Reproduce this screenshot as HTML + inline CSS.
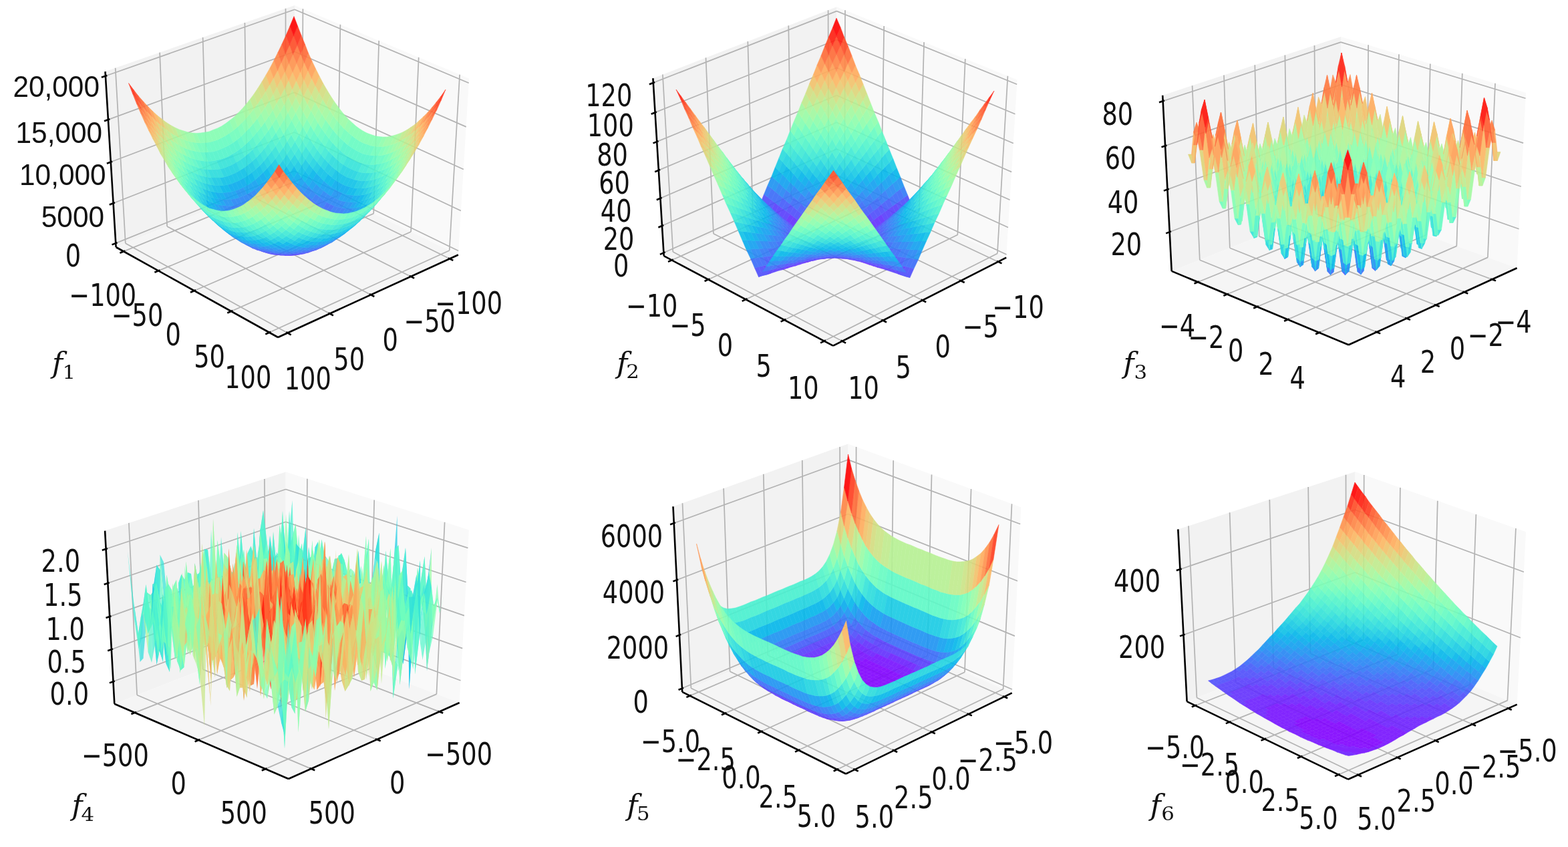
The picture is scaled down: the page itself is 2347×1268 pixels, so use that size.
<!DOCTYPE html><html><head><meta charset="utf-8"><style>
html,body{margin:0;padding:0;background:#fff}
svg{display:block}
.d{font-family:"DejaVu Sans","Liberation Sans",sans-serif;font-size:46.5px;text-anchor:middle;fill:#111}
.l{font-family:"Liberation Sans","DejaVu Sans",sans-serif;font-size:43.7px;text-anchor:middle;fill:#111}
.fi{font-family:"DejaVu Serif","Liberation Serif",serif;font-style:italic;font-size:43.4px;fill:#111}
.fs{font-family:"DejaVu Serif","Liberation Serif",serif;font-size:28.0px;text-anchor:middle;fill:#111}
.s path{stroke-width:1.1;stroke-linejoin:round}
.c0{fill:#8000ff;stroke:#8000ff}.c1{fill:#7610ff;stroke:#7610ff}.c2{fill:#6c1fff;stroke:#6c1fff}.c3{fill:#622ffe;stroke:#622ffe}.c4{fill:#583efd;stroke:#583efd}.c5{fill:#4e4dfc;stroke:#4e4dfc}.c6{fill:#445cfb;stroke:#445cfb}.c7{fill:#396bf9;stroke:#396bf9}.c8{fill:#3079f7;stroke:#3079f7}.c9{fill:#2686f5;stroke:#2686f5}.c10{fill:#1c93f3;stroke:#1c93f3}.c11{fill:#11a0f1;stroke:#11a0f1}.c12{fill:#08acee;stroke:#08acee}.c13{fill:#02b7eb;stroke:#02b7eb}.c14{fill:#0dc2e8;stroke:#0dc2e8}.c15{fill:#17cbe4;stroke:#17cbe4}.c16{fill:#20d5e1;stroke:#20d5e1}.c17{fill:#2adddd;stroke:#2adddd}.c18{fill:#34e4d9;stroke:#34e4d9}.c19{fill:#3febd5;stroke:#3febd5}.c20{fill:#48f1d0;stroke:#48f1d0}.c21{fill:#52f5cb;stroke:#52f5cb}.c22{fill:#5df9c7;stroke:#5df9c7}.c23{fill:#66fcc2;stroke:#66fcc2}.c24{fill:#70febc;stroke:#70febc}.c25{fill:#7affb7;stroke:#7affb7}.c26{fill:#84ffb2;stroke:#84ffb2}.c27{fill:#8efeac;stroke:#8efeac}.c28{fill:#99fca6;stroke:#99fca6}.c29{fill:#a2f9a0;stroke:#a2f9a0}.c30{fill:#acf59a;stroke:#acf59a}.c31{fill:#b6f193;stroke:#b6f193}.c32{fill:#c0eb8d;stroke:#c0eb8d}.c33{fill:#cbe486;stroke:#cbe486}.c34{fill:#d4dd80;stroke:#d4dd80}.c35{fill:#ded579;stroke:#ded579}.c36{fill:#e8cb72;stroke:#e8cb72}.c37{fill:#f2c26b;stroke:#f2c26b}.c38{fill:#fcb763;stroke:#fcb763}.c39{fill:#ffac5c;stroke:#ffac5c}.c40{fill:#ffa055;stroke:#ffa055}.c41{fill:#ff934d;stroke:#ff934d}.c42{fill:#ff8646;stroke:#ff8646}.c43{fill:#ff793e;stroke:#ff793e}.c44{fill:#ff6b37;stroke:#ff6b37}.c45{fill:#ff5c2f;stroke:#ff5c2f}.c46{fill:#ff4d27;stroke:#ff4d27}.c47{fill:#ff3e1f;stroke:#ff3e1f}.c48{fill:#ff2f18;stroke:#ff2f18}.c49{fill:#ff1f10;stroke:#ff1f10}.c50{fill:#ff1008;stroke:#ff1008}.c51{fill:#ff0000;stroke:#ff0000}
</style></head><body><svg width="2347" height="1268" viewBox="0 0 2347 1268" xmlns="http://www.w3.org/2000/svg">
<g id="p1"><path d="M440.4 261.7L173.6 370.0L157.5 107.1L441.0 8.0Z" fill="#f2f2f2"/>
<path d="M440.4 261.7L685.9 381.5L702.1 117.6L441.0 8.0Z" fill="#f9f9f9"/>
<path d="M440.4 261.7L173.6 370.0L416.1 505.0L685.9 381.5Z" fill="#f5f5f5"/>
<path d="M427.6 266.9L673.0 387.3M427.6 266.9L427.5 12.7M452.0 267.4L185.1 376.4M452.0 267.4L453.4 13.2M370.0 290.3L614.9 414.0M370.0 290.3L366.4 34.1M504.9 293.1L237.1 405.4M504.9 293.1L509.4 36.7M310.8 314.3L555.1 441.3M310.8 314.3L303.6 56.0M559.2 319.7L290.7 435.2M559.2 319.7L567.2 60.9M250.1 338.9L493.7 469.5M250.1 338.9L239.1 78.6M615.1 347.0L346.0 466.0M615.1 347.0L626.7 85.9M187.8 364.2L430.5 498.4M187.8 364.2L172.7 101.8M672.7 375.0L403.0 497.7M672.7 375.0L688.1 111.7M440.4 256.0L173.2 364.1M440.4 256.0L686.2 375.6M440.5 198.0L169.6 304.2M440.5 198.0L689.9 315.4M440.7 138.4L165.8 242.5M440.7 138.4L693.8 253.6M440.8 77.2L161.9 179.1M440.8 77.2L697.7 189.9M441.0 14.3L157.9 113.7M441.0 14.3L701.7 124.2" stroke="#b3b3b3" stroke-width="1.70" fill="none"/>
<path d="M173.6 370.0L416.1 505.0M685.9 381.5L416.1 505.0M173.6 370.0L157.5 107.1M187.3 375.5L179.4 378.7M670.9 386.3L678.3 389.9M239.4 404.4L231.4 407.8M612.8 412.9L620.1 416.6M293.0 434.3L285.0 437.7M553.0 440.2L560.3 444.0M348.3 465.0L340.3 468.5M491.6 468.3L498.9 472.3M405.3 496.7L397.3 500.4M428.4 497.2L435.7 501.3M167.5 366.4L175.5 363.2M163.8 306.5L171.9 303.3M159.9 244.8L168.1 241.7M156.0 181.2L164.3 178.2M151.9 115.8L160.3 112.9" stroke="#000" stroke-width="2.60" fill="none" stroke-linejoin="round"/>
<text class=l transform="translate(84.2 130.3) scale(0.970 1)" y="15.0">20,000</text>
<text class=l transform="translate(88.3 199.3) scale(0.970 1)" y="15.0">15,000</text>
<text class=l transform="translate(93.8 261.7) scale(0.970 1)" y="15.0">10,000</text>
<text class=l transform="translate(108.9 324.5) scale(0.970 1)" y="15.0">5000</text>
<text class=d transform="translate(109.4 381.9) scale(0.790 1)" y="16.9">0</text>
<text class=d transform="translate(153.8 440.9) scale(0.790 1)" y="16.9">−100</text>
<text class=d transform="translate(205.6 470.8) scale(0.790 1)" y="16.9">−50</text>
<text class=d transform="translate(259.2 500.4) scale(0.790 1)" y="16.9">0</text>
<text class=d transform="translate(313.5 532.7) scale(0.790 1)" y="16.9">50</text>
<text class=d transform="translate(371.2 564.5) scale(0.790 1)" y="16.9">100</text>
<text class=d transform="translate(460.7 566.1) scale(0.790 1)" y="16.9">100</text>
<text class=d transform="translate(522.7 536.8) scale(0.790 1)" y="16.9">50</text>
<text class=d transform="translate(584.2 508.2) scale(0.790 1)" y="16.9">0</text>
<text class=d transform="translate(643.2 479.9) scale(0.790 1)" y="16.9">−50</text>
<text class=d transform="translate(701.6 452.7) scale(0.790 1)" y="16.9">−100</text>
<text class=fi x="78.1" y="557.9">f</text>
<text class=fs transform="translate(103.4 566.6) scale(1.1 1)">1</text>
<g class="s" opacity="0.90" transform="scale(0.50)"><path class=c13 d="M858 498l-12 16 11 18 12-16z"/><path class=c12 d="M869 516l-12 16 11 17 12-17z"/><path class=c15 d="M870 480l-12 18 11 18 12-18zM847 479l-12 16 11 19 12-16z"/><path class=c13 d="M881 498l-12 18 11 16 11-17z"/><path class=c14 d="M835 495l-12 15 11 19 12-15z"/><path class=c16 d="M859 461l-12 18 11 19 12-18z"/><path class=c11 d="M880 532l-12 17 10 15 12-16z"/><path class=c16 d="M882 462l-12 18 11 18 12-18z"/><path class=c17 d="M836 458l-12 17 11 20 12-16z"/><path class=c12 d="M891 515l-11 17 10 16 12-18z"/><path class=c15 d="M893 480l-12 18 10 17 12-19z"/><path class=c13 d="M823 510l-12 14 11 19 12-14z"/><path class=c18 d="M871 443l-12 18 11 19 12-18z"/><path class=c15 d="M824 475l-12 15 11 20 12-15z"/><path class=c18 d="M848 441l-12 17 11 21 12-18z"/><path class=c14 d="M903 496l-12 19 11 15 12-18zM812 490l-12 13 11 21 12-14z"/><path class=c19 d="M860 422l-12 19 11 20 12-18z"/><path class=c10 d="M890 548l-12 16 11 14 12-16z"/><path class=c18 d="M894 442l-12 20 11 18 11-20zM825 437l-12 16 11 22 12-17z"/><path class=c11 d="M902 530l-12 18 11 14 12-17z"/><path class=c17 d="M904 460l-11 20 10 16 12-19z"/><path class=c12 d="M811 524l-12 12 11 19 12-12z"/><path class=c19 d="M883 423l-12 20 11 19 12-20z"/><path class=c17 d="M813 453l-12 15 11 22 12-15z"/><path class=c20 d="M837 419l-12 18 11 21 12-17z"/><path class=c13 d="M914 512l-12 18 11 15 12-19z"/><path class=c15 d="M915 477l-12 19 11 16 12-20z"/><path class=c13 d="M800 503l-12 13 11 20 12-12z"/><path class=c16 d="M801 468l-11 14 10 21 12-13z"/><path class=c21 d="M872 403l-12 19 11 21 12-20zM849 401l-12 18 11 22 12-19z"/><path class=c9 d="M901 562l-12 16 11 13 12-16z"/><path class=c20 d="M906 421l-12 21 10 18 12-21z"/><path class=c10 d="M913 545l-12 17 11 13 12-17z"/><path class=c20 d="M814 414l-11 16 10 23 12-16z"/><path class=c11 d="M799 536l-12 12 11 19 12-12z"/><path class=c18 d="M916 439l-12 21 11 17 12-22z"/><path class=c21 d="M895 402l-12 21 11 19 12-21z"/><path class=c14 d="M926 492l-12 20 11 14 12-20z"/><path class=c19 d="M803 430l-12 15 10 23 12-15z"/><path class=c21 d="M826 397l-12 17 11 23 12-18z"/><path class=c15 d="M790 482l-12 13 10 21 12-13z"/><path class=c23 d="M861 381l-12 20 11 21 12-19z"/><path class=c12 d="M925 526l-12 19 11 13 12-19z"/><path class=c17 d="M927 455l-12 22 11 15 12-21z"/><path class=c12 d="M788 516l-12 11 11 21 12-12z"/><path class=c23 d="M884 381l-12 22 11 20 12-21z"/><path class=c18 d="M791 445l-12 14 11 23 11-14z"/><path class=c23 d="M838 378l-12 19 11 22 12-18z"/><path class=c8 d="M912 575l-12 16 11 12 12-16z"/><path class=c13 d="M937 506l-12 20 11 13 12-20z"/><path class=c16 d="M938 471l-12 21 11 14 12-21z"/><path class=c9 d="M924 558l-12 17 11 12 12-17z"/><path class=c21 d="M918 399l-12 22 10 18 12-23z"/><path class=c14 d="M778 495l-12 11 10 21 12-11z"/><path class=c17 d="M779 459l-12 13 11 23 12-13z"/><path class=c24 d="M873 360l-12 21 11 22 12-22z"/><path class=c25 d="M850 358l-12 20 11 23 12-20z"/><path class=c22 d="M804 390l-12 16 11 24 11-16z"/><path class=c10 d="M787 548l-12 10 11 19 12-10z"/><path class=c20 d="M928 416l-12 23 11 16 12-22z"/><path class=c23 d="M907 379l-12 23 11 19 12-22z"/><path class=c21 d="M792 406l-12 15 11 24 12-15z"/><path class=c23 d="M815 373l-11 17 10 24 12-17z"/><path class=c11 d="M936 539l-12 19 11 12 12-19z"/><path class=c19 d="M939 433l-12 22 11 16 12-22z"/><path class=c12 d="M776 527l-12 11 11 20 12-10z"/><path class=c25 d="M896 359l-12 22 11 21 12-23z"/><path class=c20 d="M780 421l-12 14 11 24 12-14z"/><path class=c25 d="M827 354l-12 19 11 24 12-19z"/><path class=c15 d="M949 485l-12 21 11 13 12-21z"/><path class=c16 d="M767 472l-12 11 11 23 12-11z"/><path class=c26 d="M862 337l-12 21 11 23 12-21z"/><path class=c12 d="M948 519l-12 20 11 12 12-20z"/><path class=c18 d="M950 449l-12 22 11 14 12-22z"/><path class=c14 d="M766 506l-12 10 10 22 12-11z"/><path class=c19 d="M768 435l-12 13 11 24 12-13z"/><path class=c26 d="M885 337l-12 23 11 21 12-22z"/><path class=c7 d="M923 587l-12 16 11 11 12-16z"/><path class=c27 d="M839 334l-12 20 11 24 12-20z"/><path class=c9 d="M935 570l-12 17 11 11 12-17z"/><path class=c23 d="M930 375l-12 24 10 17 12-23z"/><path class=c10 d="M775 558l-12 9 11 19 12-9z"/><path class=c24 d="M793 365l-12 16 11 25 12-16z"/><path class=c22 d="M940 393l-12 23 11 17 12-23z"/><path class=c25 d="M919 356l-12 23 11 20 12-24z"/><path class=c23 d="M781 381l-12 15 11 25 12-15z"/><path class=c26 d="M805 347l-12 18 11 25 11-17z"/><path class=c10 d="M947 551l-12 19 11 11 12-19z"/><path class=c21 d="M951 410l-12 23 11 16 12-24z"/><path class=c11 d="M764 538l-12 9 11 20 12-9z"/><path class=c14 d="M960 498l-12 21 11 12 12-21z"/><path class=c17 d="M961 463l-12 22 11 13 12-22z"/><path class=c27 d="M908 335l-12 24 11 20 12-23z"/><path class=c22 d="M769 396l-12 14 11 25 12-14z"/><path class=c27 d="M817 329l-12 18 10 26 12-19z"/><path class=c15 d="M755 483l-12 10 11 23 12-10z"/><path class=c18 d="M756 448l-12 11 11 24 12-11z"/><path class=c28 d="M874 315l-12 22 11 23 12-23zM851 313l-12 21 11 24 12-21z"/><path class=c12 d="M959 531l-12 20 11 11 12-20z"/><path class=c20 d="M962 425l-12 24 11 14 12-24z"/><path class=c13 d="M754 516l-12 9 10 22 12-9z"/><path class=c28 d="M897 314l-12 23 11 22 12-24z"/><path class=c21 d="M757 410l-12 13 11 25 12-13z"/><path class=c29 d="M828 309l-11 20 10 25 12-20z"/><path class=c7 d="M934 598l-12 16 11 10 12-16z"/><path class=c8 d="M946 581l-12 17 11 10 12-18z"/><path class=c26 d="M942 350l-12 25 10 18 12-25z"/><path class=c16 d="M972 476l-12 22 11 12 12-22z"/><path class=c9 d="M763 567l-12 8 11 19 12-8z"/><path class=c24 d="M952 368l-12 25 11 17 12-25z"/><path class=c27 d="M782 338l-12 17 11 26 12-16zM931 331l-12 25 11 19 12-25z"/><path class=c17 d="M744 459l-12 10 11 24 12-10z"/><path class=c30 d="M863 291l-12 22 11 24 12-22z"/><path class=c14 d="M971 510l-12 21 11 11 12-21z"/><path class=c25 d="M770 355l-12 15 11 26 12-15z"/><path class=c28 d="M794 321l-12 17 11 27 12-18z"/><path class=c19 d="M973 439l-12 24 11 13 12-23z"/><path class=c10 d="M958 562l-12 19 11 9 12-19z"/><path class=c15 d="M743 493l-12 9 11 23 12-9z"/><path class=c20 d="M745 423l-12 11 11 25 12-11z"/><path class=c11 d="M752 547l-12 8 11 20 12-8z"/><path class=c30 d="M886 291l-12 24 11 22 12-23z"/><path class=c23 d="M963 385l-12 25 11 15 12-25z"/><path class=c30 d="M840 288l-12 21 11 25 12-21z"/><path class=c29 d="M920 311l-12 24 11 21 12-25z"/><path class=c24 d="M758 370l-12 14 11 26 12-14z"/><path class=c29 d="M806 302l-12 19 11 26 12-18z"/><path class=c11 d="M970 542l-12 20 11 9 12-19z"/><path class=c22 d="M974 400l-12 25 11 14 12-24z"/><path class=c13 d="M742 525l-13 8 11 22 12-8z"/><path class=c30 d="M909 289l-12 25 11 21 12-24z"/><path class=c23 d="M746 384l-12 12 11 27 12-13z"/><path class=c31 d="M818 282l-12 20 11 27 11-20z"/><path class=c15 d="M983 488l-12 22 11 11 12-22z"/><path class=c18 d="M984 453l-12 23 11 12 12-24z"/><path class=c17 d="M732 469l-12 9 11 24 12-9z"/><path class=c20 d="M733 434l-12 10 11 25 12-10z"/><path class=c32 d="M875 267l-12 24 11 24 12-24zM852 265l-12 23 11 25 12-22z"/><path class=c6 d="M945 608l-12 16 11 8 12-16z"/><path class=c8 d="M957 590l-12 18 11 8 12-17z"/><path class=c13 d="M982 521l-12 21 11 10 12-21z"/><path class=c28 d="M954 324l-12 26 10 18 12-26z"/><path class=c21 d="M985 415l-12 24 11 14 12-25z"/><path class=c9 d="M751 575l-12 7 11 19 12-7z"/><path class=c27 d="M964 342l-12 26 11 17 12-26z"/><path class=c14 d="M731 502l-13 8 11 23 13-8z"/><path class=c29 d="M771 311l-12 16 11 28 12-17zM943 305l-12 26 11 19 12-26z"/><path class=c23 d="M734 396l-12 12 11 26 12-11z"/><path class=c32 d="M898 266l-12 25 11 23 12-25z"/><path class=c28 d="M759 327l-12 15 11 28 12-15z"/><path class=c33 d="M829 261l-11 21 10 27 12-21z"/><path class=c30 d="M783 293l-12 18 11 27 12-17z"/><path class=c9 d="M969 571l-12 19 11 9 12-19z"/><path class=c11 d="M740 555l-12 6 11 21 12-7z"/><path class=c25 d="M975 359l-12 26 11 15 12-26z"/><path class=c31 d="M932 284l-12 27 11 20 12-26z"/><path class=c27 d="M747 342l-12 14 11 28 12-14z"/><path class=c32 d="M795 274l-12 19 11 28 12-19z"/><path class=c17 d="M995 464l-12 24 11 11 12-24z"/><path class=c11 d="M981 552l-12 19 11 9 12-20z"/><path class=c19 d="M721 444l-12 9 11 25 12-9z"/><path class=c24 d="M986 374l-12 26 11 15 12-26z"/><path class=c15 d="M994 499l-12 22 11 10 12-23z"/><path class=c12 d="M729 533l-12 7 11 21 12-6z"/><path class=c34 d="M864 241l-12 24 11 26 12-24z"/><path class=c20 d="M996 428l-12 25 11 11 12-24z"/><path class=c33 d="M921 263l-12 26 11 22 12-27z"/><path class=c26 d="M735 356l-12 12 11 28 12-12z"/><path class=c17 d="M720 478l-13 8 11 24 13-8z"/><path class=c33 d="M807 254l-12 20 11 28 12-20z"/><path class=c22 d="M722 408l-12 10 11 26 12-10z"/><path class=c34 d="M887 242l-12 25 11 24 12-25z"/><path class=c35 d="M841 238l-12 23 11 27 12-23z"/><path class=c13 d="M993 531l-12 21 11 8 12-21z"/><path class=c6 d="M956 616l-12 16 11 8 12-17z"/><path class=c23 d="M997 389l-12 26 11 13 12-26z"/><path class=c14 d="M718 510l-12 7 11 23 12-7z"/><path class=c8 d="M968 599l-12 17 11 7 12-17z"/><path class=c35 d="M910 240l-12 26 11 23 12-26z"/><path class=c25 d="M723 368l-12 12 11 28 12-12z"/><path class=c30 d="M966 297l-12 27 10 18 13-27z"/><path class=c35 d="M819 233l-12 21 11 28 11-21z"/><path class=c9 d="M739 582l-12 5 11 19 12-5z"/><path class=c29 d="M977 315l-13 27 11 17 13-28z"/><path class=c32 d="M760 282l-12 16 11 29 12-16zM955 277l-12 28 11 19 12-27z"/><path class=c30 d="M748 298l-12 15 11 29 12-15z"/><path class=c9 d="M980 580l-12 19 11 7 12-19z"/><path class=c33 d="M772 264l-12 18 11 29 12-18z"/><path class=c17 d="M1006 475l-12 24 11 9 12-23z"/><path class=c20 d="M1007 440l-12 24 11 11 12-25z"/><path class=c10 d="M728 561l-12 6 11 20 12-5z"/><path class=c28 d="M988 331l-13 28 11 15 12-27z"/><path class=c19 d="M709 453l-13 8 11 25 13-8z"/><path class=c33 d="M944 257l-12 27 11 21 12-28z"/><path class=c21 d="M710 418l-12 9 11 26 12-9z"/><path class=c37 d="M876 216l-12 25 11 26 12-25z"/><path class=c29 d="M736 313l-12 14 11 29 12-14z"/><path class=c37 d="M853 215l-12 23 11 27 12-24z"/><path class=c34 d="M784 245l-12 19 11 29 12-19z"/><path class=c14 d="M1005 508l-12 23 11 8 12-22z"/><path class=c23 d="M1008 402l-12 26 11 12 12-26z"/><path class=c11 d="M992 560l-12 20 11 7 12-20z"/><path class=c16 d="M707 486l-12 7 11 24 12-7z"/><path class=c27 d="M998 347l-12 27 11 15 12-28z"/><path class=c12 d="M717 540l-12 5 11 22 12-6z"/><path class=c24 d="M711 380l-12 10 11 28 12-10z"/><path class=c37 d="M899 216l-12 26 11 24 12-26zM831 211l-12 22 10 28 12-23z"/><path class=c35 d="M933 235l-12 28 11 21 12-27z"/><path class=c28 d="M724 327l-12 12 11 29 12-12z"/><path class=c36 d="M796 225l-12 20 11 29 12-20z"/><path class=c12 d="M1004 539l-12 21 11 7 12-21z"/><path class=c26 d="M1009 361l-12 28 11 13 12-28z"/><path class=c19 d="M1018 450l-12 25 11 10 12-25z"/><path class=c14 d="M706 517l-12 5 11 23 12-5z"/><path class=c37 d="M922 212l-12 28 11 23 12-28z"/><path class=c6 d="M967 623l-12 17 11 6 12-17z"/><path class=c28 d="M712 339l-12 12 11 29 12-12z"/><path class=c38 d="M808 204l-12 21 11 29 12-21z"/><path class=c21 d="M698 427l-13 8 11 26 13-8z"/><path class=c17 d="M1017 485l-12 23 11 9 12-24z"/><path class=c7 d="M979 606l-12 17 11 6 12-17z"/><path class=c22 d="M1019 414l-12 26 11 10 12-26z"/><path class=c7 d="M738 606l-12 5 11 18 12-5z"/><path class=c39 d="M865 190l-12 25 11 26 12-25z"/><path class=c33 d="M978 268l-12 29 11 18 12-29z"/><path class=c18 d="M696 461l-12 7 11 25 12-7z"/><path class=c9 d="M727 587l-12 5 11 19 12-5z"/><path class=c24 d="M699 390l-13 9 12 28 12-9z"/><path class=c32 d="M989 286l-12 29 11 16 12-28z"/><path class=c39 d="M888 190l-12 26 11 26 12-26z"/><path class=c34 d="M967 249l-12 28 11 20 12-29z"/><path class=c39 d="M842 187l-11 24 10 27 12-23z"/><path class=c9 d="M991 587l-12 19 11 6 12-19z"/><path class=c10 d="M716 567l-12 4 11 21 12-5z"/><path class=c30 d="M1000 303l-12 28 10 16 13-29z"/><path class=c14 d="M1016 517l-12 22 11 7 12-22z"/><path class=c36 d="M956 228l-12 29 11 20 12-28z"/><path class=c25 d="M1020 374l-12 28 11 12 12-28z"/><path class=c16 d="M695 493l-12 5 11 24 12-5z"/><path class=c27 d="M700 351l-13 10 12 29 12-10z"/><path class=c39 d="M911 188l-12 28 11 24 12-28z"/><path class=c10 d="M1003 567l-12 20 11 6 12-20z"/><path class=c40 d="M820 181l-12 23 11 29 12-22z"/><path class=c12 d="M705 545l-12 5 11 21 12-4z"/><path class=c29 d="M1011 318l-13 29 11 14 13-28z"/><path class=c38 d="M945 206l-12 29 11 22 12-29z"/><path class=c19 d="M1029 460l-12 25 11 8 12-25z"/><path class=c21 d="M1030 424l-12 26 11 10 12-26zM685 435l-12 6 11 27 12-7z"/><path class=c23 d="M686 399l-12 8 11 28 13-8z"/><path class=c12 d="M1015 546l-12 21 11 6 12-21z"/><path class=c41 d="M877 163l-12 27 11 26 12-26zM854 162l-12 25 11 28 12-25z"/><path class=c16 d="M1028 493l-12 24 11 7 12-24z"/><path class=c28 d="M1022 333l-13 28 11 13 13-28z"/><path class=c14 d="M694 522l-12 5 11 23 12-5z"/><path class=c24 d="M1031 386l-12 28 11 10 13-27z"/><path class=c40 d="M934 183l-12 29 11 23 12-29z"/><path class=c18 d="M684 468l-12 5 11 25 12-5z"/><path class=c26 d="M687 361l-12 9 11 29 13-9z"/><path class=c41 d="M900 162l-12 28 11 26 12-28z"/><path class=c42 d="M832 157l-12 24 11 30 11-24z"/><path class=c7 d="M990 612l-12 17 11 5 12-17z"/><path class=c8 d="M726 611l-12 3 11 18 12-3z"/><path class=c9 d="M715 592l-12 3 11 19 12-3zM1002 593l-12 19 11 5 12-19z"/><path class=c14 d="M1027 524l-12 22 11 6 12-22z"/><path class=c28 d="M1033 346l-13 28 11 12 13-28z"/><path class=c11 d="M704 571l-12 3 11 21 12-3z"/><path class=c16 d="M683 498l-12 5 11 24 12-5z"/><path class=c42 d="M923 159l-12 29 11 24 12-29z"/><path class=c21 d="M1041 434l-12 26 11 8 13-26z"/><path class=c10 d="M1014 573l-12 20 11 5 12-20z"/><path class=c18 d="M1040 468l-12 25 11 7 13-25z"/><path class=c23 d="M674 407l-12 6 11 28 12-6z"/><path class=c24 d="M1043 397l-13 27 11 10 13-28z"/><path class=c43 d="M867 135l-13 27 11 28 12-27z"/><path class=c12 d="M693 550l-12 3 11 21 12-3z"/><path class=c21 d="M673 441l-12 5 11 27 12-5z"/><path class=c26 d="M675 370l-12 8 11 29 12-8z"/><path class=c43 d="M890 136l-13 27 11 27 12-28z"/><path class=c44 d="M844 132l-12 25 10 30 12-25z"/><path class=c16 d="M1039 500l-12 24 11 6 13-24z"/><path class=c12 d="M1026 552l-12 21 11 5 12-21z"/><path class=c27 d="M1044 358l-13 28 12 11 12-29z"/><path class=c18 d="M672 473l-12 4 11 26 12-5z"/><path class=c14 d="M682 527l-12 3 11 23 12-3z"/><path class=c44 d="M913 133l-13 29 11 26 12-29z"/><path class=c8 d="M1001 617l-12 17 11 4 12-18zM714 614l-13 2 11 18 13-2z"/><path class=c21 d="M1053 442l-13 26 12 7 12-26z"/><path class=c23 d="M1054 406l-13 28 12 8 12-27z"/><path class=c14 d="M1038 530l-12 22 11 5 13-23z"/><path class=c9 d="M703 595l-13 2 11 19 13-2z"/><path class=c23 d="M662 413l-12 6 11 27 12-5z"/><path class=c9 d="M1013 598l-12 19 11 3 12-18z"/><path class=c26 d="M663 378l-12 6 11 29 12-6z"/><path class=c16 d="M671 503l-12 3 11 24 12-3z"/><path class=c46 d="M879 107l-12 28 10 28 13-27zM856 106l-12 26 10 30 13-27z"/><path class=c18 d="M1052 475l-13 25 12 6 12-25z"/><path class=c11 d="M692 574l-13 2 11 21 13-2z"/><path class=c26 d="M1055 368l-12 29 11 9 12-28z"/><path class=c21 d="M661 446l-12 5 11 26 12-4z"/><path class=c46 d="M902 106l-12 30 10 26 13-29z"/><path class=c11 d="M1025 578l-12 20 11 4 12-20z"/><path class=c13 d="M681 553l-13 2 11 21 13-2z"/><path class=c16 d="M1051 506l-13 24 12 4 12-23z"/><path class=c18 d="M660 477l-13 3 12 26 12-3z"/><path class=c12 d="M1037 557l-12 21 11 4 13-22z"/><path class=c14 d="M670 530l-13 2 11 23 13-2z"/><path class=c23 d="M1065 415l-12 27 11 7 12-27z"/><path class=c21 d="M1064 449l-12 26 11 6 12-26z"/><path class=c26 d="M651 384l-13 5 12 30 12-6zM1066 378l-12 28 11 9 12-29z"/><path class=c48 d="M868 78l-12 28 11 29 12-28z"/><path class=c23 d="M650 419l-13 4 12 28 12-5z"/><path class=c48 d="M891 78l-12 29 11 29 12-30z"/><path class=c14 d="M1050 534l-13 23 12 3 12-22z"/><path class=c8 d="M1012 620l-12 18 11 3 13-18zM701 616l-12 1 11 18 12-1z"/><path class=c18 d="M1063 481l-12 25 11 5 12-25z"/><path class=c17 d="M659 506l-13 1 11 25 13-2z"/><path class=c10 d="M690 597l-12 0 11 20 12-1z"/><path class=c21 d="M649 451l-13 3 11 26 13-3z"/><path class=c9 d="M1024 602l-12 18 12 3 12-19z"/><path class=c11 d="M679 576l-12 1 11 20 12 0zM1036 582l-12 20 12 2 12-20z"/><path class=c13 d="M668 555l-12 0 11 22 12-1z"/><path class=c16 d="M1062 511l-12 23 11 4 12-24z"/><path class=c23 d="M1076 422l-12 27 11 6 12-27z"/><path class=c26 d="M1077 386l-12 29 11 7 12-29z"/><path class=c19 d="M647 480l-12 2 11 25 13-1z"/><path class=c26 d="M638 389l-12 5 11 29 13-4z"/><path class=c13 d="M1049 560l-13 22 12 2 12-21z"/><path class=c51 d="M880 49l-12 29 11 29 12-29z"/><path class=c21 d="M1075 455l-12 26 11 5 12-26z"/><path class=c15 d="M657 532l-12 0 11 23 12 0z"/><path class=c23 d="M637 423l-12 3 11 28 13-3z"/><path class=c18 d="M1074 486l-12 25 11 3 12-25z"/><path class=c14 d="M1061 538l-12 22 11 3 12-23z"/><path class=c21 d="M636 454l-12 1 11 27 12-2z"/><path class=c17 d="M646 507l-12 1 11 24 12 0z"/><path class=c8 d="M1024 623l-13 18 12 1 12-18z"/><path class=c9 d="M689 617l-12-1 11 19 12 0z"/><path class=c10 d="M678 597l-12 0 11 19 12 1zM1036 604l-12 19 11 1 12-19z"/><path class=c26 d="M1088 393l-12 29 11 6 13-29z"/><path class=c12 d="M667 577l-13 0 12 20 12 0z"/><path class=c23 d="M1087 428l-12 27 11 5 13-28z"/><path class=c11 d="M1048 584l-12 20 11 1 12-20z"/><path class=c26 d="M626 394l-12 2 11 30 12-3z"/><path class=c17 d="M1073 514l-12 24 11 2 12-23z"/><path class=c14 d="M656 555l-13 0 11 22 13 0z"/><path class=c19 d="M635 482l-13 1 12 25 12-1z"/><path class=c21 d="M1086 460l-12 26 11 3 13-26z"/><path class=c23 d="M625 426l-13 1 12 28 12-1z"/><path class=c13 d="M1060 563l-12 21 11 1 12-21z"/><path class=c15 d="M645 532l-13 0 11 23 13 0z"/><path class=c19 d="M1085 489l-12 25 11 3 13-25z"/><path class=c21 d="M624 455l-13 1 11 27 13-1z"/><path class=c15 d="M1072 540l-12 23 11 1 13-22z"/><path class=c26 d="M1100 399l-13 29 12 4 12-29z"/><path class=c17 d="M634 508l-13-1 11 25 13 0z"/><path class=c23 d="M1099 432l-13 28 12 3 12-27z"/><path class=c9 d="M1035 624l-12 18 11 0 12-18zM677 616l-13-1 11 18 13 2z"/><path class=c11 d="M666 597l-13-2 11 20 13 1z"/><path class=c26 d="M614 396l-13 2 11 29 13-1z"/><path class=c10 d="M1047 605l-12 19 11 0 12-18z"/><path class=c12 d="M654 577l-12-2 11 20 13 2z"/><path class=c17 d="M1084 517l-12 23 12 2 12-24z"/><path class=c21 d="M1098 463l-13 26 12 3 12-27z"/><path class=c12 d="M1059 585l-12 20 11 1 13-21z"/><path class=c20 d="M622 483l-12-1 11 25 13 1z"/><path class=c24 d="M612 427l-12 1 11 28 13-1z"/><path class=c14 d="M643 555l-12-2 11 22 12 2zM1071 564l-12 21 12 0 12-21z"/><path class=c16 d="M632 532l-12-2 11 23 12 2z"/><path class=c26 d="M1111 403l-12 29 11 4 13-29z"/><path class=c19 d="M1097 492l-13 25 12 1 12-25z"/><path class=c22 d="M611 456l-12-1 11 27 12 1z"/><path class=c15 d="M1084 542l-13 22 12 0 12-23z"/><path class=c23 d="M1110 436l-12 27 11 2 13-27z"/><path class=c18 d="M621 507l-13-1 12 24 12 2z"/><path class=c26 d="M601 398l-13 1 12 29 12-1z"/><path class=c9 d="M1046 624l-12 18 12-1 12-18z"/><path class=c10 d="M664 615l-13-3 12 18 12 3z"/><path class=c9 d="M675 633l-12-3 11 17 12 3z"/><path class=c12 d="M653 595l-13-2 11 19 13 3z"/><path class=c11 d="M1058 606l-12 18 12-1 12-19z"/><path class=c21 d="M1109 465l-12 27 11 1 13-27z"/><path class=c17 d="M1096 518l-12 24 11-1 13-23z"/><path class=c13 d="M642 575l-13-3 11 21 13 2z"/><path class=c24 d="M600 428l-13-1 12 28 12 1z"/><path class=c20 d="M610 482l-13-2 11 26 13 1z"/><path class=c12 d="M1071 585l-13 21 12-2 12-20z"/><path class=c15 d="M631 553l-13-3 11 22 13 3z"/><path class=c26 d="M1123 407l-13 29 12 2 12-29z"/><path class=c14 d="M1083 564l-12 21 11-1 12-21z"/><path class=c20 d="M1108 493l-12 25 12 0 12-25z"/><path class=c17 d="M620 530l-13-3 11 23 13 3z"/><path class=c23 d="M599 455l-13-2 11 27 13 2z"/><path class=c24 d="M1122 438l-13 27 12 1 12-27z"/><path class=c27 d="M588 399l-12-1 11 29 13 1z"/><path class=c16 d="M1095 541l-12 23 11-1 13-23z"/><path class=c19 d="M608 506l-12-3 11 24 13 3z"/><path class=c22 d="M1121 466l-13 27 12 0 12-27z"/><path class=c10 d="M1058 623l-12 18 11-2 12-18z"/><path class=c11 d="M651 612l-12-4 11 18 13 4z"/><path class=c10 d="M663 630l-13-4 11 17 13 4z"/><path class=c13 d="M640 593l-12-4 11 19 12 4z"/><path class=c18 d="M1108 518l-13 23 12-1 12-24z"/><path class=c25 d="M587 427l-13-2 12 28 13 2z"/><path class=c12 d="M1070 604l-12 19 11-2 13-19z"/><path class=c21 d="M597 480l-13-3 12 26 12 3z"/><path class=c14 d="M629 572l-12-4 11 21 12 4z"/><path class=c26 d="M1134 409l-12 29 11 1 13-29z"/><path class=c13 d="M1082 584l-12 20 12-2 12-20z"/><path class=c16 d="M618 550l-13-4 12 22 12 4z"/><path class=c15 d="M1094 563l-12 21 12-2 12-22z"/><path class=c20 d="M1120 493l-12 25 11-2 13-25z"/><path class=c24 d="M1133 439l-12 27 11 0 13-27z"/><path class=c18 d="M607 527l-13-4 11 23 13 4z"/><path class=c23 d="M586 453l-13-3 11 27 13 3z"/><path class=c28 d="M576 398l-13-2 11 29 13 2z"/><path class=c17 d="M1107 540l-13 23 12-3 12-22z"/><path class=c20 d="M596 503l-13-5 11 25 13 4z"/><path class=c23 d="M1132 466l-12 27 12-2 12-26z"/><path class=c26 d="M574 425l-12-3 11 28 13 3z"/><path class=c11 d="M1069 621l-12 18 12-4 12-17z"/><path class=c19 d="M1119 516l-12 24 11-2 13-24z"/><path class=c27 d="M1146 410l-13 29 12 0 13-29z"/><path class=c12 d="M639 608l-13-5 11 18 13 5z"/><path class=c11 d="M650 626l-13-5 11 17 13 5z"/><path class=c14 d="M628 589l-13-6 11 20 13 5z"/><path class=c13 d="M1082 602l-13 19 12-3 12-20z"/><path class=c22 d="M584 477l-12-4 11 25 13 5z"/><path class=c15 d="M617 568l-13-6 11 21 13 6z"/><path class=c14 d="M1094 582l-12 20 11-4 12-20z"/><path class=c17 d="M605 546l-12-6 11 22 13 6z"/><path class=c25 d="M1145 439l-13 27 12-1 13-28z"/><path class=c21 d="M1132 491l-13 25 12-2 12-25z"/><path class=c16 d="M1106 560l-12 22 11-4 13-21z"/><path class=c28 d="M563 396l-13-4 12 30 12 3z"/><path class=c24 d="M573 450l-13-4 12 27 12 4z"/><path class=c19 d="M594 523l-13-6 12 23 12 6z"/><path class=c18 d="M1118 538l-12 22 12-3 12-23z"/><path class=c21 d="M583 498l-13-5 11 24 13 6z"/><path class=c23 d="M1144 465l-12 26 11-2 13-27z"/><path class=c27 d="M562 422l-13-5 11 29 13 4z"/><path class=c28 d="M1158 410l-13 29 12-2 12-29z"/><path class=c20 d="M1131 514l-13 24 12-4 13-24z"/><path class=c12 d="M1081 618l-12 17 11-4 13-18z"/><path class=c13 d="M626 603l-13-7 11 19 13 6z"/><path class=c23 d="M572 473l-13-6 11 26 13 5z"/><path class=c12 d="M637 621l-13-6 11 17 13 6z"/><path class=c15 d="M615 583l-13-6 11 19 13 7z"/><path class=c14 d="M1093 598l-12 20 12-5 12-19z"/><path class=c17 d="M604 562l-13-6 11 21 13 6z"/><path class=c15 d="M1105 578l-12 20 12-4 12-21z"/><path class=c26 d="M1157 437l-13 28 12-3 13-28z"/><path class=c18 d="M593 540l-13-6 11 22 13 6z"/><path class=c22 d="M1143 489l-12 25 12-4 12-25z"/><path class=c29 d="M550 392l-13-4 12 29 13 5z"/><path class=c25 d="M560 446l-13-6 12 27 13 6z"/><path class=c17 d="M1118 557l-13 21 12-5 13-21z"/><path class=c20 d="M581 517l-13-7 12 24 13 6z"/><path class=c19 d="M1130 534l-12 23 12-5 12-23z"/><path class=c24 d="M1156 462l-13 27 12-4 13-27z"/><path class=c22 d="M570 493l-13-7 11 24 13 7z"/><path class=c28 d="M1169 408l-12 29 12-3 12-29zM549 417l-13-5 11 28 13 6z"/><path class=c21 d="M1143 510l-13 24 12-5 13-24z"/><path class=c24 d="M559 467l-14-7 12 26 13 7z"/><path class=c13 d="M1093 613l-13 18 12-6 12-18z"/><path class=c15 d="M613 596l-13-8 11 19 13 8z"/><path class=c13 d="M624 615l-13-8 12 17 12 8z"/><path class=c16 d="M602 577l-13-8 11 19 13 8z"/><path class=c15 d="M1105 594l-12 19 11-6 13-19z"/><path class=c27 d="M1169 434l-13 28 12-4 13-28z"/><path class=c18 d="M591 556l-13-8 11 21 13 8z"/><path class=c30 d="M537 388l-13-6 12 30 13 5z"/><path class=c17 d="M1117 573l-12 21 12-6 12-21z"/><path class=c23 d="M1155 485l-12 25 12-5 12-25z"/><path class=c20 d="M580 534l-14-8 12 22 13 8z"/><path class=c27 d="M547 440l-13-7 11 27 14 7z"/><path class=c18 d="M1130 552l-13 21 12-6 13-21z"/><path class=c21 d="M568 510l-13-8 11 24 14 8z"/><path class=c29 d="M1181 405l-12 29 12-4 12-29z"/><path class=c3 d="M877 764l-12 1 11-1 12-1z"/><path class=c20 d="M1142 529l-12 23 12-6 12-23z"/><path class=c25 d="M1168 458l-13 27 12-5 13-27z"/><path class=c23 d="M557 486l-13-8 11 24 13 8z"/><path class=c29 d="M536 412l-14-8 12 29 13 7z"/><path class=c3 d="M900 761l-12 2 11-2 13-2z"/><path class=c22 d="M1155 505l-13 24 12-6 13-24z"/><path class=c26 d="M545 460l-13-8 12 26 13 8z"/><path class=c15 d="M1104 607l-12 18 12-8 12-17z"/><path class=c28 d="M1181 430l-13 28 12-5 13-28z"/><path class=c16 d="M600 588l-13-9 11 19 13 9z"/><path class=c15 d="M611 607l-13-9 11 17 14 9z"/><path class=c18 d="M589 569l-13-9 11 19 13 9z"/><path class=c16 d="M1117 588l-13 19 12-7 13-20z"/><path class=c32 d="M524 382l-13-7 11 29 14 8z"/><path class=c19 d="M578 548l-13-9 11 21 13 9z"/><path class=c24 d="M1167 480l-12 25 12-6 12-26z"/><path class=c18 d="M1129 567l-12 21 12-8 12-20z"/><path class=c3 d="M865 765l-13 0 12-1 12 0z"/><path class=c4 d="M818 762l-13-3 12 2 12 2z"/><path class=c28 d="M534 433l-13-8 11 27 13 8z"/><path class=c21 d="M566 526l-13-9 12 22 13 9z"/><path class=c20 d="M1142 546l-13 21 12-7 13-22z"/><path class=c4 d="M888 763l-12 1 11-2 12-1zM794 756l-12-4 11 3 12 4z"/><path class=c23 d="M555 502l-13-9 11 24 13 9z"/><path class=c30 d="M1193 401l-12 29 12-5 12-29z"/><path class=c27 d="M1180 453l-13 27 12-7 13-27z"/><path class=c21 d="M1154 523l-12 23 12-8 12-23z"/><path class=c4 d="M912 759l-13 2 12-3 12-2z"/><path class=c30 d="M522 404l-13-8 12 29 13 8z"/><path class=c25 d="M544 478l-14-10 12 25 13 9z"/><path class=c23 d="M1167 499l-13 24 12-8 13-24z"/><path class=c27 d="M532 452l-13-10 11 26 14 10z"/><path class=c6 d="M971 737l-12 6 11-6 12-6z"/><path class=c4 d="M852 765l-12-1 11-1 13 1zM829 763l-12-2 11 0 12 3z"/><path class=c29 d="M1193 425l-13 28 12-7 13-28z"/><path class=c5 d="M935 752l-12 4 11-5 13-3z"/><path class=c6 d="M747 738l-12-6 11 5 12 7z"/><path class=c16 d="M1116 600l-12 17 12-8 12-18z"/><path class=c4 d="M876 764l-12 0 11-2 12 0z"/><path class=c33 d="M511 375l-14-9 12 30 13 8z"/><path class=c5 d="M805 759l-12-4 11 2 13 4z"/><path class=c18 d="M587 579l-13-10 11 19 13 10z"/><path class=c17 d="M598 598l-13-10 11 17 13 10z"/><path class=c19 d="M576 560l-13-11 11 20 13 10z"/><path class=c18 d="M1129 580l-13 20 12-9 13-19z"/><path class=c15 d="M609 615l-13-10 12 16 13 10z"/><path class=c26 d="M1179 473l-12 26 12-8 13-26z"/><path class=c21 d="M565 539l-14-11 12 21 13 11z"/><path class=c5 d="M899 761l-12 1 11-3 13-1z"/><path class=c19 d="M1141 560l-12 20 12-8 12-21z"/><path class=c5 d="M782 752l-13-4 11 2 13 5z"/><path class=c29 d="M521 425l-14-10 12 27 13 10z"/><path class=c23 d="M553 517l-13-11 11 22 14 11z"/><path class=c6 d="M959 743l-12 5 11-6 12-5z"/><path class=c21 d="M1154 538l-13 22 12-9 13-22z"/><path class=c32 d="M1205 396l-12 29 12-7 13-29z"/><path class=c25 d="M542 493l-13-11 11 24 13 11z"/><path class=c5 d="M923 756l-12 2 11-4 12-3z"/><path class=c28 d="M1192 446l-13 27 13-8 12-26z"/><path class=c6 d="M758 744l-12-7 11 4 12 7z"/><path class=c32 d="M509 396l-13-10 11 29 14 10z"/><path class=c23 d="M1166 515l-12 23 12-9 13-23z"/><path class=c5 d="M840 764l-12-3 11-1 12 3z"/><path class=c27 d="M530 468l-13-10 12 24 13 11z"/><path class=c5 d="M864 764l-13-1 11-2 13 1zM817 761l-13-4 11 0 13 4zM887 762l-12 0 11-3 12 0z"/><path class=c25 d="M1179 491l-13 24 13-9 12-24z"/><path class=c6 d="M793 755l-13-5 12 2 12 5zM947 748l-13 3 12-5 12-4z"/><path class=c7 d="M982 731l-12 6 12-7 12-5zM735 732l-13-7 11 5 13 7z"/><path class=c30 d="M1205 418l-13 28 12-7 13-29z"/><path class=c29 d="M519 442l-14-10 12 26 13 10z"/><path class=c34 d="M497 366l-13-10 12 30 13 10z"/><path class=c6 d="M911 758l-13 1 12-4 12-1z"/><path class=c18 d="M1128 591l-12 18 12-10 13-18z"/><path class=c6 d="M769 748l-12-7 11 3 12 6z"/><path class=c20 d="M574 569l-13-12 11 19 13 12z"/><path class=c18 d="M585 588l-13-12 11 17 13 12z"/><path class=c21 d="M563 549l-14-11 12 19 13 12z"/><path class=c19 d="M1141 572l-13 19 13-10 12-19z"/><path class=c27 d="M1192 465l-13 26 12-9 13-26z"/><path class=c17 d="M596 605l-13-12 11 16 14 12z"/><path class=c23 d="M551 528l-13-11 11 21 14 11z"/><path class=c31 d="M507 415l-13-11 11 28 14 10z"/><path class=c21 d="M1153 551l-12 21 12-10 13-21z"/><path class=c7 d="M970 737l-12 5 12-7 12-5z"/><path class=c24 d="M540 506l-14-12 12 23 13 11z"/><path class=c33 d="M1218 389l-13 29 12-8 13-29z"/><path class=c9 d="M711 718l-13-8 11 6 13 9z"/><path class=c6 d="M934 751l-12 3 12-6 12-2z"/><path class=c8 d="M746 737l-13-7 11 4 13 7z"/><path class=c6 d="M851 763l-12-3 11-2 12 3z"/><path class=c23 d="M1166 529l-13 22 13-10 12-22z"/><path class=c6 d="M828 761l-13-4 11 0 13 3z"/><path class=c9 d="M1006 717l-12 8 12-9 12-7z"/><path class=c26 d="M529 482l-14-11 11 23 14 12z"/><path class=c29 d="M1204 439l-12 26 12-9 13-26z"/><path class=c6 d="M875 762l-13-1 12-3 12 1zM804 757l-12-5 11 0 12 5z"/><path class=c33 d="M496 386l-14-11 12 29 13 11z"/><path class=c25 d="M1179 506l-13 23 12-10 13-23z"/><path class=c6 d="M898 759l-12 0 12-4 12 0z"/><path class=c7 d="M780 750l-12-6 11 2 13 6z"/><path class=c28 d="M517 458l-14-12 12 25 14 11z"/><path class=c8 d="M958 742l-12 4 11-7 13-4z"/><path class=c9 d="M722 725l-13-9 11 5 13 9zM994 725l-12 5 12-8 12-6z"/><path class=c27 d="M1191 482l-12 24 12-10 13-24z"/><path class=c32 d="M1217 410l-13 29 13-9 13-29z"/><path class=c11 d="M687 702l-13-10 11 8 13 10z"/><path class=c7 d="M922 754l-12 1 11-6 13-1z"/><path class=c30 d="M505 432l-13-13 11 27 14 12z"/><path class=c36 d="M484 356l-14-11 12 30 14 11z"/><path class=c8 d="M757 741l-13-7 11 3 13 7z"/><path class=c20 d="M1141 581l-13 18 12-11 13-18z"/><path class=c11 d="M1030 701l-12 8 12-9 12-9z"/><path class=c7 d="M839 760l-13-3 12-2 12 3z"/><path class=c29 d="M1204 456l-13 26 13-10 12-26z"/><path class=c21 d="M561 557l-14-13 11 19 14 13z"/><path class=c20 d="M572 576l-14-13 12 18 13 12z"/><path class=c23 d="M549 538l-13-13 11 19 14 13z"/><path class=c21 d="M1153 562l-12 19 12-11 12-19z"/><path class=c7 d="M862 761l-12-3 11-3 13 3zM815 757l-12-5 11 0 12 5z"/><path class=c33 d="M494 404l-14-12 12 27 13 13z"/><path class=c19 d="M583 593l-13-12 11 16 13 12z"/><path class=c25 d="M538 517l-14-14 12 22 13 13z"/><path class=c9 d="M982 730l-12 5 11-8 13-5z"/><path class=c34 d="M1230 381l-13 29 13-9 13-29z"/><path class=c8 d="M946 746l-12 2 11-7 12-2z"/><path class=c23 d="M1166 541l-13 21 12-11 13-21z"/><path class=c10 d="M698 710l-13-10 11 6 13 10z"/><path class=c9 d="M733 730l-13-9 11 4 13 9z"/><path class=c7 d="M886 759l-12-1 11-5 13 2zM792 752l-13-6 11 0 13 6z"/><path class=c26 d="M526 494l-13-13 11 22 14 14z"/><path class=c24 d="M1178 519l-12 22 12-11 13-22z"/><path class=c11 d="M1018 709l-12 7 12-9 12-7z"/><path class=c31 d="M1217 430l-13 26 12-10 13-27z"/><path class=c13 d="M663 683l-13-11 11 9 13 11z"/><path class=c28 d="M515 471l-14-14 12 24 13 13z"/><path class=c7 d="M910 755l-12 0 11-6 12 0z"/><path class=c8 d="M768 744l-13-7 11 1 13 8z"/><path class=c35 d="M482 375l-14-12 12 29 14 12z"/><path class=c14 d="M1067 671l-13 11 12-11 13-11z"/><path class=c26 d="M1191 496l-13 23 13-11 12-23z"/><path class=c9 d="M970 735l-13 4 12-8 12-4z"/><path class=c30 d="M503 446l-13-14 11 25 14 14z"/><path class=c10 d="M709 716l-13-10 11 5 13 10zM1006 716l-12 6 11-9 13-6z"/><path class=c8 d="M934 748l-13 1 12-7 12-1z"/><path class=c33 d="M1230 401l-13 29 12-11 13-28z"/><path class=c9 d="M744 734l-13-9 11 3 13 9z"/><path class=c12 d="M674 692l-13-11 11 7 13 12z"/><path class=c13 d="M1054 682l-12 9 12-10 12-10z"/><path class=c28 d="M1204 472l-13 24 12-11 13-25z"/><path class=c8 d="M850 758l-12-3 11-4 12 4zM826 757l-12-5 11-2 13 5z"/><path class=c15 d="M628 651l-14-13 12 11 13 13z"/><path class=c38 d="M470 345l-13-12 11 30 14 12z"/><path class=c32 d="M492 419l-14-13 12 26 13 14z"/><path class=c8 d="M874 758l-13-3 12-4 12 2zM803 752l-13-6 11-1 13 7z"/><path class=c13 d="M1042 691l-12 9 12-11 12-8z"/><path class=c8 d="M898 755l-13-2 12-6 12 2z"/><path class=c30 d="M1216 446l-12 26 12-12 13-25z"/><path class=c9 d="M779 746l-13-8 11 1 13 7z"/><path class=c21 d="M1153 570l-13 18 13-12 12-18z"/><path class=c15 d="M639 662l-13-13 11 10 13 13z"/><path class=c9 d="M957 739l-12 2 12-8 12-2z"/><path class=c23 d="M547 544l-13-14 11 19 13 14z"/><path class=c10 d="M994 722l-13 5 12-9 12-5z"/><path class=c22 d="M558 563l-13-14 11 17 14 15z"/><path class=c11 d="M720 721l-13-10 11 4 13 10z"/><path class=c23 d="M1165 551l-12 19 12-12 13-20z"/><path class=c25 d="M536 525l-14-15 12 20 13 14z"/><path class=c35 d="M480 392l-14-14 12 28 14 13z"/><path class=c36 d="M1243 372l-13 29 12-10 13-30z"/><path class=c12 d="M685 700l-13-12 11 7 13 11z"/><path class=c21 d="M570 581l-14-15 11 17 14 14z"/><path class=c27 d="M524 503l-13-14 11 21 14 15z"/><path class=c25 d="M1178 530l-13 21 13-13 13-21z"/><path class=c9 d="M921 749l-12 0 11-7 13 0z"/><path class=c28 d="M513 481l-14-15 12 23 13 14z"/><path class=c10 d="M755 737l-13-9 11 2 13 8z"/><path class=c12 d="M1030 700l-12 7 12-11 12-7z"/><path class=c33 d="M1229 419l-13 27 13-11 13-28z"/><path class=c26 d="M1191 508l-13 22 13-13 12-22z"/><path class=c14 d="M650 672l-13-13 11 9 13 13z"/><path class=c37 d="M468 363l-13-14 11 29 14 14z"/><path class=c30 d="M501 457l-13-14 11 23 14 15z"/><path class=c9 d="M838 755l-13-5 11-4 13 5z"/><path class=c15 d="M1079 660l-13 11 12-12 13-11z"/><path class=c11 d="M981 727l-12 4 12-10 12-3z"/><path class=c9 d="M861 755l-12-4 11-4 13 4z"/><path class=c28 d="M1203 485l-12 23 12-13 13-23z"/><path class=c9 d="M814 752l-13-7 12-2 12 7z"/><path class=c12 d="M696 706l-13-11 11 5 13 11z"/><path class=c10 d="M945 741l-12 1 11-8 13-1z"/><path class=c32 d="M490 432l-14-14 12 25 13 14z"/><path class=c11 d="M731 725l-13-10 11 3 13 10z"/><path class=c9 d="M885 753l-12-2 11-6 13 2zM790 746l-13-7 12-1 12 7z"/><path class=c12 d="M1018 707l-13 6 12-11 13-6z"/><path class=c35 d="M1242 391l-13 28 13-12 13-28z"/><path class=c14 d="M661 681l-13-13 11 8 13 12z"/><path class=c15 d="M1066 671l-12 10 12-12 12-10z"/><path class=c30 d="M1216 460l-13 25 13-13 13-25z"/><path class=c40 d="M457 333l-14-14 12 30 13 14z"/><path class=c17 d="M614 638l-13-14 11 11 14 14z"/><path class=c34 d="M478 406l-14-15 12 27 14 14z"/><path class=c9 d="M909 749l-12-2 11-6 12 1z"/><path class=c10 d="M766 738l-13-8 12 0 12 9z"/><path class=c11 d="M969 731l-12 2 11-10 13-2z"/><path class=c14 d="M1054 681l-12 8 12-12 12-8z"/><path class=c12 d="M707 711l-13-11 11 4 13 11z"/><path class=c32 d="M1229 435l-13 25 13-13 13-25z"/><path class=c12 d="M1005 713l-12 5 12-11 12-5z"/><path class=c17 d="M626 649l-14-14 11 10 14 14z"/><path class=c38 d="M1255 361l-13 30 13-12 13-30z"/><path class=c23 d="M1165 558l-12 18 12-14 13-18z"/><path class=c14 d="M672 688l-13-12 11 6 13 13z"/><path class=c37 d="M466 378l-14-15 12 28 14 15z"/><path class=c26 d="M534 530l-14-16 11 19 14 16z"/><path class=c10 d="M933 742l-13 0 12-8 12 0z"/><path class=c24 d="M545 549l-14-16 12 18 13 15z"/><path class=c25 d="M1178 538l-13 20 13-14 13-20z"/><path class=c27 d="M522 510l-14-16 12 20 14 16z"/><path class=c11 d="M742 728l-13-10 12 2 12 10z"/><path class=c23 d="M556 566l-13-15 11 16 13 16z"/><path class=c29 d="M511 489l-14-16 11 21 14 16z"/><path class=c19 d="M1116 623l-13 13 12-13 13-14z"/><path class=c27 d="M1191 517l-13 21 13-14 12-21z"/><path class=c10 d="M849 751l-13-5 12-4 12 5zM825 750l-12-7 11-3 12 6z"/><path class=c30 d="M499 466l-14-16 12 23 14 16z"/><path class=c14 d="M1042 689l-12 7 12-12 12-7z"/><path class=c10 d="M873 751l-13-4 12-6 12 4zM801 745l-12-7 11-2 13 7z"/><path class=c35 d="M1242 407l-13 28 13-13 13-28z"/><path class=c17 d="M637 659l-14-14 12 9 13 14z"/><path class=c18 d="M1103 636l-12 12 12-13 12-12z"/><path class=c28 d="M1203 495l-12 22 12-14 13-22z"/><path class=c39 d="M455 349l-15-15 12 29 14 15z"/><path class=c32 d="M488 443l-14-16 11 23 14 16z"/><path class=c12 d="M993 718l-12 3 12-11 12-3z"/><path class=c10 d="M897 747l-13-2 12-7 12 3z"/><path class=c11 d="M777 739l-12-9 11-1 13 9zM957 733l-13 1 12-10 12-1z"/><path class=c14 d="M683 695l-13-13 11 5 13 13z"/><path class=c13 d="M718 715l-13-11 12 3 12 11z"/><path class=c17 d="M1091 648l-13 11 13-13 12-11z"/><path class=c30 d="M1216 472l-13 23 13-14 13-23z"/><path class=c34 d="M476 418l-14-17 12 26 14 16z"/><path class=c14 d="M1030 696l-13 6 12-12 13-6z"/><path class=c37 d="M1255 379l-13 28 13-13 13-28z"/><path class=c16 d="M648 668l-13-14 11 8 13 14z"/><path class=c11 d="M920 742l-12-1 12-9 12 2z"/><path class=c12 d="M753 730l-12-10 11 0 13 10z"/><path class=c42 d="M443 319l-14-15 11 30 15 15z"/><path class=c17 d="M1078 659l-12 10 12-14 13-9z"/><path class=c32 d="M1229 447l-13 25 13-14 13-25z"/><path class=c20 d="M601 624l-13-15 11 11 13 15z"/><path class=c37 d="M464 391l-14-16 12 26 14 17z"/><path class=c13 d="M981 721l-13 2 12-10 13-3z"/><path class=c14 d="M694 700l-13-13 11 4 13 13z"/><path class=c11 d="M836 746l-12-6 11-5 13 7zM860 747l-12-5 11-6 13 5zM813 743l-13-7 11-4 13 8z"/><path class=c17 d="M1066 669l-12 8 12-13 12-9z"/><path class=c14 d="M1017 702l-12 5 12-12 12-5z"/><path class=c12 d="M944 734l-12 0 12-10 12 0z"/><path class=c34 d="M1242 422l-13 25 13-14 13-26z"/><path class=c40 d="M1268 349l-13 30 13-13 13-30z"/><path class=c13 d="M729 718l-12-11 11 1 13 12z"/><path class=c16 d="M659 676l-13-14 11 6 13 14z"/><path class=c19 d="M612 635l-13-15 11 10 13 15z"/><path class=c39 d="M452 363l-14-16 12 28 14 16z"/><path class=c26 d="M1178 544l-13 18 13-15 13-18z"/><path class=c11 d="M884 745l-12-4 11-7 13 4z"/><path class=c12 d="M789 738l-13-9 11-2 13 9z"/><path class=c28 d="M520 514l-14-17 11 19 14 17z"/><path class=c22 d="M1140 595l-12 14 12-15 13-14z"/><path class=c27 d="M531 533l-14-17 12 18 14 17zM1191 524l-13 20 13-15 12-20z"/><path class=c29 d="M508 494l-14-17 12 20 14 17z"/><path class=c25 d="M543 551l-14-17 11 16 14 17z"/><path class=c31 d="M497 473l-14-17 11 21 14 17z"/><path class=c21 d="M1128 609l-13 14 13-15 12-14z"/><path class=c29 d="M1203 503l-12 21 12-15 13-21z"/><path class=c16 d="M1054 677l-12 7 12-13 12-7z"/><path class=c12 d="M908 741l-12-3 11-8 13 2z"/><path class=c37 d="M1255 394l-13 28 13-15 13-27z"/><path class=c12 d="M765 730l-13-10 11-1 13 10z"/><path class=c24 d="M554 567l-14-17 11 15 14 17z"/><path class=c33 d="M485 450l-14-17 12 23 14 17z"/><path class=c19 d="M623 645l-13-15 11 9 14 15z"/><path class=c41 d="M440 334l-14-16 12 29 14 16z"/><path class=c20 d="M1115 623l-12 12 13-15 12-12z"/><path class=c13 d="M968 723l-12 1 12-10 12-1z"/><path class=c30 d="M1216 481l-13 22 13-15 13-22z"/><path class=c14 d="M1005 707l-12 3 12-12 12-3zM705 704l-13-13 11 3 14 13z"/><path class=c16 d="M670 682l-13-14 11 5 13 14z"/><path class=c23 d="M565 582l-14-17 12 14 13 17z"/><path class=c35 d="M474 427l-15-18 12 24 14 17z"/><path class=c20 d="M1103 635l-12 11 12-15 13-11z"/><path class=c12 d="M932 734l-12-2 11-9 13 1z"/><path class=c32 d="M1229 458l-13 23 13-15 13-24z"/><path class=c14 d="M741 720l-13-12 11 1 13 11z"/><path class=c23 d="M576 596l-13-17 11 13 14 17z"/><path class=c16 d="M1042 684l-13 6 12-13 13-6z"/><path class=c39 d="M1268 366l-13 28 13-14 13-29z"/><path class=c37 d="M462 401l-14-17 11 25 15 18z"/><path class=c18 d="M635 654l-14-15 11 8 14 15z"/><path class=c12 d="M848 742l-13-7 12-5 12 6zM824 740l-13-8 11-4 13 7z"/><path class=c44 d="M429 304l-15-17 12 31 14 16z"/><path class=c19 d="M1091 646l-13 9 13-15 12-9z"/><path class=c12 d="M872 741l-13-5 12-7 12 5z"/><path class=c34 d="M1242 433l-13 25 13-16 13-24z"/><path class=c13 d="M800 736l-13-9 11-3 13 8z"/><path class=c22 d="M588 609l-14-17 11 11 14 17z"/><path class=c14 d="M993 710l-13 3 12-12 13-3z"/><path class=c39 d="M450 375l-14-18 12 27 14 17z"/><path class=c16 d="M681 687l-13-14 11 4 13 14z"/><path class=c14 d="M956 724l-12 0 12-11 12 1z"/><path class=c13 d="M896 738l-13-4 12-8 12 4z"/><path class=c15 d="M717 707l-14-13 12 2 13 12z"/><path class=c13 d="M776 729l-13-10 11-2 13 10z"/><path class=c16 d="M1029 690l-12 5 12-14 12-4z"/><path class=c42 d="M1281 336l-13 30 13-15 13-30z"/><path class=c18 d="M646 662l-14-15 11 6 14 15z"/><path class=c19 d="M1078 655l-12 9 12-15 13-9z"/><path class=c37 d="M1255 407l-13 26 13-15 13-27z"/><path class=c21 d="M599 620l-14-17 11 10 14 17z"/><path class=c41 d="M438 347l-14-18 12 28 14 18z"/><path class=c13 d="M920 732l-13-2 12-10 12 3z"/><path class=c28 d="M1191 529l-13 18 13-17 12-18z"/><path class=c14 d="M752 720l-13-11 11-1 13 11z"/><path class=c30 d="M506 497l-14-18 11 19 14 18z"/><path class=c24 d="M1153 580l-13 14 13-16 13-14z"/><path class=c29 d="M1203 509l-12 20 12-17 13-20zM517 516l-14-18 12 18 14 18z"/><path class=c32 d="M494 477l-14-18 12 20 14 18z"/><path class=c28 d="M529 534l-14-18 11 16 14 18z"/><path class=c33 d="M483 456l-14-19 11 22 14 18z"/><path class=c18 d="M1066 664l-12 7 12-15 12-7z"/><path class=c23 d="M1140 594l-12 14 13-16 12-14z"/><path class=c31 d="M1216 488l-13 21 13-17 13-21z"/><path class=c39 d="M1268 380l-13 27 13-16 13-27z"/><path class=c15 d="M980 713l-12 1 12-12 12-1z"/><path class=c21 d="M610 630l-14-17 11 9 14 17z"/><path class=c17 d="M692 691l-13-14 11 3 13 14z"/><path class=c27 d="M540 550l-14-18 11 15 14 18z"/><path class=c16 d="M1017 695l-12 3 12-13 12-4z"/><path class=c35 d="M471 433l-14-19 12 23 14 19z"/><path class=c43 d="M426 318l-14-18 12 29 14 18z"/><path class=c18 d="M657 668l-14-15 12 5 13 15z"/><path class=c23 d="M1128 608l-12 12 12-16 13-12z"/><path class=c33 d="M1229 466l-13 22 13-17 13-22z"/><path class=c13 d="M835 735l-13-7 12-6 13 8z"/><path class=c14 d="M944 724l-13-1 12-11 13 1z"/><path class=c15 d="M728 708l-13-12 11 0 13 13z"/><path class=c13 d="M859 736l-12-6 11-7 13 6z"/><path class=c14 d="M811 732l-13-8 12-5 12 9z"/><path class=c26 d="M551 565l-14-18 12 14 14 18z"/><path class=c37 d="M459 409l-14-19 12 24 14 19z"/><path class=c14 d="M883 734l-12-5 11-8 13 5zM787 727l-13-10 12-3 12 10z"/><path class=c22 d="M1116 620l-13 11 13-16 12-11z"/><path class=c35 d="M1242 442l-13 24 13-17 13-24z"/><path class=c18 d="M1054 671l-13 6 13-15 12-6z"/><path class=c41 d="M1281 351l-13 29 13-16 13-29z"/><path class=c25 d="M563 579l-14-18 11 13 14 18z"/><path class=c21 d="M621 639l-14-17 12 8 13 17z"/><path class=c39 d="M448 384l-15-19 12 25 14 19z"/><path class=c46 d="M414 287l-14-18 12 31 14 18z"/><path class=c14 d="M907 730l-12-4 11-10 13 4z"/><path class=c15 d="M763 719l-13-11 11-2 13 11z"/><path class=c21 d="M1103 631l-12 9 12-16 13-9z"/><path class=c17 d="M1005 698l-13 3 12-14 13-2z"/><path class=c37 d="M1255 418l-13 24 13-17 13-25z"/><path class=c15 d="M968 714l-12-1 11-12 13 1z"/><path class=c18 d="M668 673l-13-15 11 4 13 15z"/><path class=c17 d="M703 694l-13-14 11 2 14 14z"/><path class=c24 d="M574 592l-14-18 11 11 14 18z"/><path class=c41 d="M436 357l-15-19 12 27 15 19z"/><path class=c18 d="M1041 677l-12 4 12-14 13-5z"/><path class=c44 d="M1294 321l-13 30 13-16 13-30z"/><path class=c21 d="M632 647l-13-17 11 6 13 17z"/><path class=c15 d="M931 723l-12-3 12-11 12 3z"/><path class=c21 d="M1091 640l-13 9 13-16 12-9z"/><path class=c16 d="M739 709l-13-13 11-1 13 13z"/><path class=c39 d="M1268 391l-13 27 13-18 13-26z"/><path class=c24 d="M585 603l-14-18 12 10 13 18z"/><path class=c43 d="M424 329l-15-19 12 28 15 19z"/><path class=c15 d="M847 730l-13-8 11-7 13 8zM822 728l-12-9 11-6 13 9z"/><path class=c28 d="M1178 548l-12 16 12-18 13-16z"/><path class=c30 d="M1203 512l-12 18 13-17 12-19z"/><path class=c17 d="M992 701l-12 1 12-14 12-1z"/><path class=c27 d="M1166 564l-13 14 13-18 12-14z"/><path class=c32 d="M1216 492l-13 20 13-18 13-20z"/><path class=c15 d="M871 729l-13-6 12-9 12 7zM798 724l-12-10 11-5 13 10z"/><path class=c19 d="M679 677l-13-15 11 3 13 15z"/><path class=c21 d="M1078 649l-12 7 12-16 13-7z"/><path class=c41 d="M1281 364l-13 27 13-17 13-27z"/><path class=c18 d="M1029 681l-12 4 12-15 12-3z"/><path class=c26 d="M1153 578l-12 14 12-18 13-14z"/><path class=c16 d="M956 713l-13-1 12-12 12 1z"/><path class=c33 d="M1229 471l-13 21 13-18 13-21z"/><path class=c23 d="M596 613l-13-18 11 9 13 18z"/><path class=c17 d="M715 696l-14-14 12 0 13 14z"/><path class=c21 d="M643 653l-13-17 11 6 14 16z"/><path class=c46 d="M412 300l-15-20 12 30 15 19z"/><path class=c15 d="M895 726l-13-5 12-10 12 5z"/><path class=c16 d="M774 717l-13-11 12-4 13 12z"/><path class=c25 d="M1141 592l-13 12 13-18 12-12z"/><path class=c35 d="M1242 449l-13 22 13-18 13-22z"/><path class=c21 d="M1066 656l-12 6 12-16 12-6z"/><path class=c16 d="M919 720l-13-4 12-11 13 4z"/><path class=c43 d="M1294 335l-13 29 13-17 13-29z"/><path class=c24 d="M1128 604l-12 11 12-18 13-11z"/><path class=c17 d="M750 708l-13-13 11-2 13 13z"/><path class=c37 d="M1255 425l-13 24 13-18 13-24z"/><path class=c23 d="M607 622l-13-18 11 8 14 18z"/><path class=c48 d="M400 269l-15-20 12 31 15 20z"/><path class=c17 d="M980 702l-13-1 12-13 13 0z"/><path class=c19 d="M1017 685l-13 2 12-15 13-2zM690 680l-13-15 11 1 13 16z"/><path class=c21 d="M655 658l-14-16 11 4 14 16z"/><path class=c24 d="M1116 615l-13 9 13-17 12-10z"/><path class=c39 d="M1268 400l-13 25 13-18 13-25z"/><path class=c17 d="M943 712l-12-3 12-12 12 3z"/><path class=c18 d="M726 696l-13-14 11-1 13 14z"/><path class=c16 d="M834 722l-13-9 12-7 12 9z"/><path class=c21 d="M1054 662l-13 5 13-16 12-5z"/><path class=c16 d="M858 723l-13-8 12-8 13 7z"/><path class=c17 d="M810 719l-13-10 11-6 13 10z"/><path class=c46 d="M1307 305l-13 30 13-17 14-31z"/><path class=c23 d="M619 630l-14-18 11 6 14 18zM1103 624l-12 9 12-18 13-8z"/><path class=c17 d="M882 721l-12-7 11-9 13 6z"/><path class=c41 d="M1281 374l-13 26 13-18 13-26z"/><path class=c17 d="M786 714l-13-12 11-5 13 12z"/><path class=c19 d="M1004 687l-12 1 12-15 12-1z"/><path class=c21 d="M666 662l-14-16 11 2 14 17z"/><path class=c17 d="M906 716l-12-5 12-11 12 5z"/><path class=c18 d="M761 706l-13-13 12-4 13 13zM967 701l-12-1 12-14 12 2z"/><path class=c20 d="M701 682l-13-16 11 1 14 15z"/><path class=c23 d="M1091 633l-13 7 13-18 12-7z"/><path class=c21 d="M1041 667l-12 3 12-16 13-3z"/><path class=c43 d="M1294 347l-13 27 13-18 14-28z"/><path class=c23 d="M630 636l-14-18 11 6 14 18z"/><path class=c18 d="M931 709l-13-4 12-12 13 4z"/><path class=c19 d="M737 695l-13-14 11-2 13 14z"/><path class=c23 d="M1078 640l-12 6 12-18 13-6z"/><path class=c46 d="M1307 318l-13 29 14-19 13-29z"/><path class=c20 d="M992 688l-13 0 13-15 12 0z"/><path class=c18 d="M845 715l-12-9 11-9 13 10zM821 713l-13-10 12-7 13 10z"/><path class=c21 d="M677 665l-14-17 12 2 13 16zM1029 670l-13 2 13-16 12-2z"/><path class=c18 d="M870 714l-13-7 12-10 12 8zM797 709l-13-12 11-6 13 12z"/><path class=c23 d="M641 642l-14-18 12 3 13 19z"/><path class=c19 d="M955 700l-12-3 11-13 13 2z"/><path class=c20 d="M713 682l-14-15 12-1 13 15z"/><path class=c18 d="M894 711l-13-6 12-11 13 6z"/><path class=c19 d="M773 702l-13-13 11-4 13 12z"/><path class=c23 d="M1066 646l-12 5 12-18 12-5z"/><path class=c48 d="M1321 287l-14 31 14-19 13-31z"/><path class=c19 d="M918 705l-12-5 11-12 13 5z"/><path class=c20 d="M748 693l-13-14 11-4 14 14z"/><path class=c21 d="M1016 672l-12 1 12-16 13-1z"/><path class=c20 d="M979 688l-12-2 12-15 13 2z"/><path class=c23 d="M652 646l-13-19 11 3 13 18z"/><path class=c22 d="M688 666l-13-16 11 0 13 17z"/><path class=c23 d="M1054 651l-13 3 13-18 12-3z"/><path class=c20 d="M943 697l-13-4 12-14 12 5z"/><path class=c21 d="M724 681l-13-15 11-3 13 16z"/><path class=c19 d="M833 706l-13-10 11-9 13 10zM857 707l-13-10 12-9 13 9z"/><path class=c20 d="M808 703l-13-12 12-7 13 12zM881 705l-12-8 11-11 13 8zM784 697l-13-12 11-6 13 12z"/><path class=c22 d="M1004 673l-12 0 12-16 12 0z"/><path class=c24 d="M663 648l-13-18 11 2 14 18z"/><path class=c23 d="M1041 654l-12 2 12-17 13-3z"/><path class=c21 d="M967 686l-13-2 13-15 12 2z"/><path class=c20 d="M906 700l-13-6 12-13 12 7z"/><path class=c23 d="M699 667l-13-17 11-1 14 17z"/><path class=c21 d="M760 689l-14-14 12-5 13 15zM930 693l-13-5 12-14 13 5z"/><path class=c22 d="M735 679l-13-16 11-3 13 15z"/><path class=c23 d="M992 673l-13-2 12-16 13 2z"/><path class=c24 d="M1029 656l-13 1 13-17 12-1zM675 650l-14-18 11 0 14 18z"/><path class=c21 d="M844 697l-13-10 12-10 13 11zM820 696l-13-12 11-9 13 12zM869 697l-13-9 11-11 13 9zM795 691l-13-12 12-8 13 13z"/><path class=c22 d="M954 684l-12-5 12-14 13 4z"/><path class=c23 d="M711 666l-14-17 11-3 14 17z"/><path class=c21 d="M893 694l-13-8 12-13 13 8z"/><path class=c22 d="M771 685l-13-15 11-6 13 15z"/><path class=c24 d="M1016 657l-12 0 12-18 13 1z"/><path class=c22 d="M917 688l-12-7 12-14 12 7z"/><path class=c23 d="M746 675l-13-15 11-5 14 15zM979 671l-12-2 12-17 12 3z"/><path class=c25 d="M686 650l-14-18 12-1 13 18z"/><path class=c23 d="M942 679l-13-5 12-15 13 6z"/><path class=c24 d="M722 663l-14-17 12-3 13 17z"/><path class=c23 d="M831 687l-13-12 12-9 13 11zM856 688l-13-11 12-11 12 11zM807 684l-13-13 11-9 13 13z"/><path class=c25 d="M1004 657l-13-2 13-17 12 1z"/><path class=c23 d="M880 686l-13-9 12-13 13 9zM782 679l-13-15 12-7 13 14z"/><path class=c24 d="M967 669l-13-4 12-17 13 4z"/><path class=c26 d="M697 649l-13-18 11-3 13 18z"/><path class=c23 d="M905 681l-13-8 12-13 13 7z"/><path class=c24 d="M758 670l-14-15 12-6 13 15zM929 674l-12-7 12-15 12 7z"/><path class=c25 d="M733 660l-13-17 11-5 13 17z"/><path class=c26 d="M991 655l-12-3 12-17 13 3z"/><path class=c24 d="M843 677l-13-11 12-12 13 12z"/><path class=c25 d="M818 675l-13-13 12-10 13 14zM954 665l-13-6 12-16 13 5z"/><path class=c27 d="M708 646l-13-18 11-4 14 19z"/><path class=c25 d="M867 677l-12-11 11-12 13 10zM794 671l-13-14 11-9 13 14zM892 673l-13-9 12-14 13 10z"/><path class=c26 d="M769 664l-13-15 11-8 14 16zM917 667l-13-7 12-16 13 8z"/><path class=c27 d="M979 652l-13-4 12-18 13 5zM744 655l-13-17 11-6 14 17zM941 659l-12-7 12-16 12 7z"/><path class=c28 d="M720 643l-14-19 12-5 13 19z"/><path class=c26 d="M830 666l-13-14 12-11 13 13zM855 666l-13-12 11-12 13 12z"/><path class=c27 d="M805 662l-13-14 12-10 13 14zM879 664l-13-10 12-14 13 10zM781 657l-14-16 12-9 13 16z"/><path class=c28 d="M966 648l-13-5 13-18 12 5z"/><path class=c27 d="M904 660l-13-10 12-15 13 9z"/><path class=c28 d="M756 649l-14-17 12-8 13 17zM929 652l-13-8 12-16 13 8z"/><path class=c29 d="M731 638l-13-19 11-6 13 19z"/><path class=c28 d="M842 654l-13-13 11-13 13 14zM817 652l-13-14 11-12 14 15z"/><path class=c29 d="M953 643l-12-7 12-18 13 7z"/><path class=c28 d="M866 654l-13-12 12-14 13 12z"/><path class=c29 d="M792 648l-13-16 11-10 14 16zM891 650l-13-10 12-16 13 11zM767 641l-13-17 11-9 14 17zM916 644l-13-9 12-17 13 10z"/><path class=c30 d="M742 632l-13-19 11-8 14 19zM941 636l-13-8 12-18 13 8zM829 641l-14-15 12-12 13 14zM853 642l-13-14 12-14 13 14zM804 638l-14-16 12-12 13 16zM878 640l-13-12 12-16 13 12z"/><path class=c31 d="M779 632l-14-17 12-10 13 17zM903 635l-13-11 12-17 13 11z"/><path class=c32 d="M754 624l-14-19 12-9 13 19zM928 628l-13-10 12-18 13 10zM840 628l-13-14 12-15 13 15zM815 626l-13-16 12-12 13 16zM865 628l-13-14 12-15 13 13z"/><path class=c33 d="M790 622l-13-17 12-12 13 17zM890 624l-13-12 12-17 13 12zM765 615l-13-19 12-10 13 19zM915 618l-13-11 12-18 13 11z"/><path class=c34 d="M827 614l-13-16 12-15 13 16zM852 614l-13-15 12-15 13 15z"/><path class=c35 d="M802 610l-13-17 11-13 14 18zM877 612l-13-13 12-17 13 13zM777 605l-13-19 11-12 14 19zM902 607l-13-12 12-18 13 12z"/><path class=c37 d="M839 599l-13-16 12-16 13 17zM814 598l-14-18 12-15 14 18zM864 599l-13-15 12-18 13 16zM789 593l-14-19 12-13 13 19zM889 595l-13-13 12-19 13 14z"/><path class=c39 d="M826 583l-14-18 12-16 14 18zM851 584l-13-17 12-17 13 16zM800 580l-13-19 12-15 13 19zM876 582l-13-16 12-18 13 15z"/><path class=c41 d="M838 567l-14-18 12-17 14 18zM812 565l-13-19 12-16 13 19zM863 566l-13-16 12-19 13 17z"/><path class=c43 d="M824 549l-13-19 12-17 13 19zM850 550l-14-18 12-19 14 18z"/><path class=c46 d="M836 532l-13-19 12-20 13 20z"/></g></g>
<g id="p2"><path d="M1252.3 266.8L993.7 383.2L977.4 117.2L1252.4 10.2Z" fill="#f2f2f2"/>
<path d="M1252.3 266.8L1506.2 385.7L1522.6 119.5L1252.4 10.2Z" fill="#f9f9f9"/>
<path d="M1252.3 266.8L993.7 383.2L1247.0 517.7L1506.2 385.7Z" fill="#f5f5f5"/>
<path d="M1240.1 272.3L1494.1 391.9M1240.1 272.3L1239.6 15.2M1264.2 272.4L1005.5 389.5M1264.2 272.4L1265.0 15.3M1184.3 297.4L1438.2 420.3M1184.3 297.4L1180.3 38.3M1319.0 298.1L1060.1 418.4M1319.0 298.1L1323.2 38.9M1126.9 323.2L1380.8 449.6M1126.9 323.2L1119.3 62.0M1375.4 324.4L1116.3 448.3M1375.4 324.4L1383.1 63.1M1067.9 349.8L1321.6 479.7M1067.9 349.8L1056.5 86.4M1433.3 351.6L1174.1 479.0M1433.3 351.6L1444.8 88.1M1007.3 377.1L1260.7 510.7M1007.3 377.1L991.9 111.5M1492.9 379.5L1233.6 510.6M1492.9 379.5L1508.4 113.8M1252.3 262.2L993.4 378.4M1252.3 262.2L1506.5 380.9M1252.3 223.1L990.9 338.0M1252.3 223.1L1509.0 340.5M1252.3 183.3L988.4 296.9M1252.3 183.3L1511.6 299.3M1252.3 142.8L985.8 254.9M1252.3 142.8L1514.1 257.4M1252.4 101.5L983.2 212.1M1252.4 101.5L1516.8 214.5M1252.4 59.5L980.5 168.4M1252.4 59.5L1519.5 170.8M1252.4 16.6L977.8 123.9M1252.4 16.6L1522.2 126.2" stroke="#b3b3b3" stroke-width="1.70" fill="none"/>
<path d="M993.7 383.2L1247.0 517.7M1506.2 385.7L1247.0 517.7M993.7 383.2L977.4 117.2M1007.7 388.5L1000.0 391.9M1492.0 390.9L1499.5 394.4M1062.3 417.4L1054.6 421.0M1436.1 419.3L1443.7 423.0M1118.5 447.2L1110.7 450.9M1378.6 448.5L1386.2 452.3M1176.3 477.9L1168.6 481.7M1319.4 478.6L1327.0 482.5M1235.9 509.5L1228.1 513.4M1258.5 509.6L1266.1 513.6M987.9 380.9L995.6 377.4M985.4 340.5L993.2 337.0M982.8 299.3L990.7 295.9M980.2 257.3L988.1 253.9M977.5 214.4L985.5 211.2M974.7 170.7L982.8 167.5M971.9 126.2L980.1 123.0" stroke="#000" stroke-width="2.60" fill="none" stroke-linejoin="round"/>
<text class=d transform="translate(911.2 142.4) scale(0.790 1)" y="16.9">120</text>
<text class=d transform="translate(913.8 187.2) scale(0.790 1)" y="16.9">100</text>
<text class=d transform="translate(916.6 230.7) scale(0.790 1)" y="16.9">80</text>
<text class=d transform="translate(919.5 272.6) scale(0.790 1)" y="16.9">60</text>
<text class=d transform="translate(922.2 315.3) scale(0.790 1)" y="16.9">40</text>
<text class=d transform="translate(926.0 357.2) scale(0.790 1)" y="16.9">20</text>
<text class=d transform="translate(929.8 396.9) scale(0.790 1)" y="16.9">0</text>
<text class=d transform="translate(975.7 456.8) scale(0.790 1)" y="16.9">−10</text>
<text class=d transform="translate(1029.6 486.1) scale(0.790 1)" y="16.9">−5</text>
<text class=d transform="translate(1085.4 516.0) scale(0.790 1)" y="16.9">0</text>
<text class=d transform="translate(1143.1 547.5) scale(0.790 1)" y="16.9">5</text>
<text class=d transform="translate(1202.3 579.7) scale(0.790 1)" y="16.9">10</text>
<text class=d transform="translate(1292.5 580.5) scale(0.790 1)" y="16.9">10</text>
<text class=d transform="translate(1352.1 548.7) scale(0.790 1)" y="16.9">5</text>
<text class=d transform="translate(1411.3 517.9) scale(0.790 1)" y="16.9">0</text>
<text class=d transform="translate(1467.9 488.3) scale(0.790 1)" y="16.9">−5</text>
<text class=d transform="translate(1524.0 459.1) scale(0.790 1)" y="16.9">−10</text>
<text class=fi x="923.3" y="557.9">f</text>
<text class=fs transform="translate(947.0 565.8) scale(1.1 1)">2</text>
<g class="s" opacity="0.90" transform="scale(0.50)"><path class=c5 d="M2287 582l-11 27 11 8 11-27zM2717 584l-11 8 11 27 11-8zM2298 590l-11 27 11 7 11-25z"/><path class=c8 d="M2298 555l-11 27 11 8 12-26z"/><path class=c5 d="M2706 592l-12 9 11 25 12-7z"/><path class=c8 d="M2706 557l-11 9 11 26 11-8z"/><path class=c7 d="M2310 564l-12 26 11 9 12-25z"/><path class=c5 d="M2309 599l-11 25 11 7 11-24z"/><path class=c10 d="M2310 528l-12 27 12 9 11-26z"/><path class=c7 d="M2695 566l-12 9 11 26 12-9z"/><path class=c5 d="M2694 601l-11 8 11 24 11-7z"/><path class=c10 d="M2695 529l-11 11 11 26 11-9z"/><path class=c7 d="M2321 574l-12 25 11 8 12-24z"/><path class=c10 d="M2321 538l-11 26 11 10 11-26z"/><path class=c4 d="M2320 607l-11 24 11 8 11-23z"/><path class=c13 d="M2321 500l-11 28 11 10 11-26z"/><path class=c7 d="M2683 575l-11 10 11 24 11-8z"/><path class=c10 d="M2684 540l-12 10 11 25 12-9z"/><path class=c4 d="M2683 609l-11 8 11 23 11-7z"/><path class=c13 d="M2684 502l-11 11 11 27 11-11z"/><path class=c9 d="M2332 548l-11 26 11 9 11-24z"/><path class=c7 d="M2332 583l-12 24 11 9 12-24z"/><path class=c12 d="M2332 512l-11 26 11 10 11-25z"/><path class=c4 d="M2331 616l-11 23 11 7 11-22z"/><path class=c9 d="M2672 550l-11 10 11 25 11-10z"/><path class=c7 d="M2672 585l-11 9 11 23 11-8z"/><path class=c15 d="M2332 473l-11 27 11 12 11-27z"/><path class=c12 d="M2673 513l-12 11 11 26 12-10z"/><path class=c4 d="M2672 617l-11 8 11 23 11-8z"/><path class=c9 d="M2343 559l-11 24 11 9 11-23z"/><path class=c11 d="M2343 523l-11 25 11 11 11-25z"/><path class=c15 d="M2673 474l-11 13 11 26 11-11z"/><path class=c6 d="M2343 592l-12 24 11 8 12-22z"/><path class=c14 d="M2343 485l-11 27 11 11 11-25z"/><path class=c9 d="M2661 560l-11 10 11 24 11-9z"/><path class=c11 d="M2661 524l-11 12 11 24 11-10z"/><path class=c6 d="M2661 594l-12 9 12 22 11-8z"/><path class=c4 d="M2342 624l-11 22 11 8 12-22z"/><path class=c14 d="M2662 487l-12 12 11 25 12-11z"/><path class=c11 d="M2354 534l-11 25 11 10 11-23z"/><path class=c8 d="M2354 569l-11 23 11 10 11-23z"/><path class=c17 d="M2343 445l-11 28 11 12 12-26z"/><path class=c4 d="M2661 625l-12 9 11 21 12-7z"/><path class=c13 d="M2354 498l-11 25 11 11 12-24z"/><path class=c6 d="M2354 602l-12 22 12 8 11-21z"/><path class=c11 d="M2650 536l-12 11 12 23 11-10z"/><path class=c8 d="M2650 570l-12 11 11 22 12-9z"/><path class=c17 d="M2662 447l-12 13 12 27 11-13z"/><path class=c13 d="M2650 499l-11 12 11 25 11-12z"/><path class=c16 d="M2355 459l-12 26 11 13 12-26z"/><path class=c6 d="M2649 603l-11 9 11 22 12-9z"/><path class=c10 d="M2365 546l-11 23 11 10 12-22z"/><path class=c13 d="M2366 510l-12 24 11 12 12-24z"/><path class=c4 d="M2354 632l-12 22 11 7 12-20z"/><path class=c8 d="M2365 579l-11 23 11 9 11-21z"/><path class=c16 d="M2650 460l-11 13 11 26 12-12z"/><path class=c10 d="M2638 547l-11 11 11 23 12-11z"/><path class=c16 d="M2366 472l-12 26 12 12 11-25z"/><path class=c13 d="M2639 511l-12 12 11 24 12-11z"/><path class=c4 d="M2649 634l-11 8 11 20 11-7z"/><path class=c8 d="M2638 581l-11 10 11 21 11-9z"/><path class=c20 d="M2355 418l-12 27 12 14 11-27z"/><path class=c5 d="M2365 611l-11 21 11 9 11-21z"/><path class=c12 d="M2377 522l-12 24 12 11 11-22z"/><path class=c16 d="M2639 473l-11 14 11 24 11-12z"/><path class=c9 d="M2377 557l-12 22 11 11 12-22z"/><path class=c15 d="M2377 485l-11 25 11 12 11-23z"/><path class=c20 d="M2651 419l-12 15 11 26 12-13z"/><path class=c5 d="M2638 612l-11 10 11 20 11-8z"/><path class=c19 d="M2366 432l-11 27 11 13 11-25z"/><path class=c12 d="M2627 523l-11 13 11 22 11-11z"/><path class=c7 d="M2376 590l-11 21 11 9 12-20z"/><path class=c9 d="M2627 558l-11 11 11 22 11-10z"/><path class=c15 d="M2628 487l-12 13 11 23 12-12z"/><path class=c3 d="M2365 641l-12 20 11 7 12-19z"/><path class=c19 d="M2639 434l-11 14 11 25 11-13z"/><path class=c18 d="M2377 447l-11 25 11 13 11-24z"/><path class=c11 d="M2388 535l-11 22 11 11 11-21z"/><path class=c7 d="M2627 591l-12 10 12 21 11-10z"/><path class=c14 d="M2388 499l-11 23 11 13 12-23z"/><path class=c9 d="M2388 568l-12 22 12 10 11-20z"/><path class=c3 d="M2638 642l-11 8 11 20 11-8z"/><path class=c5 d="M2376 620l-11 21 11 8 11-19z"/><path class=c11 d="M2616 536l-12 12 12 21 11-11z"/><path class=c18 d="M2628 448l-12 14 12 25 11-14z"/><path class=c14 d="M2616 500l-11 13 11 23 11-13z"/><path class=c22 d="M2366 390l-11 28 11 14 11-26z"/><path class=c17 d="M2388 461l-11 24 11 14 12-24z"/><path class=c9 d="M2616 569l-12 12 11 20 12-10z"/><path class=c5 d="M2627 622l-12 9 12 19 11-8z"/><path class=c7 d="M2388 600l-12 20 11 10 12-20z"/><path class=c13 d="M2400 512l-12 23 11 12 12-21z"/><path class=c11 d="M2399 547l-11 21 11 12 12-21z"/><path class=c21 d="M2377 406l-11 26 11 15 12-26z"/><path class=c17 d="M2616 462l-11 14 11 24 12-13z"/><path class=c22 d="M2640 392l-12 15 11 27 12-15z"/><path class=c16 d="M2400 475l-12 24 12 13 11-22z"/><path class=c13 d="M2605 513l-12 13 11 22 12-12z"/><path class=c7 d="M2615 601l-11 10 11 20 12-9z"/><path class=c11 d="M2604 548l-11 12 11 21 12-12z"/><path class=c20 d="M2389 421l-12 26 11 14 12-25z"/><path class=c8 d="M2399 580l-11 20 11 10 11-19z"/><path class=c21 d="M2628 407l-11 15 11 26 11-14z"/><path class=c3 d="M2376 649l-12 19 11 8 12-18z"/><path class=c16 d="M2605 476l-12 15 12 22 11-13z"/><path class=c12 d="M2411 526l-12 21 12 12 11-20z"/><path class=c15 d="M2411 490l-11 22 11 14 11-22z"/><path class=c8 d="M2604 581l-11 11 11 19 11-10z"/><path class=c19 d="M2400 436l-12 25 12 14 11-23z"/><path class=c20 d="M2617 422l-12 15 11 25 12-14z"/><path class=c5 d="M2387 630l-11 19 11 9 11-19z"/><path class=c10 d="M2411 559l-12 21 11 11 12-19z"/><path class=c3 d="M2627 650l-12 9 11 18 12-7z"/><path class=c12 d="M2593 526l-11 14 11 20 11-12z"/><path class=c15 d="M2593 491l-11 14 11 21 12-13z"/><path class=c6 d="M2399 610l-12 20 11 9 12-18z"/><path class=c19 d="M2605 437l-11 16 11 23 11-14z"/><path class=c18 d="M2411 452l-11 23 11 15 11-23z"/><path class=c10 d="M2593 560l-12 13 12 19 11-11z"/><path class=c5 d="M2615 631l-11 9 11 19 12-9z"/><path class=c25 d="M2377 363l-11 27 11 16 12-27z"/><path class=c14 d="M2422 504l-11 22 11 13 11-20z"/><path class=c11 d="M2422 539l-11 20 11 13 11-20z"/><path class=c8 d="M2410 591l-11 19 11 11 11-18z"/><path class=c18 d="M2594 453l-12 15 11 23 12-15z"/><path class=c23 d="M2389 379l-12 27 12 15 11-26z"/><path class=c6 d="M2604 611l-11 11 11 18 11-9z"/><path class=c17 d="M2422 467l-11 23 11 14 12-21z"/><path class=c14 d="M2582 505l-12 14 12 21 11-14z"/><path class=c11 d="M2582 540l-12 13 11 20 12-13z"/><path class=c25 d="M2629 364l-12 16 11 27 12-15z"/><path class=c22 d="M2400 395l-11 26 11 15 11-24z"/><path class=c9 d="M2422 572l-12 19 11 12 12-19z"/><path class=c8 d="M2593 592l-12 11 12 19 11-11z"/><path class=c17 d="M2582 468l-11 15 11 22 11-14z"/><path class=c13 d="M2433 519l-11 20 11 13 12-19z"/><path class=c23 d="M2617 380l-11 16 11 26 11-15z"/><path class=c21 d="M2411 412l-11 24 11 16 12-24z"/><path class=c16 d="M2434 483l-12 21 11 15 12-21z"/><path class=c9 d="M2581 573l-11 12 11 18 12-11z"/><path class=c3 d="M2387 658l-12 18 12 7 11-17z"/><path class=c22 d="M2606 396l-12 17 11 24 12-15z"/><path class=c11 d="M2433 552l-11 20 11 12 12-18z"/><path class=c13 d="M2570 519l-11 15 11 19 12-13z"/><path class=c20 d="M2423 428l-12 24 11 15 12-22z"/><path class=c16 d="M2571 483l-12 16 11 20 12-14z"/><path class=c4 d="M2398 639l-11 19 11 8 12-17z"/><path class=c21 d="M2594 413l-12 16 12 24 11-16z"/><path class=c11 d="M2570 553l-11 13 11 19 11-12z"/><path class=c15 d="M2445 498l-12 21 12 14 11-19z"/><path class=c6 d="M2410 621l-12 18 12 10 11-18z"/><path class=c19 d="M2434 445l-12 22 12 16 11-22z"/><path class=c12 d="M2445 533l-12 19 12 14 11-19z"/><path class=c20 d="M2582 429l-11 16 11 23 12-15z"/><path class=c3 d="M2615 659l-11 8 11 18 11-8z"/><path class=c7 d="M2421 603l-11 18 11 10 12-17z"/><path class=c15 d="M2559 499l-11 15 11 20 11-15z"/><path class=c4 d="M2604 640l-12 10 12 17 11-8z"/><path class=c18 d="M2445 461l-11 22 11 15 12-20z"/><path class=c12 d="M2559 534l-12 14 12 18 11-13z"/><path class=c19 d="M2571 445l-12 17 12 21 11-15z"/><path class=c8 d="M2433 584l-12 19 12 11 11-17z"/><path class=c6 d="M2593 622l-12 10 11 18 12-10z"/><path class=c14 d="M2456 514l-11 19 11 14 12-18z"/><path class=c7 d="M2581 603l-11 12 11 17 12-10z"/><path class=c18 d="M2559 462l-11 16 11 21 12-16z"/><path class=c10 d="M2445 566l-12 18 11 13 12-18z"/><path class=c16 d="M2457 478l-12 20 11 16 12-20z"/><path class=c14 d="M2548 514l-12 15 11 19 12-14z"/><path class=c8 d="M2570 585l-12 12 12 18 11-12z"/><path class=c27 d="M2389 335l-12 28 12 16 11-27z"/><path class=c11 d="M2456 547l-11 19 11 13 11-17z"/><path class=c26 d="M2400 352l-11 27 11 16 11-25z"/><path class=c16 d="M2548 478l-12 17 12 19 11-15z"/><path class=c10 d="M2559 566l-12 14 11 17 12-12z"/><path class=c24 d="M2411 370l-11 25 11 17 12-25z"/><path class=c15 d="M2468 494l-12 20 12 15 11-18z"/><path class=c23 d="M2423 387l-12 25 12 16 11-23z"/><path class=c13 d="M2468 529l-12 18 11 15 12-18z"/><path class=c11 d="M2547 548l-11 14 11 18 12-14z"/><path class=c22 d="M2434 405l-11 23 11 17 11-23z"/><path class=c15 d="M2536 495l-11 16 11 18 12-15z"/><path class=c21 d="M2445 422l-11 23 11 16 12-21z"/><path class=c13 d="M2536 529l-11 16 11 17 11-14z"/><path class=c19 d="M2457 440l-12 21 12 17 11-21z"/><path class=c14 d="M2479 511l-11 18 11 15 11-17z"/><path class=c18 d="M2468 457l-11 21 11 16 11-19z"/><path class=c27 d="M2617 336l-11 17 11 27 12-16z"/><path class=c26 d="M2606 353l-12 18 12 25 11-16z"/><path class=c14 d="M2525 511l-12 16 12 18 11-16z"/><path class=c24 d="M2594 371l-11 17 11 25 12-17z"/><path class=c17 d="M2479 475l-11 19 11 17 12-19z"/><path class=c23 d="M2583 388l-12 17 11 24 12-16z"/><path class=c22 d="M2571 405l-11 18 11 22 11-16z"/><path class=c21 d="M2560 423l-12 17 11 22 12-17z"/><path class=c19 d="M2548 440l-11 18 11 20 11-16z"/><path class=c15 d="M2491 492l-12 19 11 16 12-17z"/><path class=c18 d="M2537 458l-12 17 11 20 12-17z"/><path class=c17 d="M2525 475l-12 17 12 19 11-16z"/><path class=c15 d="M2513 492l-11 18 11 17 12-16z"/><path class=c14 d="M2502 510l-12 17 12 17 11-17z"/><path class=c13 d="M2513 527l-11 17 11 16 12-15z"/><path class=c17 d="M2502 474l-11 18 11 18 11-18z"/><path class=c12 d="M2525 545l-12 15 11 17 12-15z"/><path class=c10 d="M2536 562l-12 15 12 16 11-13z"/><path class=c18 d="M2491 455l-12 20 12 17 11-18z"/><path class=c9 d="M2547 580l-11 13 11 16 11-12z"/><path class=c18 d="M2514 455l-12 19 11 18 12-17z"/><path class=c8 d="M2558 597l-11 12 11 17 12-11z"/><path class=c20 d="M2480 437l-12 20 11 18 12-20z"/><path class=c6 d="M2570 615l-12 11 12 16 11-10z"/><path class=c20 d="M2525 437l-11 18 11 20 12-17z"/><path class=c21 d="M2468 418l-11 22 11 17 12-20z"/><path class=c3 d="M2375 676l-11-8 11 9 12 6z"/><path class=c20 d="M2502 436l-11 19 11 19 12-19z"/><path class=c22 d="M2457 400l-12 22 12 18 11-22z"/><path class=c21 d="M2537 419l-12 18 12 21 11-18z"/><path class=c24 d="M2446 381l-12 24 11 17 12-22z"/><path class=c22 d="M2548 400l-11 19 11 21 12-17z"/><path class=c25 d="M2434 363l-11 24 11 18 12-24z"/><path class=c21 d="M2491 416l-11 21 11 18 11-19zM2514 416l-12 20 12 19 11-18z"/><path class=c24 d="M2560 382l-12 18 12 23 11-18z"/><path class=c27 d="M2423 344l-12 26 12 17 11-24z"/><path class=c3 d="M2626 677l-11 8 12-7 11-8z"/><path class=c28 d="M2412 326l-12 26 11 18 12-26z"/><path class=c25 d="M2572 363l-12 19 11 23 12-17z"/><path class=c23 d="M2480 397l-12 21 12 19 11-21z"/><path class=c29 d="M2400 307l-11 28 11 17 12-26z"/><path class=c27 d="M2583 345l-11 18 11 25 11-17z"/><path class=c23 d="M2526 397l-12 19 11 21 12-18zM2503 396l-12 20 11 20 12-20z"/><path class=c28 d="M2595 326l-12 19 11 26 12-18z"/><path class=c24 d="M2468 377l-11 23 11 18 12-21z"/><path class=c29 d="M2606 308l-11 18 11 27 11-17z"/><path class=c24 d="M2537 378l-11 19 11 22 11-19z"/><path class=c26 d="M2457 358l-11 23 11 19 11-23z"/><path class=c24 d="M2491 375l-11 22 11 19 12-20z"/><path class=c5 d="M2341 651l-12-9 11 9 12 9z"/><path class=c24 d="M2514 375l-11 21 11 20 12-19z"/><path class=c26 d="M2549 358l-12 20 11 22 12-18z"/><path class=c27 d="M2446 338l-12 25 12 18 11-23z"/><path class=c3 d="M2387 683l-12-6 11 8 12 6z"/><path class=c27 d="M2560 339l-11 19 11 24 12-19z"/><path class=c26 d="M2480 355l-12 22 12 20 11-22z"/><path class=c29 d="M2434 318l-11 26 11 19 12-25z"/><path class=c26 d="M2526 355l-12 20 12 22 11-19zM2503 354l-12 21 12 21 11-21z"/><path class=c29 d="M2572 319l-12 20 12 24 11-18z"/><path class=c3 d="M2615 685l-11 7 11-6 12-8z"/><path class=c30 d="M2423 299l-11 27 11 18 11-26z"/><path class=c28 d="M2469 334l-12 24 11 19 12-22zM2537 334l-11 21 11 23 12-20z"/><path class=c32 d="M2412 279l-12 28 12 19 11-27z"/><path class=c30 d="M2583 300l-11 19 11 26 12-19z"/><path class=c28 d="M2492 332l-12 23 11 20 12-21zM2514 332l-11 22 11 21 12-20z"/><path class=c29 d="M2457 313l-11 25 11 20 12-24z"/><path class=c32 d="M2595 280l-12 20 12 26 11-18z"/><path class=c5 d="M2352 660l-12-9 12 10 12 7z"/><path class=c29 d="M2549 314l-12 20 12 24 11-19z"/><path class=c31 d="M2446 293l-12 25 12 20 11-25z"/><path class=c30 d="M2480 310l-11 24 11 21 12-23z"/><path class=c5 d="M2650 661l-12 9 12-8 11-9z"/><path class=c30 d="M2526 310l-12 22 12 23 11-21z"/><path class=c31 d="M2561 293l-12 21 11 25 12-20z"/><path class=c30 d="M2503 309l-11 23 11 22 11-22z"/><path class=c33 d="M2435 272l-12 27 11 19 12-25zM2572 273l-11 20 11 26 11-19z"/><path class=c31 d="M2469 289l-12 24 12 21 11-24zM2538 289l-12 21 11 24 12-20z"/><path class=c34 d="M2423 251l-11 28 11 20 12-27z"/><path class=c4 d="M2364 668l-12-7 11 9 12 7z"/><path class=c32 d="M2492 287l-12 23 12 22 11-23zM2515 287l-12 22 11 23 12-22z"/><path class=c34 d="M2584 252l-12 21 11 27 12-20z"/><path class=c33 d="M2457 267l-11 26 11 20 12-24z"/><path class=c7 d="M2318 632l-12-11 11 11 12 10z"/><path class=c33 d="M2549 267l-11 22 11 25 12-21z"/><path class=c4 d="M2638 670l-11 8 11-6 12-10z"/><path class=c33 d="M2480 264l-11 25 11 21 12-23z"/><path class=c35 d="M2446 245l-11 27 11 21 11-26z"/><path class=c33 d="M2526 264l-11 23 11 23 12-21z"/><path class=c7 d="M2684 634l-11 9 12-9 11-11z"/><path class=c34 d="M2503 263l-11 24 11 22 12-22z"/><path class=c35 d="M2561 246l-12 21 12 26 11-20z"/><path class=c4 d="M2375 677l-12-7 11 10 12 5z"/><path class=c37 d="M2435 223l-12 28 12 21 11-27z"/><path class=c7 d="M2329 642l-12-10 11 10 12 9z"/><path class=c35 d="M2469 241l-12 26 12 22 11-25zM2538 241l-12 23 12 25 11-22z"/><path class=c37 d="M2573 224l-12 22 11 27 12-21z"/><path class=c4 d="M2627 678l-12 8 12-5 11-9z"/><path class=c36 d="M2492 239l-12 25 12 23 11-24zM2515 239l-12 24 12 24 11-23z"/><path class=c7 d="M2673 643l-12 10 12-9 12-10z"/><path class=c37 d="M2458 218l-12 27 11 22 12-26zM2550 218l-12 23 11 26 12-21z"/><path class=c6 d="M2340 651l-12-9 11 11 13 8z"/><path class=c37 d="M2481 215l-12 26 11 23 12-25zM2527 215l-12 24 11 25 12-23z"/><path class=c38 d="M2504 214l-12 25 11 24 12-24z"/><path class=c39 d="M2446 195l-11 28 11 22 12-27z"/><path class=c3 d="M2615 686l-11 9 11-5 12-9z"/><path class=c6 d="M2661 653l-11 9 12-7 11-11z"/><path class=c39 d="M2561 196l-11 22 11 28 12-22z"/><path class=c9 d="M2295 611l-13-12 12 12 12 10z"/><path class=c39 d="M2469 191l-11 27 11 23 12-26zM2538 191l-11 24 11 26 12-23z"/><path class=c6 d="M2352 661l-13-8 12 11 12 6z"/><path class=c40 d="M2492 189l-11 26 11 24 12-25zM2515 189l-11 25 11 25 12-24z"/><path class=c6 d="M2650 662l-12 10 12-7 12-10z"/><path class=c41 d="M2458 167l-12 28 12 23 11-27z"/><path class=c9 d="M2306 621l-12-10 11 11 12 10z"/><path class=c41 d="M2550 167l-12 24 12 27 11-22z"/><path class=c5 d="M2363 670l-12-6 11 10 12 6z"/><path class=c42 d="M2481 164l-12 27 12 24 11-26zM2527 164l-12 25 12 26 11-24z"/><path class=c9 d="M2696 623l-11 11 12-10 11-11z"/><path class=c42 d="M2504 163l-12 26 12 25 11-25z"/><path class=c5 d="M2638 672l-11 9 12-6 11-10z"/><path class=c8 d="M2317 632l-12-10 11 12 12 8z"/><path class=c5 d="M2374 680l-12-6 11 11 12 4z"/><path class=c44 d="M2469 139l-11 28 11 24 12-27z"/><path class=c8 d="M2685 634l-12 10 12-9 12-11z"/><path class=c44 d="M2539 139l-12 25 11 27 12-24zM2492 137l-11 27 11 25 12-26zM2516 137l-12 26 11 26 12-25z"/><path class=c5 d="M2627 681l-12 9 12-4 12-11z"/><path class=c8 d="M2328 642l-12-8 11 11 12 8zM2673 644l-11 11 12-8 11-12z"/><path class=c12 d="M2271 588l-12-13 11 12 12 12z"/><path class=c7 d="M2339 653l-12-8 12 12 12 7z"/><path class=c4 d="M2615 690l-11 10 12-4 11-10z"/><path class=c46 d="M2481 110l-12 29 12 25 11-27zM2527 111l-11 26 11 27 12-25zM2504 109l-12 28 12 26 12-26z"/><path class=c11 d="M2282 599l-12-12 11 13 13 11z"/><path class=c7 d="M2662 655l-12 10 12-7 12-11z"/><path class=c6 d="M2351 664l-12-7 11 11 12 6z"/><path class=c11 d="M2720 601l-12 12 12-11 12-13zM2294 611l-13-11 11 12 13 10z"/><path class=c6 d="M2650 665l-11 10 12-5 11-12z"/><path class=c49 d="M2493 82l-12 28 11 27 12-28zM2516 82l-12 27 12 28 11-26z"/><path class=c11 d="M2708 613l-11 11 12-10 11-12z"/><path class=c6 d="M2362 674l-12-6 11 12 12 5z"/><path class=c10 d="M2305 622l-13-10 12 13 12 9z"/><path class=c6 d="M2639 675l-12 11 12-5 12-11z"/><path class=c10 d="M2697 624l-12 11 12-8 12-13z"/><path class=c16 d="M2236 549l-13-15 12 14 12 14z"/><path class=c9 d="M2316 634l-12-9 11 12 12 8z"/><path class=c5 d="M2373 685l-12-5 12 12 12 3z"/><path class=c51 d="M2504 54l-11 28 11 27 12-27z"/><path class=c5 d="M2627 686l-11 10 11-3 12-12z"/><path class=c15 d="M2247 562l-12-14 11 13 13 14z"/><path class=c9 d="M2685 635l-11 12 12-8 11-12z"/><path class=c8 d="M2327 645l-12-8 12 13 12 7z"/><path class=c14 d="M2259 575l-13-14 11 14 13 12z"/><path class=c15 d="M2755 564l-12 13 13-13 11-14z"/><path class=c8 d="M2674 647l-12 11 12-6 12-13zM2339 657l-12-7 11 13 12 5z"/><path class=c13 d="M2270 587l-13-12 12 14 12 11z"/><path class=c14 d="M2743 577l-11 12 12-12 12-13z"/><path class=c8 d="M2662 658l-11 12 11-6 12-12z"/><path class=c7 d="M2350 668l-12-5 11 12 12 5z"/><path class=c12 d="M2281 600l-12-11 11 13 12 10z"/><path class=c13 d="M2732 589l-12 13 13-11 11-14z"/><path class=c7 d="M2651 670l-12 11 12-4 11-13z"/><path class=c11 d="M2292 612l-12-10 11 14 13 9z"/><path class=c12 d="M2720 602l-11 12 12-10 12-13z"/><path class=c6 d="M2361 680l-12-5 12 13 12 4zM2639 681l-12 12 12-4 12-12z"/><path class=c11 d="M2709 614l-12 13 12-9 12-14zM2304 625l-13-9 12 14 12 7z"/><path class=c5 d="M2373 692l-12-4 11 13 12 2z"/><path class=c11 d="M2697 627l-11 12 12-7 11-14z"/><path class=c5 d="M2627 693l-11 12 11-3 12-13z"/><path class=c10 d="M2315 637l-12-7 11 13 13 7z"/><path class=c18 d="M2223 534l-12-15 11 14 13 15z"/><path class=c19 d="M2791 523l-12 14 13-15 11-15z"/><path class=c10 d="M2686 639l-12 13 12-7 12-13z"/><path class=c17 d="M2235 548l-13-15 11 15 13 13z"/><path class=c9 d="M2327 650l-13-7 12 14 12 6z"/><path class=c18 d="M2779 537l-12 13 13-14 12-14z"/><path class=c16 d="M2246 561l-13-13 12 15 12 12z"/><path class=c9 d="M2674 652l-12 12 12-5 12-14z"/><path class=c8 d="M2338 663l-12-6 11 14 12 4z"/><path class=c17 d="M2767 550l-11 14 12-13 12-15z"/><path class=c15 d="M2257 575l-12-12 11 15 13 11z"/><path class=c8 d="M2662 664l-11 13 12-5 11-13z"/><path class=c16 d="M2756 564l-12 13 13-12 11-14z"/><path class=c7 d="M2349 675l-12-4 12 13 12 4z"/><path class=c14 d="M2269 589l-13-11 12 14 12 10z"/><path class=c15 d="M2744 577l-11 14 12-11 12-15z"/><path class=c7 d="M2651 677l-12 12 12-3 12-14z"/><path class=c6 d="M2361 688l-12-4 11 14 12 3z"/><path class=c13 d="M2280 602l-12-10 11 15 12 9z"/><path class=c14 d="M2733 591l-12 13 12-9 12-15z"/><path class=c6 d="M2639 689l-12 13 12-2 12-14z"/><path class=c12 d="M2291 616l-12-9 12 15 12 8z"/><path class=c6 d="M2372 701l-12-3 11 14 12 1z"/><path class=c13 d="M2721 604l-12 14 12-9 12-14z"/><path class=c11 d="M2303 630l-12-8 11 15 12 6z"/><path class=c6 d="M2627 702l-11 13 12-2 11-13z"/><path class=c12 d="M2709 618l-11 14 12-8 11-15z"/><path class=c22 d="M2188 489l-13-17 11 16 13 16z"/><path class=c10 d="M2314 643l-12-6 11 14 13 6z"/><path class=c11 d="M2698 632l-12 13 12-7 12-14z"/><path class=c21 d="M2199 504l-13-16 12 15 13 16z"/><path class=c9 d="M2326 657l-13-6 12 15 12 5z"/><path class=c10 d="M2686 645l-12 14 12-6 12-15z"/><path class=c20 d="M2211 519l-13-16 11 16 13 14z"/><path class=c8 d="M2337 671l-12-5 11 15 13 3z"/><path class=c19 d="M2222 533l-13-14 12 16 12 13z"/><path class=c9 d="M2674 659l-11 13 12-4 11-15z"/><path class=c18 d="M2233 548l-12-13 11 16 13 12z"/><path class=c7 d="M2349 684l-13-3 12 15 12 2z"/><path class=c8 d="M2663 672l-12 14 12-4 12-14z"/><path class=c17 d="M2245 563l-13-12 12 15 12 12z"/><path class=c19 d="M2780 536l-12 15 13-14 11-15z"/><path class=c7 d="M2651 686l-12 14 12-3 12-15z"/><path class=c6 d="M2360 698l-12-2 11 14 12 2z"/><path class=c16 d="M2256 578l-12-12 11 16 13 10z"/><path class=c18 d="M2768 551l-11 14 12-12 12-16z"/><path class=c15 d="M2268 592l-13-10 12 16 12 9z"/><path class=c6 d="M2639 700l-11 13 11-1 12-15z"/><path class=c17 d="M2757 565l-12 15 12-11 12-16z"/><path class=c14 d="M2279 607l-12-9 11 16 13 8z"/><path class=c16 d="M2745 580l-12 15 12-10 12-16z"/><path class=c13 d="M2291 622l-13-8 12 16 12 7z"/><path class=c15 d="M2733 595l-12 14 13-9 11-15z"/><path class=c14 d="M2721 609l-11 15 12-8 12-16z"/><path class=c12 d="M2302 637l-12-7 11 15 12 6z"/><path class=c13 d="M2710 624l-12 14 12-6 12-16z"/><path class=c10 d="M2313 651l-12-6 12 16 12 5z"/><path class=c12 d="M2698 638l-12 15 12-6 12-15z"/><path class=c9 d="M2325 666l-12-5 11 16 12 4z"/><path class=c10 d="M2686 653l-11 15 12-5 11-16z"/><path class=c8 d="M2336 681l-12-4 12 16 12 3z"/><path class=c9 d="M2675 668l-12 14 12-3 12-16z"/><path class=c7 d="M2348 696l-12-3 11 16 12 1z"/><path class=c25 d="M2175 472l-13-18 11 17 13 17z"/><path class=c8 d="M2663 682l-12 15 12-2 12-16z"/><path class=c23 d="M2186 488l-13-17 12 17 13 15z"/><path class=c6 d="M2359 710l-12-1 12 16 12 0z"/><path class=c7 d="M2651 697l-12 15 12-2 12-15z"/><path class=c22 d="M2198 503l-13-15 11 17 13 14z"/><path class=c21 d="M2209 519l-13-14 12 16 13 14z"/><path class=c6 d="M2639 712l-11 14 12 0 11-16z"/><path class=c20 d="M2221 535l-13-14 11 17 13 13z"/><path class=c19 d="M2232 551l-13-13 12 17 13 11z"/><path class=c25 d="M2828 475l-12 15 13-16 12-17z"/><path class=c23 d="M2816 490l-12 16 13-15 12-17z"/><path class=c18 d="M2244 566l-13-11 11 17 13 10z"/><path class=c22 d="M2804 506l-12 16 13-15 12-16z"/><path class=c2 d="M2429 781l-12 4 11-4 12-2z"/><path class=c16 d="M2255 582l-13-10 12 17 13 9z"/><path class=c21 d="M2792 522l-11 15 12-13 12-17z"/><path class=c15 d="M2267 598l-13-9 12 17 12 8z"/><path class=c20 d="M2781 537l-12 16 13-12 11-17z"/><path class=c14 d="M2278 614l-12-8 11 17 13 7z"/><path class=c19 d="M2769 553l-12 16 13-11 12-17z"/><path class=c18 d="M2757 569l-12 16 13-10 12-17z"/><path class=c13 d="M2290 630l-13-7 12 17 12 5z"/><path class=c16 d="M2745 585l-11 15 12-9 12-16z"/><path class=c12 d="M2301 645l-12-5 11 17 13 4z"/><path class=c15 d="M2734 600l-12 16 12-8 12-17z"/><path class=c10 d="M2313 661l-13-4 12 16 12 4z"/><path class=c14 d="M2722 616l-12 16 12-7 12-17z"/><path class=c9 d="M2324 677l-12-4 11 17 13 3z"/><path class=c3 d="M2476 773l-12 2 11-2 12 0z"/><path class=c13 d="M2710 632l-12 15 13-5 11-17z"/><path class=c8 d="M2336 693l-13-3 12 17 12 2z"/><path class=c12 d="M2698 647l-11 16 12-5 12-16z"/><path class=c10 d="M2687 663l-12 16 12-4 12-17z"/><path class=c7 d="M2347 709l-12-2 12 17 12 1z"/><path class=c9 d="M2675 679l-12 16 12-3 12-17z"/><path class=c8 d="M2663 695l-12 15 12-1 12-17z"/><path class=c2 d="M2417 785l-12 3 11-4 12-3z"/><path class=c7 d="M2651 710l-11 16 11 0 12-17z"/><path class=c6 d="M2640 726l-12 16 12 0 11-16z"/><path class=c3 d="M2440 779l-12 2 12-3 12-2zM2557 779l-11-2 11 1 12 4z"/><path class=c27 d="M2162 454l-14-18 12 18 13 17z"/><path class=c26 d="M2173 471l-13-17 12 18 13 16z"/><path class=c3 d="M2464 775l-12 1 11-2 12-1z"/><path class=c24 d="M2185 488l-13-16 11 18 13 15z"/><path class=c23 d="M2196 505l-13-15 12 18 13 13z"/><path class=c3 d="M2534 775l-12-1 12 0 12 3z"/><path class=c22 d="M2208 521l-13-13 12 18 12 12z"/><path class=c21 d="M2219 538l-12-12 11 18 13 11z"/><path class=c19 d="M2231 555l-13-11 12 18 12 10z"/><path class=c18 d="M2242 572l-12-10 11 18 13 9z"/><path class=c17 d="M2254 589l-13-9 12 18 13 8z"/><path class=c3 d="M2487 773l-12 0 12-1 12 0zM2510 773l-11-1 11 0 12 2z"/><path class=c15 d="M2266 606l-13-8 12 18 12 7z"/><path class=c14 d="M2277 623l-12-7 11 18 13 6z"/><path class=c13 d="M2289 640l-13-6 12 18 12 5z"/><path class=c12 d="M2300 657l-12-5 12 18 12 3z"/><path class=c2 d="M2405 788l-12 4 11-5 12-3z"/><path class=c10 d="M2312 673l-12-3 11 18 12 2z"/><path class=c9 d="M2323 690l-12-2 12 18 12 1z"/><path class=c8 d="M2335 707l-12-1 11 18 13 0z"/><path class=c6 d="M2347 724l-13 0 12 18 12-1z"/><path class=c2 d="M2592 789l-11-4 12 2 11 6z"/><path class=c27 d="M2841 457l-12 17 13-17 12-18z"/><path class=c26 d="M2829 474l-12 17 13-16 12-18z"/><path class=c24 d="M2817 491l-12 16 13-14 12-18z"/><path class=c23 d="M2805 507l-12 17 13-13 12-18z"/><path class=c22 d="M2793 524l-11 17 12-12 12-18z"/><path class=c21 d="M2782 541l-12 17 12-11 12-18z"/><path class=c19 d="M2770 558l-12 17 12-11 12-17z"/><path class=c18 d="M2758 575l-12 16 12-9 12-18z"/><path class=c17 d="M2746 591l-12 17 13-8 11-18z"/><path class=c15 d="M2734 608l-12 17 13-7 12-18z"/><path class=c14 d="M2722 625l-11 17 12-6 12-18z"/><path class=c13 d="M2711 642l-12 16 12-4 12-18z"/><path class=c12 d="M2699 658l-12 17 12-3 12-18z"/><path class=c10 d="M2687 675l-12 17 12-2 12-18z"/><path class=c9 d="M2675 692l-12 17 12-2 12-17z"/><path class=c8 d="M2663 709l-12 17 12-1 12-18z"/><path class=c6 d="M2651 726l-11 16 12 1 11-18z"/><path class=c3 d="M2428 781l-12 3 12-4 12-2zM2569 782l-12-4 12 2 12 5z"/><path class=c4 d="M2452 776l-12 2 11-3 12-1zM2546 777l-12-3 12 1 11 3z"/><path class=c3 d="M2393 792l-12 4 11-7 12-2z"/><path class=c4 d="M2475 773l-12 1 12-2 12 0zM2522 774l-12-2 12 0 12 2z"/><path class=c3 d="M2604 793l-11-6 11 3 12 7z"/><path class=c4 d="M2499 772l-12 0 11-1 12 1z"/><path class=c7 d="M2334 724l-12-1 12 19 12 0z"/><path class=c8 d="M2323 706l-12-2 11 19 12 1z"/><path class=c10 d="M2311 688l-12-3 12 19 12 2z"/><path class=c11 d="M2300 670l-13-4 12 19 12 3z"/><path class=c13 d="M2288 652l-13-5 12 19 13 4z"/><path class=c7 d="M2663 725l-11 18 12 1 11-19z"/><path class=c14 d="M2276 634l-12-6 11 19 13 5z"/><path class=c3 d="M2416 784l-12 3 12-6 12-1z"/><path class=c15 d="M2265 616l-13-7 12 19 12 6z"/><path class=c8 d="M2675 707l-12 18 12 0 12-19z"/><path class=c17 d="M2253 598l-13-8 12 19 13 7z"/><path class=c10 d="M2687 690l-12 17 12-1 12-19z"/><path class=c18 d="M2241 580l-12-9 11 19 13 8z"/><path class=c3 d="M2581 785l-12-5 12 2 12 5z"/><path class=c20 d="M2230 562l-13-10 12 19 12 9z"/><path class=c11 d="M2699 672l-12 18 12-3 12-19z"/><path class=c21 d="M2218 544l-13-11 12 19 13 10z"/><path class=c13 d="M2711 654l-12 18 12-4 12-19z"/><path class=c22 d="M2207 526l-13-13 11 20 13 11z"/><path class=c14 d="M2723 636l-12 18 12-5 12-19z"/><path class=c24 d="M2195 508l-13-14 12 19 13 13z"/><path class=c25 d="M2183 490l-13-15 12 19 13 14z"/><path class=c15 d="M2735 618l-12 18 12-6 12-19z"/><path class=c27 d="M2172 472l-14-16 12 19 13 15z"/><path class=c17 d="M2747 600l-12 18 12-7 12-19z"/><path class=c3 d="M2381 796l-12 3 11-7 12-3z"/><path class=c28 d="M2160 454l-13-17 11 19 14 16z"/><path class=c4 d="M2440 778l-12 2 11-5 12 0z"/><path class=c18 d="M2758 582l-11 18 12-8 12-19z"/><path class=c29 d="M2148 436l-13-18 12 19 13 17z"/><path class=c4 d="M2557 778l-11-3 11 1 12 4z"/><path class=c20 d="M2770 564l-12 18 13-9 12-19z"/><path class=c3 d="M2616 797l-12-7 12 3 12 8z"/><path class=c21 d="M2782 547l-12 17 13-10 12-19z"/><path class=c22 d="M2794 529l-12 18 13-12 12-19z"/><path class=c24 d="M2806 511l-12 18 13-13 12-19z"/><path class=c5 d="M2463 774l-12 1 12-4 12 1z"/><path class=c25 d="M2818 493l-12 18 13-14 12-19z"/><path class=c5 d="M2534 774l-12-2 12 0 12 3z"/><path class=c6 d="M2334 742l-12 1 11 20 13-2z"/><path class=c27 d="M2830 475l-12 18 13-15 12-19z"/><path class=c5 d="M2487 772l-12 0 11-3 12 2zM2510 772l-12-1 12-2 12 3z"/><path class=c28 d="M2842 457l-12 18 13-16 12-19z"/><path class=c8 d="M2322 723l-12 0 12 20 12-1z"/><path class=c29 d="M2854 439l-12 18 13-17 12-19z"/><path class=c9 d="M2311 704l-13-1 12 20 12 0z"/><path class=c6 d="M2664 744l-12 19 12 1 12-20z"/><path class=c4 d="M2404 787l-12 2 12-6 12-2z"/><path class=c11 d="M2299 685l-13-3 12 21 13 1z"/><path class=c8 d="M2675 725l-11 19 12 0 11-20z"/><path class=c4 d="M2593 787l-12-5 12 2 11 6z"/><path class=c12 d="M2287 666l-12-4 11 20 13 3z"/><path class=c9 d="M2687 706l-12 19 12-1 12-20z"/><path class=c14 d="M2275 647l-12-5 12 20 12 4z"/><path class=c3 d="M2369 799l-12 4 11-8 12-3z"/><path class=c11 d="M2699 687l-12 19 12-2 12-20z"/><path class=c15 d="M2264 628l-13-6 12 20 12 5z"/><path class=c5 d="M2428 780l-12 1 11-5 12-1z"/><path class=c12 d="M2711 668l-12 19 12-3 12-20z"/><path class=c3 d="M2628 801l-12-8 12 3 12 8z"/><path class=c17 d="M2252 609l-13-7 12 20 13 6z"/><path class=c5 d="M2569 780l-12-4 12 1 12 5z"/><path class=c14 d="M2723 649l-12 19 12-4 12-20z"/><path class=c18 d="M2240 590l-12-8 11 20 13 7z"/><path class=c15 d="M2735 630l-12 19 12-5 12-20z"/><path class=c20 d="M2229 571l-13-10 12 21 12 8z"/><path class=c7 d="M2322 743l-13 0 12 21 12-1z"/><path class=c5 d="M2451 775l-12 0 12-4 12 0z"/><path class=c21 d="M2217 552l-13-11 12 20 13 10z"/><path class=c17 d="M2747 611l-12 19 12-6 12-20z"/><path class=c5 d="M2546 775l-12-3 12-1 11 5z"/><path class=c23 d="M2205 533l-13-12 12 20 13 11z"/><path class=c18 d="M2759 592l-12 19 12-7 13-20z"/><path class=c4 d="M2392 789l-12 3 12-8 12-1z"/><path class=c8 d="M2310 723l-12-1 11 21 13 0z"/><path class=c5 d="M2475 772l-12-1 12-3 11 1z"/><path class=c7 d="M2676 744l-12 20 12 2 12-21z"/><path class=c5 d="M2522 772l-12-3 12-1 12 4z"/><path class=c24 d="M2194 513l-13-12 11 20 13 12z"/><path class=c20 d="M2771 573l-12 19 13-8 12-20z"/><path class=c6 d="M2498 771l-12-2 12-2 12 2z"/><path class=c4 d="M2604 790l-11-6 12 2 11 7z"/><path class=c10 d="M2298 703l-12-2 12 21 12 1z"/><path class=c26 d="M2182 494l-13-13 12 20 13 12z"/><path class=c21 d="M2783 554l-12 19 13-9 12-20z"/><path class=c8 d="M2687 724l-11 20 12 1 12-21z"/><path class=c3 d="M2357 803l-12 4 11-10 12-2z"/><path class=c27 d="M2170 475l-13-15 12 21 13 13z"/><path class=c11 d="M2286 682l-12-2 12 21 12 2z"/><path class=c23 d="M2795 535l-12 19 13-10 12-20z"/><path class=c29 d="M2158 456l-13-16 12 20 13 15z"/><path class=c3 d="M2640 804l-12-8 12 3 12 9z"/><path class=c10 d="M2699 704l-12 20 13 0 12-21z"/><path class=c24 d="M2807 516l-12 19 13-11 12-20z"/><path class=c30 d="M2147 437l-14-17 12 20 13 16z"/><path class=c13 d="M2275 662l-13-3 12 21 12 2z"/><path class=c5 d="M2416 781l-12 2 11-7 12 0z"/><path class=c26 d="M2819 497l-12 19 13-12 12-20z"/><path class=c32 d="M2135 418l-13-18 11 20 14 17z"/><path class=c11 d="M2711 684l-12 20 13-1 12-21z"/><path class=c5 d="M2321 764l-12 2 12 22 12-2zM2581 782l-12-5 12 0 12 7z"/><path class=c15 d="M2263 642l-13-5 12 22 13 3z"/><path class=c27 d="M2831 478l-12 19 13-13 12-20z"/><path class=c13 d="M2723 664l-12 20 13-2 12-21z"/><path class=c29 d="M2843 459l-12 19 13-14 12-21z"/><path class=c5 d="M2676 766l-12 21 12 3 12-22z"/><path class=c16 d="M2251 622l-12-6 11 21 13 5z"/><path class=c7 d="M2309 743l-12 1 12 22 12-2z"/><path class=c6 d="M2439 775l-12 1 12-6 12 1z"/><path class=c5 d="M2380 792l-12 3 11-9 13-2z"/><path class=c30 d="M2855 440l-12 19 13-16 12-20z"/><path class=c15 d="M2735 644l-12 20 13-3 12-21z"/><path class=c6 d="M2557 776l-11-5 11 0 12 6z"/><path class=c18 d="M2239 602l-12-7 12 21 12 6z"/><path class=c32 d="M2867 421l-12 19 13-17 12-20z"/><path class=c9 d="M2298 722l-13 0 12 22 12-1z"/><path class=c7 d="M2688 745l-12 21 12 2 12-22z"/><path class=c5 d="M2616 793l-11-7 12 1 11 9z"/><path class=c4 d="M2345 807l-13 3 12-10 12-3z"/><path class=c16 d="M2747 624l-12 20 13-4 12-21z"/><path class=c20 d="M2228 582l-13-9 12 22 12 7z"/><path class=c6 d="M2463 771l-12 0 11-5 13 2zM2534 772l-12-4 12-1 12 4z"/><path class=c11 d="M2286 701l-13-2 12 23 13 0z"/><path class=c6 d="M2486 769l-11-1 11-4 12 3z"/><path class=c4 d="M2652 808l-12-9 12 2 12 11z"/><path class=c9 d="M2700 724l-12 21 12 1 12-22z"/><path class=c6 d="M2510 769l-12-2 12-2 12 3z"/><path class=c18 d="M2759 604l-12 20 13-5 12-22z"/><path class=c21 d="M2216 561l-13-9 12 21 13 9z"/><path class=c23 d="M2204 541l-13-10 12 21 13 9z"/><path class=c20 d="M2772 584l-13 20 13-7 12-21z"/><path class=c6 d="M2404 783l-12 1 11-7 12-1z"/><path class=c12 d="M2274 680l-13-3 12 22 13 2z"/><path class=c6 d="M2309 766l-13 2 12 23 13-3z"/><path class=c11 d="M2712 703l-12 21 12 0 12-22z"/><path class=c6 d="M2593 784l-12-7 12 1 12 8z"/><path class=c24 d="M2192 521l-13-11 12 21 13 10z"/><path class=c21 d="M2784 564l-12 20 12-8 12-21z"/><path class=c14 d="M2262 659l-12-4 11 22 13 3z"/><path class=c6 d="M2688 768l-12 22 12 3 12-23z"/><path class=c12 d="M2724 682l-12 21 12-1 12-23z"/><path class=c26 d="M2181 501l-14-13 12 22 13 11z"/><path class=c8 d="M2297 744l-12 0 11 24 13-2z"/><path class=c23 d="M2796 544l-12 20 12-9 12-21z"/><path class=c5 d="M2368 795l-12 2 11-9 12-2z"/><path class=c6 d="M2427 776l-12 0 12-6 12 0z"/><path class=c16 d="M2250 637l-12-5 12 23 12 4z"/><path class=c4 d="M2332 810l-12 4 11-11 13-3z"/><path class=c28 d="M2169 481l-13-14 11 21 14 13z"/><path class=c5 d="M2628 796l-11-9 12 2 11 10z"/><path class=c14 d="M2736 661l-12 21 12-3 12-22z"/><path class=c24 d="M2808 524l-12 20 12-10 12-21z"/><path class=c6 d="M2569 777l-12-6 12 0 12 6z"/><path class=c8 d="M2700 746l-12 22 12 2 12-24z"/><path class=c9 d="M2285 722l-12-1 12 23 12 0z"/><path class=c29 d="M2157 460l-13-15 12 22 13 14z"/><path class=c4 d="M2664 812l-12-11 12 3 12 12z"/><path class=c18 d="M2239 616l-13-6 12 22 12 5z"/><path class=c26 d="M2820 504l-12 20 12-11 13-22z"/><path class=c16 d="M2748 640l-12 21 12-4 12-22z"/><path class=c7 d="M2451 771l-12-1 11-5 12 1z"/><path class=c31 d="M2145 440l-13-16 12 21 13 15z"/><path class=c7 d="M2546 771l-12-4 11-2 12 6z"/><path class=c9 d="M2712 724l-12 22 12 0 12-23z"/><path class=c28 d="M2832 484l-12 20 13-13 12-21z"/><path class=c11 d="M2273 699l-12-1 12 23 12 1z"/><path class=c19 d="M2227 595l-13-7 12 22 13 6z"/><path class=c6 d="M2296 768l-12 1 12 25 12-3z"/><path class=c7 d="M2475 768l-13-2 12-4 12 2z"/><path class=c33 d="M2133 420l-13-17 12 21 13 16z"/><path class=c6 d="M2392 784l-13 2 12-8 12-1z"/><path class=c7 d="M2522 768l-12-3 12-3 12 5z"/><path class=c18 d="M2760 619l-12 21 12-5 12-22z"/><path class=c7 d="M2498 767l-12-3 12-3 12 4z"/><path class=c29 d="M2844 464l-12 20 13-14 12-21z"/><path class=c6 d="M2605 786l-12-8 12 1 12 8z"/><path class=c34 d="M2122 400l-14-19 12 22 13 17z"/><path class=c21 d="M2215 573l-13-8 12 23 13 7z"/><path class=c11 d="M2724 702l-12 22 12-1 12-23z"/><path class=c13 d="M2261 677l-12-3 12 24 12 1z"/><path class=c6 d="M2700 770l-12 23 12 3 12-25z"/><path class=c31 d="M2856 443l-12 21 13-15 12-22z"/><path class=c19 d="M2772 597l-12 22 12-6 13-23z"/><path class=c5 d="M2356 797l-12 3 11-11 12-1z"/><path class=c8 d="M2285 744l-13 1 12 24 12-1z"/><path class=c4 d="M2320 814l-12 4 11-13 12-2z"/><path class=c23 d="M2203 552l-13-9 12 22 13 8z"/><path class=c33 d="M2868 423l-12 20 13-16 12-21z"/><path class=c5 d="M2640 799l-11-10 12 2 11 10z"/><path class=c15 d="M2250 655l-13-4 12 23 12 3z"/><path class=c13 d="M2736 679l-12 23 12-2 12-23z"/><path class=c4 d="M2296 794l-12 2 12 26 12-4z"/><path class=c21 d="M2784 576l-12 21 13-7 12-22z"/><path class=c7 d="M2415 776l-12 1 11-7 13 0z"/><path class=c4 d="M2676 816l-12-12 12 3 12 13z"/><path class=c8 d="M2712 746l-12 24 12 1 12-24z"/><path class=c24 d="M2191 531l-13-11 12 23 13 9z"/><path class=c7 d="M2581 777l-12-6 12-1 12 8z"/><path class=c34 d="M2880 403l-12 20 13-17 12-21z"/><path class=c10 d="M2273 721l-13 0 12 24 13-1z"/><path class=c4 d="M2700 796l-12 24 12 4 12-26z"/><path class=c23 d="M2796 555l-12 21 13-8 12-22z"/><path class=c17 d="M2238 632l-13-5 12 24 13 4z"/><path class=c15 d="M2748 657l-12 22 12-2 13-24z"/><path class=c26 d="M2179 510l-13-12 12 22 13 11z"/><path class=c8 d="M2439 770l-12 0 11-7 12 2z"/><path class=c7 d="M2284 769l-12 2 12 25 12-2z"/><path class=c10 d="M2724 723l-12 23 12 1 12-24z"/><path class=c8 d="M2557 771l-12-6 12-1 12 7z"/><path class=c24 d="M2808 534l-12 21 13-9 12-23z"/><path class=c7 d="M2379 786l-12 2 11-10 13 0z"/><path class=c12 d="M2261 698l-13-2 12 25 13 0z"/><path class=c28 d="M2167 488l-13-13 12 23 13 12z"/><path class=c19 d="M2226 610l-13-6 12 23 13 5z"/><path class=c17 d="M2760 635l-12 22 13-4 12-23z"/><path class=c7 d="M2617 787l-12-8 12 0 12 10z"/><path class=c8 d="M2462 766l-12-1 12-6 12 3z"/><path class=c7 d="M2712 771l-12 25 12 2 12-25z"/><path class=c8 d="M2534 767l-12-5 12-2 11 5z"/><path class=c4 d="M2308 818l-12 4 11-14 12-3z"/><path class=c26 d="M2820 513l-12 21 13-11 12-22z"/><path class=c6 d="M2344 800l-13 3 12-12 12-2z"/><path class=c30 d="M2156 467l-14-14 12 22 13 13z"/><path class=c8 d="M2486 764l-12-2 12-4 12 3zM2510 765l-12-4 12-3 12 4z"/><path class=c9 d="M2272 745l-12 0 12 26 12-2z"/><path class=c12 d="M2736 700l-12 23 12 0 13-24z"/><path class=c21 d="M2214 588l-13-7 12 23 13 6z"/><path class=c5 d="M2284 796l-13 3 12 26 13-3z"/><path class=c14 d="M2249 674l-13-2 12 24 13 2z"/><path class=c19 d="M2772 613l-12 22 13-5 12-23z"/><path class=c6 d="M2652 801l-11-10 12 2 11 11z"/><path class=c4 d="M2688 820l-12-13 12 3 12 14z"/><path class=c28 d="M2833 491l-13 22 13-12 13-22z"/><path class=c31 d="M2144 445l-14-15 12 23 14 14z"/><path class=c8 d="M2403 777l-12 1 11-9 12 1z"/><path class=c9 d="M2724 747l-12 24 12 2 12-25z"/><path class=c5 d="M2712 798l-12 26 12 4 12-27z"/><path class=c22 d="M2202 565l-13-8 12 24 13 7z"/><path class=c14 d="M2748 677l-12 23 13-1 12-25z"/><path class=c8 d="M2593 778l-12-8 12 0 12 9z"/><path class=c21 d="M2785 590l-13 23 13-6 12-24z"/><path class=c30 d="M2845 470l-12 21 13-12 12-23z"/><path class=c16 d="M2237 651l-13-4 12 25 13 2z"/><path class=c11 d="M2260 721l-12-1 12 25 12 0z"/><path class=c33 d="M2132 424l-14-16 12 22 14 15z"/><path class=c7 d="M2272 771l-13 2 12 26 13-3z"/><path class=c24 d="M2190 543l-13-10 12 24 13 8z"/><path class=c31 d="M2857 449l-12 21 13-14 12-22z"/><path class=c35 d="M2120 403l-14-18 12 23 14 16z"/><path class=c7 d="M2367 788l-12 1 11-10 12-1z"/><path class=c22 d="M2797 568l-12 22 12-7 12-23z"/><path class=c8 d="M2427 770l-13 0 12-8 12 1z"/><path class=c11 d="M2736 723l-12 24 12 1 13-26z"/><path class=c16 d="M2761 653l-13 24 13-3 12-24z"/><path class=c18 d="M2225 627l-13-4 12 24 13 4z"/><path class=c5 d="M2296 822l-13 3 11-14 13-3z"/><path class=c8 d="M2569 771l-12-7 12-1 12 7z"/><path class=c7 d="M2724 773l-12 25 12 3 12-26z"/><path class=c13 d="M2248 696l-12-2 12 26 12 1z"/><path class=c7 d="M2629 789l-12-10 12 1 12 11z"/><path class=c6 d="M2331 803l-12 2 11-12 13-2z"/><path class=c37 d="M2108 381l-14-18 12 22 14 18z"/><path class=c33 d="M2869 427l-12 22 13-15 12-23z"/><path class=c26 d="M2178 520l-13-10 12 23 13 10z"/><path class=c5 d="M2271 799l-12 3 12 27 12-4z"/><path class=c24 d="M2809 546l-12 22 12-8 13-24z"/><path class=c9 d="M2260 745l-13 1 12 27 13-2zM2450 765l-12-2 12-6 12 2z"/><path class=c5 d="M2700 824l-12-14 13 3 11 15z"/><path class=c6 d="M2664 804l-11-11 12 1 11 13z"/><path class=c9 d="M2545 765l-11-5 11-3 12 7z"/><path class=c18 d="M2773 630l-12 23 12-3 12-25z"/><path class=c20 d="M2213 604l-13-6 12 25 13 4z"/><path class=c35 d="M2881 406l-12 21 13-16 13-22z"/><path class=c13 d="M2749 699l-13 24 13-1 12-25z"/><path class=c28 d="M2166 498l-13-12 12 24 13 10z"/><path class=c5 d="M2724 801l-12 27 12 3 12-27z"/><path class=c9 d="M2474 762l-12-3 12-5 12 4z"/><path class=c15 d="M2236 672l-12-3 12 25 12 2z"/><path class=c9 d="M2522 762l-12-4 12-4 12 6zM2736 748l-12 25 12 2 13-27z"/><path class=c26 d="M2821 523l-12 23 13-10 12-23z"/><path class=c9 d="M2498 761l-12-3 12-5 12 5z"/><path class=c8 d="M2391 778l-13 0 12-9 12 0z"/><path class=c37 d="M2893 385l-12 21 14-17 12-23z"/><path class=c8 d="M2605 779l-12-9 12 0 12 9z"/><path class=c7 d="M2259 773l-12 1 12 28 12-3z"/><path class=c22 d="M2201 581l-13-8 12 25 13 6z"/><path class=c20 d="M2785 607l-12 23 12-5 13-24z"/><path class=c11 d="M2248 720l-13-1 12 27 13-1z"/><path class=c30 d="M2154 475l-13-12 12 23 13 12z"/><path class=c15 d="M2761 674l-12 25 12-2 12-25z"/><path class=c28 d="M2833 501l-12 22 13-10 12-24z"/><path class=c17 d="M2224 647l-13-4 13 26 12 3z"/><path class=c5 d="M2283 825l-12 4 11-15 12-3z"/><path class=c8 d="M2355 789l-12 2 11-11 12-1z"/><path class=c7 d="M2736 775l-12 26 12 3 13-27z"/><path class=c32 d="M2142 453l-13-14 12 24 13 12z"/><path class=c11 d="M2749 722l-13 26 13 0 12-26z"/><path class=c7 d="M2319 805l-12 3 11-14 12-1z"/><path class=c24 d="M2189 557l-13-8 12 24 13 8z"/><path class=c9 d="M2414 770l-12-1 12-8 12 1z"/><path class=c22 d="M2797 583l-12 24 13-6 12-25z"/><path class=c8 d="M2641 791l-12-11 12 1 12 12z"/><path class=c30 d="M2846 479l-13 22 13-12 13-23z"/><path class=c5 d="M2712 828l-11-15 12 3 11 15z"/><path class=c9 d="M2581 770l-12-7 12-2 12 9z"/><path class=c13 d="M2236 694l-13-1 12 26 13 1z"/><path class=c17 d="M2773 650l-12 24 12-2 13-26z"/><path class=c10 d="M2247 746l-13 1 13 27 12-1z"/><path class=c7 d="M2676 807l-11-13 12 2 11 14z"/><path class=c33 d="M2130 430l-13-15 12 24 13 14z"/><path class=c19 d="M2212 623l-13-5 12 25 13 4z"/><path class=c26 d="M2177 533l-13-9 12 25 13 8z"/><path class=c24 d="M2809 560l-12 23 13-7 12-24z"/><path class=c10 d="M2438 763l-12-1 12-8 12 3z"/><path class=c32 d="M2858 456l-12 23 13-13 12-24z"/><path class=c13 d="M2761 697l-12 25 12 0 12-27z"/><path class=c10 d="M2557 764l-12-7 12-2 12 8zM2749 748l-13 27 13 2 12-28z"/><path class=c35 d="M2118 408l-13-16 12 23 13 15z"/><path class=c9 d="M2378 778l-12 1 12-11 12 1z"/><path class=c19 d="M2785 625l-12 25 13-4 12-26z"/><path class=c16 d="M2224 669l-13-3 12 27 13 1z"/><path class=c10 d="M2462 759l-12-2 12-7 12 4z"/><path class=c21 d="M2200 598l-13-6 12 26 13 5z"/><path class=c10 d="M2534 760l-12-6 12-3 11 6z"/><path class=c33 d="M2870 434l-12 22 13-14 12-23z"/><path class=c28 d="M2165 510l-13-11 12 25 13 9z"/><path class=c9 d="M2617 779l-12-9 12-1 12 11z"/><path class=c12 d="M2235 719l-13 0 12 28 13-1z"/><path class=c26 d="M2822 536l-13 24 13-8 13-25z"/><path class=c10 d="M2486 758l-12-4 12-6 12 5zM2510 758l-12-5 12-4 12 5z"/><path class=c37 d="M2106 385l-13-17 12 24 13 16z"/><path class=c8 d="M2343 791l-13 2 11-13 13 0z"/><path class=c7 d="M2307 808l-13 3 11-15 13-2z"/><path class=c16 d="M2773 672l-12 25 12-2 13-26z"/><path class=c35 d="M2882 411l-12 23 13-15 13-24z"/><path class=c21 d="M2798 601l-13 24 13-5 12-25z"/><path class=c12 d="M2761 722l-12 26 12 1 12-27z"/><path class=c8 d="M2653 793l-12-12 12 1 12 12z"/><path class=c30 d="M2153 486l-13-11 12 24 13 11z"/><path class=c23 d="M2188 573l-13-7 12 26 13 6z"/><path class=c18 d="M2211 643l-12-4 12 27 13 3z"/><path class=c39 d="M2094 363l-14-19 13 24 13 17z"/><path class=c28 d="M2834 513l-12 23 13-9 12-24z"/><path class=c10 d="M2402 769l-12 0 11-10 13 2z"/><path class=c7 d="M2688 810l-11-14 12 2 12 15z"/><path class=c10 d="M2593 770l-12-9 12-1 12 10z"/><path class=c14 d="M2223 693l-13-2 12 28 13 0z"/><path class=c37 d="M2895 389l-13 22 14-16 12-24z"/><path class=c32 d="M2141 463l-13-13 12 25 13 11z"/><path class=c18 d="M2786 646l-13 26 13-3 12-27z"/><path class=c23 d="M2810 576l-12 25 12-6 13-26z"/><path class=c30 d="M2846 489l-12 24 13-10 12-25z"/><path class=c25 d="M2176 549l-13-9 12 26 13 7z"/><path class=c20 d="M2199 618l-13-5 13 26 12 4z"/><path class=c11 d="M2426 762l-12-1 11-9 13 2z"/><path class=c14 d="M2773 695l-12 27 12 0 13-28z"/><path class=c9 d="M2366 779l-12 1 11-12 13 0z"/><path class=c39 d="M2907 366l-12 23 13-18 13-23z"/><path class=c11 d="M2569 763l-12-8 13-2 11 8z"/><path class=c34 d="M2129 439l-14-14 13 25 13 13z"/><path class=c9 d="M2629 780l-12-11 12 0 12 12z"/><path class=c16 d="M2211 666l-13-3 12 28 13 2z"/><path class=c7 d="M2294 811l-12 3 11-16 12-2z"/><path class=c32 d="M2859 466l-13 23 13-11 13-25z"/><path class=c9 d="M2330 793l-12 1 11-13 12-1z"/><path class=c25 d="M2822 552l-12 24 13-7 12-26z"/><path class=c11 d="M2450 757l-12-3 11-7 13 3z"/><path class=c27 d="M2164 524l-13-10 12 26 13 9z"/><path class=c20 d="M2798 620l-12 26 12-4 13-26z"/><path class=c11 d="M2545 757l-11-6 12-4 11 8z"/><path class=c22 d="M2187 592l-13-6 12 27 13 5z"/><path class=c9 d="M2665 794l-12-12 13 0 11 14z"/><path class=c7 d="M2701 813l-12-15 13 2 11 16z"/><path class=c12 d="M2474 754l-12-4 11-6 13 4z"/><path class=c36 d="M2117 415l-14-15 12 25 14 14z"/><path class=c12 d="M2522 754l-12-5 11-5 13 7z"/><path class=c16 d="M2786 669l-13 26 13-1 12-28z"/><path class=c12 d="M2498 753l-12-5 11-5 13 6z"/><path class=c34 d="M2871 442l-12 24 13-13 12-25z"/><path class=c11 d="M2390 769l-12-1 11-10 12 1z"/><path class=c29 d="M2152 499l-13-10 12 25 13 10z"/><path class=c27 d="M2835 527l-13 25 13-9 13-25z"/><path class=c19 d="M2199 639l-13-3 12 27 13 3z"/><path class=c11 d="M2605 770l-12-10 13-1 11 10z"/><path class=c22 d="M2810 595l-12 25 13-4 12-27z"/><path class=c37 d="M2105 392l-14-17 12 25 14 15z"/><path class=c24 d="M2175 566l-13-7 12 27 13 6z"/><path class=c36 d="M2883 419l-12 23 13-14 13-24z"/><path class=c10 d="M2354 780l-13 0 12-13 12 1z"/><path class=c19 d="M2798 642l-12 27 12-3 13-27z"/><path class=c31 d="M2140 475l-14-12 13 26 13 10z"/><path class=c29 d="M2847 503l-12 24 13-9 12-26z"/><path class=c11 d="M2414 761l-13-2 12-10 12 3z"/><path class=c39 d="M2093 368l-14-18 12 25 14 17z"/><path class=c9 d="M2318 794l-13 2 11-15 13 0z"/><path class=c10 d="M2641 781l-12-12 13 0 11 13z"/><path class=c11 d="M2581 761l-11-8 12-3 11 10z"/><path class=c21 d="M2186 613l-13-5 13 28 13 3z"/><path class=c24 d="M2823 569l-13 26 13-6 13-27z"/><path class=c37 d="M2896 395l-13 24 14-15 12-25z"/><path class=c27 d="M2163 540l-13-8 12 27 13 7z"/><path class=c9 d="M2677 796l-11-14 12 1 11 15z"/><path class=c12 d="M2438 754l-13-2 12-9 12 4z"/><path class=c33 d="M2128 450l-14-13 12 26 14 12z"/><path class=c41 d="M2080 344l-14-19 13 25 14 18z"/><path class=c31 d="M2859 478l-12 25 13-11 13-26z"/><path class=c12 d="M2557 755l-11-8 12-3 12 9z"/><path class=c21 d="M2811 616l-13 26 13-3 12-28z"/><path class=c39 d="M2908 371l-12 24 13-16 13-25z"/><path class=c11 d="M2378 768l-13 0 12-12 12 2z"/><path class=c27 d="M2835 543l-12 26 13-7 12-27z"/><path class=c23 d="M2174 586l-13-6 12 28 13 5z"/><path class=c13 d="M2462 750l-13-3 12-8 12 5zM2534 751l-13-7 12-5 13 8z"/><path class=c29 d="M2151 514l-14-9 13 27 13 8z"/><path class=c11 d="M2617 769l-11-10 12-2 11 12z"/><path class=c13 d="M2486 748l-13-4 12-7 12 6z"/><path class=c36 d="M2115 425l-13-14 12 26 14 13z"/><path class=c13 d="M2510 749l-13-6 12-6 12 7z"/><path class=c33 d="M2872 453l-13 25 14-12 12-26z"/><path class=c41 d="M2921 348l-13 23 14-17 12-25z"/><path class=c11 d="M2341 780l-12 1 11-14 13 0z"/><path class=c23 d="M2823 589l-12 27 12-5 13-28z"/><path class=c10 d="M2305 796l-12 2 11-16 12-1z"/><path class=c29 d="M2848 518l-13 25 13-8 13-27z"/><path class=c11 d="M2653 782l-11-13 12-1 12 14z"/><path class=c31 d="M2139 489l-14-11 12 27 14 9z"/><path class=c26 d="M2162 559l-13-7 12 28 13 6z"/><path class=c12 d="M2401 759l-12-1 12-11 12 2z"/><path class=c38 d="M2103 400l-14-15 13 26 13 14z"/><path class=c36 d="M2884 428l-12 25 13-13 13-26z"/><path class=c12 d="M2593 760l-11-10 12-2 12 11z"/><path class=c10 d="M2689 798l-11-15 12 1 12 16z"/><path class=c26 d="M2836 562l-13 27 13-6 13-28z"/><path class=c31 d="M2860 492l-12 26 13-10 12-27z"/><path class=c40 d="M2091 375l-14-17 12 27 14 15z"/><path class=c13 d="M2425 752l-12-3 12-9 12 3z"/><path class=c33 d="M2126 463l-13-12 12 27 14 11z"/><path class=c38 d="M2897 404l-13 24 14-14 12-26z"/><path class=c28 d="M2150 532l-14-9 13 29 13 7z"/><path class=c13 d="M2570 753l-12-9 12-4 12 10z"/><path class=c12 d="M2365 768l-12-1 11-12 13 1zM2629 769l-11-12 12-1 12 13z"/><path class=c14 d="M2449 747l-12-4 12-9 12 5zM2546 747l-13-8 13-4 12 9z"/><path class=c11 d="M2329 781l-13 0 12-14 12 0z"/><path class=c42 d="M2079 350l-14-18 12 26 14 17z"/><path class=c33 d="M2873 466l-13 26 13-11 13-27z"/><path class=c35 d="M2114 437l-14-13 13 27 13 12z"/><path class=c40 d="M2909 379l-12 25 13-16 13-26z"/><path class=c28 d="M2848 535l-12 27 13-7 12-28z"/><path class=c14 d="M2473 744l-12-5 12-8 12 6zM2521 744l-12-7 12-5 12 7zM2497 743l-12-6 12-7 12 7z"/><path class=c11 d="M2666 782l-12-14 12 0 12 15z"/><path class=c30 d="M2137 505l-13-10 12 28 14 9z"/><path class=c13 d="M2389 758l-12-2 11-12 13 3z"/><path class=c44 d="M2066 325l-14-19 13 26 14 18z"/><path class=c13 d="M2606 759l-12-11 12-3 12 12z"/><path class=c42 d="M2922 354l-13 25 14-17 12-26z"/><path class=c35 d="M2885 440l-12 26 13-12 12-27z"/><path class=c37 d="M2102 411l-14-15 12 28 14 13z"/><path class=c30 d="M2861 508l-13 27 13-8 13-28z"/><path class=c33 d="M2125 478l-13-11 12 28 13 10z"/><path class=c13 d="M2353 767l-13 0 12-14 12 2z"/><path class=c14 d="M2413 749l-12-2 11-11 13 4zM2582 750l-12-10 12-3 12 11z"/><path class=c44 d="M2934 329l-12 25 13-18 13-26z"/><path class=c13 d="M2642 769l-12-13 12-2 12 14z"/><path class=c40 d="M2089 385l-13-16 12 27 14 15z"/><path class=c37 d="M2898 414l-13 26 13-13 13-27z"/><path class=c12 d="M2316 781l-12 1 11-16 13 1z"/><path class=c33 d="M2873 481l-12 27 13-9 12-28z"/><path class=c15 d="M2437 743l-12-3 11-10 13 4z"/><path class=c12 d="M2678 783l-12-15 13 0 11 16z"/><path class=c35 d="M2113 451l-14-12 13 28 13 11z"/><path class=c15 d="M2558 744l-12-9 12-5 12 10zM2461 739l-12-5 12-8 12 5z"/><path class=c14 d="M2377 756l-13-1 12-13 12 2z"/><path class=c42 d="M2077 358l-14-16 13 27 13 16z"/><path class=c15 d="M2533 739l-12-7 12-6 13 9z"/><path class=c40 d="M2910 388l-12 26 13-14 13-27z"/><path class=c15 d="M2485 737l-12-6 12-7 12 6zM2509 737l-12-7 12-6 12 8z"/><path class=c14 d="M2618 757l-12-12 12-2 12 13z"/><path class=c35 d="M2886 454l-13 27 13-10 13-29z"/><path class=c37 d="M2100 424l-13-14 12 29 14 12z"/><path class=c13 d="M2340 767l-12 0 11-16 13 2z"/><path class=c44 d="M2065 332l-14-18 12 28 14 16z"/><path class=c42 d="M2923 362l-13 26 14-15 13-27z"/><path class=c15 d="M2401 747l-13-3 12-12 12 4z"/><path class=c13 d="M2654 768l-12-14 13-1 11 15z"/><path class=c15 d="M2594 748l-12-11 12-4 12 12z"/><path class=c37 d="M2898 427l-12 27 13-12 13-28z"/><path class=c39 d="M2088 396l-14-14 13 28 13 14z"/><path class=c46 d="M2052 306l-14-19 13 27 14 18z"/><path class=c44 d="M2935 336l-12 26 14-16 12-28z"/><path class=c16 d="M2425 740l-13-4 12-11 12 5zM2570 740l-12-10 12-4 12 11z"/><path class=c15 d="M2364 755l-12-2 11-14 13 3z"/><path class=c16 d="M2449 734l-13-4 12-10 13 6z"/><path class=c15 d="M2630 756l-12-13 13-3 11 14z"/><path class=c39 d="M2911 400l-13 27 14-13 13-28z"/><path class=c42 d="M2076 369l-14-16 12 29 14 14z"/><path class=c16 d="M2546 735l-13-9 13-6 12 10z"/><path class=c46 d="M2948 310l-13 26 14-18 13-27z"/><path class=c14 d="M2328 767l-13-1 11-16 13 1z"/><path class=c17 d="M2473 731l-12-5 12-9 12 7zM2521 732l-12-8 12-7 12 9zM2497 730l-12-6 12-8 12 8z"/><path class=c14 d="M2666 768l-11-15 12-1 12 16z"/><path class=c16 d="M2388 744l-12-2 11-13 13 3z"/><path class=c42 d="M2924 373l-13 27 14-14 13-29z"/><path class=c44 d="M2063 342l-14-17 13 28 14 16z"/><path class=c16 d="M2606 745l-12-12 12-3 12 13z"/><path class=c17 d="M2412 736l-12-4 11-12 13 5z"/><path class=c16 d="M2352 753l-13-2 11-15 13 3z"/><path class=c17 d="M2582 737l-12-11 12-5 12 12z"/><path class=c44 d="M2937 346l-13 27 14-16 12-28z"/><path class=c46 d="M2051 314l-14-18 12 29 14 17z"/><path class=c16 d="M2642 754l-11-14 12-2 12 15z"/><path class=c18 d="M2436 730l-12-5 12-11 12 6zM2558 730l-12-10 12-5 12 11zM2461 726l-13-6 12-10 13 7z"/><path class=c49 d="M2038 287l-14-19 13 28 14 18z"/><path class=c46 d="M2949 318l-12 28 13-17 13-29z"/><path class=c18 d="M2533 726l-12-9 12-7 13 10z"/><path class=c17 d="M2376 742l-13-3 12-14 12 4z"/><path class=c18 d="M2485 724l-12-7 12-9 12 8zM2509 724l-12-8 12-8 12 9z"/><path class=c17 d="M2618 743l-12-13 13-4 12 14z"/><path class=c16 d="M2339 751l-13-1 12-16 12 2z"/><path class=c49 d="M2962 291l-13 27 14-18 13-28z"/><path class=c18 d="M2400 732l-13-3 12-14 12 5z"/><path class=c16 d="M2655 753l-12-15 12-3 12 17z"/><path class=c18 d="M2594 733l-12-12 12-5 12 14z"/><path class=c19 d="M2424 725l-13-5 12-12 13 6zM2570 726l-12-11 12-6 12 12z"/><path class=c18 d="M2363 739l-13-3 12-15 13 4z"/><path class=c19 d="M2448 720l-12-6 12-11 12 7zM2546 720l-13-10 13-7 12 12z"/><path class=c18 d="M2631 740l-12-14 12-4 12 16z"/><path class=c20 d="M2473 717l-13-7 12-10 13 8zM2521 717l-12-9 12-8 12 10zM2497 716l-12-8 12-9 12 9z"/><path class=c19 d="M2387 729l-12-4 11-14 13 4zM2606 730l-12-14 13-4 12 14z"/><path class=c20 d="M2411 720l-12-5 12-13 12 6z"/><path class=c19 d="M2350 736l-12-2 11-17 13 4z"/><path class=c20 d="M2582 721l-12-12 12-6 12 13z"/><path class=c19 d="M2643 738l-12-16 13-3 11 16z"/><path class=c21 d="M2436 714l-13-6 12-12 13 7zM2558 715l-12-12 12-7 12 13zM2460 710l-12-7 12-11 12 8zM2533 710l-12-10 12-8 13 11zM2485 708l-13-8 12-10 13 9z"/><path class=c20 d="M2375 725l-13-4 11-15 13 5z"/><path class=c21 d="M2509 708l-12-9 12-9 12 10z"/><path class=c20 d="M2619 726l-12-14 12-5 12 15z"/><path class=c21 d="M2399 715l-13-4 12-15 13 6zM2594 716l-12-13 13-6 12 15z"/><path class=c22 d="M2423 708l-12-6 11-13 13 7zM2570 709l-12-13 12-6 12 13z"/><path class=c21 d="M2362 721l-13-4 12-16 12 5z"/><path class=c22 d="M2448 703l-13-7 12-12 13 8zM2546 703l-13-11 13-8 12 12z"/><path class=c21 d="M2631 722l-12-15 13-5 12 17z"/><path class=c23 d="M2472 700l-12-8 12-12 12 10zM2521 700l-12-10 12-9 12 11zM2497 699l-13-9 12-11 13 11z"/><path class=c22 d="M2386 711l-13-5 12-16 13 6zM2607 712l-12-15 12-6 12 16z"/><path class=c23 d="M2411 702l-13-6 12-14 12 7zM2582 703l-12-13 13-7 12 14z"/><path class=c24 d="M2435 696l-13-7 12-14 13 9zM2558 696l-12-12 12-8 12 14zM2460 692l-13-8 12-13 13 9zM2533 692l-12-11 12-10 13 13zM2484 690l-12-10 12-11 12 10zM2509 690l-13-11 13-10 12 12z"/><path class=c23 d="M2373 706l-12-5 11-17 13 6zM2619 707l-12-16 13-6 12 17z"/><path class=c24 d="M2398 696l-13-6 12-15 13 7zM2595 697l-12-14 12-7 12 15z"/><path class=c25 d="M2422 689l-12-7 12-15 12 8zM2570 690l-12-14 13-8 12 15z"/><path class=c26 d="M2447 684l-13-9 12-13 13 9zM2546 684l-13-13 13-9 12 14zM2472 680l-13-9 12-12 13 10zM2521 681l-12-12 12-10 12 12zM2496 679l-12-10 12-11 13 11zM2385 690l-13-6 12-17 13 8zM2607 691l-12-15 13-8 12 17z"/><path class=c27 d="M2410 682l-13-7 12-16 13 8zM2583 683l-12-15 12-8 12 16zM2434 675l-12-8 12-15 12 10zM2558 676l-12-14 12-9 13 15z"/><path class=c28 d="M2459 671l-13-9 13-14 12 11zM2533 671l-12-12 12-11 13 14zM2484 669l-13-10 12-13 13 12zM2509 669l-13-11 12-12 13 13zM2397 675l-13-8 12-17 13 9zM2595 676l-12-16 13-9 12 17z"/><path class=c29 d="M2422 667l-13-8 12-16 13 9zM2571 668l-13-15 13-9 12 16zM2446 662l-12-10 12-14 13 10zM2546 662l-13-14 13-10 12 15z"/><path class=c30 d="M2471 659l-12-11 12-14 12 12zM2521 659l-13-13 13-11 12 13zM2496 658l-13-12 13-13 12 13zM2409 659l-13-9 12-17 13 10zM2583 660l-12-16 12-10 13 17z"/><path class=c31 d="M2434 652l-13-9 12-16 13 11zM2558 653l-12-15 12-11 13 17zM2459 648l-13-10 12-15 13 11zM2533 648l-12-13 12-12 13 15z"/><path class=c32 d="M2483 646l-12-12 12-14 13 13zM2508 646l-12-13 12-12 13 14z"/><path class=c33 d="M2421 643l-13-10 12-17 13 11zM2571 644l-13-17 13-10 12 17zM2446 638l-13-11 12-16 13 12zM2546 638l-13-15 13-12 12 16zM2471 634l-13-11 12-16 13 13zM2521 635l-13-14 13-13 12 15z"/><path class=c34 d="M2496 633l-13-13 13-13 12 14z"/><path class=c35 d="M2433 627l-13-11 12-17 13 12zM2558 627l-12-16 13-12 12 18zM2458 623l-13-12 12-17 13 13zM2533 623l-12-15 12-13 13 16z"/><path class=c36 d="M2483 620l-13-13 13-15 13 15zM2508 621l-12-14 12-15 13 16z"/><path class=c37 d="M2445 611l-13-12 12-18 13 13zM2546 611l-13-16 13-13 13 17zM2470 607l-13-13 13-16 13 14zM2521 608l-13-16 13-14 12 17z"/><path class=c38 d="M2496 607l-13-15 12-15 13 15z"/><path class=c39 d="M2457 594l-13-13 13-17 13 14zM2533 595l-12-17 12-14 13 18z"/><path class=c40 d="M2483 592l-13-14 12-17 13 16zM2508 592l-13-15 13-15 13 16z"/><path class=c42 d="M2470 578l-13-14 12-18 13 15zM2521 578l-13-16 13-16 12 18zM2495 577l-13-16 13-16 13 17z"/><path class=c44 d="M2482 561l-13-15 13-18 13 17zM2508 562l-13-17 13-17 13 18z"/><path class=c46 d="M2495 545l-13-17 13-18 13 18z"/></g></g>
<g id="p3"><path d="M2007.2 305.2L1753.7 405.9L1740.2 142.7L2007.0 54.9Z" fill="#f2f2f2"/>
<path d="M2007.2 305.2L2270.6 401.3L2284.0 138.7L2007.0 54.9Z" fill="#f9f9f9"/>
<path d="M2007.2 305.2L1753.7 405.9L2018.6 516.3L2270.6 401.3Z" fill="#f5f5f5"/>
<path d="M1969.6 320.1L2233.3 418.3M1969.6 320.1L1967.5 67.9M2046.4 319.5L1793.0 422.3M2046.4 319.5L2048.1 67.3M1927.6 336.8L2191.7 437.3M1927.6 336.8L1923.4 82.4M2090.1 335.4L1836.8 440.5M2090.1 335.4L2093.9 81.2M1884.7 353.9L2149.1 456.8M1884.7 353.9L1878.3 97.2M2134.7 351.7L1881.6 459.2M2134.7 351.7L2140.8 95.4M1840.8 371.3L2105.4 476.7M1840.8 371.3L1832.0 112.5M2180.3 368.4L1927.5 478.3M2180.3 368.4L2188.8 109.9M1795.8 389.2L2060.6 497.1M1795.8 389.2L1784.6 128.1M2226.9 385.4L1974.5 497.9M2226.9 385.4L2238.0 124.7M2007.2 249.3L1750.7 347.3M2007.2 249.3L2273.6 342.8M2007.1 188.7L1747.5 283.6M2007.1 188.7L2276.8 279.3M2007.1 126.6L1744.1 218.3M2007.1 126.6L2280.1 214.1M2007.0 63.1L1740.7 151.4M2007.0 63.1L2283.5 147.3" stroke="#b3b3b3" stroke-width="1.70" fill="none"/>
<path d="M1753.7 405.9L2018.6 516.3M2270.6 401.3L2018.6 516.3M1753.7 405.9L1740.2 142.7M1795.1 421.4L1787.5 424.5M2231.1 417.5L2239.0 420.4M1839.0 439.6L1831.4 442.8M2189.4 436.4L2197.3 439.5M1883.8 458.3L1876.2 461.5M2146.8 455.9L2154.7 459.0M1929.7 477.4L1922.1 480.7M2103.1 475.8L2111.0 478.9M1976.7 497.0L1969.1 500.3M2058.3 496.2L2066.2 499.4M1745.2 349.4L1752.9 346.4M1741.9 285.6L1749.7 282.8M1738.5 220.3L1746.4 217.5M1735.0 153.2L1743.0 150.6" stroke="#000" stroke-width="2.60" fill="none" stroke-linejoin="round"/>
<text class=d transform="translate(1672.8 169.9) scale(0.790 1)" y="16.9">80</text>
<text class=d transform="translate(1677.1 236.5) scale(0.790 1)" y="16.9">60</text>
<text class=d transform="translate(1681.0 302.3) scale(0.790 1)" y="16.9">40</text>
<text class=d transform="translate(1685.8 365.1) scale(0.790 1)" y="16.9">20</text>
<text class=d transform="translate(1762.0 486.8) scale(0.790 1)" y="16.9">−4</text>
<text class=d transform="translate(1805.2 504.4) scale(0.790 1)" y="16.9">−2</text>
<text class=d transform="translate(1849.6 524.2) scale(0.790 1)" y="16.9">0</text>
<text class=d transform="translate(1895.3 544.0) scale(0.790 1)" y="16.9">2</text>
<text class=d transform="translate(1942.2 564.8) scale(0.790 1)" y="16.9">4</text>
<text class=d transform="translate(2092.7 562.9) scale(0.790 1)" y="16.9">4</text>
<text class=d transform="translate(2137.4 540.8) scale(0.790 1)" y="16.9">2</text>
<text class=d transform="translate(2181.4 521.0) scale(0.790 1)" y="16.9">0</text>
<text class=d transform="translate(2223.7 500.8) scale(0.790 1)" y="16.9">−2</text>
<text class=d transform="translate(2265.6 481.5) scale(0.790 1)" y="16.9">−4</text>
<text class=fi x="1681.5" y="558.1">f</text>
<text class=fs transform="translate(1707.3 566.8) scale(1.1 1)">3</text>
<g class="s" opacity="0.90" transform="scale(0.50)"><path class=c35 d="M4051 274l-9 25 9 86 9-25zM3981 274l-8 87 9 24 8-86z"/><path class=c29 d="M4008 347l-8 23 9 85 8-22z"/><path class=c30 d="M4095 337l-8 25 8 83 9-25z"/><path class=c23 d="M4053 410l-9 23 9 83 9-23z"/><path class=c30 d="M3939 338l-8 83 9 25 8-83z"/><path class=c24 d="M3966 408l-9 20 9 86 9-20z"/><path class=c37 d="M4042 299l-8-53 9 87 8 52zM3990 299l-8 86 9-51 8-87z"/><path class=c31 d="M4035 370l-9 85 9-53 9-87zM4000 370l-9-55 9 87 9 53z"/><path class=c26 d="M4140 387l-8 25 8 81 8-25z"/><path class=c32 d="M4087 362l-8-52 8 84 8 51z"/><path class=c34 d="M4017 260l-9 87 9 86 9-86z"/><path class=c32 d="M3948 363l-8 83 8-51 8-85z"/><path class=c25 d="M4044 433l-8-54 9 83 8 54zM3992 433l-8 83 8-53 9-84z"/><path class=c26 d="M4079 428l-9 85 10-56 9-86z"/><path class=c42 d="M4042 223l-8 26 8 50 9-25zM3990 224l-9 50 9 25 9-50z"/><path class=c26 d="M3957 428l-9-56 9 86 9 56z"/><path class=c29 d="M4062 323l-9 87 9 83 8-85z"/><path class=c36 d="M4034 297l-8 50 9 23 8-50zM3999 297l-8 23 9 50 8-23z"/><path class=c29 d="M3974 324l-8 84 9 86 8-83z"/><path class=c37 d="M4087 289l-9 25 9 48 8-25z"/><path class=c28 d="M4132 412l-8-52 8 82 8 51z"/><path class=c21 d="M4037 491l-9 83 9-55 9-84z"/><path class=c37 d="M3947 290l-8 48 9 25 8-48z"/><path class=c21 d="M4002 492l-9-57 9 84 9 55z"/><path class=c30 d="M4044 363l-9 23 9 47 9-23zM3992 363l-9 48 9 22 8-47z"/><path class=c24 d="M4019 388l-9 84 9 82 9-82z"/><path class=c31 d="M4079 358l-9 50 9 20 9-50z"/><path class=c28 d="M3905 414l-8 81 8-52 8-81z"/><path class=c22 d="M4089 483l-8-53 8 81 8 53z"/><path class=c31 d="M3956 359l-8 20 9 49 9-20z"/><path class=c22 d="M3949 485l-8 80 9-53 8-82z"/><path class=c25 d="M4107 374l-9 87 8 80 9-85z"/><path class=c23 d="M4124 473l-9 86 9-59 10-86z"/><path class=c44 d="M4034 249l-9-53 9 50 8 53z"/><path class=c25 d="M4036 424l-8 48 9 19 8-47z"/><path class=c44 d="M3999 249l-9 50 9-52 8-51z"/><path class=c25 d="M4001 424l-8 21 9 47 8-20z"/><path class=c33 d="M4132 342l-9 25 9 45 8-25z"/><path class=c25 d="M3931 376l-8 81 9 86 8-81z"/><path class=c23 d="M3914 475l-9-59 9 86 10 58z"/><path class=c38 d="M4043 320l-8 50 9-55 8-51z"/><path class=c42 d="M4034 246l-9-37 9 88 9 36z"/><path class=c26 d="M4089 416l-9 23 9 44 9-22z"/><path class=c38 d="M3991 320l-9-55 9 50 9 55z"/><path class=c42 d="M3999 247l-8 87 8-37 9-88z"/><path class=c33 d="M3904 344l-8 45 9 25 8-45z"/><path class=c39 d="M4078 314l-8-52 9 48 8 52z"/><path class=c17 d="M3994 543l-9 80 9-55 9-81z"/><path class=c26 d="M3949 417l-9 45 9 23 9-45z"/><path class=c20 d="M4064 439l-9 84 9 80 8-83z"/><path class=c39 d="M3956 315l-8 48 8-53 8-48z"/><path class=c36 d="M4044 315l-9 87 9-39 9-87z"/><path class=c42 d="M4025 209l-8 51 9 87 8-50z"/><path class=c20 d="M3976 439l-9 82 10 82 8-80z"/><path class=c42 d="M4008 209l-9 88 9 50 9-87z"/><path class=c36 d="M3991 315l-9-39 10 87 8 39z"/><path class=c27 d="M4124 406l-9 50 9 17 9-50z"/><path class=c32 d="M4035 386l-8-55 9 48 8 54z"/><path class=c18 d="M3959 538l-9-59 9 84 9 58z"/><path class=c32 d="M4000 386l-8 47 9-54 8-48z"/><path class=c37 d="M4079 310l-9-37 9 85 8 36z"/><path class=c25 d="M4177 450l-8-52 8 79 8 51z"/><path class=c37 d="M3956 310l-8 85 8-36 9-85z"/><path class=c27 d="M3913 408l-8 17 9 50 9-18z"/><path class=c33 d="M4088 378l-9 50 10-57 8-51z"/><path class=c21 d="M4046 478l-9 20 9 45 9-20z"/><path class=c36 d="M4053 276l-9 87 9 47 9-87z"/><path class=c21 d="M3993 478l-8 45 9 20 8-45z"/><path class=c36 d="M4070 273l-8 50 8 85 9-50zM3982 276l-8 48 9 87 9-48z"/><path class=c33 d="M3948 379l-9-58 9 51 9 56z"/><path class=c19 d="M4134 522l-8-54 8 79 8 53z"/><path class=c31 d="M4036 379l-9-39 9 84 9 38z"/><path class=c22 d="M4081 473l-9 47 9 17 9-47z"/><path class=c31 d="M4001 379l-9 84 9-39 9-84z"/><path class=c36 d="M3965 274l-9 85 10 49 8-84z"/><path class=c25 d="M3861 453l-7 78 8-51 7-79z"/><path class=c34 d="M4123 367l-8-52 9 45 8 52z"/><path class=c22 d="M3958 474l-8 17 9 47 8-17z"/><path class=c32 d="M4089 371l-9 86 9-41 9-87z"/><path class=c19 d="M3906 524l-8 78 8-53 8-79z"/><path class=c28 d="M4045 444l-8 47 9-56 8-48z"/><path class=c23 d="M4152 413l-9 86 8 78 9-85z"/><path class=c28 d="M3993 445l-9-57 9 47 9 57z"/><path class=c30 d="M4177 383l-9 25 9 42 8-25z"/><path class=c32 d="M3948 372l-9-42 10 87 8 41z"/><path class=c34 d="M3913 369l-8 45 8-52 8-46z"/><path class=c31 d="M4027 340l-8 48 9 84 8-48z"/><path class=c28 d="M4080 439l-8-55 9 46 8 53z"/><path class=c31 d="M4010 340l-9 84 9 48 9-84z"/><path class=c22 d="M4231 451l-9 25 8 76 9-25z"/><path class=c21 d="M4169 507l-9 85 10-61 9-86z"/><path class=c24 d="M4134 457l-9 23 9 42 9-23z"/><path class=c28 d="M3958 440l-9 45 9-55 8-45z"/><path class=c33 d="M4124 360l-8-36 8 82 8 36z"/><path class=c32 d="M4098 329l-9 87 9 45 9-87z"/><path class=c30 d="M3860 385l-8 43 9 25 8-43z"/><path class=c27 d="M4046 435l-9 84 9-41 9-84z"/><path class=c24 d="M3905 459l-8 42 9 23 8-43z"/><path class=c33 d="M3913 362l-8 81 8-35 8-83z"/><path class=c27 d="M3993 435l-9-41 9 84 9 41z"/><path class=c21 d="M3871 509l-10-62 10 87 10 60z"/><path class=c15 d="M3951 582l-8 78 8-55 8-79z"/><path class=c33 d="M4116 324l-9 50 8 82 9-50z"/><path class=c32 d="M3939 330l-8 46 9 86 9-45z"/><path class=c27 d="M4081 430l-9-39 9 82 8 38z"/><path class=c30 d="M4133 423l-9 50 10-59 9-51z"/><path class=c18 d="M4003 527l-9 18 9 44 9-17z"/><path class=c27 d="M3958 430l-8 82 8-38 8-82z"/><path class=c25 d="M4169 442l-9 50 9 15 9-50z"/><path class=c33 d="M3921 325l-8 83 10 49 8-81z"/><path class=c30 d="M3905 425l-10-60 10 51 9 59z"/><path class=c24 d="M4002 498l-8 45 9-56 8-46z"/><path class=c49 d="M4025 196l-9-38 9 51 9 37zM4007 196l-8 51 9-38 8-51z"/><path class=c27 d="M4055 394l-9 84 9 45 9-84z"/><path class=c19 d="M3950 520l-8 42 9 20 8-42z"/><path class=c27 d="M4072 391l-8 48 8 81 9-47zM3984 394l-8 45 9 84 8-45z"/><path class=c25 d="M4090 490l-9 47 10-59 9-47zM3870 444l-9 15 10 50 8-15z"/><path class=c29 d="M4134 414l-10 86 10-43 9-87z"/><path class=c27 d="M3966 392l-8 82 9 47 9-82z"/><path class=c32 d="M4168 408l-8-52 9 42 8 52z"/><path class=c44 d="M4052 264l-8 51 9-39 8-51z"/><path class=c20 d="M4126 509l-9 47 9 15 9-47z"/><path class=c25 d="M3950 491l-10-59 10 47 9 59z"/><path class=c49 d="M4016 158l-8 51 9 51 8-51z"/><path class=c44 d="M4070 262l-9-37 9 48 9 37zM3982 265l-9-40 9 51 9 39zM3964 262l-8 48 9-36 8-49z"/><path class=c29 d="M3905 416l-10-44 10 87 9 43z"/><path class=c26 d="M4125 480l-8-55 9 43 8 54z"/><path class=c20 d="M3915 510l-9 16 9 47 9-15z"/><path class=c23 d="M4038 486l-9-41 9 82 9 40zM4003 487l-9 81 9-41 9-82z"/><path class=c32 d="M3869 410l-8 43 8-52 9-43z"/><path class=c43 d="M4061 225l-8 51 9 47 8-50z"/><path class=c38 d="M4027 331l-9-39 9 48 9 39zM4009 331l-8 48 9-39 8-48z"/><path class=c26 d="M3914 481l-8 43 8-54 9-43z"/><path class=c31 d="M4169 398l-8-36 8 80 8 35z"/><path class=c24 d="M4091 478l-9 84 9-43 9-84z"/><path class=c43 d="M3973 225l-8 49 9 50 8-48z"/><path class=c29 d="M4143 370l-9 87 9 42 9-86z"/><path class=c24 d="M3817 479l-7 76 8-51 7-77zM3950 479l-9-43 9 84 9 43z"/><path class=c29 d="M4223 411l-9 25 8 40 9-25z"/><path class=c18 d="M3862 551l-7 75 8-53 7-76z"/><path class=c39 d="M4097 320l-8 51 9-42 9-51z"/><path class=c23 d="M4029 445l-8 46 9 81 8-45zM4012 445l-9 82 9 45 9-81z"/><path class=c30 d="M4161 362l-9 51 8 79 9-50z"/><path class=c29 d="M3895 372l-8 43 10 86 8-42z"/><path class=c31 d="M3869 401l-7 79 8-36 8-80z"/><path class=c22 d="M4180 486l-9 22 8 40 9-23z"/><path class=c25 d="M4126 468l-8-39 8 80 8 38z"/><path class=c38 d="M4018 292l-8 48 9 48 8-48z"/><path class=c40 d="M4115 315l-8-37 9 46 8 36z"/><path class=c39 d="M3939 321l-9-42 9 51 9 42z"/><path class=c28 d="M4178 457l-9 50 10-62 9-51z"/><path class=c25 d="M3914 470l-8 79 9-39 8-79z"/><path class=c24 d="M4100 435l-9 84 9 42 9-84z"/><path class=c30 d="M4204 482l-8-51 10-47 8 52z"/><path class=c16 d="M3960 564l-9 16 9 44 9-15z"/><path class=c20 d="M4215 528l-10 86 11-64 10-87z"/><path class=c21 d="M3959 540l-8 42 8-56 9-43z"/><path class=c30 d="M3878 364l-8 80 9 50 8-79z"/><path class=c29 d="M3816 414l-8 40 9 25 9-40z"/><path class=c40 d="M3921 316l-8 46 8-37 9-46z"/><path class=c22 d="M3861 488l-8 40 9 23 9-40z"/><path class=c34 d="M4054 387l-8 48 9-41 9-49z"/><path class=c39 d="M4107 278l-9 51 9 45 9-50z"/><path class=c25 d="M4118 429l-9 48 8 79 9-47z"/><path class=c24 d="M3941 436l-9 43 10 83 8-42z"/><path class=c34 d="M4072 384l-8-39 8 46 9 39zM3984 388l-9-42 9 48 9 41zM3966 385l-8 45 8-38 9-46z"/><path class=c28 d="M3861 459l-10-62 10 50 10 62z"/><path class=c39 d="M3930 279l-9 46 10 51 8-46z"/><path class=c25 d="M3923 431l-8 79 9 48 8-79z"/><path class=c23 d="M4135 524l-9 47 10-61 9-48z"/><path class=c20 d="M4048 530l-9 81 9-42 9-82zM3827 531l-11-65 11 87 10 64z"/><path class=c24 d="M4215 465l-9 50 9 13 9-50z"/><path class=c27 d="M4179 445l-9 86 10-45 9-88z"/><path class=c34 d="M4064 345l-9 49 9 45 8-48z"/><path class=c17 d="M3906 550l-8 40 9 20 9-40z"/><path class=c23 d="M3906 526l-9-62 9 47 9 62z"/><path class=c30 d="M4214 436l-8-52 9 40 7 52z"/><path class=c34 d="M3975 346l-9 46 10 47 8-45z"/><path class=c20 d="M3959 526l-8 79 9-41 8-79z"/><path class=c36 d="M4143 363l-9 51 9-44 9-51z"/><path class=c24 d="M3826 468l-9 13 10 50 8-13z"/><path class=c27 d="M3861 447l-10-46 10 87 10 46z"/><path class=c24 d="M4171 508l-8-54 9 40 7 54z"/><path class=c30 d="M4029 441l-9-41 9 45 9 41z"/><path class=c20 d="M4057 487l-9 82 9 42 9-82z"/><path class=c30 d="M4011 441l-8 46 9-42 8-45z"/><path class=c20 d="M4075 484l-9 45 9 79 8-45z"/><path class=c22 d="M4136 510l-9 83 10-45 9-85z"/><path class=c30 d="M3826 439l-9 40 8-52 8-40z"/><path class=c37 d="M4160 356l-8-37 9 43 8 36z"/><path class=c36 d="M3895 365l-9-44 9 51 10 44z"/><path class=c20 d="M3968 485l-8 79 9 45 8-79z"/><path class=c28 d="M4189 398l-9 88 8 39 10-87z"/><path class=c19 d="M3871 535l-9 13 10 47 8-13z"/><path class=c24 d="M3871 511l-9 40 8-54 9-41z"/><path class=c30 d="M4215 424l-8-36 8 77 8 36z"/><path class=c31 d="M4100 431l-9 47 9-43 9-49z"/><path class=c22 d="M3906 511l-9-46 9 85 10 45z"/><path class=c37 d="M4152 319l-9 51 9 43 9-51zM3878 358l-9 43 9-37 8-43z"/><path class=c19 d="M3951 580l-9-62 9 45 9 61z"/><path class=c31 d="M4117 425l-8-39 9 43 8 39zM3940 432l-9-44 10 48 9 43z"/><path class=c30 d="M4020 400l-8 45 9 46 8-46z"/><path class=c29 d="M4207 388l-9 50 8 77 9-50z"/><path class=c28 d="M3851 401l-8 40 10 87 8-40z"/><path class=c24 d="M4172 494l-8-39 8 77 8 38z"/><path class=c31 d="M3923 427l-9 43 9-39 8-43z"/><path class=c30 d="M3825 427l-7 77 8-36 7-77z"/><path class=c26 d="M4065 526l-9-41 10-44 8 42z"/><path class=c37 d="M3886 321l-8 43 9 51 8-43z"/><path class=c23 d="M4146 463l-9 85 8 40 10-85z"/><path class=c29 d="M4269 426l-9 26 9 38 9-26z"/><path class=c31 d="M4109 386l-9 49 9 42 9-48z"/><path class=c20 d="M3916 570l-9 40 8-57 9-40z"/><path class=c17 d="M4004 570l-8 79 9-43 8-79z"/><path class=c24 d="M3870 497l-7 76 8-38 8-77z"/><path class=c22 d="M4226 502l-9 23 9 37 8-23z"/><path class=c29 d="M3833 391l-7 77 9 50 8-77z"/><path class=c28 d="M4224 478l-9 50 11-65 9-51z"/><path class=c24 d="M4164 455l-9 48 8 77 9-48z"/><path class=c23 d="M3897 465l-9 41 10 84 8-40z"/><path class=c15 d="M3916 589l-9 13 10 45 8-13z"/><path class=c31 d="M3931 388l-8 43 9 48 9-43z"/><path class=c18 d="M4093 562l-9 81 9-45 10-82z"/><path class=c35 d="M4196 431l-8-37 11-47 7 37z"/><path class=c27 d="M4056 485l-8 45 9-43 9-46z"/><path class=c18 d="M3951 563l-9-46 10 82 9 45z"/><path class=c27 d="M4074 483l-8-42 9 43 8 41zM3985 486l-8-44 9 45 9 44z"/><path class=c24 d="M3879 458l-8 77 9 47 8-76z"/><path class=c29 d="M3772 430l-9 38 10 25 8-37z"/><path class=c27 d="M3968 483l-9 43 9-41 9-43z"/><path class=c22 d="M3817 505l-8 38 9 22 8-37z"/><path class=c19 d="M4129 552l-9-41 9 76 8 41z"/><path class=c22 d="M4181 545l-9 47 10-64 9-48z"/><path class=c28 d="M3817 481l-10-65 9 50 11 65z"/><path class=c18 d="M4013 527l-8 79 9 42 8-79z"/><path class=c35 d="M4188 394l-9 51 10-47 10-51z"/><path class=c29 d="M4153 500l-8-38 10-47 8 39z"/><path class=c19 d="M3915 553l-8 77 9-41 8-77z"/><path class=c27 d="M4226 463l-10 87 10-48 10-88z"/><path class=c19 d="M4103 516l-10 82 9 39 10-81z"/><path class=c27 d="M4066 441l-9 46 9 42 9-45z"/><path class=c22 d="M3862 548l-10-65 10 48 10 64z"/><path class=c36 d="M4206 384l-7-37 8 41 8 36z"/><path class=c25 d="M4262 476l-10 50 10 10 9-50z"/><path class=c27 d="M3977 442l-9 43 9 45 9-43z"/><path class=c35 d="M3851 397l-9-47 9 51 10 46z"/><path class=c31 d="M4260 452l-7-53 9 38 7 53z"/><path class=c19 d="M4120 511l-8 45 8 76 9-45zM3942 517l-9 40 10 82 9-40z"/><path class=c17 d="M3862 567l-8 38 9 20 8-38z"/><path class=c29 d="M4145 462l-9 48 10-47 9-48z"/><path class=c23 d="M4022 571l-9-44 9-43 9 43z"/><path class=c21 d="M3782 540l-11-67 11 87 11 67z"/><path class=c27 d="M3816 466l-10-49 11 88 10 48z"/><path class=c19 d="M3924 512l-8 77 9 45 8-77z"/><path class=c24 d="M4217 525l-7-55 8 38 8 54z"/><path class=c35 d="M4199 347l-10 51 9 40 9-50z"/><path class=c22 d="M4182 528l-9 84 10-48 9-85z"/><path class=c30 d="M4163 454l-8-39 9 40 8 39z"/><path class=c29 d="M3897 464l-10-47 10 48 9 46z"/><path class=c36 d="M3833 387l-8 40 8-36 9-41z"/><path class=c25 d="M4110 557l-8-40 10-47 8 41zM3781 480l-9 10 10 50 9-10z"/><path class=c31 d="M3781 456l-8 37 7-52 8-38z"/><path class=c28 d="M4236 414l-10 88 8 37 11-87z"/><path class=c30 d="M3879 456l-9 41 9-39 8-41z"/><path class=c22 d="M3862 531l-10-49 10 85 10 48z"/><path class=c25 d="M3933 559l-9-46 9-41 9 46z"/><path class=c24 d="M3826 528l-8 37 8-54 8-38z"/><path class=c35 d="M3842 350l-9 41 10 50 8-40z"/><path class=c30 d="M4262 437l-8-36 8 75 7 36z"/><path class=c24 d="M4013 527l-9 43 9-43 9-43z"/><path class=c18 d="M3907 602l-9-64 9 45 10 64z"/><path class=c30 d="M4155 415l-9 48 9 40 9-48z"/><path class=c20 d="M3826 547l-9 10 10 48 9-10z"/><path class=c16 d="M3961 598l-9 76 9-43 8-77z"/><path class=c25 d="M4102 517l-9 45 10-46 9-46z"/><path class=c30 d="M4254 401l-9 51 7 74 10-50z"/><path class=c28 d="M3806 417l-8 38 11 88 8-38z"/><path class=c30 d="M3887 417l-8 41 9 48 9-41z"/><path class=c24 d="M4218 508l-8-39 9 75 7 38z"/><path class=c23 d="M4192 479l-9 85 8 38 10-85z"/><path class=c25 d="M4120 511l-8-41 8 41 9 41zM3942 518l-9-46 9 45 9 46z"/><path class=c30 d="M3780 441l-7 75 8-36 7-76z"/><path class=c24 d="M4022 484l-9 43 9 42 9-42z"/><path class=c20 d="M3871 587l-8 38 8-57 9-38z"/><path class=c18 d="M4139 581l-9 82 9-48 10-83z"/><path class=c25 d="M3924 513l-9 40 9-41 9-40z"/><path class=c24 d="M4210 469l-9 48 8 75 10-48z"/><path class=c35 d="M4243 449l-8-37 10-49 8 36z"/><path class=c23 d="M3852 482l-8 38 10 85 8-38z"/><path class=c24 d="M3826 511l-8 74 8-38 8-75z"/><path class=c30 d="M3788 404l-7 76 10 50 7-75z"/><path class=c18 d="M3907 583l-10-49 10 82 10 48z"/><path class=c29 d="M4271 486l-9 50 11-67 9-51z"/><path class=c30 d="M4316 430l-9 25 9 35 9-25z"/><path class=c26 d="M4112 470l-9 46 9 40 8-45z"/><path class=c15 d="M3872 602l-9 10 9 45 9-10z"/><path class=c34 d="M4235 412l-9 51 10-49 9-51z"/><path class=c24 d="M4273 505l-9 23 9 35 8-23z"/><path class=c29 d="M4199 519l-8-39 11-49 8 39z"/><path class=c26 d="M3933 472l-9 40 9 45 9-40z"/><path class=c24 d="M3834 472l-8 75 10 48 8-75z"/><path class=c35 d="M3799 452l-11-49 8-37 11 50z"/><path class=c19 d="M4149 532l-10 83 9 37 10-82z"/><path class=c29 d="M3772 490l-11-68 10 51 11 67zM3844 522l-10-49 8-39 10 49z"/><path class=c20 d="M3871 568l-8 74 9-40 7-75z"/><path class=c29 d="M4191 480l-9 48 10-49 10-48z"/><path class=c36 d="M4253 399l-8-36 9 38 8 36z"/><path class=c34 d="M3807 416l-11-50 10 51 10 49z"/><path class=c16 d="M4229 624l-7-57 8 72 7 56z"/><path class=c30 d="M3726 434l-8 36 9 25 8-35z"/><path class=c9 d="M4096 705l-8-61 9 74 8 61z"/><path class=c24 d="M3772 509l-9 36 10 22 8-35z"/><path class=c20 d="M4167 524l-9 46 8 74 9-45z"/><path class=c19 d="M3897 534l-8 38 10 82 8-38z"/><path class=c28 d="M4273 469l-11 88 11-52 10-88z"/><path class=c23 d="M3817 557l-10-67 10 48 10 67z"/><path class=c35 d="M4245 363l-9 51 9 38 9-51z"/><path class=c8 d="M4194 743l-7-58 9 7 8 59z"/><path class=c22 d="M3969 557l-8 41 8-44 9-41z"/><path class=c30 d="M4210 470l-8-39 8 38 8 39z"/><path class=c29 d="M3852 483l-10-49 10 48 10 49z"/><path class=c25 d="M4156 576l-8-40 10-50 8 42z"/><path class=c20 d="M3879 527l-7 75 9 45 8-75z"/><path class=c32 d="M4307 455l-6-53 8 36 7 52z"/><path class=c36 d="M3788 403l-8 38 8-37 8-38z"/><path class=c19 d="M3817 572l-8 35 9 20 8-35z"/><path class=c27 d="M4309 474l-9 51 9 8 10-51z"/><path class=c25 d="M3889 579l-9-49 8-42 10 50z"/><path class=c23 d="M4229 535l-10 84 10-51 11-85z"/><path class=c28 d="M3771 473l-10-52 11 88 10 51z"/><path class=c30 d="M4202 431l-10 48 9 38 9-48zM3834 473l-8 38 8-39 8-38z"/><path class=c35 d="M3796 366l-8 38 10 51 8-38z"/><path class=c23 d="M4068 513l-9 43 9 40 9-43z"/><path class=c25 d="M4148 536l-9 45 10-49 9-46z"/><path class=c23 d="M3978 513l-9 41 10 43 8-41z"/><path class=c30 d="M4283 417l-10 88 8 35 11-88z"/><path class=c19 d="M3863 612l-10-67 9 45 10 67z"/><path class=c32 d="M3735 460l-8 35 7-53 9-35z"/><path class=c30 d="M3842 434l-8 38 10 48 8-38z"/><path class=c26 d="M4166 528l-8-42 9 38 8 42z"/><path class=c23 d="M3817 538l-10-52 10 86 10 51z"/><path class=c25 d="M3898 538l-10-50 9 46 10 49z"/><path class=c12 d="M4186 672l-8-59 9 72 7 58z"/><path class=c26 d="M3781 532l-8 35 7-54 9-36z"/><path class=c32 d="M4309 438l-7-37 7 73 8 36z"/><path class=c27 d="M3735 479l-9 7 10 51 9-7z"/><path class=c17 d="M4105 573l-9 79 9 38 9-79z"/><path class=c26 d="M3880 530l-9 38 8-41 9-39z"/><path class=c24 d="M4240 483l-11 85 9 35 10-85z"/><path class=c31 d="M4302 401l-10 51 8 73 9-51z"/><path class=c30 d="M3761 421l-9 36 11 88 9-36z"/><path class=c26 d="M4265 509l-7-39 8 72 7 39z"/><path class=c22 d="M3781 546l-9 8 10 48 9-8z"/><path class=c26 d="M4158 486l-9 46 9 38 9-46z"/><path class=c22 d="M4113 622l-8-44 9-49 9 44z"/><path class=c19 d="M4186 588l-10 82 10-51 10-83z"/><path class=c20 d="M4328 622l-7-55 10 5 7 55z"/><path class=c36 d="M4290 455l-8-37 11-53 8 37z"/><path class=c32 d="M3734 442l-7 73 8-36 7-74z"/><path class=c21 d="M3826 592l-8 35 8-57 8-35z"/><path class=c26 d="M3888 488l-9 39 10 45 8-38z"/><path class=c6 d="M4151 779l-8-61 10 8 8 61z"/><path class=c26 d="M4258 470l-10 48 8 73 10-49z"/><path class=c24 d="M3807 486l-9 36 11 85 8-35z"/><path class=c19 d="M3862 590l-10-51 11 83 9 50z"/><path class=c26 d="M3780 513l-7 72 8-39 7-73z"/><path class=c36 d="M4282 418l-9 51 10-52 10-52z"/><path class=c31 d="M3742 405l-7 74 10 51 7-73z"/><path class=c30 d="M4246 525l-7-39 10-52 8 39z"/><path class=c8 d="M4053 729l-9-64 9 74 9 63z"/><path class=c22 d="M4105 578l-9 43 9-48 9-44z"/><path class=c31 d="M4319 482l-10 51 12-71 9-51z"/><path class=c36 d="M3753 459l-10-52 8-38 10 53z"/><path class=c18 d="M3826 602l-9 7 10 46 9-8z"/><path class=c15 d="M4285 682l-7-56 9 5 7 57z"/><path class=c26 d="M3788 473l-7 73 10 48 7-72z"/><path class=c9 d="M3963 724l-10-66 10 77 9 65z"/><path class=c24 d="M4321 552l-7-55 7 70 7 55z"/><path class=c33 d="M4365 420l-9 25 8 33 10-25z"/><path class=c21 d="M4196 536l-10 83 9 35 10-82z"/><path class=c30 d="M4239 486l-10 49 11-52 9-49zM3799 529l-10-52 8-40 10 53z"/><path class=c37 d="M4301 402l-8-37 9 36 7 37z"/><path class=c36 d="M3761 422l-10-53 10 52 10 52z"/><path class=c27 d="M4321 496l-9 23 9 33 9-23z"/><path class=c22 d="M3826 570l-8 72 8-40 8-73z"/><path class=c11 d="M4143 708l-8-62 8 72 8 61z"/><path class=c21 d="M3852 539l-8 36 10 82 9-35z"/><path class=c37 d="M4293 365l-10 52 9 35 10-51z"/><path class=c26 d="M4203 583l-8-41 10-52 8 42z"/><path class=c31 d="M3726 486l-11-71 10 52 11 70z"/><path class=c32 d="M4257 473l-8-39 9 36 7 39z"/><path class=c23 d="M4114 529l-9 44 9 38 9-44z"/><path class=c30 d="M3807 490l-10-53 10 49 10 52z"/><path class=c17 d="M4142 628l-9 80 10-51 9-80z"/><path class=c31 d="M4321 462l-11 88 11-54 11-89z"/><path class=c19 d="M4277 613l-7-57 8 70 7 56z"/><path class=c37 d="M3743 407l-9 35 8-37 9-36z"/><path class=c33 d="M3679 425l-8 33 10 26 8-33z"/><path class=c26 d="M3772 554l-11-70 10 48 11 70z"/><path class=c27 d="M3725 501l-8 33 10 23 8-33z"/><path class=c26 d="M3844 586l-10-51 9-42 10 52z"/><path class=c31 d="M4249 434l-9 49 8 35 10-48z"/><path class=c26 d="M4195 542l-9 46 10-52 9-46z"/><path class=c32 d="M3789 477l-9 36 8-40 9-36z"/><path class=c37 d="M3751 369l-9 36 10 52 9-36z"/><path class=c35 d="M4356 445l-7-53 9 33 6 53z"/><path class=c12 d="M4242 731l-8-59 10 5 7 59z"/><path class=c26 d="M4277 528l-11 85 11-54 11-86z"/><path class=c5 d="M4036 813l-9 11 9-66 9-11zM4018 814l-9-66 9 10 9 66z"/><path class=c27 d="M4213 532l-8-42 9 36 8 41z"/><path class=c26 d="M3853 545l-10-52 9 46 10 51z"/><path class=c31 d="M3725 467l-11-55 11 89 11 54z"/><path class=c22 d="M3771 564l-8 33 9 20 9-33z"/><path class=c31 d="M3797 437l-9 36 10 49 9-36zM4358 459l-10 52 10 5 10-52z"/><path class=c18 d="M4152 577l-9 80 9 35 9-80z"/><path class=c6 d="M4108 803l-8-64 9 8 8 64z"/><path class=c21 d="M3817 609l-10-70 10 46 10 70z"/><path class=c33 d="M4332 407l-11 89 9 33 11-89z"/><path class=c27 d="M3834 535l-8 35 8-41 9-36z"/><path class=c7 d="M4126 798l-9 13 10-69 9-13z"/><path class=c6 d="M3946 804l-9 8 9-63 9-8z"/><path class=c23 d="M4159 629l-8-44 10-52 9 44z"/><path class=c26 d="M3771 532l-11-55 11 87 11 54z"/><path class=c27 d="M4205 490l-9 46 9 36 9-46z"/><path class=c35 d="M3689 451l-8 33 7-53 8-34z"/><path class=c16 d="M4234 661l-8-59 8 70 8 59z"/><path class=c7 d="M3928 799l-10-68 9 13 10 68z"/><path class=c35 d="M4358 425l-7-37 7 71 7 37z"/><path class=c29 d="M3735 524l-8 33 7-55 8-34z"/><path class=c13 d="M4143 718l-8-46 10 8 8 46z"/><path class=c31 d="M3688 465l-9 5 10 51 9-5z"/><path class=c27 d="M4288 473l-11 86 9 33 11-86zM3843 493l-9 36 10 46 8-36z"/><path class=c22 d="M4233 582l-10 82 11-54 10-83z"/><path class=c35 d="M4351 388l-10 52 7 71 10-52z"/><path class=c9 d="M4009 740l-9-67 9 75 9 66z"/><path class=c33 d="M3714 412l-8 33 11 89 8-33z"/><path class=c23 d="M4151 585l-9 43 10-51 9-44z"/><path class=c39 d="M4338 447l-8-36 12-56 7 37z"/><path class=c15 d="M4044 665l-9-49 10 75 8 48z"/><path class=c10 d="M4099 731l-8-64 9 72 8 64z"/><path class=c25 d="M3734 533l-9 5 10 49 9-5z"/><path class=c10 d="M3954 733l-8 71 9-63 8-73z"/><path class=c38 d="M4330 411l-9 51 11-55 10-52z"/><path class=c22 d="M3817 585l-11-55 11 84 10 54z"/><path class=c35 d="M3688 431l-7 71 7-37 7-72z"/><path class=c33 d="M4294 519l-8-40 12-55 7 40z"/><path class=c27 d="M3760 477l-8 34 11 86 8-33z"/><path class=c31 d="M4421 521l-6-52 10 2 6 53z"/><path class=c10 d="M4198 767l-7-62 9 6 8 61z"/><path class=c8 d="M4027 824l-9-66 10-67 8 67z"/><path class=c17 d="M4135 646l-8-46 8 72 8 46z"/><path class=c29 d="M3734 502l-8 70 8-39 8-71z"/><path class=c35 d="M3695 393l-7 72 10 51 8-71z"/><path class=c25 d="M4377 595l-6-55 10 3 6 55z"/><path class=c39 d="M3707 452l-11-55 8-37 11 55z"/><path class=c11 d="M3918 723l-10-70 10 78 10 68z"/><path class=c33 d="M4286 479l-9 49 11-55 10-49z"/><path class=c11 d="M4217 757l-9 15 11-72 9-15z"/><path class=c10 d="M3855 770l-9 5 8-61 9-6z"/><path class=c25 d="M4161 533l-9 44 9 35 9-43z"/><path class=c23 d="M4244 527l-10 83 9 33 10-83z"/><path class=c35 d="M4368 464l-10 52 12-74 10-52z"/><path class=c10 d="M4117 811l-8-64 10-70 8 65z"/><path class=c33 d="M3753 523l-11-55 8-40 11 56z"/><path class=c40 d="M4349 392l-7-37 9 33 7 37z"/><path class=c29 d="M3742 462l-8 71 10 49 8-71z"/><path class=c38 d="M3715 415l-11-55 10 52 11 55z"/><path class=c10 d="M3937 812l-10-68 9-65 10 70z"/><path class=c34 d="M4414 453l-6-53 7 69 6 52z"/><path class=c29 d="M4250 577l-7-42 11-55 7 42z"/><path class=c11 d="M3837 760l-11-72 10 16 10 71z"/><path class=c18 d="M4234 672l-7-44 9 5 8 44z"/><path class=c14 d="M4190 698l-8-63 9 70 7 62z"/><path class=c40 d="M4342 355l-10 52 9 33 10-52z"/><path class=c34 d="M4305 464l-7-40 8 33 8 40z"/><path class=c38 d="M4415 396l-10 27 9 30 9-26z"/><path class=c23 d="M3806 530l-8 34 10 83 9-33z"/><path class=c33 d="M3761 484l-11-56 10 49 11 55z"/><path class=c29 d="M4324 533l-10 49 12-73 10-50z"/><path class=c19 d="M4190 623l-10 80 10-54 10-81z"/><path class=c20 d="M4334 657l-7-58 10 3 6 57z"/><path class=c28 d="M4370 528l-7-56 8 68 6 55z"/><path class=c31 d="M4370 473l-9 24 9 31 9-24z"/><path class=c14 d="M3863 700l-8 70 8-62 8-70z"/><path class=c40 d="M3696 397l-8 34 7-38 9-33z"/><path class=c29 d="M3799 581l-11-55 8-42 11 55z"/><path class=c35 d="M3679 470l-12-75 10 52 12 74z"/><path class=c29 d="M4243 535l-10 47 11-55 10-47z"/><path class=c12 d="M4009 748l-9-51 9 10 9 51z"/><path class=c34 d="M4298 424l-10 49 9 33 9-49z"/><path class=c7 d="M4064 814l-8-66 9 8 9 66z"/><path class=c13 d="M4100 739l-9-48 10 8 8 48z"/><path class=c7 d="M4082 812l-8 10 9-69 9-11z"/><path class=c35 d="M4370 442l-11 89 11-58 12-90z"/><path class=c7 d="M3992 815l-9 8 9-67 9-8z"/><path class=c34 d="M3742 468l-8 34 8-40 8-34z"/><path class=c40 d="M3704 360l-9 33 11 52 8-33z"/><path class=c29 d="M3725 538l-12-74 11 49 11 74z"/><path class=c7 d="M3974 813l-10-69 10 10 9 69z"/><path class=c20 d="M3718 662l-10 3 8-58 9-3z"/><path class=c26 d="M4326 538l-9 20 9 31 9-21z"/><path class=c24 d="M4326 589l-7-58 8 68 7 58z"/><path class=c29 d="M3807 539l-11-55 10 46 11 55z"/><path class=c28 d="M3679 533l-7 68 7-55 7-69z"/><path class=c38 d="M3631 402l-8 32 10 25 8-31z"/><path class=c31 d="M3678 479l-9 31 10 23 8-31z"/><path class=c14 d="M4208 772l-8-61 11-73 8 62z"/><path class=c34 d="M3750 428l-8 34 10 49 8-34z"/><path class=c21 d="M4200 568l-10 81 9 33 10-81z"/><path class=c30 d="M4326 509l-11 86 11-57 11-88z"/><path class=c26 d="M4207 623l-8-44 10-55 8 44z"/><path class=c10 d="M4155 791l-8-64 10 5 7 64z"/><path class=c17 d="M4290 706l-7-60 10 3 7 59z"/><path class=c30 d="M4254 480l-10 47 9 33 9-46z"/><path class=c14 d="M3846 775l-10-71 8-63 10 73z"/><path class=c35 d="M3677 447l-11-58 12 90 11 57z"/><path class=c23 d="M4117 564l-9 41 9 36 10-41z"/><path class=c16 d="M4000 673l-9-52 9 76 9 51z"/><path class=c11 d="M4055 742l-9-67 10 73 8 66z"/><path class=c26 d="M3724 542l-8 31 9 21 9-31z"/><path class=c24 d="M3725 594l-7 68 7-58 7-68z"/><path class=c11 d="M4000 743l-8 72 9-67 9-73z"/><path class=c17 d="M4091 667l-9-49 9 73 9 48z"/><path class=c25 d="M3771 594l-11-74 10 47 11 73z"/><path class=c10 d="M4173 783l-9 13 11-72 9-13zM3901 793l-9 6 8-65 9-5z"/><path class=c12 d="M4092 737l-10 75 10-70 10-75z"/><path class=c37 d="M4382 383l-12 90 9 31 11-90z"/><path class=c36 d="M4408 431l-10 52 10 3 10-52z"/><path class=c17 d="M3963 668l-8 73 8-49 9-74z"/><path class=c16 d="M4191 705l-8-46 10 5 7 47z"/><path class=c12 d="M3964 738l-10-70 10 76 10 69z"/><path class=c26 d="M4199 579l-9 44 10-55 9-44z"/><path class=c30 d="M3724 513l-11-58 11 87 11 58zM3796 484l-8 34 10 46 8-34z"/><path class=c18 d="M4309 690l-9 18 12-75 9-18z"/><path class=c10 d="M3883 786l-11-72 10 13 10 72z"/><path class=c17 d="M3763 710l-9 3 7-60 10-3z"/><path class=c39 d="M3641 428l-8 31 6-53 9-32z"/><path class=c20 d="M4282 638l-7-61 8 69 7 60z"/><path class=c33 d="M3687 502l-8 31 7-56 9-31z"/><path class=c13 d="M4146 721l-8-65 9 71 8 64z"/><path class=c26 d="M4282 562l-11 84 11-57 11-85z"/><path class=c32 d="M4337 450l-11 88 9 30 11-87z"/><path class=c11 d="M4074 822l-9-66 10-70 8 67z"/><path class=c43 d="M4387 427l-7-37 12-59 7 38z"/><path class=c18 d="M3908 653l-10-55 11 79 9 54z"/><path class=c11 d="M3983 823l-9-69 9-68 9 70z"/><path class=c35 d="M4482 455l-10 26 11 0 9-26z"/><path class=c13 d="M3909 723l-8 70 8-64 9-71z"/><path class=c37 d="M3666 389l-8 31 11 90 9-31z"/><path class=c18 d="M3745 695l-12-76 10 19 11 75z"/><path class=c36 d="M3640 437l-10 3 11 52 10-3z"/><path class=c26 d="M4327 599l-7-41 10 2 7 42z"/><path class=c29 d="M4437 532l-9 24 10 0 9-24z"/><path class=c20 d="M4182 635l-8-47 9 71 8 46z"/><path class=c42 d="M4380 390l-10 52 12-59 10-52z"/><path class=c20 d="M3771 642l-8 68 8-60 7-68z"/><path class=c37 d="M4343 499l-7-40 11-58 7 40z"/><path class=c15 d="M4183 706l-10 77 11-72 10-79z"/><path class=c26 d="M3770 567l-11-58 11 84 11 57z"/><path class=c27 d="M4209 524l-9 44 9 33 10-44z"/><path class=c30 d="M3686 506l-9 3 10 49 10-3z"/><path class=c22 d="M3817 637l-11-74 10 44 11 73z"/><path class=c32 d="M3713 455l-9 31 12 87 8-31z"/><path class=c17 d="M4046 707l-9-68 9 36 9 67z"/><path class=c20 d="M3871 638l-8 70 9-46 8-71z"/><path class=c40 d="M3639 406l-7 69 8-38 7-69z"/><path class=c15 d="M3872 708l-10-73 10 79 11 72zM4247 742l-7-62 9 2 7 63z"/><path class=c39 d="M4475 388l-10 26 7 67 10-26z"/><path class=c37 d="M4336 459l-10 50 11-59 10-49z"/><path class=c43 d="M3659 433l-11-59 7-38 12 59z"/><path class=c14 d="M4164 796l-7-64 10-73 8 65z"/><path class=c24 d="M4393 597l-9 21 10 0 9-21z"/><path class=c34 d="M3686 477l-7 69 7-40 8-69z"/><path class=c32 d="M4430 466l-9 24 7 66 9-24z"/><path class=c39 d="M3647 368l-7 69 11 52 7-69z"/><path class=c28 d="M4293 504l-11 85 9 31 11-84z"/><path class=c21 d="M4300 708l-7-59 12-77 7 61z"/><path class=c37 d="M3706 504l-11-58 7-40 11 58z"/><path class=c14 d="M4056 748l-9-51 9 7 9 52z"/><path class=c45 d="M4399 369l-7-38 9 31 7 38z"/><path class=c35 d="M3567 462l-10 0 10 26 9 0z"/><path class=c42 d="M3667 395l-12-59 11 53 11 58z"/><path class=c14 d="M3892 799l-10-72 8-66 10 73z"/><path class=c29 d="M3613 539l-9 0 9 23 10 0z"/><path class=c16 d="M4265 729l-9 16 12-76 9-15z"/><path class=c37 d="M4472 481l-5-54 10 0 6 54z"/><path class=c33 d="M4299 558l-7-42 11-59 7 43z"/><path class=c19 d="M4137 688l-8-65 9 33 8 65z"/><path class=c15 d="M3809 746l-9 3 7-63 10-3z"/><path class=c40 d="M4418 434l-10 52 13-78 10-53z"/><path class=c9 d="M4038 813l-9 8 10-69 9-9z"/><path class=c15 d="M3964 744l-9-54 9 10 10 54z"/><path class=c9 d="M4020 813l-9-69 9 8 9 69z"/><path class=c44 d="M4392 331l-10 52 8 31 11-52z"/><path class=c25 d="M4155 610l-9 41 10-55 9-41z"/><path class=c24 d="M4238 604l-10 81 11-57 10-82z"/><path class=c26 d="M3733 562l-10 3 10 47 10-3z"/><path class=c19 d="M3918 690l-9 33 9-65 8-34z"/><path class=c31 d="M4428 556l-6-56 10 0 6 56z"/><path class=c37 d="M3713 464l-11-58 11 49 11 58z"/><path class=c18 d="M4239 674l-8-63 9 69 7 62z"/><path class=c28 d="M3759 509l-9 31 12 84 8-31z"/><path class=c27 d="M4386 531l-10 21 8 66 9-21z"/><path class=c23 d="M4283 646l-7-44 10 2 7 45z"/><path class=c21 d="M3754 713l-11-75 7-61 11 76z"/><path class=c29 d="M3732 536l-7 68 8-42 7-69z"/><path class=c10 d="M4111 802l-8-67 9 6 9 67z"/><path class=c24 d="M3660 603l-10 0 10 21 9 0z"/><path class=c16 d="M3790 733l-11-75 10 15 11 76z"/><path class=c33 d="M4292 516l-10 46 11-58 10-47z"/><path class=c39 d="M3573 395l-6 67 9 26 7-67z"/><path class=c16 d="M4147 727l-8-49 9 5 9 49z"/><path class=c35 d="M4449 442l-12 90 10 0 12-90zM4374 503l-10 50 12-78 10-49z"/><path class=c32 d="M3620 472l-7 67 10 23 7-66z"/><path class=c33 d="M3752 562l-11-57 8-43 11 58z"/><path class=c11 d="M4130 797l-9 11 10-73 9-10z"/><path class=c39 d="M4347 401l-10 49 9 31 10-49z"/><path class=c40 d="M4465 414l-6-54 8 67 5 54z"/><path class=c10 d="M3947 804l-9 5 8-67 9-5z"/><path class=c24 d="M3816 607l-11-58 11 82 10 57z"/><path class=c45 d="M3648 374l-9 32 8-38 8-32z"/><path class=c43 d="M4466 360l-10 26 9 28 10-26z"/><path class=c18 d="M3817 678l-8 68 8-63 8-68z"/><path class=c16 d="M3909 729l-9 5 9-49 9-5z"/><path class=c18 d="M4046 675l-9-52 10 74 9 51z"/><path class=c20 d="M4349 649l-9 18 10 0 9-18z"/><path class=c18 d="M4010 675l-9 73 9-51 9-74z"/><path class=c11 d="M3928 799l-9-72 9 10 10 72z"/><path class=c37 d="M4421 437l-9 24 9 29 9-24z"/><path class=c34 d="M4421 490l-7-57 8 67 6 56z"/><path class=c23 d="M3771 650l-10 3 8-45 10-2z"/><path class=c39 d="M3695 446l-9 31 8-40 8-31z"/><path class=c37 d="M3576 488l-9 0 6-54 10 0z"/><path class=c40 d="M3630 440l-12-78 11 52 12 78z"/><path class=c44 d="M3655 336l-8 32 11 52 8-31z"/><path class=c26 d="M4384 618l-6-59 10 0 6 59z"/><path class=c13 d="M4047 740l-9 73 10-70 9-73z"/><path class=c33 d="M3760 520l-11-58 10 47 11 58z"/><path class=c29 d="M4405 509l-12 88 10 0 12-88z"/><path class=c26 d="M4275 577l-7-45 8 70 7 44z"/><path class=c13 d="M4010 741l-9-71 10 74 9 69z"/><path class=c27 d="M3667 536l-7 67 9 21 8-67z"/><path class=c31 d="M3623 562l-10 0 7-56 10 0z"/><path class=c26 d="M4165 555l-9 41 9 34 9-42z"/><path class=c19 d="M3954 668l-9-55 10 77 9 54z"/><path class=c21 d="M4276 648l-11 81 12-75 11-83z"/><path class=c38 d="M4442 375l-12 91 7 66 12-90z"/><path class=c41 d="M4421 408l-12 90 12-61 12-91z"/><path class=c25 d="M4249 546l-10 82 9 31 10-82z"/><path class=c14 d="M4102 732l-8-68 9 71 8 67z"/><path class=c30 d="M4255 604l-7-44 11-59 7 45z"/><path class=c35 d="M3677 509l-12-78 10 50 12 77z"/><path class=c39 d="M3702 406l-8 31 10 49 9-31z"/><path class=c20 d="M4138 656l-8-50 9 72 8 49z"/><path class=c18 d="M3872 714l-10-57 10 13 10 57z"/><path class=c14 d="M3955 734l-8 70 8-67 9-72z"/><path class=c35 d="M3601 449l-10 0 13 90 9 0z"/><path class=c19 d="M4256 745l-7-63 12-76 7 63z"/><path class=c24 d="M4341 583l-9 18 8 66 9-18z"/><path class=c30 d="M4330 560l-10 47 12-77 10-47z"/><path class=c32 d="M4377 502l-10 21 9 29 10-21z"/><path class=c20 d="M3706 654l-10 0 10 19 9-1z"/><path class=c23 d="M4230 644l-8-64 9 31 8 63z"/><path class=c35 d="M4303 457l-10 47 9 32 10-47z"/><path class=c40 d="M3583 421l-7 67 7-54 7-67z"/><path class=c20 d="M3918 658l-9 71 9-49 8-72z"/><path class=c30 d="M4376 552l-6-59 8 66 6 59z"/><path class=c15 d="M4139 722l-9 75 10-72 10-77z"/><path class=c26 d="M3778 582l-7 68 8-44 7-70z"/><path class=c43 d="M3582 366l-9 29 10 26 9-28z"/><path class=c14 d="M4203 766l-7-65 9 3 8 65z"/><path class=c37 d="M3629 444l-9 28 10 24 9-29z"/><path class=c21 d="M3779 652l-11-76 11 82 11 75z"/><path class=c33 d="M4397 442l-11 89 7 66 12-88z"/><path class=c34 d="M3630 496l-7 66 7-56 7-67z"/><path class=c35 d="M4376 475l-11 88 12-61 11-88z"/><path class=c26 d="M3669 624l-9 0 7-59 9 0z"/><path class=c15 d="M3918 724l-10-74 11 77 9 72z"/><path class=c29 d="M3648 516l-10 0 12 87 10 0z"/><path class=c30 d="M4248 560l-10 44 11-58 10-45z"/><path class=c13 d="M4029 821l-9-69 10-71 9 71z"/><path class=c19 d="M3800 749l-11-76 7-63 11 76z"/><path class=c41 d="M3629 414l-12-62 12 92 12 61z"/><path class=c16 d="M4222 756l-9 13 11-76 9-13z"/><path class=c14 d="M3855 769l-10 3 8-65 10-3z"/><path class=c38 d="M3608 381l-7 68 12 90 7-67z"/><path class=c26 d="M4360 564l-11 85 10 0 11-85z"/><path class=c24 d="M3713 588l-7 66 9 18 8-66z"/><path class=c21 d="M4240 680l-8-47 10 2 7 47z"/><path class=c30 d="M3723 565l-12-77 11 47 11 77z"/><path class=c35 d="M3749 462l-9 31 10 47 9-31z"/><path class=c23 d="M4194 632l-10 79 11-57 10-80zM4340 667l-6-61 9 0 7 61z"/><path class=c42 d="M4467 427l-7-38 10 0 7 38z"/><path class=c32 d="M3676 508l-9 28 10 21 8-28z"/><path class=c15 d="M4121 808l-9-67 11-74 8 68z"/><path class=c43 d="M4433 346l-12 91 9 29 12-91z"/><path class=c30 d="M3806 563l-11-58 10 44 11 58zM3677 557l-8 67 7-59 8-67z"/><path class=c18 d="M4305 688l-9 16 10 0 9-16zM4195 698l-8-66 9 69 7 65z"/><path class=c16 d="M3836 759l-11-76 10 14 10 75z"/><path class=c15 d="M3938 809l-10-72 9-68 9 73z"/><path class=c19 d="M4056 704l-9 36 10-70 9-37z"/><path class=c35 d="M3675 481l-11-62 12 89 11 60z"/><path class=c23 d="M3862 635l-10-58 10 80 10 57z"/><path class=c33 d="M3655 448l-7 68 12 87 7-67z"/><path class=c42 d="M4460 389l-11 53 10 0 11-53z"/><path class=c19 d="M4001 705l-9-71 9 36 9 71z"/><path class=c37 d="M4422 500l-7-40 10-1 7 41z"/><path class=c21 d="M3817 683l-10 3 8-47 10-3z"/><path class=c28 d="M4332 554l-9 19 9 28 9-18z"/><path class=c20 d="M4093 699l-8-68 9 33 8 68z"/><path class=c45 d="M3592 393l-9 28 7-54 8-29z"/><path class=c29 d="M4353 497l-12 86 8 66 11-85z"/><path class=c31 d="M4332 530l-11 85 11-61 12-86z"/><path class=c20 d="M3964 700l-9 34 9-69 9-34z"/><path class=c34 d="M4367 523l-6-59 9 29 6 59z"/><path class=c18 d="M3863 701l-8 68 8-65 8-69z"/><path class=c26 d="M3694 569l-9 1 11 84 10 0zM4332 601l-6-62 8 67 6 61z"/><path class=c23 d="M3715 672l-9 1 7-61 9-1z"/><path class=c46 d="M4459 360l-7-38 8 67 7 38z"/><path class=c48 d="M4438 393l-7-38 12-62 7 38z"/><path class=c39 d="M3639 467l-9 29 7-57 8-29z"/><path class=c25 d="M4231 611l-8-47 9 69 8 47z"/><path class=c37 d="M4388 414l-11 88 9 29 11-89z"/><path class=c28 d="M4286 604l-10 44 12-77 9-44z"/><path class=c32 d="M4259 501l-10 45 9 31 10-45z"/><path class=c36 d="M4415 460l-10 49 10 0 10-50z"/><path class=c18 d="M3752 693l-10 0 10 16 9-1z"/><path class=c17 d="M4048 743l-9 9 9-55 9-8zM4011 744l-9-55 9 8 9 55z"/><path class=c20 d="M4232 677l-10 79 11-76 10-80z"/><path class=c42 d="M3583 434l-10 0 7-38 10 0z"/><path class=c45 d="M4452 322l-10 53 7 67 11-53z"/><path class=c48 d="M4431 355l-10 53 12-62 10-53z"/><path class=c43 d="M3617 352l-9 29 12 91 9-28z"/><path class=c40 d="M4414 433l-7-41 8 68 7 40z"/><path class=c42 d="M4393 466l-7-40 12-63 7 41z"/><path class=c17 d="M4103 735l-9-52 10 6 8 52z"/><path class=c28 d="M3722 559l-9 29 10 18 8-29z"/><path class=c25 d="M3825 615l-8 68 8-47 8-69z"/><path class=c32 d="M4378 559l-7-42 10 0 7 42z"/><path class=c21 d="M3909 685l-10-74 9 39 10 74z"/><path class=c31 d="M3722 535l-12-62 12 86 11 60z"/><path class=c17 d="M3955 737l-9 5 9-52 10-5z"/><path class=c37 d="M3630 506l-10 0 7-40 10 0z"/><path class=c29 d="M3702 502l-8 67 12 85 7-66z"/><path class=c28 d="M3769 608l-11-77 10 45 11 76z"/><path class=c42 d="M3590 396l-10 0 11 53 10 0z"/><path class=c26 d="M3723 606l-8 66 7-61 8-67z"/><path class=c13 d="M4067 801l-9-70 10 5 8 71z"/><path class=c20 d="M3825 681l-10-77 10 79 11 76z"/><path class=c23 d="M4316 606l-11 82 10 0 11-82z"/><path class=c19 d="M4213 769l-8-65 11-77 8 66z"/><path class=c21 d="M3759 626l-7 67 9 15 8-66z"/><path class=c40 d="M4407 392l-10 50 8 67 10-49z"/><path class=c42 d="M4386 426l-10 49 12-61 10-51z"/><path class=c13 d="M4085 799l-9 8 10-73 9-8zM3993 802l-9 6 9-71 9-5z"/><path class=c37 d="M3664 419l-9 29 12 88 9-28z"/><path class=c23 d="M4186 667l-8-66 9 31 8 66z"/><path class=c13 d="M3975 800l-10-73 10 8 9 73z"/><path class=c48 d="M3610 400l-12-62 8-39 12 63z"/><path class=c29 d="M4203 591l-9 41 11-58 9-42z"/><path class=c46 d="M3590 367l-7 67 7-38 7-68z"/><path class=c36 d="M3637 466l-10 0 11 50 10 0z"/><path class=c19 d="M3919 727l-10-58 9 11 10 57z"/><path class=c21 d="M4296 704l-6-64 9 0 7 64z"/><path class=c34 d="M4344 468l-12 86 9 29 12-86z"/><path class=c32 d="M4371 517l-11 47 10 0 11-47z"/><path class=c21 d="M4057 670l-9 73 9-54 10-75z"/><path class=c31 d="M4323 573l-7-62 10 28 6 62z"/><path class=c21 d="M4001 670l-9-55 10 74 9 55z"/><path class=c19 d="M3845 772l-10-75 8-67 10 77z"/><path class=c23 d="M3872 670l-9 31 8-66 9-32z"/><path class=c42 d="M3657 472l-12-62 8-41 12 62z"/><path class=c50 d="M4450 331l-7-38 9 29 7 38z"/><path class=c35 d="M4370 493l-7-43 8 67 7 42z"/><path class=c40 d="M3637 439l-7 67 7-40 7-68z"/><path class=c38 d="M4349 525l-7-42 12-62 7 43z"/><path class=c48 d="M3618 362l-12-63 11 53 12 62z"/><path class=c45 d="M3597 328l-7 68 11 53 7-68z"/><path class=c21 d="M4094 664l-9-52 9 71 9 52z"/><path class=c32 d="M3676 565l-9 0 7-43 10 0z"/><path class=c23 d="M3740 611l-9 0 11 82 10 0z"/><path class=c21 d="M3964 665l-9 72 10-52 8-72z"/><path class=c26 d="M4308 539l-11 83 8 66 11-82z"/><path class=c29 d="M4288 571l-11 83 11-61 11-83z"/><path class=c15 d="M4159 777l-8-68 10 3 8 68z"/><path class=c50 d="M4443 293l-10 53 9 29 10-53z"/><path class=c45 d="M4405 404l-7-41 9 29 7 41z"/><path class=c21 d="M4196 701l-8-50 9 3 8 50z"/><path class=c17 d="M4058 731l-9-72 9 72 9 70z"/><path class=c42 d="M3665 431l-12-62 11 50 11 62z"/><path class=c40 d="M3644 398l-7 68 11 50 7-68z"/><path class=c21 d="M3761 708l-9 1 7-64 10 0z"/><path class=c17 d="M4002 731l-9 71 9-70 9-72z"/><path class=c18 d="M4262 714l-9 14 9 0 9-13z"/><path class=c24 d="M4288 638l-7-65 9 67 6 64z"/><path class=c36 d="M4363 450l-10 47 7 67 11-47z"/><path class=c17 d="M4095 725l-10 74 10-73 10-75z"/><path class=c38 d="M4342 483l-10 47 12-62 10-47z"/><path class=c34 d="M3710 473l-8 29 11 86 9-29z"/><path class=c16 d="M4178 770l-9 10 11-76 9-11z"/><path class=c15 d="M3901 780l-9 3 8-68 9-3z"/><path class=c23 d="M4150 648l-10 77 10-58 10-77z"/><path class=c31 d="M3731 577l-8 29 7-62 9-29z"/><path class=c32 d="M3684 522l-10 0 11 48 9-1z"/><path class=c17 d="M3965 726l-10-74 10 75 10 73z"/><path class=c29 d="M4334 606l-8-45 10 0 7 45z"/><path class=c38 d="M3704 531l-12-62 8-43 11 62z"/><path class=c21 d="M3863 704l-10 3 9-50 9-3z"/><path class=c26 d="M3768 597l-9 29 10 16 9-29z"/><path class=c35 d="M3684 498l-8 67 8-43 7-67z"/><path class=c44 d="M4398 363l-10 51 9 28 10-50z"/><path class=c29 d="M3768 576l-11-62 11 83 11 61z"/><path class=c31 d="M4214 532l-9 42 9 31 9-41z"/><path class=c26 d="M3748 543l-8 68 12 82 7-67z"/><path class=c23 d="M3908 650l-10-58 11 77 10 58z"/><path class=c16 d="M3882 772l-10-76 9 11 11 76z"/><path class=c50 d="M3598 338l-8 29 7-39 9-29z"/><path class=c18 d="M3798 718l-10 1 10 13 9 0z"/><path class=c19 d="M4151 709l-9-69 9 69 8 68z"/><path class=c24 d="M3769 642l-8 66 8-63 8-67z"/><path class=c21 d="M4253 648l-9 13 9 67 9-14z"/><path class=c25 d="M4187 632l-8-50 9 69 8 50z"/><path class=c45 d="M3645 410l-8 29 7-41 9-29z"/><path class=c40 d="M4361 464l-7-43 9 29 7 43z"/><path class=c26 d="M3815 639l-11-77 11 42 10 77z"/><path class=c50 d="M3606 299l-9 29 11 53 9-29z"/><path class=c38 d="M3711 488l-11-62 10 47 12 62z"/><path class=c36 d="M3691 455l-7 67 10 47 8-67z"/><path class=c30 d="M4326 561l-10 45 10 0 10-45z"/><path class=c19 d="M3909 711l-8 69 8-68 9-70z"/><path class=c32 d="M4326 539l-8-45 8 67 8 45z"/><path class=c29 d="M3722 611l-9 1 8-46 9 0z"/><path class=c35 d="M4305 572l-8-45 12-62 7 46z"/><path class=c31 d="M4299 510l-11 83 9 29 11-83z"/><path class=c17 d="M4076 807l-8-71 10-74 8 72z"/><path class=c25 d="M3871 635l-8 69 8-50 9-70z"/><path class=c17 d="M3984 808l-9-73 9-72 9 74z"/><path class=c23 d="M3825 683l-10-60 9 13 11 61z"/><path class=c22 d="M4272 635l-10 79 9 1 11-80z"/><path class=c44 d="M3653 369l-9 29 11 50 9-29z"/><path class=c21 d="M3806 652l-8 66 9 14 8-67zM4188 693l-10 77 11-77 10-77z"/><path class=c29 d="M4279 609l-7-64 9 28 7 65z"/><path class=c40 d="M4354 421l-10 47 9 29 10-47z"/><path class=c22 d="M4048 697l-9-72 10 34 9 72zM4011 697l-9 34 9-71 10-34z"/><path class=c40 d="M3692 469l-8 29 7-43 9-29z"/><path class=c21 d="M3872 696l-11-77 11 77 10 76z"/><path class=c30 d="M3730 566l-9 0 10 45 9 0z"/><path class=c33 d="M4318 494l-10 45 8 67 10-45z"/><path class=c35 d="M3750 577l-11-62 8-46 11 62zM4297 527l-9 44 11-61 10-45z"/><path class=c31 d="M3757 514l-9 29 11 83 9-29z"/><path class=c23 d="M4104 689l-9 36 10-74 9-37z"/><path class=c32 d="M3730 544l-8 67 8-45 8-68z"/><path class=c21 d="M4253 728l-8-66 10 0 7 66z"/><path class=c22 d="M3787 639l-10 0 11 80 10-1z"/><path class=c23 d="M3955 690l-9-74 9 36 10 74z"/><path class=c29 d="M3778 613l-9 29 8-64 8-29z"/><path class=c25 d="M4264 568l-11 80 9 66 10-79z"/><path class=c28 d="M4243 600l-10 80 11-61 11-80z"/><path class=c20 d="M4169 780l-8-68 11-77 8 69z"/><path class=c24 d="M4141 678l-8-69 9 31 9 69z"/><path class=c40 d="M3700 426l-9 29 11 47 8-29z"/><path class=c20 d="M4058 731l-9-55 10 5 9 55z"/><path class=c28 d="M4290 640l-8-47 10 0 7 47z"/><path class=c21 d="M3807 732l-9 0 8-66 9-1z"/><path class=c37 d="M4316 511l-7-46 9 29 8 45z"/><path class=c20 d="M4002 732l-9 5 10-55 9-6z"/><path class=c35 d="M3758 531l-11-62 10 45 11 62z"/><path class=c20 d="M3892 783l-11-76 9-70 10 78z"/><path class=c24 d="M3918 680l-9 31 9-69 9-32z"/><path class=c33 d="M3738 498l-8 68 10 45 8-68z"/><path class=c21 d="M4095 726l-9 8 10-58 9-8z"/><path class=c28 d="M3815 604l-11-62 11 81 10 60z"/><path class=c24 d="M4244 661l-7-67 8 68 8 66z"/><path class=c25 d="M3795 571l-8 68 11 79 8-66z"/><path class=c26 d="M3815 623l-9 29 9 13 9-29z"/><path class=c21 d="M3965 727l-9-58 9 8 10 58z"/><path class=c18 d="M4218 728l-9 11 9 0 9-11z"/><path class=c28 d="M3769 645l-10 0 8-48 10 0z"/><path class=c38 d="M4309 465l-10 45 9 29 10-45z"/><path class=c26 d="M4197 654l-9 39 11-77 10-40z"/><path class=c37 d="M3739 515l-9 29 8-46 9-29z"/><path class=c22 d="M4151 709l-8-52 10 3 8 52z"/><path class=c31 d="M4281 573l-7-48 8 68 8 47z"/><path class=c24 d="M3815 665l-8 67 8-67 8-67z"/><path class=c17 d="M4040 787l-9 6 10-74 9-6z"/><path class=c34 d="M4261 606l-8-48 11-62 8 49z"/><path class=c17 d="M4022 787l-9-73 9 5 9 74z"/><path class=c28 d="M4282 593l-10 42 10 0 10-42z"/><path class=c24 d="M4049 659l-9-55 9 72 9 55zM4011 660l-9 72 10-56 9-72z"/><path class=c30 d="M4255 539l-11 80 9 29 11-80z"/><path class=c22 d="M3909 712l-9 3 9-53 9-3z"/><path class=c18 d="M3844 731l-9 1 9 11 10-1zM4115 776l-9-71 10 3 9 71z"/><path class=c22 d="M4049 676l-9 34 10 6 9-35z"/><path class=c26 d="M3862 657l-11-78 10 40 11 77z"/><path class=c25 d="M4105 651l-10 75 10-58 10-76z"/><path class=c18 d="M4134 771l-9 8 10-77 9-8zM3947 778l-9 3 9-72 9-3z"/><path class=c34 d="M3796 610l-11-61 9-49 10 62z"/><path class=c24 d="M4189 693l-9 11 11-61 9-10z"/><path class=c31 d="M3777 578l-8 67 8-48 8-68z"/><path class=c23 d="M4105 668l-9 8 10 31 9-8z"/><path class=c25 d="M3955 652l-9-58 10 75 9 58z"/><path class=c38 d="M3747 469l-9 29 10 45 9-29z"/><path class=c28 d="M3777 597l-10 0 10 42 10 0z"/><path class=c32 d="M4274 525l-10 43 8 67 10-42z"/><path class=c18 d="M3929 773l-10-77 9 8 10 77z"/><path class=c23 d="M3956 669l-9 31 9 9 9-32z"/><path class=c34 d="M4253 558l-10 42 12-61 9-43z"/><path class=c29 d="M4235 633l-7-68 9 29 7 67z"/><path class=c30 d="M3804 542l-9 29 11 81 9-29z"/><path class=c26 d="M4142 640l-8-53 9 70 8 52z"/><path class=c20 d="M4050 716l-10 71 10-74 9-72zM4012 716l-9-75 10 73 9 73z"/><path class=c24 d="M3872 696l-11-61 10 11 10 61z"/><path class=c23 d="M4228 651l-10 77 9 0 11-77z"/><path class=c21 d="M3852 664l-8 67 10 11 8-67z"/><path class=c26 d="M3918 642l-9 70 9-53 9-70z"/><path class=c21 d="M4106 707l-9-72 9 70 9 71z"/><path class=c29 d="M3824 636l-9 29 8-67 9-29z"/><path class=c36 d="M4272 545l-8-49 10 29 7 48z"/><path class=c34 d="M3804 562l-10-62 10 42 11 62z"/><path class=c21 d="M3956 709l-9 69 9-72 9-70z"/><path class=c32 d="M3785 529l-8 68 10 42 8-68z"/><path class=c23 d="M3833 654l-9 0 11 78 9-1z"/><path class=c22 d="M4143 696l-9 75 10-77 10-75z"/><path class=c26 d="M4219 583l-10 78 9 67 10-77z"/><path class=c28 d="M4199 616l-10 77 11-60 10-79z"/><path class=c22 d="M4209 739l-8-69 10 0 7 69z"/><path class=c27 d="M4245 662l-7-51 10 0 7 51z"/><path class=c22 d="M3918 698l-10-77 11 75 10 77z"/><path class=c36 d="M3785 549l-8 29 8-49 9-29zM4264 496l-9 43 9 29 10-43z"/><path class=c21 d="M4031 793l-9-74 10-75 9 75z"/><path class=c28 d="M3861 619l-10-62 10 78 11 61z"/><path class=c22 d="M3854 742l-10 1 8-70 10 0z"/><path class=c26 d="M3842 586l-9 68 11 77 8-67z"/><path class=c27 d="M4161 712l-8-52 11-79 8 54z"/><path class=c26 d="M3861 635l-9 29 10 11 9-29z"/><path class=c27 d="M3815 665l-9 1 8-51 9 0z"/><path class=c26 d="M4059 681l-9 35 9-75 10-35z"/><path class=c25 d="M4200 672l-8-70 9 68 8 69z"/><path class=c26 d="M4003 682l-10-75 10 34 9 75z"/><path class=c22 d="M4125 779l-9-71 11-78 8 72z"/><path class=c31 d="M4237 594l-8-51 9 68 7 51z"/><path class=c33 d="M4216 627l-7-51 11-62 8 51z"/><path class=c26 d="M4096 676l-8-73 9 32 9 72z"/><path class=c36 d="M3794 500l-9 29 10 42 9-29z"/><path class=c28 d="M4238 611l-10 40 10 0 10-40z"/><path class=c22 d="M3938 781l-10-77 9-73 10 78z"/><path class=c26 d="M3965 677l-9 32 9-73 9-32z"/><path class=c25 d="M3862 675l-8 67 8-69 8-68z"/><path class=c33 d="M3843 630l-11-61 9-52 10 62z"/><path class=c31 d="M4210 554l-10 79 9 28 10-78zM3823 598l-8 67 8-50 9-69z"/><path class=c28 d="M4153 660l-10 36 11-77 10-38zM3823 615l-9 0 10 39 9 0z"/><path class=c20 d="M4173 729l-9 8 10 1 9-9z"/><path class=c24 d="M4050 713l-9 6 10-59 9-5zM4013 714l-10-59 10 6 9 58z"/><path class=c32 d="M4229 543l-10 40 9 68 10-40z"/><path class=c34 d="M4209 576l-10 40 11-62 10-40z"/><path class=c31 d="M3851 557l-9 29 10 78 9-29z"/><path class=c28 d="M3909 662l-11-79 10 38 10 77z"/><path class=c20 d="M3891 732l-10 0 10 8 9 0z"/><path class=c25 d="M4106 705l-8-56 10 3 8 56z"/><path class=c30 d="M4191 643l-8-70 9 29 8 70z"/><path class=c25 d="M3956 706l-9 3 9-56 9-3z"/><path class=c35 d="M4228 565l-8-51 9 29 8 51z"/><path class=c34 d="M3851 579l-10-62 10 40 10 62z"/><path class=c32 d="M3832 546l-9 69 10 39 9-68z"/><path class=c26 d="M4144 694l-9 8 11-61 9-8z"/><path class=c30 d="M3871 646l-9 29 8-70 9-29z"/><path class=c26 d="M3919 696l-11-61 10 8 10 61z"/><path class=c28 d="M4059 641l-9 72 10-58 9-74z"/><path class=c24 d="M4183 654l-10 75 10 0 10-75z"/><path class=c35 d="M3832 569l-9 29 9-52 9-29z"/><path class=c28 d="M4003 641l-10-59 10 73 10 59z"/><path class=c22 d="M4070 762l-9-75 10 3 8 75z"/><path class=c29 d="M4097 635l-9-56 10 70 8 56z"/><path class=c22 d="M4089 759l-10 6 11-78 9-6zM3995 762l-10 4 10-75 9-3z"/><path class=c26 d="M4060 655l-9 5 9 32 10-5z"/><path class=c29 d="M3965 636l-9 70 9-56 9-71z"/><path class=c22 d="M3976 760l-10-77 10 5 9 78z"/><path class=c26 d="M4003 655l-9 32 10 6 9-32z"/><path class=c24 d="M3880 656l-9 1 10 75 10 0z"/><path class=c27 d="M4098 649l-10 35 10 3 10-35z"/><path class=c36 d="M4220 514l-10 40 9 29 10-40z"/><path class=c27 d="M3965 650l-9 3 10 35 9-3z"/><path class=c29 d="M4201 670l-8-54 10 0 8 54z"/><path class=c28 d="M4174 586l-10 76 9 67 10-75z"/><path class=c30 d="M4154 619l-10 75 11-61 10-77z"/><path class=c36 d="M3841 517l-9 29 10 40 9-29z"/><path class=c25 d="M4060 692l-9-76 10 71 9 75z"/><path class=c24 d="M4164 737l-8-72 10 0 8 73z"/><path class=c25 d="M4004 693l-9 69 9-74 9-71z"/><path class=c28 d="M4155 633l-9 8 9 29 9-8z"/><path class=c29 d="M3862 673l-10 0 9-54 9 0z"/><path class=c30 d="M3908 621l-10-63 10 77 11 61z"/><path class=c28 d="M3889 588l-9 68 11 76 8-68z"/><path class=c26 d="M4098 687l-9 72 10-78 10-73z"/><path class=c28 d="M4022 719l-9-58 10-76 9 59z"/><path class=c26 d="M3966 688l-10-79 10 74 10 77z"/><path class=c24 d="M3900 740l-9 0 8-73 10 0z"/><path class=c28 d="M3908 635l-9 29 10 8 9-29z"/><path class=c32 d="M4192 602l-8-54 9 68 8 54z"/><path class=c35 d="M4172 635l-8-54 10-62 9 54z"/><path class=c29 d="M4116 708l-8-56 10-79 9 57z"/><path class=c30 d="M4193 616l-10 38 10 0 10-38z"/><path class=c35 d="M3890 637l-11-61 9-55 10 62z"/><path class=c27 d="M4155 670l-8-73 9 68 8 72z"/><path class=c32 d="M3870 605l-8 68 8-54 9-68z"/><path class=c27 d="M3909 672l-9 68 9-73 9-68z"/><path class=c30 d="M3870 619l-9 0 10 38 9-1z"/><path class=c32 d="M4165 556l-10 77 9 29 10-76z"/><path class=c26 d="M4079 765l-8-75 10-79 9 76z"/><path class=c33 d="M4184 548l-10 38 9 68 10-38z"/><path class=c36 d="M4164 581l-10 38 11-63 9-37z"/><path class=c32 d="M3898 558l-9 30 10 76 9-29z"/><path class=c30 d="M4051 660l-9-76 9 32 9 76z"/><path class=c26 d="M3985 766l-9-78 9-76 10 79z"/><path class=c30 d="M4013 661l-9 32 9-76 10-32z"/><path class=c31 d="M4108 652l-10 35 11-79 9-35z"/><path class=c37 d="M4183 573l-9-54 10 29 8 54z"/><path class=c36 d="M3898 583l-10-62 10 37 10 63z"/><path class=c33 d="M3879 551l-9 68 10 37 9-68z"/><path class=c31 d="M3956 653l-10-79 10 35 10 79z"/><path class=c24 d="M4128 717l-9 5 10 1 9-6z"/><path class=c32 d="M4146 641l-9-74 10 30 8 73z"/><path class=c37 d="M3879 576l-9 29 9-54 9-30z"/><path class=c24 d="M3938 718l-9 1 9 5 10 0z"/><path class=c32 d="M3918 643l-9 29 9-73 9-30z"/><path class=c29 d="M4061 687l-9-59 10 3 9 59zM4004 688l-9 3 9-60 10-3z"/><path class=c38 d="M4174 519l-9 37 9 30 10-38z"/><path class=c30 d="M4099 681l-9 6 10-62 9-6zM3966 683l-10-62 10 5 10 62z"/><path class=c28 d="M4138 643l-10 74 10 0 10-74z"/><path class=c38 d="M3888 521l-9 30 10 37 9-30z"/><path class=c28 d="M3928 645l-10 0 11 74 9-1z"/><path class=c31 d="M4156 665l-8-57 10 0 8 57z"/><path class=c33 d="M4051 616l-9-60 10 72 9 59zM4013 617l-9 71 10-60 9-71z"/><path class=c31 d="M3909 667l-10 0 9-57 10 0zM4129 575l-10 74 9 68 10-74z"/><path class=c33 d="M4109 608l-10 73 10-62 10-74z"/><path class=c27 d="M4043 734l-9 3 9-79 10-3zM4024 734l-10-79 10 3 10 79z"/><path class=c31 d="M4052 628l-10 32 10 3 10-32zM4014 628l-10 3 10 32 9-3z"/><path class=c33 d="M3956 609l-10-63 10 75 10 62z"/><path class=c31 d="M3937 576l-9 69 10 73 9-68z"/><path class=c35 d="M4147 597l-9-58 10 69 8 57z"/><path class=c37 d="M4127 630l-9-57 11-63 8 57z"/><path class=c28 d="M4119 722l-9-75 10 0 9 76z"/><path class=c37 d="M3937 631l-10-62 9-58 10 63z"/><path class=c28 d="M3948 724l-10 0 9-76 10 0z"/><path class=c35 d="M3918 599l-9 68 9-57 9-69z"/><path class=c33 d="M4148 608l-10 35 10 0 10-35z"/><path class=c30 d="M4052 663l-9 71 10-79 9-72zM4014 663l-9-79 9 71 10 79z"/><path class=c34 d="M4023 557l-9 71 9 32 10-71z"/><path class=c33 d="M3918 610l-10 0 10 35 10 0zM4071 690l-9-59 10-80 9 60z"/><path class=c31 d="M4110 654l-9-76 9 69 9 75z"/><path class=c36 d="M4119 545l-10 74 10 30 10-74z"/><path class=c34 d="M3976 688l-10-62 9-77 10 63z"/><path class=c31 d="M3957 656l-9 68 9-76 9-69z"/><path class=c36 d="M4138 539l-9 36 9 68 10-35zM3946 546l-9 30 10 74 9-29z"/><path class=c39 d="M4118 573l-9 35 10-63 10-35zM4137 567l-8-57 9 29 9 58zM3946 574l-10-63 10 35 10 63z"/><path class=c36 d="M3927 541l-9 69 10 35 9-69z"/><path class=c39 d="M3927 569l-9 30 9-58 9-30z"/><path class=c31 d="M4034 737l-10-79 10-80 9 80z"/><path class=c35 d="M4062 631l-10 32 10-80 10-32zM4004 631l-9-80 10 33 9 79z"/><path class=c36 d="M4100 625l-9-77 10 30 9 76zM3966 626l-9 30 9-77 9-30z"/><path class=c41 d="M4129 510l-10 35 10 30 9-36z"/><path class=c29 d="M4082 691l-9 3 10 0 9-3zM3986 692l-9 0 10 3 9-1z"/><path class=c41 d="M3936 511l-9 30 10 35 9-30z"/><path class=c35 d="M4053 655l-10 3 10-63 10-3zM4014 655l-9-62 10 2 9 63z"/><path class=c32 d="M4092 619l-10 72 10 0 10-72zM3995 623l-9 69 10 2 9-69zM3976 620l-9 0 10 72 9 0z"/><path class=c35 d="M4110 647l-8-61 10 0 8 61zM3957 648l-10 0 10-60 9 0zM4082 549l-9 73 9 69 10-72z"/><path class=c38 d="M4062 583l-9 72 10-63 10-73zM4005 584l-10-64 10 73 9 62z"/><path class=c35 d="M3985 550l-9 70 10 72 9-69z"/><path class=c39 d="M4101 578l-9-61 10 69 8 61z"/><path class=c41 d="M4081 611l-9-60 10-65 9 62zM3985 612l-10-63 10-62 10 64z"/><path class=c39 d="M3966 579l-9 69 9-60 9-70z"/><path class=c33 d="M4073 694l-9-80 10 0 9 80z"/><path class=c37 d="M4102 586l-10 33 10 0 10-33z"/><path class=c33 d="M3996 694l-9 1 9-80 10 0z"/><path class=c37 d="M3966 588l-9 0 10 32 9 0z"/><path class=c40 d="M4073 519l-10 73 10 30 9-73z"/><path class=c36 d="M4063 625l-9-81 10 70 9 80z"/><path class=c40 d="M4092 517l-10 32 10 70 10-33zM3995 520l-10 30 10 73 10-30z"/><path class=c39 d="M4043 658l-9-80 10-64 9 81z"/><path class=c43 d="M4072 551l-10 32 11-64 9-33z"/><path class=c39 d="M4024 658l-9-63 10-81 9 64z"/><path class=c36 d="M4005 625l-9 69 10-79 9-71z"/><path class=c43 d="M4091 548l-9-62 10 31 9 61zM3995 551l-10-64 10 33 10 64z"/><path class=c40 d="M3975 518l-9 70 10 32 9-70z"/><path class=c43 d="M3975 549l-9 30 9-61 10-31z"/><path class=c41 d="M4053 595l-9-81 10 30 9 81z"/><path class=c45 d="M4082 486l-9 33 9 30 10-32z"/><path class=c41 d="M4015 595l-10 30 10-81 10-30z"/><path class=c45 d="M3985 487l-10 31 10 32 10-30z"/><path class=c41 d="M4064 614l-9-64 10 0 9 64z"/><path class=c38 d="M4045 581l-10 70 10 0 10-70zM4025 581l-9 0 10 70 9 0z"/><path class=c41 d="M4006 615l-10 0 10-64 9 0z"/><path class=c44 d="M4054 544l-9-65 10 71 9 64z"/><path class=c41 d="M4035 510l-10 71 10 70 10-70z"/><path class=c44 d="M4015 544l-9 71 9-64 10-72z"/><path class=c43 d="M4055 550l-10 31 10 0 10-31zM4015 551l-9 0 10 30 9 0z"/><path class=c46 d="M4045 479l-10 31 10 71 10-31z"/><path class=c49 d="M4025 514l-10 30 10-65 10-30z"/><path class=c46 d="M4025 479l-10 72 10 30 10-71z"/><path class=c51 d="M4035 449l-10 30 10 31 10-31z"/></g></g>
<g id="p4"><path d="M427.8 953.7L171.3 1053.7L157.1 794.6L427.7 706.6Z" fill="#f2f2f2"/>
<path d="M427.8 953.7L687.7 1052.0L701.9 793.2L427.7 706.6Z" fill="#f9f9f9"/>
<path d="M427.8 953.7L171.3 1053.7L431.8 1166.0L687.7 1052.0Z" fill="#f5f5f5"/>
<path d="M397.5 965.5L657.6 1065.4M397.5 965.5L395.9 716.9M458.4 965.3L201.9 1066.9M458.4 965.3L459.9 716.7M303.7 1002.1L564.1 1107.0M303.7 1002.1L297.0 749.1M553.6 1001.3L297.1 1107.9M553.6 1001.3L560.2 748.4M205.1 1040.5L465.7 1150.9M205.1 1040.5L192.9 782.9M653.4 1039.1L397.3 1151.1M653.4 1039.1L665.6 781.7M427.8 921.8L169.5 1020.3M427.8 921.8L689.5 1018.7M427.7 875.8L166.8 972.2M427.7 875.8L692.2 970.6M427.7 828.9L164.1 923.1M427.7 828.9L694.9 921.6M427.7 781.2L161.4 873.0M427.7 781.2L697.6 871.5M427.7 732.5L158.6 821.8M427.7 732.5L700.4 820.4" stroke="#b3b3b3" stroke-width="1.70" fill="none"/>
<path d="M171.3 1053.7L431.8 1166.0M687.7 1052.0L431.8 1166.0M171.3 1053.7L157.1 794.6M204.1 1066.0L196.4 1069.0M655.4 1064.6L663.2 1067.5M299.3 1107.0L291.6 1110.2M561.9 1106.1L569.7 1109.3M399.5 1150.2L391.8 1153.5M463.4 1149.9L471.3 1153.2M163.9 1022.4L171.7 1019.5M161.2 974.3L169.0 971.4M158.5 925.1L166.4 922.3M155.7 875.0L163.6 872.2M152.8 823.7L160.9 821.1" stroke="#000" stroke-width="2.60" fill="none" stroke-linejoin="round"/>
<text class=d transform="translate(90.8 839.3) scale(0.790 1)" y="16.9">2.0</text>
<text class=d transform="translate(94.3 890.4) scale(0.790 1)" y="16.9">1.5</text>
<text class=d transform="translate(97.7 940.9) scale(0.790 1)" y="16.9">1.0</text>
<text class=d transform="translate(99.6 990.5) scale(0.790 1)" y="16.9">0.5</text>
<text class=d transform="translate(103.8 1038.3) scale(0.790 1)" y="16.9">0.0</text>
<text class=d transform="translate(172.4 1130.2) scale(0.790 1)" y="16.9">−500</text>
<text class=d transform="translate(267.2 1171.7) scale(0.790 1)" y="16.9">0</text>
<text class=d transform="translate(364.7 1216.4) scale(0.790 1)" y="16.9">500</text>
<text class=d transform="translate(496.8 1215.8) scale(0.790 1)" y="16.9">500</text>
<text class=d transform="translate(594.6 1170.8) scale(0.790 1)" y="16.9">0</text>
<text class=d transform="translate(686.6 1128.5) scale(0.790 1)" y="16.9">−500</text>
<text class=fi x="107.4" y="1219.9">f</text>
<text class=fs transform="translate(131.4 1228.6) scale(1.1 1)">4</text>
<g class="s" fill-opacity="0.72" stroke-opacity="0" transform="scale(0.50)"><path class=c17 d="M923 1667l-10 150 9 9 8 112z"/><path class=c18 d="M875 1730l-9-16 9 144 9-102z"/><path class=c17 d="M884 1756l-9 102 10-263 8 251z"/><path class=c22 d="M884 1784l-9-54 9 26 10-155z"/><path class=c23 d="M856 1716l-9 14 9 31 10-47z"/><path class=c21 d="M903 1703l-10 143 11-219 8 175z"/><path class=c18 d="M847 1730l-10 34 10-43 9 40z"/><path class=c23 d="M894 1601l-10 155 9 90 10-143z"/><path class=c18 d="M930 1938l-8-112 11-160 9 48z"/><path class=c27 d="M856 1539l-9 177 9 8 9-67z"/><path class=c21 d="M847 1721l-9 103 9-170 9 200z"/><path class=c19 d="M837 1764l-9-95 10 155 9-103z"/><path class=c25 d="M837 1670l-9 14 9 80 10-34z"/><path class=c20 d="M799 1696l-8 142 9-111 9-17z"/><path class=c23 d="M865 1615l-9 101 10-2 9 16z"/><path class=c24 d="M847 1716l-10-37 9-149 10 194z"/><path class=c21 d="M913 1817l-9-104 9 1 9 112z"/><path class=c18 d="M791 1838l-11-218 11 200 9-93z"/><path class=c19 d="M828 1653l-9 99 9-68 9-14z"/><path class=c22 d="M818 1671l-8 150 9 31 9-147z"/><path class=c25 d="M866 1714l-10 47 10-231 9 328z"/><path class=c23 d="M819 1752l-10-60 9-17 10 9zM912 1802l-8-175 9 190 10-150zM800 1727l-9 93 8-150 11 151z"/><path class=c16 d="M810 1821l-11-151 10 58 10 124z"/><path class=c20 d="M819 1852l-10-124 10 122 9-149zM875 1498l-10 117 10 115 9 54z"/><path class=c18 d="M866 1789l-9-39 9 82 10-31z"/><path class=c21 d="M856 1761l-9-40 9 133 10-324z"/><path class=c24 d="M809 1710l-9 17 10 94 8-150z"/><path class=c26 d="M828 1684l-10-9 10-6 9 95z"/><path class=c21 d="M856 1854l-9-200 10 149 9-157z"/><path class=c23 d="M809 1692l-10 4 10 14 9-35z"/><path class=c15 d="M856 1724l-10-194 10 186 9-101z"/><path class=c21 d="M846 1530l-9 140 10 60 9-14z"/><path class=c28 d="M828 1669l-10 2 10 34 10 119z"/><path class=c19 d="M865 1657l-9 67 9-109 10-117z"/><path class=c20 d="M837 1679l-9-26 9 17 9-140z"/><path class=c22 d="M904 1627l-10 35 10 51 9 104z"/><path class=c16 d="M998 1874l-8-105 9 67 10-33z"/><path class=c18 d="M828 1701l-9 149 9-122 10 35z"/><path class=c24 d="M893 1846l-8-251 9 67 10-35z"/><path class=c19 d="M791 1820l-11-151 10 89 9-88z"/><path class=c25 d="M818 1675l-9 35 9-39 10-2z"/><path class=c19 d="M876 1801l-10 31 10-122 9 19z"/><path class=c22 d="M828 1705l-9 147 9-151 9-68z"/><path class=c21 d="M857 1803l-10-195 10 142 9 39z"/><path class=c26 d="M922 1826l-9-112 10-41 10-7z"/><path class=c19 d="M904 1713l-10 7 10 6 9-12z"/><path class=c25 d="M838 1824l-10-119 9-72 10 21z"/><path class=c20 d="M875 1858l-9-328 9 171 10-106z"/><path class=c28 d="M894 1662l-9 46 9 12 10-7z"/><path class=c26 d="M819 1850l-10-213 10 198 9-107z"/><path class=c20 d="M914 1757l-10 21 10 52 9-28z"/><path class=c19 d="M866 1530l-10 324 10-208 9 55z"/><path class=c23 d="M742 1675l-9 66 11 134 8-126z"/><path class=c19 d="M800 1838l-9-4 9-86 9-8z"/><path class=c21 d="M866 1646l-9 157 9-14 10-184z"/><path class=c24 d="M733 1741l-10 2 10-8 11 140z"/><path class=c20 d="M913 1714l-9 12 9 54 10-107z"/><path class=c23 d="M780 1620l-9 37 9 12 11 151z"/><path class=c22 d="M744 1875l-11-140 9 18 10 10zM857 1750l-10-114 10 139 9 57z"/><path class=c15 d="M972 1742l-11 132 11-147 8 158z"/><path class=c24 d="M809 1637l-9 201 9-98 10 95z"/><path class=c22 d="M771 1657l-9 102 9-39 9-51z"/><path class=c20 d="M885 1595l-10 106 10 7 9-46z"/><path class=c21 d="M990 1769l-10 116 11-164 8 115z"/><path class=c18 d="M847 1816l-9-39 9-21 10 45z"/><path class=c19 d="M923 1802l-9 28 10-57 9-34z"/><path class=c18 d="M991 1697l-10 23 9 49 8 105z"/><path class=c20 d="M762 1759l-10-32 8-108 11 101z"/><path class=c22 d="M981 1720l-9 22 8 143 10-116z"/><path class=c23 d="M799 1670l-9 88 9-99 10 69z"/><path class=c25 d="M809 1728l-10-69 10-22 10 213z"/><path class=c20 d="M857 1775l-10 41 10-15 9-139z"/><path class=c21 d="M904 1726l-9-43 10-10 8 107z"/><path class=c19 d="M961 1786l-8-88 8 176 11-132z"/><path class=c22 d="M904 1778l-9-3 10-56 9 111z"/><path class=c17 d="M866 1832l-9-57 9-113 10 48z"/><path class=c22 d="M933 1702l-10 100 10-63 9 44z"/><path class=c21 d="M875 1701l-9-55 10-41 9 103z"/><path class=c17 d="M752 1749l-8 126 8-112 8-181z"/><path class=c22 d="M953 1698l-11 141 11-107 8 142z"/><path class=c19 d="M791 1834l-10-75 9-11 10 0z"/><path class=c18 d="M779 1582l-7 269 9-92 10 75z"/><path class=c19 d="M923 1673l-10 107 11-142 9 96z"/><path class=c22 d="M876 1605l-10 184 10 12 9-234zM847 1654l-10-21 10-25 10 195z"/><path class=c23 d="M942 1783l-9-44 9 100 11-141z"/><path class=c24 d="M780 1669l-9 51 9-120 10 158z"/><path class=c21 d="M684 1715l-7 148 9-34 9 7z"/><path class=c20 d="M952 1711l-10 72 11-85 8 88z"/><path class=c21 d="M913 1780l-8-107 9 84 10-119z"/><path class=c22 d="M838 1777l-10-78 10 166 9-109z"/><path class=c27 d="M885 1567l-9 234 9-72 10-46z"/><path class=c26 d="M905 1673l-10 21 9 84 10-21z"/><path class=c21 d="M924 1638l-10 119 9 45 10-100z"/><path class=c19 d="M933 1666l-10 7 10 61 10-95zM942 1714l-9-48 10-27 9-17z"/><path class=c27 d="M895 1694l-9 7 9 74 9 3z"/><path class=c22 d="M837 1633l-9 68 10 62 9-155z"/><path class=c24 d="M752 1727l-10-52 10 74 8-130z"/><path class=c22 d="M895 1775l-9-31 9 88 10-113zM894 1720l-9-153 10 116 9 43z"/><path class=c27 d="M789 1630l-10-48 12 252 9 4z"/><path class=c20 d="M943 1639l-10 95 10-58 9 28z"/><path class=c28 d="M847 1608l-9 155 9-127 10 114z"/><path class=c22 d="M943 1676l-10 26 9 81 10-72zM1000 1841l-10 73 11-61 10-98z"/><path class=c23 d="M866 1662l-9 139 10-33 9-6z"/><path class=c18 d="M705 1809l-10 27 10 7 7-149z"/><path class=c19 d="M695 1836l-9-7 7-96 12 110z"/><path class=c21 d="M886 1701l-10 61 10-18 9 31z"/><path class=c24 d="M972 1668l-11 118 11-44 9-22z"/><path class=c25 d="M828 1728l-9 107 9-109 9-154z"/><path class=c21 d="M980 1885l-8-158 10 35 9-41z"/><path class=c24 d="M876 1762l-9 6 9-5 10-19z"/><path class=c25 d="M885 1708l-9-103 9-38 9 153z"/><path class=c18 d="M952 1622l-9 17 9 65 9-12z"/><path class=c20 d="M992 1754l-10 8 8 152 10-73zM895 1683l-10 46 10-35 10-21z"/><path class=c24 d="M723 1743l-8 100 6-253 12 145zM885 1729l-9-19 10-9 9-7z"/><path class=c29 d="M837 1572l-9 154 10 51 9 39z"/><path class=c17 d="M694 1723l-10-8 11 121 10-27z"/><path class=c27 d="M819 1835l-10-95 9-148 10 134z"/><path class=c20 d="M799 1659l-10-29 11 208 9-201z"/><path class=c23 d="M943 1823l-9-83 10 40 8 63z"/><path class=c24 d="M772 1851l-11-183 9 1 11 90z"/><path class=c19 d="M933 1734l-9-96 9 64 10-26zM857 1801l-10-45 10-84 10 96z"/><path class=c21 d="M952 1843l-8-63 9 89 10-123z"/><path class=c17 d="M1009 1859l-9-18 11-86 9 23z"/><path class=c21 d="M1009 1803l-10 33 12-164 10-1z"/><path class=c18 d="M961 1692l-9 12 11-89 8 47z"/><path class=c24 d="M800 1748l-10 0 9-38 10 72z"/><path class=c25 d="M847 1636l-10-64 10 244 10-41z"/><path class=c22 d="M760 1582l-8 181 9-95 11 183zM703 1685l-9 38 11 86 9-45z"/><path class=c27 d="M933 1739l-9 34 11-155 7 221z"/><path class=c24 d="M963 1615l-11 96 9 75 11-118z"/><path class=c18 d="M876 1710l-10-48 10 100 10-61z"/><path class=c16 d="M952 1704l-9-28 9 35 11-96z"/><path class=c26 d="M942 1839l-7-221 8 205 10-91z"/><path class=c21 d="M790 1758l-10-158 9 30 10 29z"/><path class=c24 d="M867 1807l-9 70 9 130 10-191z"/><path class=c15 d="M771 1720l-11-101 11 88 9-107z"/><path class=c22 d="M981 1674l-9-6 9 52 10-23z"/><path class=c20 d="M953 1732l-10 91 9 20 11-175z"/><path class=c18 d="M1002 1673l-10 81 8 87 9 18z"/><path class=c25 d="M961 1874l-8-142 10-64 9 59z"/><path class=c23 d="M838 1763l-10-35 9-156 10 64z"/><path class=c22 d="M715 1843l-12-158 11 79 7-174z"/><path class=c25 d="M780 1701l-9 34 10 136 9-117z"/><path class=c19 d="M1048 1833l-8-20 9 35 10-56z"/><path class=c28 d="M809 1740l-9 8 9 34 9-190z"/><path class=c16 d="M982 1762l-10 82 11-140 7 210z"/><path class=c23 d="M886 1744l-10 19 10-135 9 204z"/><path class=c24 d="M867 1727l-10 66 10 37 9-90z"/><path class=c21 d="M914 1830l-9-111 10-139 9 193z"/><path class=c23 d="M742 1780l-10-19 11 70 9-46z"/><path class=c21 d="M771 1707l-11-125 12 269 7-269z"/><path class=c18 d="M760 1619l-8 130 8-167 11 125z"/><path class=c24 d="M915 1805l-10 32 10 20 10-96z"/><path class=c17 d="M990 1914l-7-210 9 79 9 70z"/><path class=c19 d="M677 1863l-15-255 13 164 11 57z"/><path class=c20 d="M752 1763l-10-10 9-118 10 33z"/><path class=c25 d="M732 1761l-8 82 8-87 11 75z"/><path class=c22 d="M733 1815l-11-105 10 51 10 19zM781 1759l-11-90 10 32 10 47z"/><path class=c18 d="M971 1662l-8-47 9 53 9 6z"/><path class=c27 d="M867 1768l-10-96 10 55 9 36z"/><path class=c25 d="M952 1928l-8-135 10 30 9-10z"/><path class=c23 d="M972 1752l-9-6 9 98 10-82z"/><path class=c18 d="M828 1726l-10-134 10 107 10 78z"/><path class=c20 d="M982 1762l-10-10 10 10 10-8z"/><path class=c28 d="M714 1764l-9 45 7-115 10-44z"/><path class=c29 d="M790 1748l-10-47 10 53 9-44z"/><path class=c21 d="M723 1866l-9 23 8-123 12 187z"/><path class=c26 d="M999 1836l-8-115 11-48 9-1z"/><path class=c24 d="M963 1746l-10 123 11-177 8 152z"/><path class=c25 d="M733 1735l-12-145 11 119 10 44z"/><path class=c26 d="M876 1740l-9 90 10-35 9-73z"/><path class=c30 d="M782 1988l-11-171 10 59 9-94z"/><path class=c18 d="M675 1772l-9 74 9-57 9-40z"/><path class=c23 d="M857 1793l-9-109 9 93 10 53z"/><path class=c21 d="M828 1699l-10-25 10-14 10 205z"/><path class=c24 d="M963 1668l-11 175 11-97 9 6z"/><path class=c23 d="M686 1829l-11-57 9-23 9-16z"/><path class=c28 d="M858 1877l-10-92 10-9 9 231z"/><path class=c25 d="M935 1618l-11 141 10-19 9 83z"/><path class=c24 d="M770 1697l-8 183 9-63 11 171z"/><path class=c23 d="M953 1869l-8-179 7 238 12-236z"/><path class=c25 d="M771 1735l-11-71 10 62 11 145z"/><path class=c29 d="M905 1837l-9-161 9 191 10-10z"/><path class=c27 d="M751 1766l-9-2 9 4 12 173z"/><path class=c21 d="M741 1657l-8 158 9-35 9-106zM991 1721l-9 41 10-8 10-81z"/><path class=c24 d="M1022 1656l-13 203 11-81 11-101z"/><path class=c19 d="M847 1756l-9 109 9-305 10 112z"/><path class=c23 d="M972 1727l-9-59 9 84 10 10z"/><path class=c16 d="M1040 1813l-9-47 10 22 8 60z"/><path class=c22 d="M705 1843l-12-110 12 138 6-277z"/><path class=c26 d="M763 1941l-12-173 11 112 8-183z"/><path class=c19 d="M1060 1712l-12 121 11-41 10-45z"/><path class=c29 d="M760 1674l-9 92 12 175 8-170z"/><path class=c27 d="M924 1759l-9-9 10-41 9 31z"/><path class=c23 d="M838 1865l-10-205 10 151 9-251z"/><path class=c25 d="M711 1594l-6 277 8-91 11 63z"/><path class=c21 d="M790 1754l-9 117 7-343 12 275z"/><path class=c20 d="M780 1600l-9 107 8-125 10 48z"/><path class=c23 d="M732 1709l-10-59 11 165 8-158zM819 1780l-10-90 10 183 10-79z"/><path class=c26 d="M964 1692l-12 236 11-115 10-54z"/><path class=c22 d="M770 1669l-9 43 10 23 9-34z"/><path class=c25 d="M693 1733l-9 16 9-34 12 156z"/><path class=c33 d="M867 1830l-10-53 10-120 10 138z"/><path class=c22 d="M742 1753l-10-44 9-52 10-22z"/><path class=c24 d="M1041 1716l-9-30 8 127 8 20z"/><path class=c19 d="M818 1592l-9 190 9-108 10 25z"/><path class=c31 d="M906 1648l-10 114 9 75 10-32z"/><path class=c19 d="M799 1710l-9 44 10 49 8-199z"/><path class=c20 d="M1011 1672l-9 1 7 186 13-203z"/><path class=c28 d="M915 1857l-10 10 11-122 9 22z"/><path class=c19 d="M752 1785l-9 46 8-65 9-92z"/><path class=c29 d="M877 1816l-10 191 10-175 10-128z"/><path class=c21 d="M722 1650l-10 44 10 16 11 105z"/><path class=c24 d="M743 1831l-11-75 10 8 9 2zM905 1719l-10 113 10-166 10-86z"/><path class=c19 d="M876 1763l-9-36 9 13 10-112z"/><path class=c23 d="M771 1771l-8 170 7-244 10 66z"/><path class=c26 d="M828 1660l-9 80 9-37 10 108z"/><path class=c25 d="M1050 1702l-9 14 7 117 12-121z"/><path class=c18 d="M1059 1792l-10 56 12-92 9-4z"/><path class=c29 d="M945 1690l-10 48 9 55 8 135z"/><path class=c24 d="M751 1674l-9 106 10 5 8-121z"/><path class=c19 d="M721 1590l-7 174 8-114 10 59z"/><path class=c24 d="M896 1676l-9 56 9 194 9-59z"/><path class=c28 d="M724 1843l-11-63 8-74 11 50z"/><path class=c18 d="M809 1782l-10-72 9-106 10 70z"/><path class=c20 d="M662 1608l-7 127 11 111 9-74z"/><path class=c28 d="M877 1842l-10-35 10 9 10-84z"/><path class=c18 d="M645 1797l-9 40 10 1 10 18z"/><path class=c26 d="M734 1953l-12-187 11 140 8-145z"/><path class=c22 d="M705 1871l-12-156 9-6 11 71z"/><path class=c24 d="M666 1846l-14-215 13 180 10-22z"/><path class=c23 d="M702 1698l-7 213 8-86 11 64z"/><path class=c27 d="M925 1761l-10 96 10-90 10-29z"/><path class=c21 d="M1030 1720l-8-64 9 21 8 76z"/><path class=c31 d="M829 1794l-10 79 9-190 10 85z"/><path class=c24 d="M819 1740l-10-33 10 73 9-77z"/><path class=c19 d="M761 1668l-10-33 10 77 9-43z"/><path class=c27 d="M1049 1848l-8-60 10-13 10-19z"/><path class=c31 d="M886 1722l-9 73 9-90 10 57z"/><path class=c23 d="M655 1735l-9 48 6-152 14 215z"/><path class=c29 d="M944 1780l-9-139 10 49 8 179zM905 1867l-9 59 11-234 9 53z"/><path class=c17 d="M924 1773l-9-193 9 179 11-141z"/><path class=c22 d="M1039 1753l-8-76 10 39 9-14z"/><path class=c28 d="M944 1793l-9-1 10 22 9 9z"/><path class=c24 d="M1058 1929l-8-47 12-121 9 8z"/><path class=c29 d="M915 1750l-9-102 9 157 10-96z"/><path class=c18 d="M808 1604l-8 199 9-96 10 33z"/><path class=c22 d="M1021 1671l-10 1 11-16 8 64z"/><path class=c23 d="M847 1560l-9 251 10-127 9 109z"/><path class=c24 d="M730 1646l-7 220 11 87 7-194z"/><path class=c23 d="M695 1911l-13-170 12 132 9-48z"/><path class=c20 d="M761 1712l-10-38 9-10 11 71z"/><path class=c32 d="M819 1881l-9 38 9-117 9-123z"/><path class=c28 d="M762 1880l-11-147 10 119 10-35z"/><path class=c23 d="M1089 1775l-9-30 10 29 7 74z"/><path class=c22 d="M722 1710l-11-116 13 249 8-82z"/><path class=c31 d="M838 1667l-9 127 9-26 10 27z"/><path class=c21 d="M712 1694l-7 149 6-249 11 116z"/><path class=c16 d="M895 1832l-9-204 10 12 9 26z"/><path class=c24 d="M675 1789l-10 22 10 7 7-152z"/><path class=c29 d="M819 1873l-10-171 10 179 9-198z"/><path class=c18 d="M915 1580l-10 86 10 84 9 9z"/><path class=c24 d="M1051 1775l-7-115 6 222 8 47z"/><path class=c28 d="M828 1703l-9 77 10 14 9-127z"/><path class=c29 d="M972 1844l-8-152 9 67 10-55z"/><path class=c18 d="M857 1672l-10-112 10 233 10-66z"/><path class=c31 d="M877 1795l-10-138 10 185 9-137z"/><path class=c26 d="M934 1740l-9-31 10-68 9 139z"/><path class=c25 d="M1069 1747l-10 45 11-40 11-58z"/><path class=c31 d="M887 1732l-10 84 10-112 9 222z"/><path class=c22 d="M780 1763l-10-66 12 291 7-314z"/><path class=c32 d="M867 2007l-9-231 10-88 9 144z"/><path class=c25 d="M1001 1853l-9-70 11-36 10-83z"/><path class=c21 d="M1031 1677l-11 101 12-92 9 30z"/><path class=c25 d="M838 1811l-10-108 10-36 10 17z"/><path class=c33 d="M897 1767l-10 77 9 50 10-41z"/><path class=c29 d="M848 1684l-10-17 10 128 9-18z"/><path class=c20 d="M751 1635l-10 22 10 17 10 38z"/><path class=c26 d="M809 1702l-10-31 11 248 9-38z"/><path class=c29 d="M771 1817l-10 35 9-98 11 122z"/><path class=c27 d="M925 1709l-10 96 10-44 10-120z"/><path class=c29 d="M896 1762l-10-57 10-29 9 161z"/><path class=c27 d="M973 1759l-10 54 11-35 9-29zM760 1664l-8 121 8-111 10 52zM1031 1766l-9-18 10 36 9 4z"/><path class=c26 d="M935 1738l-10 29 10 25 9 1z"/><path class=c23 d="M656 1856l-10-18 8-65 11 47z"/><path class=c32 d="M848 1713l-10 54 10 18 10 92z"/><path class=c31 d="M714 1889l-11-64 9-33 10-26z"/><path class=c25 d="M703 1825l-9 48 9-30 9-51z"/><path class=c30 d="M741 1759l-7 194 7-192 10-28z"/><path class=c31 d="M663 1717l-7 139 9-36 9-5z"/><path class=c22 d="M1050 1882l-10 18 13-129 9-10zM1020 1778l-9-23 12-96 9 27zM751 1768l-10-9 10-26 11 147z"/><path class=c26 d="M1011 1755l-10 98 12-189 10-5z"/><path class=c25 d="M983 1704l-10 55 10-10 9 34z"/><path class=c30 d="M1003 1747l-9-39 9 91 8 66z"/><path class=c17 d="M1073 1649l-15 280 13-160 8 61z"/><path class=c33 d="M963 1813l-9 10 11-119 9 74z"/><path class=c24 d="M683 1726l-9 89 8-74 13 170z"/><path class=c29 d="M1044 1660l-12 135 8 105 10-18z"/><path class=c22 d="M1032 1686l-9-27 8 107 9 47z"/><path class=c23 d="M1061 1756l-10 19 7 154 15-280z"/><path class=c29 d="M1022 1748l-11 117 12-156 9 75z"/><path class=c19 d="M818 1674l-10-70 11 136 9-80z"/><path class=c26 d="M693 1786l-10-60 12 185 7-213z"/><path class=c34 d="M789 1674l-7 314 8-206 9-111z"/><path class=c23 d="M607 1798l-6 154 5-162 6-146z"/><path class=c29 d="M809 1690l-10 32 10-20 10 171z"/><path class=c18 d="M1138 1850l-3-255 2 311 6 87z"/><path class=c34 d="M800 1837l-10 25 10-4 10 8z"/><path class=c18 d="M886 1628l-10 112 10-18 10-82z"/><path class=c27 d="M711 1659l-9 39 12 191 9-23z"/><path class=c26 d="M636 1837l-13-117 13 122 10-4z"/><path class=c33 d="M983 1749l-9 29 9 83 11-153z"/><path class=c22 d="M1081 1694l-11 58 10-7 9 30z"/><path class=c20 d="M684 1749l-9 40 7-123 11 49z"/><path class=c35 d="M741 1761l-8 145 9-68 9-54z"/><path class=c25 d="M1013 1664l-10 83 8 118 11-117z"/><path class=c28 d="M935 1792l-9-95 9 150 10-33z"/><path class=c21 d="M626 1762l-7 117 3-233 13 107z"/><path class=c25 d="M896 1640l-10 82 10 40 10-114z"/><path class=c21 d="M905 1666l-9-26 10 8 9 102z"/><path class=c29 d="M886 1705l-9 137 10-110 9-56zM857 1621l-9 92 10 164 9-70z"/><path class=c23 d="M675 1818l-12-101 11 98 9-89z"/><path class=c35 d="M790 1782l-9 94 9-86 9-46z"/><path class=c36 d="M916 1772l-10 81 10-34 10-18z"/><path class=c27 d="M1032 1834l-11 89 12-93 10-55z"/><path class=c21 d="M1143 1993l-6-87 18-257 4 158z"/><path class=c24 d="M992 1783l-9-34 11-41 9 39z"/><path class=c27 d="M867 1657l-10-36 10 186 10 35z"/><path class=c36 d="M848 1836l-9-7 9 87 10-71z"/><path class=c24 d="M682 1666l-7 152 8-92 10 60z"/><path class=c21 d="M646 1838l-10 4 8-47 10-22z"/><path class=c35 d="M799 1671l-9 111 9-38 11 175z"/><path class=c32 d="M810 1919l-11-175 10-32 10 90z"/><path class=c23 d="M809 1707l-10-84 10 67 10 90z"/><path class=c27 d="M1097 1848l-7-74 14-161 4 187z"/><path class=c25 d="M1032 1795l-7-106 7 145 8 66zM1040 1900l-8-66 11-59 10-4z"/><path class=c22 d="M601 1952l-18-266 12 63 11 41z"/><path class=c28 d="M857 1777l-9 18 9-174 10 36z"/><path class=c27 d="M742 1838l-10-3 8-88 12 187z"/><path class=c31 d="M994 1708l-11 153 11-138 9 76z"/><path class=c30 d="M936 1791l-10 97 10 24 9-34z"/><path class=c35 d="M896 1926l-9-222 10 63 10-75z"/><path class=c34 d="M887 1704l-10 128 10 12 10-77z"/><path class=c26 d="M635 1753l-13-107 14 191 9-40z"/><path class=c21 d="M1108 1846l-11 78 14-145 13-130z"/><path class=c26 d="M848 1795l-10-27 10-55 9-92zM935 1641l-10 120 10-23 10-48z"/><path class=c22 d="M781 1871l-11-145 9-139 9-59z"/><path class=c31 d="M926 1801l-10 18 10 23 10-38z"/><path class=c25 d="M665 1811l-14-194 12 100 12 101z"/><path class=c31 d="M1041 1788l-9-4 12-124 7 115z"/><path class=c36 d="M887 1844l-9-162 9 160 9 52z"/><path class=c37 d="M810 1866l-10-8 9-32 10 13z"/><path class=c34 d="M828 1683l-9 198 9-202 10 88z"/><path class=c22 d="M1080 1745l-7-96 6 181 11-56z"/><path class=c29 d="M925 1767l-9-22 10-48 9 95z"/><path class=c28 d="M1011 1865l-8-66 11-112 9 22z"/><path class=c32 d="M974 1778l-9-74 10 14 8 143z"/><path class=c19 d="M770 1726l-10-52 11 97 8-184z"/><path class=c34 d="M790 1790l-10-24 10 96 10-25z"/><path class=c19 d="M645 1781l-10-28 10 44 6-180z"/><path class=c35 d="M751 1733l-10 28 10 23 10 68z"/><path class=c26 d="M1099 1915l-8-26 12-102 7 111z"/><path class=c22 d="M632 1586l-6 176 9-9 10 28z"/><path class=c29 d="M926 1697l-10 75 10 29 9 46z"/><path class=c23 d="M693 1715l-11-49 11 120 9-77z"/><path class=c25 d="M742 1764l-12-118 11 113 10 9z"/><path class=c29 d="M781 1876l-11-122 10 12 10 24z"/><path class=c31 d="M838 1768l-10-85 10 84 10-54z"/><path class=c25 d="M732 1756l-11-50 9-60 12 118z"/><path class=c33 d="M733 1906l-13-238 12 167 10 3z"/><path class=c20 d="M1079 1830l-8-61 10 36 11-106z"/><path class=c37 d="M926 1842l-10-3 10 49 10-97z"/><path class=c33 d="M906 1853l-10 41 11-227 9 152z"/><path class=c25 d="M651 1617l-6 180 11 59 7-139z"/><path class=c16 d="M1070 1752l-9 4 12-107 7 96z"/><path class=c23 d="M713 1780l-11-71 9-50 10 47z"/><path class=c22 d="M800 1803l-12-275 11 95 10 84z"/><path class=c37 d="M936 1804l-10 38 10-51 9 54z"/><path class=c20 d="M1023 1659l-10 5 9 84 9 18z"/><path class=c27 d="M779 1587l-8 184 9-8 9-98z"/><path class=c24 d="M1104 1613l-12 86 5 225 11-78z"/><path class=c37 d="M907 1692l-10 75 9 86 10-81z"/><path class=c25 d="M1101 1810l-11 59 9 46 14-185z"/><path class=c23 d="M646 1783l-14-197 13 195 7-150z"/><path class=c20 d="M619 1879l-12-81 5-154 10 2z"/><path class=c30 d="M1003 1799l-9-76 8 141 12-177z"/><path class=c25 d="M652 1631l-7 150 6-164 14 194z"/><path class=c35 d="M751 1784l-9 54 10 96 7-282z"/><path class=c23 d="M1140 1835l-10 12 9 55 11-51z"/><path class=c25 d="M789 1665l-9 98 9-89 10 48z"/><path class=c22 d="M1090 1869l-5-170 6 190 8 26z"/><path class=c24 d="M1071 1769l-9-8 10 21 9 23z"/><path class=c29 d="M722 1766l-10 26 8-124 13 238z"/><path class=c33 d="M1025 1689l-11 44 7 190 11-89z"/><path class=c23 d="M568 1840l-15-146 17 237 6-132zM721 1706l-10-47 12 207 7-220z"/><path class=c30 d="M705 2021l-13-198 11 84 8-151z"/><path class=c33 d="M819 1706l-9 160 9-27 10-1z"/><path class=c32 d="M935 1847l-9-46 10 3 10-138z"/><path class=c30 d="M722 1869l-9 28 10 63 9-62z"/><path class=c34 d="M916 1839l-9 30 10-104 9 123zM1002 1864l-8-53 11-58 9-20z"/><path class=c37 d="M858 1845l-10 71 10-107 10-24z"/><path class=c26 d="M1072 1782l-9-42 8 138 10-63z"/><path class=c25 d="M702 1709l-9 77 9-88 9-39z"/><path class=c32 d="M790 1862l-10-123 10 89 10 30z"/><path class=c33 d="M654 1773l-10 22 10 30 9-51z"/><path class=c31 d="M986 1664l-13 273 12-199 9 73z"/><path class=c22 d="M577 1810l-9 30 8-41 8-80z"/><path class=c27 d="M976 1688l-13 297 12-103 10-102z"/><path class=c29 d="M954 1823l-9-9 11-199 9 89z"/><path class=c31 d="M654 1825l-11-64 11 79 10 17z"/><path class=c32 d="M674 1815l-9 5 6-165 11 86z"/><path class=c29 d="M1081 1815l-10 63 14-179 5 170z"/><path class=c25 d="M1032 1784l-9-75 9 86 12-135z"/><path class=c32 d="M965 1719l-10 91 11-136 7 263z"/><path class=c37 d="M858 1707l-10 129 10 9 10-27z"/><path class=c33 d="M799 1744l-9 46 10 47 9-125z"/><path class=c24 d="M623 1720l-9 45 10-1 12 78z"/><path class=c26 d="M553 1694l-3 227 3-185 17 195z"/><path class=c29 d="M663 1774l-9 51 10 32 8-100z"/><path class=c25 d="M606 1790l-11-41 10 37 9-21z"/><path class=c23 d="M799 1623l-10 42 10 57 10-32z"/><path class=c33 d="M712 1792l-9 51 10-3 7-172z"/><path class=c34 d="M994 1723l-8-59 8 147 8 53z"/><path class=c26 d="M1097 1924l-1-319 5 205 10-31z"/><path class=c21 d="M1108 1800l-4-187 4 233 14-176z"/><path class=c37 d="M946 1666l-10 138 9 41 10-35z"/><path class=c25 d="M654 1851l-10 14 11 64 9-60z"/><path class=c28 d="M1021 1923l-6-183 10 12 8 78z"/><path class=c37 d="M838 1686l-9 152 10-9 9 7z"/><path class=c31 d="M636 1842l-12-78 9-30 11 61z"/><path class=c17 d="M531 1961l-14-109 10 25 7-114z"/><path class=c29 d="M1043 1775l-10 55 8 90 14-207z"/><path class=c33 d="M693 1824l-12-113 11 112 13 198z"/><path class=c32 d="M848 1916l-9-123 10 60 9-44z"/><path class=c37 d="M809 1712l-9 125 10 29 9-160z"/><path class=c19 d="M1090 1774l-11 56 13-131 12-86z"/><path class=c36 d="M877 1832l-9-144 10-6 9 162z"/><path class=c41 d="M887 1842l-9-65 9 79 10-97z"/><path class=c25 d="M1092 1699l-11 106 15-200 1 319z"/><path class=c33 d="M916 1819l-9-152 9 172 10 3z"/><path class=c28 d="M694 1873l-13-205 10 63 12 112z"/><path class=c33 d="M975 1718l-10 1 8 218 13-273z"/><path class=c32 d="M838 1767l-10-88 10 8 10 98z"/><path class=c39 d="M945 1845l-9-54 9 87 11-165z"/><path class=c28 d="M664 1857l-10-17 8-65 11 55z"/><path class=c39 d="M829 1838l-10 1 10-114 10 104z"/><path class=c36 d="M896 1894l-9-52 10-83 10-92z"/><path class=c38 d="M761 1852l-10-68 8-132 11 102z"/><path class=c37 d="M868 1818l-10 27 10-60 10-8z"/><path class=c27 d="M916 1745l-9-53 9 80 10-75z"/><path class=c29 d="M983 1861l-8-143 11-54 8 59z"/><path class=c23 d="M576 1799l-6 132 4-170 10-15z"/><path class=c35 d="M848 1785l-10-98 10 36 10 53z"/><path class=c26 d="M614 1765l-9 21 9 5 10-27z"/><path class=c32 d="M1014 1733l-9 20 10-13 6 183z"/><path class=c24 d="M1111 1779l-10 31 12-80 7 94z"/><path class=c25 d="M1113 1730l-14 185 11-17 14-175z"/><path class=c38 d="M897 1759l-10 97 10-66 10 79z"/><path class=c30 d="M985 1780l-10 102 10-30 10-38z"/><path class=c29 d="M799 1722l-10-48 10-3 10 31z"/><path class=c33 d="M731 1816l-9 47 9-71 11 74z"/><path class=c37 d="M926 1888l-9-123 10-3 9 150z"/><path class=c40 d="M956 1713l-11 165 12-191 6 298z"/><path class=c26 d="M665 1820l-11-47 9 1 8-119z"/><path class=c33 d="M752 1934l-12-187 10-23 11 77zM703 1843l-12-112 10-1 12 110z"/><path class=c34 d="M839 1829l-10-104 10 68 9 123z"/><path class=c36 d="M878 1777l-10 8 10 56 9 15z"/><path class=c30 d="M945 1814l-10 33 11-181 10-51z"/><path class=c29 d="M1054 1781l-11 70 11-29 7 96z"/><path class=c39 d="M759 1652l-7 282 9-133 9-55z"/><path class=c15 d="M1150 1851l-11 51 13-97 9 3z"/><path class=c23 d="M1130 1847l-7-75 9 74 7 56z"/><path class=c32 d="M1062 1761l-9 10 10-31 9 42z"/><path class=c34 d="M713 1897l-13-140 13 200 10 3zM878 1682l-10 136 10-41 9 65z"/><path class=c13 d="M517 1852l-8 48 6-79 12 56z"/><path class=c29 d="M828 1679l-9 123 10-45 9-70z"/><path class=c25 d="M1096 1605l-15 210 9 54 11-59z"/><path class=c37 d="M780 1766l-10-20 10-7 10 123z"/><path class=c36 d="M963 1985l-6-298 10 50 8 145zM800 1858l-10-30 9-104 10 102z"/><path class=c24 d="M1014 1687l-12 177 12-131 11-44z"/><path class=c37 d="M711 1756l-8 151 10-10 9-28z"/><path class=c28 d="M644 1795l-11-61 10 27 11 64z"/><path class=c35 d="M945 1878l-9 34 10-102 11-123z"/><path class=c30 d="M1033 1830l-8-78 11-34 5 202z"/><path class=c33 d="M819 1802l-10-90 10-6 10 51z"/><path class=c23 d="M596 1867l-11-62 9 11 10-4z"/><path class=c25 d="M612 1644l-6 146 8-25 9-45z"/><path class=c30 d="M771 1880l-11-94 12 210 8-116z"/><path class=c28 d="M1072 1835l-11 83 14-176 7 98z"/><path class=c36 d="M839 1793l-10 89 10-64 10 35z"/><path class=c26 d="M1137 1906l-5-156 8 85 15-186z"/><path class=c29 d="M654 1923l-11-30 12 71 8-76zM1041 1920l-5-202 7 133 11-70z"/><path class=c22 d="M1135 1595l-15 229 12-74 5 156z"/><path class=c19 d="M622 1646l-10-2 11 76 13 117z"/><path class=c33 d="M1064 1732l-10 49 7 137 11-83z"/><path class=c29 d="M1085 1699l-13 136 10 5 9 49z"/><path class=c27 d="M1081 1805l-9-23 9 33 15-210z"/><path class=c25 d="M1023 1709l-9-22 11 2 7 106z"/><path class=c32 d="M760 1786l-8 152 9-72 11 130z"/><path class=c19 d="M583 1686l-6 124 7-91 11 30z"/><path class=c33 d="M672 1757l-8 100 9-27 8-127z"/><path class=c36 d="M709 1631l-4 390 6-265 11 107z"/><path class=c41 d="M907 1667l-10 92 10 110 9-30z"/><path class=c34 d="M701 1730l-8 94 12 197 4-390zM995 1814l-10 38 11-47 8 42z"/><path class=c33 d="M799 1724l-9 169 10 41 9-159zM720 1668l-7 172 8-110 11 105z"/><path class=c26 d="M1124 1723l-14 175 13-126 7 75z"/><path class=c19 d="M1212 1812l-14 153 9 23 17-203z"/><path class=c41 d="M887 1856l-9-15 10-79 9 28z"/><path class=c37 d="M732 1835l-11-105 10 86 9-69z"/><path class=c30 d="M994 1811l-9-73 10 9 10 6z"/><path class=c32 d="M655 1929l-13-110 12 104 8-86z"/><path class=c16 d="M1198 1965l-1-234 3 190 7 67z"/><path class=c34 d="M682 1741l-11-86 10 13 13 205z"/><path class=c18 d="M1122 1670l-14 176 16-197 8 38z"/><path class=c31 d="M664 1869l-9 60 7-92 10-33z"/><path class=c23 d="M624 1764l-10 27 9-19 10-38z"/><path class=c35 d="M829 1757l-10-51 10 132 9-152z"/><path class=c30 d="M634 1847l-10 17 8-66 12 67z"/><path class=c42 d="M790 1893l-10-83 9-80 11 204z"/><path class=c37 d="M955 1810l-10 35 11-132 10-39z"/><path class=c43 d="M732 1898l-9 62 8-146 10 7z"/><path class=c39 d="M819 1839l-10-13 10-45 10-56z"/><path class=c34 d="M973 1937l-7-263 10 14 9 50z"/><path class=c24 d="M1132 1750l-8-27 6 124 10-12z"/><path class=c17 d="M1224 1785l-17 203 15-116 6 75z"/><path class=c26 d="M584 1746l-10 15 11 44 11 62z"/><path class=c34 d="M1004 1847l-8-42 9 31 9 20z"/><path class=c36 d="M731 1792l-9 77 10 29 9-99z"/><path class=c31 d="M1055 1713l-14 207 13-139 10-49z"/><path class=c26 d="M1071 1878l-7-146 8 103 13-136z"/><path class=c40 d="M819 1781l-10-6 10 68 10 39z"/><path class=c29 d="M633 1734l-10 38 11 59 9-70z"/><path class=c12 d="M1207 1988l-7-67 13-65 9 16z"/><path class=c29 d="M644 1865l-12-67 10 21 13 110z"/><path class=c23 d="M595 1749l-11-30 9 0 12 67z"/><path class=c33 d="M722 1863l-11-107 11 113 9-77z"/><path class=c34 d="M858 1776l-10-53 10-16 10-19z"/><path class=c41 d="M740 1747l-9 69 11 50 8-142z"/><path class=c35 d="M742 1866l-11-74 10 7 10 21z"/><path class=c12 d="M477 1937l-8 53 8-43 11 35z"/><path class=c43 d="M848 1723l-10-37 10 150 10-129z"/><path class=c34 d="M975 1882l-8-145 9 50 9 65z"/><path class=c29 d="M1063 1740l-8-27 9 19 7 146z"/><path class=c38 d="M907 1869l-10-79 10-18 10-7z"/><path class=c29 d="M1053 1771l-10 4 12-62 8 27z"/><path class=c14 d="M1228 1947l-6-75 3 191 22-325z"/><path class=c36 d="M966 1674l-10 39 7 272 13-297z"/><path class=c33 d="M995 1747l-10 33 10 34 10-33z"/><path class=c38 d="M809 1775l-9 159 9-167 10 76z"/><path class=c20 d="M570 1931l-17-195 9-22 12 47z"/><path class=c19 d="M1172 1771l-11 37 7 125 16-209z"/><path class=c40 d="M790 1828l-10-82 10 147 9-169z"/><path class=c28 d="M1043 1851l-9-23 11-26 9 20z"/><path class=c22 d="M534 1763l-7 114 8-42 11 17z"/><path class=c27 d="M671 1797l-8 91 10 23 11 63z"/><path class=c23 d="M1163 1736l-13 115 11-43 11-37z"/><path class=c44 d="M829 1725l-10 56 10 101 10-89z"/><path class=c21 d="M605 1786l-12-67 9-11 12 83z"/><path class=c31 d="M614 1858l-7 137 6-125 10-24z"/><path class=c22 d="M527 1877l-12-56 11 31 9-17z"/><path class=c30 d="M622 1741l-9 58 11 65 10-17z"/><path class=c19 d="M1161 1808l-9-3 13-64 3 192z"/><path class=c22 d="M534 1746l-3 215 3-198 9-43z"/><path class=c36 d="M1024 1814l-10 42 12-66 8 38z"/><path class=c39 d="M770 1746l-9 55 9-39 10-23z"/><path class=c20 d="M550 1921l-16-175 9-26 10 16z"/><path class=c30 d="M838 1687l-9 70 9-71 10 37z"/><path class=c24 d="M1184 1724l-16 209 13-80 12-85z"/><path class=c36 d="M1016 1705l-12 142 10 9 10-42z"/><path class=c22 d="M1120 1824l-7-94 11-7 8 27z"/><path class=c32 d="M770 1754l-11-102 11 94 10 20z"/><path class=c28 d="M1139 1902l-7-56 13-125 7 84z"/><path class=c23 d="M584 1719l-8 80 8-53 9-27z"/><path class=c20 d="M788 1528l-9 59 10 78 10-42z"/><path class=c35 d="M1036 1718l-12 96 10 14 9 23z"/><path class=c31 d="M1005 1753l-10-6 10 34 10-41z"/><path class=c33 d="M917 1835l-9-42 9 82 10-36z"/><path class=c36 d="M1005 1781l-10 33 9 33 12-142z"/><path class=c38 d="M907 1772l-10 106 11-85 9 42z"/><path class=c19 d="M593 1719l-9 27 12 121 6-159z"/><path class=c23 d="M554 1774l-8 78 11 61 6-158z"/><path class=c20 d="M1159 1807l-4-158 8 87 6 82z"/><path class=c38 d="M692 1823l-11-48 10 5 12 127z"/><path class=c37 d="M780 1746l-10 22 10 42 10 83z"/><path class=c29 d="M868 1688l-10 19 10 111 10-136z"/><path class=c22 d="M1155 1649l-15 186 10 16 13-115z"/><path class=c25 d="M585 1805l-13-87 14 168 8-70z"/><path class=c16 d="M1222 1872l-9-16 11-11 1 218z"/><path class=c20 d="M546 1852l-11-17 7-82 15 160z"/><path class=c17 d="M1168 1933l-3-192 8 54 8 58z"/><path class=c36 d="M703 1907l-12-127 9-23 13 140z"/><path class=c41 d="M897 1790l-9-28 9 116 10-106z"/><path class=c28 d="M965 1704l-9-89 9 104 10-1z"/><path class=c19 d="M1230 1868l-6-83 4 162 13-110z"/><path class=c38 d="M898 1859l-10 41 10-21 9 189z"/><path class=c42 d="M829 1882l-10-39 10-122 10 97z"/><path class=c30 d="M1110 1898l-7-111 12-57 8 42z"/><path class=c38 d="M780 1739l-10 23 10-16 10 82z"/><path class=c39 d="M868 1785l-10 24 10-112 10 144z"/><path class=c27 d="M1121 1881l-8-43 9 66 13-156z"/><path class=c29 d="M956 1615l-10 51 9 144 10-91z"/><path class=c38 d="M770 1768l-10 34 11 78 9-70z"/><path class=c31 d="M1091 1889l-9-49 15-176 6 123z"/><path class=c24 d="M586 1954l-14-137 11 68 15 166z"/><path class=c32 d="M681 1703l-8 127 8-119 12 113zM1061 1918l-7-96 12-64 9-16z"/><path class=c38 d="M985 1852l-9-65 10 12 10 6z"/><path class=c37 d="M772 1996l-11-130 9-14 10-62z"/><path class=c35 d="M662 1837l-8 86 9-35 8-91z"/><path class=c25 d="M586 1886l-12-83 11 65 7-105zM1123 1772l-8-42 6 151 11-35z"/><path class=c31 d="M1075 1866l-9-3 8 93 9 32z"/><path class=c18 d="M1124 1649l-13 130 9 45 15-229z"/><path class=c37 d="M723 1960l-10-3 6-251 12 108z"/><path class=c17 d="M1132 1687l-8-38 11-54 3 255z"/><path class=c29 d="M662 1775l-8 76 10 18 6-181z"/><path class=c37 d="M663 1888l-8 76 6-165 12 112z"/><path class=c33 d="M691 1731l-10-28 12 121 8-94z"/><path class=c38 d="M780 1810l-9 70 9 0 9-150z"/><path class=c43 d="M809 1826l-10-102 10 51 10 6z"/><path class=c34 d="M1014 1856l-9-20 11-35 10-11z"/><path class=c22 d="M1190 1823l-6-99 9 44 7 64z"/><path class=c42 d="M888 1762l-10 23 10 15 9 78z"/><path class=c27 d="M671 1655l-8 119 9-17 9-89z"/><path class=c39 d="M936 1912l-9-150 11-89 8 137z"/><path class=c33 d="M721 1730l-12-99 13 232 9-47z"/><path class=c23 d="M1219 1867l-7-55 12-27 6 83z"/><path class=c30 d="M643 1893l-13-134 14 169 11 36z"/><path class=c37 d="M985 1738l-9-50 9 92 10-33z"/><path class=c41 d="M849 1853l-10-35 10-38 9-17z"/><path class=c24 d="M544 1858l-5 157 7-50 6-134z"/><path class=c38 d="M888 1816l-10 197 10-113 10-41z"/><path class=c27 d="M602 1708l-6 159 8-55 6-167z"/><path class=c37 d="M684 1974l-11-63 6-182 14 187z"/><path class=c26 d="M1115 1730l-11 73 9 35 8 43z"/><path class=c28 d="M601 1755l-9 39 15 201 7-137z"/><path class=c43 d="M741 1799l-9 99 9-77 9-68z"/><path class=c42 d="M917 1765l-10 7 10 63 10-73z"/><path class=c26 d="M585 1890l-10 25 11 39 5-183z"/><path class=c37 d="M780 1880l-8 116 8-206 9-63z"/><path class=c32 d="M1083 1988l-9-32 10-9 13-149z"/><path class=c22 d="M506 1857l-11-20 12 67 6-109z"/><path class=c39 d="M858 1809l-9 44 9-90 10-66z"/><path class=c22 d="M592 1794l-7 96 6-119 16 224z"/><path class=c20 d="M515 1821l-9 36 7-62 13 57z"/><path class=c21 d="M509 1900l-19-217 16 174 9-36z"/><path class=c22 d="M1206 1702l-13 107 5 156 14-153z"/><path class=c28 d="M713 1840l-12-110 8-99 12 99z"/><path class=c29 d="M1015 1740l-10 41 11-76 9 47z"/><path class=c37 d="M642 1819l-12-78 13 152 11 30z"/><path class=c31 d="M1104 1803l-12 84 14-130 7 81z"/><path class=c37 d="M800 1934l-11-204 10 75 10-38z"/><path class=c32 d="M638 1553l-4 294 10 18 10-14z"/><path class=c36 d="M690 1765l-6 209 9-58 7-139z"/><path class=c39 d="M751 1820l-10-21 9-46 10 49z"/><path class=c29 d="M623 1772l-13-127 12 96 12 90z"/><path class=c27 d="M681 1668l-9 89 9-54 10 28z"/><path class=c37 d="M1045 1802l-8-64 6 224 13-179z"/><path class=c34 d="M750 1724l-8 142 9-46 8-186z"/><path class=c44 d="M750 1753l-9 68 11 117 8-152z"/><path class=c27 d="M643 1761l-9 70 4-278 16 287z"/><path class=c26 d="M591 1771l-5 183 12 97 3-269z"/><path class=c44 d="M819 1843l-10-76 11 131 9-177z"/><path class=c28 d="M604 1812l-10 4 6-131 13 114z"/><path class=c40 d="M741 1821l-10-7 9-30 12 154z"/><path class=c29 d="M1135 1748l-13 156 13-99 7 73z"/><path class=c19 d="M543 1720l-9 43 12 89 8-78z"/><path class=c24 d="M614 1791l-12-83 8-63 13 127z"/><path class=c39 d="M760 1802l-10-49 10 33 11 94z"/><path class=c40 d="M917 1875l-9-67 9 112 11-184z"/><path class=c42 d="M809 1767l-10 38 10 4 11 89z"/><path class=c37 d="M878 1841l-10-144 10 88 10-23z"/><path class=c20 d="M557 1913l-15-160 13 120 7-121z"/><path class=c21 d="M535 1835l-9 17 9 0 7-99z"/><path class=c24 d="M572 1718l-9 37 11 48 12 83z"/><path class=c31 d="M1132 1846l-11 35 14-133 10-27z"/><path class=c24 d="M495 1837l-15-129 19 261 8-65z"/><path class=c33 d="M1085 1790l-11 42 12-79 6 134z"/><path class=c47 d="M897 1878l-9-78 10-64 10 57z"/><path class=c26 d="M563 1755l-6 158 5-161 12 51z"/><path class=c41 d="M938 1761l-11 178 10 5 11-132z"/><path class=c25 d="M598 2051l-15-166 8-59 12 73z"/><path class=c22 d="M1211 1805l-5-103 6 110 7 55z"/><path class=c27 d="M594 1816l-8 70 6-123 8-78z"/><path class=c34 d="M654 1840l-16-287 16 298 8-76z"/><path class=c20 d="M1181 1853l-8-58 11-10 9 24z"/><path class=c30 d="M624 1864l-12-84 9-15 11 33z"/><path class=c39 d="M927 1939l-8-221 9 187 9 39z"/><path class=c32 d="M670 1688l-6 181 8-65 9-29z"/><path class=c34 d="M1025 1752l-9-47 8 109 12-96z"/><path class=c37 d="M996 1805l-10-6 11-57 8 94z"/><path class=c25 d="M1200 1832l-7-64 13-66 5 103z"/><path class=c14 d="M1225 2063l-1-218 7 97 19-243z"/><path class=c31 d="M673 1830l-11-55 8-87 11 23z"/><path class=c20 d="M1193 1809l-9-24 13-54 1 234z"/><path class=c33 d="M613 1799l-13-114 12 95 12 84z"/><path class=c39 d="M752 1938l-12-154 10 0 11 82z"/><path class=c41 d="M996 1844l-9 3 10 2 9 35z"/><path class=c42 d="M927 1762l-10 73 10 4 11-166z"/><path class=c26 d="M610 1645l-6 167 9-13 9-58z"/><path class=c33 d="M1054 1822l-9-20 11-19 10-25z"/><path class=c29 d="M585 1868l-13-106 13 128 7-96z"/><path class=c22 d="M574 1761l-12-47 10 4 13 87z"/><path class=c42 d="M800 1965l-11-180 11 120 10-4z"/><path class=c46 d="M820 1898l-11-89 11 106 9-236z"/><path class=c38 d="M761 1801l-11-77 9-90 11 128z"/><path class=c24 d="M1134 1885l-10-3 6 170 19-335z"/><path class=c36 d="M928 1736l-11 184 10 19 11-178z"/><path class=c23 d="M1145 1721l-10 27 7 130 9-8z"/><path class=c38 d="M1007 1748l-11 96 10 40 9-9z"/><path class=c31 d="M1034 1828l-8-38 11-52 8 64z"/><path class=c25 d="M1124 1882l-8-50 11-1 3 221z"/><path class=c38 d="M810 1880l-10 85 10-64 9-166z"/><path class=c40 d="M908 1830l-10 29 9 209 12-350z"/><path class=c28 d="M601 1782l-3 269 5-152 8-80z"/><path class=c47 d="M878 1802l-9-23 9 234 10-197z"/><path class=c17 d="M1192 1893l-8-22 7 100 15-185z"/><path class=c28 d="M1056 1783l-13 179 14-192 9-10z"/><path class=c18 d="M1200 1921l-8-28 14-107 7 70z"/><path class=c26 d="M1097 1664l-12 126 7 97 12-84z"/><path class=c21 d="M542 1753l-7 99 8-32 12 53z"/><path class=c43 d="M917 1920l-9-90 11-112 8 221z"/><path class=c40 d="M947 1816l-9-69 9 124 10-91z"/><path class=c21 d="M483 1816l-6 121 11 45 4-165z"/><path class=c26 d="M1152 1805l-7-84 6 149 14-129z"/><path class=c29 d="M634 1831l-12-90 12 106 4-294z"/><path class=c28 d="M607 1995l-16-224 10 11 12 88z"/><path class=c42 d="M908 1793l-10-57 10 72 9 67z"/><path class=c23 d="M1193 1768l-12 85 12-44 13-107z"/><path class=c35 d="M759 1634l-8 186 9-18 10-34z"/><path class=c39 d="M859 1961l-10-47 10-41 10 30z"/><path class=c37 d="M919 1718l-12 350 11-240 10 77z"/><path class=c23 d="M526 1852l-13-57 9-11 13 68zM1169 1818l-6-82 9 35 17-227z"/><path class=c42 d="M927 1839l-10 36 11-139 10 11z"/><path class=c33 d="M644 1928l-9 49 7-92 7-148z"/><path class=c27 d="M531 1760l-8 74 16 181 5-157z"/><path class=c41 d="M947 1871l-9-110 10 51 9 63z"/><path class=c23 d="M1169 1979l-3-204 9 47 10-27z"/><path class=c30 d="M1075 1742l-9 16 8 74 11-42z"/><path class=c36 d="M957 1741l-10 75 10-36 10 9z"/><path class=c22 d="M575 1915l-14-141 11 43 14 137z"/><path class=c38 d="M858 1763l-9 17 9 15 10-7z"/><path class=c39 d="M957 1780l-10 91 10 4 11-154z"/><path class=c41 d="M967 1737l-10 4 10 48 9-2z"/><path class=c40 d="M700 1757l-10 8 10 12 13 180z"/><path class=c23 d="M553 1736l-10-16 11 54 8-60z"/><path class=c24 d="M507 1904l-8 65 0-248 13 74z"/><path class=c36 d="M948 1812l-11 132 11-159 9 104z"/><path class=c28 d="M1184 1785l-15 194 16-184 12-64z"/><path class=c35 d="M681 1711l-11-23 11 87 11 48z"/><path class=c29 d="M1113 1838l-7-81 11-28 5 175z"/><path class=c40 d="M907 2068l-9-189 11-98 9 47z"/><path class=c31 d="M1082 1840l-7-98 10 48 12-126z"/><path class=c40 d="M713 1957l-13-180 11 90 8-161z"/><path class=c36 d="M946 1810l-8-137 9 143 10-75z"/><path class=c37 d="M957 1687l-11 123 11-69 10-4z"/><path class=c27 d="M574 1803l-12-51 10 10 13 106z"/><path class=c41 d="M700 1777l-7 139 7-108 11 59zM878 2013l-9-244 10 34 9 97z"/><path class=c31 d="M592 1763l-7 105 7-74 9-39z"/><path class=c23 d="M1197 1731l-12 64 7 98 8 28z"/><path class=c17 d="M429 1971l-10 11 3-137 10-9z"/><path class=c33 d="M1086 1801l-11 65 8 122 15-235z"/><path class=c25 d="M572 1762l-12-24 15 177 10-25z"/><path class=c32 d="M655 1964l-11-36 5-191 12 62z"/><path class=c45 d="M957 1875l-9-63 9 77 11-117z"/><path class=c40 d="M679 1699l-8 98 13 177 6-209z"/><path class=c27 d="M1241 1837l-13 110 19-209 8 9z"/><path class=c45 d="M868 1697l-10 66 10 25 10-3z"/><path class=c31 d="M770 1762l-11-128 11 134 10-22z"/><path class=c41 d="M878 1785l-10 3 10-69 10 81z"/><path class=c43 d="M761 1866l-11-82 10 66 10 2z"/><path class=c39 d="M1015 1875l-9 9 13-198 6 208z"/><path class=c30 d="M555 1873l-12-53 11 46 6-128z"/><path class=c22 d="M1173 1795l-4-153 0 337 15-194z"/><path class=c45 d="M809 1809l-10-130 11 201 10 35z"/><path class=c43 d="M908 1808l-10-91 10 113 9 90z"/><path class=c25 d="M544 1936l-9 26 9-24 9-35z"/><path class=c35 d="M976 1787l-9 2 11-86 8 96z"/><path class=c30 d="M612 1780l-11-25 13 103 7-93z"/><path class=c42 d="M987 1847l-9-75 8 153 11-76z"/><path class=c34 d="M1043 1962l-5-242 8 91 11-41z"/><path class=c36 d="M849 1780l-10-32 10 74 9-27z"/><path class=c20 d="M1185 1795l-10 27 9 49 8 22z"/><path class=c35 d="M1066 1758l-10 25 10-23 8 72z"/><path class=c37 d="M938 1673l-11 166 11-92 9 69z"/><path class=c19 d="M1206 1786l-15 185 13-86 10-22z"/><path class=c33 d="M1026 1860l-8-39 7 134 11-79z"/><path class=c13 d="M461 1768l-10 14 18 208 8-53z"/><path class=c15 d="M523 1834l-9 36 5-115 20 260z"/><path class=c43 d="M789 1730l-9 150 9-153 10 78z"/><path class=c20 d="M562 1714l-8 60 9-19 9-37z"/><path class=c19 d="M508 2012l-11-25 4-120 11-5z"/><path class=c33 d="M621 1765l-7 93 9-12 7-105z"/><path class=c44 d="M888 1900l-9-97 9 129 10-53z"/><path class=c41 d="M1005 1836l-8-94 10 6 9 53z"/><path class=c29 d="M513 1795l-6 109 5-109 10-11z"/><path class=c15 d="M1189 1544l-17 227 12-47 6 99z"/><path class=c45 d="M849 1822l-10 54 10-45 10-100z"/><path class=c37 d="M630 1759l-11-26 16 244 9-49zM839 1818l-10-97 10 27 10 32z"/><path class=c39 d="M938 1845l-10 91 10 7 9 30z"/><path class=c34 d="M672 1804l-10 33 9-40 8-98z"/><path class=c38 d="M789 1773l-9 87 9-75 11 180z"/><path class=c27 d="M1103 1787l-6-123 7 139 11-73z"/><path class=c24 d="M1153 1973l-4-172 4 201 12-97z"/><path class=c34 d="M681 1775l-9 29 7-105 12 81z"/><path class=c32 d="M632 1798l-11-33 9-24 12 78z"/><path class=c42 d="M928 1955l-10-76 10 57 10-91z"/><path class=c38 d="M1038 1720l-13 174 11-28 10-55z"/><path class=c36 d="M799 1679l-10 94 11 192 10-85z"/><path class=c18 d="M492 1826l-12-21 17 182 11 25z"/><path class=c34 d="M1055 1984l-6-176 7 157 10-56z"/><path class=c35 d="M630 1741l-7 105 7-87 13 134z"/><path class=c33 d="M1036 1866l-10-6 10 16 11-68z"/><path class=c44 d="M888 1800l-10-81 10 123 10-106z"/><path class=c25 d="M543 1820l-12-60 13 98 10 8z"/><path class=c36 d="M1027 1727l-12 148 10 19 13-174z"/><path class=c18 d="M488 1982l-11-35 3-142 12 21z"/><path class=c34 d="M1016 1801l-9-53 8 127 12-148z"/><path class=c42 d="M721 1841l-11-58 12 156 9-82z"/><path class=c19 d="M1292 1888l-14 120 16-133 15-126z"/><path class=c37 d="M1037 1738l-10-11 11-7 5 242z"/><path class=c27 d="M1151 1870l-9 8 14-128 13-108z"/><path class=c31 d="M560 1738l-6 128 7-92 14 141z"/><path class=c28 d="M1129 1678l-15 205 10-1 10 3z"/><path class=c41 d="M829 1814l-10 43 11 134 9-58z"/><path class=c14 d="M1278 2008l-5-110 16-106 5 83z"/><path class=c39 d="M937 1944l-9-39 11-144 9 24z"/><path class=c44 d="M780 1790l-10 62 10 8 9-87z"/><path class=c38 d="M1046 1811l-10 55 11-58 9 32z"/><path class=c39 d="M719 1706l-8 161 10-26 10 19z"/><path class=c31 d="M1175 1822l-11 66 13-90 7 73z"/><path class=c43 d="M770 1852l-10-2 9-79 11 89z"/><path class=c25 d="M539 2015l-20-260 9-19 18 229z"/><path class=c23 d="M535 1852l-13-68 9-24 12 60z"/><path class=c42 d="M928 1905l-10-77 10 127 11-194z"/><path class=c32 d="M1092 1887l-6-134 11-29 9 33z"/><path class=c17 d="M436 1889l-7 82 3-135 8-62z"/><path class=c30 d="M1026 1790l-10 11 11-74 10 11z"/><path class=c40 d="M761 1892l-11-59 10 67 10-11z"/><path class=c24 d="M1165 1741l-14 129 18-228 4 153z"/><path class=c41 d="M839 1748l-10-69 10 197 10-54z"/><path class=c35 d="M1025 1894l-6-208 7 174 10 6z"/><path class=c25 d="M554 1866l-10-8 8-27 9-57z"/><path class=c40 d="M760 1850l-9 18 10 24 8-121z"/><path class=c31 d="M583 1885l-8 63 7-90 9-32z"/><path class=c23 d="M1231 1942l-2-180 2 208 16-159z"/><path class=c33 d="M1074 1832l-8-72 11 4 9-11z"/><path class=c45 d="M869 1779l-10-31 10 21 9 244z"/><path class=c43 d="M938 1747l-10-11 10 25 9 110z"/><path class=c40 d="M889 1867l-10 89 10-77 9 110z"/><path class=c46 d="M869 1769l-10 192 10-58 10-100z"/><path class=c19 d="M469 1990l-18-186 8-27 18 170z"/><path class=c38 d="M888 1842l-10-40 10 14 10-99z"/><path class=c22 d="M499 1969l-16-153 9 1 7-96z"/><path class=c23 d="M1213 1856l-7-70 8 77 10-18z"/><path class=c42 d="M968 1721l-11 154 11-103 9 30z"/><path class=c23 d="M1224 1845l-10 18 15-101 2 180z"/><path class=c47 d="M789 1785l-9 76 10 21 10 23z"/><path class=c23 d="M562 1752l-7 121 5-135 12 24z"/><path class=c31 d="M1018 1821l-11 57 11-48 7 125z"/><path class=c30 d="M603 1899l-12-73 12 98 9-69z"/><path class=c27 d="M1166 1775l-10 25 8 88 11-66z"/><path class=c38 d="M829 1721l-9 177 9-219 10 69z"/><path class=c36 d="M898 1736l-10 106 10-125 10 91z"/><path class=c46 d="M839 1876l-10-202 10 176 10-19z"/><path class=c35 d="M1114 1883l-6-137 8 86 8 50z"/><path class=c40 d="M711 1867l-11-59 10-25 11 58z"/><path class=c41 d="M988 1664l-11 138 10 45 9-3z"/><path class=c22 d="M600 1685l-8 78 9-8 11 25z"/><path class=c25 d="M1169 1642l-13 108 10 25 3 204z"/><path class=c43 d="M898 1717l-10 99 10 43 10-29z"/><path class=c26 d="M591 1826l-9 32 12 91 9-25z"/><path class=c39 d="M731 1814l-12-108 12 154 9-76z"/><path class=c44 d="M849 1914l-10 19 10-113 10 53z"/><path class=c43 d="M769 1771l-8 121 9-3 10-28z"/><path class=c29 d="M1149 1717l-19 335 16-193 12-95z"/><path class=c37 d="M868 1788l-10 7 10-72 10-4z"/><path class=c39 d="M978 1772l-10 28 10 39 8 86z"/><path class=c40 d="M878 1719l-10 4 10 79 10 40z"/><path class=c18 d="M490 1683l-11-22 16 176 11 20z"/><path class=c34 d="M682 1934l-10-2 10 45 8-89z"/><path class=c22 d="M1247 1738l-22 325 25-364 7 57z"/><path class=c41 d="M780 1861l-10 28 10-54 10 47z"/><path class=c24 d="M1277 1787l-8-37 4 148 5 110z"/><path class=c39 d="M731 1857l-9 82 8-107 9-56z"/><path class=c42 d="M829 1679l-9 236 9-241 10 202z"/><path class=c34 d="M635 1977l-17-281 13 153 11 36z"/><path class=c23 d="M1142 1878l-7-73 14-113 7 58z"/><path class=c30 d="M546 1965l-18-229 16 200 7-100z"/><path class=c45 d="M820 1915l-10-35 9-145 10-61z"/><path class=c34 d="M1074 1956l-6-173 11-23 5 187z"/><path class=c38 d="M1066 1863l-8-83 10 3 6 173z"/><path class=c41 d="M977 1802l-9-30 10 0 9 75z"/><path class=c34 d="M858 1795l-9 27 10-91 9-8z"/><path class=c23 d="M499 1749l-7 77 16 186 5-129z"/><path class=c32 d="M623 1846l-10 24 6-137 11 26z"/><path class=c33 d="M1122 1904l-5-175 12-51 6 127z"/><path class=c21 d="M513 1883l-5 129 4-150 7-89z"/><path class=c44 d="M918 1828l-9-47 9 98 10 76z"/><path class=c43 d="M869 1903l-10-30 10 90 10-192z"/><path class=c38 d="M948 1854l-10-9 9 128 11-140z"/><path class=c19 d="M419 1982l-18-175 13 91 8-53z"/><path class=c36 d="M967 1789l-10-9 11-59 10-18z"/><path class=c48 d="M1025 1955l-7-125 10 21 9 12z"/><path class=c37 d="M1036 1876l-11 79 12-92 12-125z"/><path class=c32 d="M691 1780l-12-81 11 66 10-8z"/><path class=c34 d="M1130 2052l-3-221 15-151 4 179z"/><path class=c28 d="M1149 1801l-14 140 13-74 5 135z"/><path class=c41 d="M839 1933l-9 58 9-176 10 5z"/><path class=c43 d="M879 1771l-10 192 10-7 10-89z"/><path class=c38 d="M968 1772l-11 117 11-89 10-28z"/><path class=c42 d="M751 1868l-12-92 11 57 11 59z"/><path class=c40 d="M1056 1840l-9-32 11-28 8 83z"/><path class=c38 d="M1098 1753l-15 235 14-190 11-52z"/><path class=c22 d="M480 1708l-11-17 14 125 16 153z"/><path class=c25 d="M492 1817l-4 165 4-156 7-77z"/><path class=c43 d="M939 1761l-11 194 10-110 10 9z"/><path class=c23 d="M1153 2002l-5-135 10 25 9 7z"/><path class=c35 d="M1070 1643l-14 197 10 23 9 3z"/><path class=c38 d="M898 1989l-9-110 10-44 10 128z"/><path class=c20 d="M1167 1926l-10 30 10 11 8 29z"/><path class=c25 d="M522 1784l-10 11 11 39 8-74z"/><path class=c44 d="M879 1803l-10 100 10-132 9 161z"/><path class=c23 d="M479 1661l-3 179 4-132 15 129z"/><path class=c25 d="M551 1836l-7 100 9-33 7-90z"/><path class=c28 d="M1292 1640l-15 147 1 221 14-120z"/><path class=c27 d="M1165 1905l-12 97 14-103 13-121z"/><path class=c32 d="M1105 1820l-7-67 10-7 6 137z"/><path class=c41 d="M988 1904l-10 45 8 143 14-321z"/><path class=c21 d="M1198 1835l-10 22 5 151 12-66z"/><path class=c45 d="M780 1860l-11-89 11 90 9-76z"/><path class=c49 d="M819 1735l-9 166 9-121 10 78z"/><path class=c40 d="M799 1805l-10-78 10-48 10 130z"/><path class=c29 d="M1158 1764l-12 95 7 114 15-188z"/><path class=c37 d="M1097 1798l-13 149 13-93 11-68z"/><path class=c28 d="M582 1858l-13-62 14 138 11 15z"/><path class=c24 d="M512 1795l-13-74 15 149 9-36z"/><path class=c21 d="M1167 1899l-9-7 9 34 7 57zM451 1782l-11-8 11 30 18 186z"/><path class=c41 d="M731 1860l-10-19 10 16 7-211z"/><path class=c33 d="M997 1742l-9-78 8 180 11-96z"/><path class=c26 d="M1250 1699l-19 243 16-131 7 41z"/><path class=c20 d="M469 1691l-8 77 16 169 6-121z"/><path class=c31 d="M613 1870l-12-88 10 37 8-86z"/><path class=c46 d="M830 1991l-10-43 9-126 10-7z"/><path class=c37 d="M1068 1783l-13 201 11-75 13-149z"/><path class=c30 d="M572 1817l-15-136 18 267 8-63z"/><path class=c32 d="M628 1747l-7 117 11 79 12 86z"/><path class=c28 d="M1117 1729l-12 91 9 63 15-205z"/><path class=c33 d="M1086 1753l-9 11 9 37 11-77z"/><path class=c29 d="M553 1903l-9 35 8-37 8-65z"/><path class=c21 d="M414 1898l-13-47 14 91 8-52z"/><path class=c30 d="M1097 1724l-11 77 12-48 7 67z"/><path class=c32 d="M1106 1757l-9-33 8 96 12-91z"/><path class=c25 d="M552 1831l-6 134 5-129 6-155z"/><path class=c16 d="M1215 1906l-10 36 13-62 9-9z"/><path class=c33 d="M986 1799l-8-96 10-39 9 78z"/><path class=c19 d="M1205 1942l-12 66 17-179 8 51z"/><path class=c42 d="M868 1723l-9 8 10 48 9 23z"/><path class=c24 d="M1184 1871l-7-73 16-166-2 339z"/><path class=c46 d="M898 1879l-10 53 11-175 10 24z"/><path class=c35 d="M1117 1847l-9-13 7 137 13-160z"/><path class=c48 d="M839 1687l-10 127 10 119 10-19z"/><path class=c45 d="M859 1731l-10 100 10-83 10 31z"/><path class=c42 d="M986 1925l-8-86 11-89 10 10zM957 1889l-9-104 11-47 9 62z"/><path class=c37 d="M618 1696l-6 159 12 99 7-105z"/><path class=c33 d="M1077 1764l-7-121 5 223 11-65z"/><path class=c35 d="M693 1973l-14-219 11 109 10-39z"/><path class=c33 d="M619 1733l-8 86 7-123 17 281z"/><path class=c37 d="M1049 1738l-12 125 12-55 6 176z"/><path class=c16 d="M497 1987l-16-123 9-34 11 37z"/><path class=c41 d="M997 1849l-11 76 13-165 11-92z"/><path class=c33 d="M575 1948l-15-135 9-17 13 62z"/><path class=c38 d="M750 1784l-12-138 13 222 9-18z"/><path class=c23 d="M455 1835l-13-59 9 6 10-14z"/><path class=c33 d="M1057 1770l-11 41 10 29 14-197z"/><path class=c29 d="M1135 1805l-6-127 5 207 15-193z"/><path class=c46 d="M978 1839l-9-44 8 146 12-191z"/><path class=c41 d="M669 1795l-8 75 11 62 10 2z"/><path class=c21 d="M442 1776l-6 113 4-115 11 8z"/><path class=c36 d="M673 1911l-12-112 8-92 10 22z"/><path class=c27 d="M528 1736l-9 37 16 189 9-26z"/><path class=c34 d="M693 1916l-14-187 9-38 12 117z"/><path class=c39 d="M740 1784l-9 76 7-214 12 138z"/><path class=c41 d="M690 1863l-8 71 8-46 10-51z"/><path class=c32 d="M611 1819l-8 80 9-44 6-159z"/><path class=c38 d="M1049 1808l-10 8 8 97 9 52z"/><path class=c19 d="M1255 1747l-8-9 10 18 7 45z"/><path class=c40 d="M947 1973l-9-30 12-179 9 62z"/><path class=c24 d="M535 1962l-18-215 14 132 13 59z"/><path class=c33 d="M1164 1888l-6-124 10 21 9 13z"/><path class=c37 d="M680 1822l-11-47 10-21 14 219z"/><path class=c41 d="M1066 1909l-10 56 15-232 6 157z"/><path class=c27 d="M1156 1800l-7-83 9 47 6 124z"/><path class=c32 d="M1108 1834l-11 63 13-106 5 180z"/><path class=c36 d="M1116 1832l-8-46 9 61 10-16z"/><path class=c43 d="M829 1674l-10 61 10 123 10-8z"/><path class=c25 d="M531 1879l-7 95 9-20 6-117z"/><path class=c44 d="M819 1857l-11-217 12 308 10 43zM849 1678l-10 9 10 227 10 47z"/><path class=c23 d="M514 1870l-15-121 14 134 6-128zM1247 1811l-16 159 18-189 9 5z"/><path class=c27 d="M1149 1692l-15 193 15-168 7 83z"/><path class=c26 d="M560 1836l-8 65 11 58 8-82z"/><path class=c39 d="M849 1831l-10 19 10-172 10 70z"/><path class=c18 d="M423 1890l-8 52 8-26 6-89z"/><path class=c37 d="M1058 1780l-9-42 6 246 13-201z"/><path class=c34 d="M631 1849l-7 105 4-207 12 72z"/><path class=c22 d="M432 1836l-10 9 8-44 14 96z"/><path class=c43 d="M770 1889l-10 11 9-165 11 100z"/><path class=c22 d="M440 1774l-8 62 12 61 7-93z"/><path class=c42 d="M722 1939l-15-285 14 218 9-40z"/><path class=c23 d="M1156 1750l-7-58 7 108 10-25z"/><path class=c38 d="M1006 1884l-9-35 13-181 9 18z"/><path class=c39 d="M789 1727l-9 63 9-17 10-94z"/><path class=c18 d="M476 1840l-15-94 8-55 11 17z"/><path class=c47 d="M859 1748l-10-70 10 283 10-192z"/><path class=c38 d="M612 1855l-9 69 2-296 19 326z"/><path class=c20 d="M422 1845l-8 53 9-8 7-89z"/><path class=c25 d="M544 1938l-13-59 8-42 13 64z"/><path class=c46 d="M810 1901l-10 4 8-271 11 146z"/><path class=c23 d="M1214 1863l-10 22 16-132 9 9z"/><path class=c33 d="M978 1703l-10 18 9 81 11-138z"/><path class=c15 d="M461 1746l-6 89 6-67 8-77z"/><path class=c43 d="M688 1691l-8 131 13 151 6-239z"/><path class=c31 d="M1180 1778l-13 121 7 84 14-126z"/><path class=c41 d="M1047 1808l-11 68 13-138 9 42z"/><path class=c32 d="M644 2029l-12-86 7-106 8-106z"/><path class=c38 d="M738 1646l-7 211 8-81 12 92z"/><path class=c35 d="M1108 1786l-11 68 11-20 9 13z"/><path class=c33 d="M1110 1885l-14 149 13-84 9 14z"/><path class=c26 d="M499 1721l-7 96 7-68 15 121z"/><path class=c31 d="M1066 1760l-9 10 13-127 7 121z"/><path class=c19 d="M1229 1762l-9-9 7 76 4 141z"/><path class=c26 d="M1231 1970l-4-141 12-33 10-15zM1188 1857l-14 126 20-259-1 284z"/><path class=c49 d="M888 1932l-9-161 10 96 10-110z"/><path class=c32 d="M1146 1859l-4-179 7 121 4 172z"/><path class=c30 d="M557 1681l-6 155 9-23 15 135z"/><path class=c38 d="M1084 1947l-5-187 11-5 7 99z"/><path class=c45 d="M899 1757l-10 110 9 122 11-214z"/><path class=c43 d="M771 1981l-11-112 9-78 11 152z"/><path class=c32 d="M1174 1983l-7-57 8 70 19-272z"/><path class=c28 d="M1168 1785l-15 188 12-68 18-261z"/><path class=c26 d="M451 1804l-7 93 8-33 7-87z"/><path class=c35 d="M594 1949l-11-15 5-160 11 32z"/><path class=c47 d="M909 1775l-11 214 11-26 11-245z"/><path class=c26 d="M480 1805l-13-61 14 120 16 123z"/><path class=c30 d="M1273 1898l-6-66 10 7 12-47z"/><path class=c46 d="M1009 1769l-12 159 12-97 9 75z"/><path class=c39 d="M621 1864l-13-96 14 172 10 3z"/><path class=c25 d="M1157 1956l-10-3 14-83 6 97z"/><path class=c20 d="M1191 1971l2-339 7 106 4 147z"/><path class=c42 d="M978 1949l-7-207 9 96 6 254z"/><path class=c35 d="M1128 1811l-13 160 18-273 2 243zM968 1800l-9-62 10 57 9 44z"/><path class=c32 d="M1108 1746l-11 52 11-12 8 46z"/><path class=c34 d="M642 1885l-11-36 9-30 8-125z"/><path class=c42 d="M1018 1830l-9-61 9 137 10-55z"/><path class=c36 d="M569 1796l-9 40 11 41 12 57z"/><path class=c32 d="M1130 1883l-12 81 9 39 11-56z"/><path class=c45 d="M869 1963l-10-272 10 124 10 141z"/><path class=c36 d="M1047 1913l-9-1 10 36 13-178z"/><path class=c41 d="M971 1859l-12 191 10-8 9 66z"/><path class=c42 d="M1039 1816l-10 20 9 76 9 1z"/><path class=c17 d="M1227 1829l-12 77 12-35 12-75z"/><path class=c42 d="M959 1738l-11 116 10-21 11-38z"/><path class=c36 d="M1028 1851l-10 55 11-70 10-20z"/><path class=c31 d="M649 1737l-7 148 6-191 13 160z"/><path class=c34 d="M1097 1854l-7-99 7 142 11-63z"/><path class=c21 d="M1269 1750l-11 36 9 46 6 66z"/><path class=c43 d="M1037 1863l-9-12 11-35 10-8z"/><path class=c49 d="M859 1873l-10-53 10-129 10 272z"/><path class=c19 d="M1254 1852l-7-41 11-25 11-36z"/><path class=c47 d="M728 1681l-6 304 8-92 10-36z"/><path class=c25 d="M561 1774l-9 57 5-150 15 136z"/><path class=c32 d="M661 1799l-12-62 12 117 8-147z"/><path class=c33 d="M669 1707l-8 147 8-79 11 47z"/><path class=c26 d="M1309 1749l-15 126 15-85 7 47z"/><path class=c28 d="M1138 1927l-8-44 8 64 9 6z"/><path class=c40 d="M909 1963l-10-128 11-41 9 142z"/><path class=c42 d="M679 1754l-10 41 13 139 8-71z"/><path class=c41 d="M779 1731l-8 250 9-38 9-130z"/><path class=c37 d="M948 1785l-9-24 9 93 11-116z"/><path class=c40 d="M986 2092l-6-254 9 59 11-75z"/><path class=c32 d="M560 1813l-7 90 7-67 9-40z"/><path class=c18 d="M1264 1801l-7-45 14-90 5 102z"/><path class=c29 d="M1158 1892l-7-92 6 156 10-30z"/><path class=c42 d="M829 1858l-10-78 10 34 10-127z"/><path class=c43 d="M839 1850l-10 8 10-171 10-9z"/><path class=c41 d="M661 1854l-13-160 13 194 8-113z"/><path class=c26 d="M1151 1800l-13 127 9 26 10 3z"/><path class=c39 d="M1010 1668l-11 92 8 118 11-57z"/><path class=c28 d="M519 1773l-7 89 5-115 18 215z"/><path class=c45 d="M879 1956l-10-141 10-13 10 77z"/><path class=c35 d="M1079 1760l-13 149 11-19 13-135z"/><path class=c49 d="M789 1813l-9 130 10-82 10 42z"/><path class=c38 d="M1090 1755l-13 135 12-59 8 66z"/><path class=c36 d="M978 2108l-9-66 12-140 8 131z"/><path class=c22 d="M477 1947l-18-170 8-33 13 61z"/><path class=c45 d="M859 1867l-10-47 11 73 9 102z"/><path class=c20 d="M468 1786l-8 75 14 107 8-58z"/><path class=c45 d="M959 1912l-9-98 8 244 11-149z"/><path class=c48 d="M997 1928l-9-24 12-133 9 60z"/><path class=c43 d="M709 1771l-9 66 9-47 13 195z"/><path class=c25 d="M1186 1891l-6-113 8 79 10-22z"/><path class=c50 d="M918 1879l-9-104 11-57 8 218z"/><path class=c23 d="M1248 1842l-7-61 1 238 17-181z"/><path class=c39 d="M699 1734l-6 239 7-149 7-170z"/><path class=c47 d="M799 1791l-10 22 11 90 10 27z"/><path class=c29 d="M517 1747l-7 104 14 123 7-95z"/><path class=c26 d="M1118 1964l-9-14 12-62 6 115z"/><path class=c23 d="M524 1974l-14-116 7-66 16 162z"/><path class=c41 d="M760 1924l-10-22 10-19 11 103z"/><path class=c43 d="M721 1872l-12-101 13 214 6-304z"/><path class=c36 d="M1097 1897l-8-66 9 68 12-108z"/><path class=c37 d="M1019 1686l-9-18 8 153 8 39z"/><path class=c49 d="M879 1802l-10 193 11-164 9 99z"/><path class=c38 d="M710 1783l-11-49 8-80 15 285z"/><path class=c29 d="M1099 1879l-9-8 6 163 14-149z"/><path class=c43 d="M919 1936l-9-142 9 164 10-97z"/><path class=c32 d="M603 1924l-9 25 5-143 6-178z"/><path class=c23 d="M1294 1875l-5-83 9 22 11-24z"/><path class=c48 d="M989 1765l-9-13 8 152 9 24z"/><path class=c22 d="M444 1897l-14-96 7-51 15 114z"/><path class=c42 d="M700 1824l-10 39 10-26 9-66z"/><path class=c37 d="M1020 1936l-12 108 11-45 11-56z"/><path class=c45 d="M869 1815l-10 52 10 128 10-193z"/><path class=c37 d="M1098 1899l-10 4 11-24 10-31z"/><path class=c45 d="M750 1833l-12-126 11 76 11 117z"/><path class=c24 d="M510 1851l-12-43 12 50 14 116z"/><path class=c44 d="M722 1985l-13-195 9-43 12 146z"/><path class=c23 d="M1214 1640l-16 195 7 107 10-36z"/><path class=c44 d="M928 1936l-8-218 10 22 8 203z"/><path class=c40 d="M910 1927l-10-1 9 146 11-145z"/><path class=c39 d="M780 1888l-9 98 8-159 11 137z"/><path class=c19 d="M1259 1838l-17 181 17-141 13-102z"/><path class=c44 d="M1018 1906l-9-75 11-9 9 14z"/><path class=c39 d="M1007 1878l-7-154 9 45 9 61zM682 1977l-13-157 10 19 11 63zM739 1776l-9 56 8-125 12 126z"/><path class=c47 d="M930 1740l-11 196 10-75 10 62z"/><path class=c38 d="M959 2050l-10 16 12-187 8 163z"/><path class=c44 d="M1000 1771l-14 321 14-270 10 11z"/><path class=c23 d="M1271 1666l-17 186 15-102 8 37z"/><path class=c35 d="M669 1775l-8 113 8-93 10-41z"/><path class=c41 d="M800 1905l-10-23 9-163 9-85z"/><path class=c37 d="M700 1808l-12-117 11 43 11 49z"/><path class=c45 d="M769 1791l-9 133 11 62 9-98z"/><path class=c44 d="M1056 1965l-9-52 14-143 10-37z"/><path class=c37 d="M632 1943l-10-3 5-193 12 90z"/><path class=c38 d="M640 1819l-12-72 16 282 3-353z"/><path class=c24 d="M533 1954l-16-162 14 138 10-7zM519 1755l-6 128 6-110 9-37z"/><path class=c43 d="M969 1795l-11 38 13-212 6 320z"/><path class=c39 d="M909 1781l-10-24 10 18 9 104z"/><path class=c40 d="M958 1833l-11 140 12-147 12-205z"/><path class=c24 d="M429 1827l-6 89 5-83 14 64zM1316 1837l-7-47 9 36 11-45z"/><path class=c46 d="M889 1879l-10-77 10 128 10-95z"/><path class=c41 d="M672 1932l-15-204 12 92 13 157z"/><path class=c42 d="M690 1888l-8 89 8-75 7-215z"/><path class=c41 d="M989 1750l-12 191 12-176 11-41z"/><path class=c23 d="M1257 1756l-7-57 4 153 17-186z"/><path class=c20 d="M458 1834l-4 150 7-37 9-57z"/><path class=c36 d="M999 1760l-10-10 11-26 7 154z"/><path class=c31 d="M1142 1680l-14 131 7 130 14-140z"/><path class=c26 d="M1127 1831l-10 16 11-36 14-131z"/><path class=c21 d="M482 1910l-8 58 5-103 8-86z"/><path class=c27 d="M512 1862l-11 5 9-16 7-104z"/><path class=c36 d="M1089 1831l-9-37 8 109 10-4z"/><path class=c21 d="M448 1818l-5 134 11 32 4-150z"/><path class=c43 d="M938 1943l-8-203 9 183 11-159z"/><path class=c46 d="M808 1640l-9 151 11 139 10 18z"/><path class=c24 d="M481 1864l-13-78 14 124 8-80zM452 1878l-10 19 6-79 12 43z"/><path class=c38 d="M800 1903l-10-42 9-22 11 59z"/><path class=c33 d="M583 1934l-12-57 7-79 10-24z"/><path class=c48 d="M849 1820l-10-5 10 161 10-285z"/><path class=c46 d="M759 1760l-10-1 11 110 11 112z"/><path class=c26 d="M580 1899l-11-24 13 99 8-88z"/><path class=c25 d="M1183 1644l-18 261 15-127 6 113z"/><path class=c43 d="M697 1687l-7 215 11 63 10-22z"/><path class=c51 d="M920 1718l-11 245 10-27 11-196z"/><path class=c37 d="M647 1676l-3 353 3-298 14 139z"/><path class=c44 d="M820 1948l-10-18 9-268 10 160z"/><path class=c21 d="M1272 1776l-13 102 6 98 13-75z"/><path class=c43 d="M1038 1912l-8-106 11 4 7 138zM790 1861l-10 27 10 76 9-125z"/><path class=c34 d="M1088 1903l-9-20 11-12 9 8z"/><path class=c30 d="M442 1897l-14-64 15 119 5-134z"/><path class=c45 d="M780 1943l-11-152 11 97 10-27z"/><path class=c44 d="M859 1691l-10 285 10-109 10-52z"/><path class=c37 d="M661 1888l-14-212 14 194 8-75z"/><path class=c20 d="M1191 1901l-14 147 15-138 5 141z"/><path class=c24 d="M474 1968l-16-134 12 56 9-25z"/><path class=c17 d="M1258 1786l-9-5 10 15 8 36z"/><path class=c47 d="M760 1869l-10 23 10 32 9-133z"/><path class=c41 d="M819 1780l-11-146 11 223 10-43z"/><path class=c29 d="M1135 1941l-2-243 7 124 8 45z"/><path class=c43 d="M1048 1948l-7-138 9 72 9 3z"/><path class=c20 d="M501 1867l-11-37 8-22 12 43z"/><path class=c37 d="M950 1814l-11 125 11-95 8 214zM1061 1770l-13 178 11-63 10-32z"/><path class=c44 d="M929 1861l-10 97 11-79 10-51z"/><path class=c45 d="M790 1882l-10-47 9-128 10 12z"/><path class=c31 d="M571 1877l-8 82 4-181 11 20z"/><path class=c21 d="M437 1750l-8 77 13 70 10-19z"/><path class=c24 d="M460 1861l-12-43 10 16 16 134z"/><path class=c31 d="M552 1901l-13-64 6-122 18 244z"/><path class=c35 d="M1148 1867l-8-45 11-22 7 92z"/><path class=c46 d="M711 1943l-10 22 8-139 10-28z"/><path class=c40 d="M920 1927l-11 145 11-76 11-149z"/><path class=c16 d="M1177 2048l-5-139 5 182 15-181z"/><path class=c35 d="M679 1729l-10-22 11 115 8-131z"/><path class=c47 d="M869 1995l-9-102 10-92 10 30z"/><path class=c50 d="M810 1930l-10-27 10-5 9-236z"/><path class=c24 d="M1267 1832l-8-36 12-22 6 65z"/><path class=c44 d="M1000 1724l-11 41 8 163 12-159z"/><path class=c36 d="M680 1899l-10 18 9-31 13 130z"/><path class=c43 d="M1029 1836l-9-14 10-16 8 106z"/><path class=c32 d="M1110 1791l-12 108 11-51 10-18z"/><path class=c36 d="M1069 1853l-10 32 11-7 9 5z"/><path class=c40 d="M1080 1794l-11 59 10 30 9 20z"/><path class=c19 d="M401 1807l-19-156 19 200 13 47z"/><path class=c23 d="M1309 1790l-11 24 12-18 8 30z"/><path class=c32 d="M1147 1953l-9-6 14-97 9 20z"/><path class=c17 d="M430 1801l-7 89 6-63 8-77z"/><path class=c29 d="M624 1954l-19-326 16 236 7-117z"/><path class=c46 d="M900 1926l-10 25 10-75 9 196z"/><path class=c24 d="M1239 1796l-12 75 14-90 7 61z"/><path class=c40 d="M707 1654l-7 170 9-53 12 101z"/><path class=c38 d="M640 1905l-10 2 10-3 9-44z"/><path class=c48 d="M860 2003l-10-114 10 60 10-96z"/><path class=c38 d="M760 1900l-11-117 10-23 10-25z"/><path class=c23 d="M479 1865l-9 25 11 38 9-32z"/><path class=c32 d="M1115 1971l-5-180 9 39 14-132z"/><path class=c20 d="M1249 1781l-10 15 9 46 11-46z"/><path class=c34 d="M1010 1915l-9-67 7 196 12-108zM1090 1871l-10 1 12-39 4 201z"/><path class=c38 d="M850 1889l-10 131 10-126 10 55z"/><path class=c26 d="M1298 1814l-6-54 4 145 14-109z"/><path class=c51 d="M860 1893l-10-34 10 144 10-202z"/><path class=c36 d="M1121 1805l-11 80 8 79 12-81z"/><path class=c35 d="M630 1941l-11-46 13 143 7-157z"/><path class=c44 d="M839 1815l-10 7 10-142 10 296z"/><path class=c21 d="M1289 1792l-12 47 15-79 6 54z"/><path class=c43 d="M839 1792l-9 185 10 43 10-131z"/><path class=c23 d="M1292 1760l-8-45 1 238 11-48z"/><path class=c40 d="M980 1752l-9-76 7 273 10-45z"/><path class=c19 d="M452 1864l-15-114 15 128 5-129z"/><path class=c21 d="M490 1896l-9 32 6-91 15 129z"/><path class=c43 d="M870 1801l-10 202 10-150 10 97z"/><path class=c27 d="M539 1837l-6 117 8-31 4-208z"/><path class=c36 d="M608 1768l-6 163 4-212 16 221z"/><path class=c26 d="M1129 2001l-10 42 10 24 15-200z"/><path class=c45 d="M650 1879l-10 26 9-45 10-20z"/><path class=c32 d="M1138 1947l-11 56 15-150 10-3z"/><path class=c45 d="M730 1832l-9 40 7-191 10 26z"/><path class=c51 d="M849 1976l-10-296 10 140 10 47z"/><path class=c26 d="M541 1923l-10 7 5-124 14 86z"/><path class=c16 d="M1220 1753l-6-113 1 266 12-77z"/><path class=c45 d="M750 1892l-12-138 12 148 10 22z"/><path class=c25 d="M1235 1787l-16 151 10 37 8 29z"/><path class=c24 d="M1259 1796l-11 46 11-4 12-64z"/><path class=c12 d="M1276 1768l-5-102 6 121 15-147z"/><path class=c26 d="M549 1937l-8 70 10-9 8-75zM501 1917l-11-21 12 70 3-201z"/><path class=c46 d="M769 1735l-10 25 12 221 8-250z"/><path class=c34 d="M599 1806l-11-32 14 157 6-163z"/><path class=c51 d="M889 1930l-9-99 10 59 10-84z"/><path class=c42 d="M627 1747l-6 163 9-3 10-2z"/><path class=c45 d="M740 1857l-10 36 8-132 11-2z"/><path class=c33 d="M1096 2034l-4-201 11-13 6 130z"/><path class=c37 d="M648 1694l-8 125 7-143 14 212z"/><path class=c45 d="M980 1838l-11 71 11-40 9 28z"/><path class=c46 d="M1020 1822l-10 11 9 87 11-114z"/><path class=c41 d="M1077 1890l-6-157 9 61 9 37z"/><path class=c39 d="M1079 1883l-9-5 10-6 10-1z"/><path class=c21 d="M1241 1781l-9-13 10 30 0 221zM1227 1871l-9 9 14-112 9 13zM457 1749l-5 129 8-17 8-75z"/><path class=c47 d="M910 1794l-10 12 10 77 9 75z"/><path class=c37 d="M661 1870l-14-139 10-3 15 204z"/><path class=c23 d="M1200 1738l-14 153 12-56 16-195z"/><path class=c32 d="M1175 1996l-8-29 18-236 7 67z"/><path class=c27 d="M1119 2043l-10 27 17-239 3 236z"/><path class=c39 d="M1059 1885l-9-3 11-32 9 28z"/><path class=c20 d="M487 1779l-8 86 11 31 11 21z"/><path class=c17 d="M490 1830l-8 80 5-131 11 29z"/><path class=c14 d="M459 1777l-7 87 5-115 10-5z"/><path class=c27 d="M1167 1967l-6-97 7 109 17-248z"/><path class=c47 d="M899 1835l-10 95 11-124 10-12z"/><path class=c21 d="M1284 1715l-12 61 6 125 7 52z"/><path class=c35 d="M1109 1848l-10 31 11 6 11-80z"/><path class=c50 d="M890 1890l-10 60 10-100 10 16z"/><path class=c44 d="M980 1944l-9-85 7 249 14-276zM1030 1806l-11 114 11-38 11-72z"/><path class=c21 d="M541 2007l-11-28 7-69 14 88z"/><path class=c32 d="M588 1774l-10 24 10 6 14 127z"/><path class=c35 d="M639 1837l-12-90 13 158 10-26z"/><path class=c46 d="M989 1897l-9-28 10 62 10-83z"/><path class=c18 d="M1204 1885l-4-147 14-98 6 113z"/><path class=c24 d="M1177 2091l-4-166 9 54 9 12z"/><path class=c47 d="M1041 1810l-11 72 10 19 10-19z"/><path class=c51 d="M810 1898l-11-59 10-12 11 30z"/><path class=c50 d="M849 1820l-9 26 10 13 10 34z"/><path class=c45 d="M750 1902l-9 76 7-189 12 94z"/><path class=c48 d="M939 1923l-10-62 11-33 11-93z"/><path class=c37 d="M1070 1878l-9-28 8 83 11-61z"/><path class=c45 d="M850 1859l-11-67 11 97 10 114z"/><path class=c42 d="M749 1783l-9 74 9-98 10 1z"/><path class=c21 d="M1259 1878l-1-200 0 248 7 50zM470 1890l-9 57 4-152 16 133z"/><path class=c36 d="M621 1910l-10 26 5-201 14 172z"/><path class=c27 d="M498 1808l-11-29 14 138 9-59z"/><path class=c47 d="M880 1831l-10-30 10 149 10-60z"/><path class=c42 d="M951 1827l-10 22 8 217 10-16z"/><path class=c35 d="M977 1941l-6-320 9 131 9 13z"/><path class=c47 d="M971 1742l-12 170 10-3 11-71z"/><path class=c36 d="M588 1804l-8 95 10-13 8-55z"/><path class=c44 d="M749 1759l-11 2 12 131 10-23zM727 1721l-7 202 10-8 11 63z"/><path class=c42 d="M940 1828l-10 51 9 60 11-125zM1009 1831l-9-60 10 62 10-11z"/><path class=c41 d="M660 1909l-12-75 12 102 10-19z"/><path class=c21 d="M1242 2019l0-221 16-120 1 200z"/><path class=c33 d="M1120 1960l-6-136 5 219 10-42z"/><path class=c40 d="M1008 2044l-5-275 7 189 9 41z"/><path class=c39 d="M700 1837l-10 51 7-201 12 103z"/><path class=c36 d="M699 1878l-7 138 6-188 11 40z"/><path class=c32 d="M606 1719l-8 112 13 105 10-26z"/><path class=c48 d="M900 1806l-10 84 10-24 10 17z"/><path class=c42 d="M692 2016l-13-130 10 34 9-92z"/><path class=c21 d="M467 1744l-10 5 11 37 13 78z"/><path class=c38 d="M698 1828l-9 92 11 37 11 46z"/><path class=c41 d="M941 1849l-11 98 10 17 9 102z"/><path class=c47 d="M900 1866l-10-16 10 76 10 1z"/><path class=c23 d="M1192 1910l-15 181 14-100 13-106z"/><path class=c32 d="M1132 1747l-11 58 9 78 8 44z"/><path class=c31 d="M1140 1822l-8-75 6 180 13-127z"/><path class=c46 d="M720 1923l-11-55 10 2 11 45z"/><path class=c33 d="M1161 1870l-9-20 10 3 6 126z"/><path class=c36 d="M1127 2003l-6-115 11-15 10-20z"/><path class=c37 d="M1071 1910l-9-45 8 126 10-7z"/><path class=c38 d="M622 1940l-16-221 15 191 6-163z"/><path class=c42 d="M649 1860l-9 44 8-70 12 75z"/><path class=c34 d="M569 1875l-12-60 10 26 15 133z"/><path class=c28 d="M1185 1731l-17 248 11-35 12-59z"/><path class=c41 d="M992 1832l-14 276 11-75 14-264z"/><path class=c44 d="M709 1826l-10 52 10-10 11 55z"/><path class=c47 d="M1000 1848l-10 83 11-83 9 67z"/><path class=c37 d="M640 1904l-10 37 9-60 9-47z"/><path class=c25 d="M1193 2008l1-284 11-16 5 121z"/><path class=c27 d="M567 1778l-9 31 11 66 11 24z"/><path class=c34 d="M738 1707l-10-26 12 176 9-74zM630 1907l-14-172 14 206 10-37z"/><path class=c36 d="M598 1831l-8 55 6-122 15 172z"/><path class=c48 d="M939 1939l-9-74 10 17 10-38z"/><path class=c44 d="M690 1902l-11-63 6-197 16 323z"/><path class=c40 d="M1031 1869l-11 67 10 7 12-102z"/><path class=c34 d="M602 1931l-14-127 10 27 8-112z"/><path class=c44 d="M820 1920l-10 97 10-108 10 37z"/><path class=c31 d="M1179 1944l-3-191 1 295 14-147z"/><path class=c49 d="M771 1986l-11-103 8-109 11 53z"/><path class=c18 d="M1197 2051l-5-141 12-25 8 40z"/><path class=c22 d="M1218 1880l-8-51 13-57 9-4z"/><path class=c48 d="M969 1909l-11 149 15-437 7 248z"/><path class=c29 d="M578 1798l-11-20 13 121 8-95z"/><path class=c40 d="M750 1932l-11-26 12 115 8-158z"/><path class=c39 d="M780 1835l-11-100 10-4 10-24z"/><path class=c22 d="M1177 1798l-9-13 15-141 10-12z"/><path class=c49 d="M919 1958l-9-75 11-213 9 209z"/><path class=c33 d="M1103 1877l-13 141 13-86 6 138z"/><path class=c26 d="M545 1715l-4 208 9-31 8-83z"/><path class=c43 d="M829 1818l-9 39 9-54 11 43zM1050 1882l-10 19 12-90 9 39z"/><path class=c36 d="M657 1728l-7 151 9-39 10-20z"/><path class=c40 d="M667 1736l-7 173 10 8 10-18z"/><path class=c37 d="M1010 1833l-10-11 12-86 7 184z"/><path class=c29 d="M1176 1753l-17 229 13-73 5 139z"/><path class=c36 d="M891 1978l-11 123 11-11 10-166z"/><path class=c40 d="M1022 1781l-12 134 10 21 11-67z"/><path class=c24 d="M510 1858l-9 59 4-152 12 27z"/><path class=c40 d="M969 2042l-8-163 9 125 11-102z"/><path class=c32 d="M605 1628l-6 178 9-38 13 96z"/><path class=c28 d="M558 1809l-8 83 7-77 12 60zM563 1959l-18-244 13 94 9-31z"/><path class=c38 d="M619 1895l-11-35 9-6 15 184z"/><path class=c21 d="M1193 1632l-10 12 3 247 14-153z"/><path class=c46 d="M1030 1882l-8-101 9 88 9 32z"/><path class=c29 d="M1114 1824l-11 53 6 193 10-27z"/><path class=c39 d="M689 1920l-10 16 10-43 11 64z"/><path class=c43 d="M718 1747l-7 196 8-145 9-35z"/><path class=c31 d="M1119 1830l-10 18 12-43 11-58z"/><path class=c41 d="M679 1936l-10 8 11 51 9-102z"/><path class=c28 d="M538 1882l-13-64 16 189 8-70z"/><path class=c19 d="M481 1928l-16-133 16 163 6-121z"/><path class=c44 d="M709 1868l-11-40 13 175 8-133z"/><path class=c18 d="M1277 1839l-6-65 13-59 8 45z"/><path class=c43 d="M990 1931l-10 13 12-112 9 16z"/><path class=c47 d="M789 1796l-8 263 8-264 11 118z"/><path class=c41 d="M819 1662l-9 236 10-41 9-39z"/><path class=c37 d="M789 1707l-10 24 10 82 10-22z"/><path class=c40 d="M949 2066l-9-102 11-59 10-26z"/><path class=c31 d="M1132 1873l-12 87 9 41 15-162zM531 1930l-13-88 10 23 8-59z"/><path class=c45 d="M685 1642l-5 257 12 117 7-138z"/><path class=c43 d="M951 1735l-11 93 10-14 9 98z"/><path class=c31 d="M647 1731l-8 106 11 42 7-151z"/><path class=c34 d="M639 1881l-7 157 5-221 12 74zM1071 1733l-10 37 8 83 11-59z"/><path class=c41 d="M709 1790l-12-103 14 256 7-196z"/><path class=c42 d="M730 1893l-12-146 10 16 10-2z"/><path class=c35 d="M616 1735l-6 186 9-26 11 46z"/><path class=c32 d="M1168 1979l-6-126 14-100 3 191z"/><path class=c44 d="M738 1754l-11-33 14 257 9-76z"/><path class=c23 d="M510 1941l-11-12 12 74 4-187z"/><path class=c40 d="M1030 1943l-11 56 13-103 11-72z"/><path class=c44 d="M830 1977l-11-196 10-22 11 261z"/><path class=c42 d="M741 1978l-11-63 8-120 10-6z"/><path class=c37 d="M950 1764l-11 159 12-188 10-17z"/><path class=c45 d="M810 2017l-10-68 10-29 10-11z"/><path class=c40 d="M648 1834l-9 47 10 10 11 45z"/><path class=c23 d="M1223 1772l-13 87 14-71 5 110z"/><path class=c39 d="M659 1840l-10 20 11 49 7-173z"/><path class=c31 d="M548 1858l-10 24 11 55 9-71z"/><path class=c40 d="M1042 1916l-11 80 10-19 10-23z"/><path class=c46 d="M930 1865l-10 62 11-80 9 35z"/><path class=c41 d="M1080 1872l-11 61 14-124 9 24z"/><path class=c39 d="M749 1864l-9 132 10 19 10 28z"/><path class=c24 d="M1172 1909l-7-67 8 83 4 166z"/><path class=c37 d="M1109 1950l-6-130 9 32 9 36z"/><path class=c40 d="M1019 1920l-7-184 10 45 8 101z"/><path class=c25 d="M1219 1938l-5-98 12-26 3 161z"/><path class=c34 d="M1121 1888l-9-36 8 108 12-87z"/><path class=c46 d="M909 2072l-9-196 12-173 8 293z"/><path class=c29 d="M1214 1840l-17 211 15-126 14-111z"/><path class=c51 d="M779 1827l-11-53 13 285 8-263z"/><path class=c20 d="M1232 1768l-9 4 6 126 13-100z"/><path class=c48 d="M829 1803l-10 9 11 165 9-185z"/><path class=c42 d="M931 1847l-11 149 10-49 11-98z"/><path class=c16 d="M1271 1774l-12 64 13-62 12-61z"/><path class=c36 d="M1051 1954l-10 23 12-47 7 99z"/><path class=c21 d="M1210 1859l-9-3 11 1 12-69z"/><path class=c25 d="M559 1923l-8 75 4-163 14 126z"/><path class=c29 d="M517 1792l-12-27 13 77 13 88z"/><path class=c43 d="M800 2001l-11-83 11 62 11 85z"/><path class=c38 d="M880 2101l-9-144 10-16 10 149z"/><path class=c45 d="M1000 1822l-11 75 11-49 12-112z"/><path class=c39 d="M1019 1999l-9-41 13-120 9 58z"/><path class=c27 d="M1194 1724l-19 272 17-198 13-90z"/><path class=c42 d="M799 1839l-9 125 8-284 11 147z"/><path class=c29 d="M1133 1698l-14 132 13-83 8 75z"/><path class=c42 d="M719 1870l-8 133 7-172 11 37z"/><path class=c39 d="M808 1634l-9 85 9-79 11 217z"/><path class=c41 d="M701 1965l-16-323 14 236 10-52z"/><path class=c37 d="M1080 1984l-10 7 15-185 7 94z"/><path class=c30 d="M1191 1885l-12 59 12-43 15-152z"/><path class=c47 d="M840 1846l-11-43 10-11 11 67z"/><path class=c40 d="M1040 1901l-9-32 11-28 10-30z"/><path class=c28 d="M1206 1749l-15 152 6 150 17-211z"/><path class=c45 d="M820 1857l-11-30 10-15 10-9z"/><path class=c40 d="M850 1913l-10 129 10-50 10-58z"/><path class=c41 d="M738 1761l-10 2 10-9 12 138zM839 1680l-10 138 11 28 9-26z"/><path class=c47 d="M781 2059l-13-281 12 147 9-130z"/><path class=c35 d="M1041 2015l-9-18 10 19 9 18z"/><path class=c49 d="M930 1879l-9-209 9 195 9 74z"/><path class=c41 d="M610 1921l-13-98 11 37 11 35z"/><path class=c38 d="M1061 1850l-9-39 10 6 7 116z"/><path class=c39 d="M669 1820l-10 20 8-104 12 103z"/><path class=c34 d="M550 1892l-14-86 12 52 9-43z"/><path class=c46 d="M890 1850l-10-94 10 195 10-25z"/><path class=c43 d="M1083 1809l-12 101 9 74 13-149z"/><path class=c36 d="M669 1944l-13-128 14 183 10-4z"/><path class=c43 d="M840 2020l-11-261 11 115 10 20z"/><path class=c41 d="M971 1676l-10 42 10 24 7 207z"/><path class=c43 d="M1069 1933l-7-116 9 93 12-101z"/><path class=c45 d="M910 1883l-10-17 10 61 11-257z"/><path class=c51 d="M860 1949l-10-55 10-32 10-24zM880 1950l-10-97 10-97 10 94z"/><path class=c35 d="M1144 1867l-15 200 14-134 10-15z"/><path class=c24 d="M525 1818l-10-2 15 163 11 28z"/><path class=c33 d="M611 1936l-15-172 14 157 6-186z"/><path class=c25 d="M493 1764l-4 157 10 8 11 12z"/><path class=c43 d="M711 2003l-11-46 7-146 11 20z"/><path class=c24 d="M487 1837l-6 121 8-37 4-157z"/><path class=c23 d="M536 1806l-8 59 10 17 10-24z"/><path class=c27 d="M515 1816l-4 187 5-130 14 106z"/><path class=c45 d="M921 1670l-11 257 10 0 10-62z"/><path class=c37 d="M719 1798l-10 28 11 97 7-202z"/><path class=c39 d="M670 1917l-10 19 6-210 13 160z"/><path class=c49 d="M961 1778l-10 49 8 223 12-191z"/><path class=c23 d="M1224 1788l-12 69 7 81 16-151z"/><path class=c38 d="M558 1866l-9 71 10-14 6-119z"/><path class=c46 d="M891 1842l-11 220 11-139 10-42z"/><path class=c22 d="M1210 1829l-5-121 5 151 13-87z"/><path class=c33 d="M577 1863l-8 98 9-31 10-31z"/><path class=c37 d="M959 1826l-9-62 11-46 10-42z"/><path class=c47 d="M730 1915l-11-45 10-2 9-73z"/><path class=c36 d="M799 1719l-10-12 10 84 9-151z"/><path class=c29 d="M1159 1982l-6-94 12-46 7 67z"/><path class=c50 d="M809 1853l-10-72 11 236 10-97z"/><path class=c30 d="M1153 1846l-9-7 9 49 6 94z"/><path class=c44 d="M961 1718l-10 17 8 177 12-170z"/><path class=c42 d="M1003 1769l-14 264 13-169 8 94z"/><path class=c43 d="M980 1869l-7-248 7 323 10-13z"/><path class=c48 d="M1001 1848l-9-16 11-63 5 275z"/><path class=c37 d="M649 1891l-12-74 12 122 10-11z"/><path class=c26 d="M505 1765l-3 201 2-217 14 93z"/><path class=c22 d="M1205 1708l-13 90 9 58 9 3z"/><path class=c47 d="M819 1812l-10-12 10-19 11 196z"/><path class=c20 d="M1247 1720l-12 67 2 217 16-169z"/><path class=c44 d="M738 1795l-9 73 10 38 11 26z"/><path class=c33 d="M557 1815l-9 43 10 8 9-25z"/><path class=c24 d="M1201 1856l-10 29 15-136 6 108z"/><path class=c35 d="M590 1886l-8 88 1-287 13 77z"/><path class=c49 d="M880 1864l-10-13 10 211 11-220z"/><path class=c39 d="M1093 1835l-13 149 12-84 11-76z"/><path class=c40 d="M659 1928l-10 11 7-123 13 128z"/><path class=c38 d="M1012 1736l-12 112 10 67 12-134z"/><path class=c36 d="M656 1816l-7 155 10-3 11 31z"/><path class=c21 d="M1192 1798l-7-67 6 154 10-29z"/><path class=c37 d="M670 1999l-11-31 9-43 10 0z"/><path class=c30 d="M1152 1850l-10 3 11-7 9 7zM1144 1839l-15 162 15-134 9 21z"/><path class=c46 d="M1042 1841l-12 102 13-119 9 37z"/><path class=c31 d="M565 1804l-6 119 10 38 8-98z"/><path class=c41 d="M660 1936l-11-45 10 37 7-202z"/><path class=c49 d="M890 1951l-10-87 11-22 9 34z"/><path class=c24 d="M1212 1857l-6-108 8 91 5 98z"/><path class=c33 d="M971 1621l-12 205 12-150 9 76z"/><path class=c39 d="M1062 1817l-10 44 10 4 9 45z"/><path class=c46 d="M870 1853l-10 96 10-111 10-82z"/><path class=c38 d="M1032 1896l-9-58 8 158 11-80z"/><path class=c47 d="M666 1726l-7 202 10 16 10-8z"/><path class=c44 d="M679 1886l-13-160 13 210 10-16zM790 1964l-11-137 10-31 9-116z"/><path class=c48 d="M961 1879l-10 26 10 19 9 80z"/><path class=c42 d="M632 2038l-15-184 9-31 11-6z"/><path class=c45 d="M810 1920l-10 81 11 64 8-268z"/><path class=c28 d="M1162 1853l-9-7 6 136 17-229z"/><path class=c49 d="M850 1894l-10-20 10 9 10-21z"/><path class=c33 d="M1109 2070l-6-138 10-5 13-96z"/><path class=c38 d="M961 1924l-10 61 11-81 9 115z"/><path class=c45 d="M840 2042l-10-167 10 52 10 65z"/><path class=c47 d="M768 1774l-10-2 10 6 13 281z"/><path class=c34 d="M582 1974l-15-133 10-19 6-135z"/><path class=c39 d="M750 2015l-10-25 9-67 11 49zM829 1822l-10-160 10 156 10-138z"/><path class=c41 d="M958 2058l-8-214 11-66 12-157z"/><path class=c34 d="M587 1857l-10 6 11 36 10-5z"/><path class=c44 d="M989 2033l-8-131 12-77 9 39z"/><path class=c43 d="M1010 1958l-8-94 9 98 12-124z"/><path class=c34 d="M608 1860l-10 34 10 9 9-49z"/><path class=c44 d="M829 1759l-9 161 10 26 10-72z"/><path class=c47 d="M930 1947l-9-76 11-30 8 123z"/><path class=c51 d="M870 1851l-10-49 10 107 10 153z"/><path class=c20 d="M502 1966l-15-129 6-73 11-15z"/><path class=c40 d="M760 2043l-10-28 10-43 8-178z"/><path class=c36 d="M1142 1853l-10 20 12-34 9 7zM649 1971l-14-169 15 217 9-51z"/><path class=c31 d="M597 1823l-10 34 11 37 10-34z"/><path class=c37 d="M1023 1838l-12 124 12-87 8 121z"/><path class=c39 d="M1092 1900l-7-94 5 212 13-141z"/><path class=c45 d="M738 1826l-8 170 10 0 9-132z"/><path class=c43 d="M809 1800l-9 113 9-60 10-72z"/><path class=c46 d="M880 1756l-10 82 10 26 10 87zM940 1882l-9-35 10 2 10-22z"/><path class=c17 d="M1229 1898l-5-110 11-1 12-67z"/><path class=c33 d="M1112 1852l-9-28 11 0 6 136z"/><path class=c39 d="M1034 1865l-12 112 10 20 9 18z"/><path class=c40 d="M1041 1977l-7-112 7 150 12-85z"/><path class=c41 d="M1052 1811l-10 30 10 20 10-44z"/><path class=c45 d="M799 1781l-10 7 11 161 10 68z"/><path class=c44 d="M950 1844l-10 38 11-55 10-49z"/><path class=c45 d="M880 2062l-10-153 11-141 10 155z"/><path class=c41 d="M680 1995l-10 4 8-74 8-175z"/><path class=c44 d="M739 1906l-12-127 11 47 13 195z"/><path class=c37 d="M1031 1996l-8-121 11-10 7 112z"/><path class=c40 d="M1043 1824l-11 72 10 20 10-41z"/><path class=c45 d="M800 1949l-11-166 11 218 10-81zM920 1996l-8-293 9 168 9 76z"/><path class=c29 d="M567 1841l-9 25 7-62 12 18zM569 1961l-14-126 11 31 12 64z"/><path class=c38 d="M921 2012l-9-130 9 142 10-42z"/><path class=c26 d="M528 1865l-14-99 11 52 13 64z"/><path class=c42 d="M740 1996l-13-221 13 215 10 25z"/><path class=c43 d="M768 1778l-9 85 10 17 11 45z"/><path class=c45 d="M970 2004l-9-80 10 95 13-271z"/><path class=c38 d="M1092 1833l-9-24 10 26 10-15z"/><path class=c17 d="M1258 1678l-11 42 6 115 5 91zM1242 1798l-13 100 18-178 11-42z"/><path class=c39 d="M760 1972l-11-49 10 19 11 120zM840 1927l-9 144 10 15 9-276z"/><path class=c40 d="M1052 1861l-9-37 9 51 10-10z"/><path class=c35 d="M679 1839l-12-103 13 163 5-257z"/><path class=c36 d="M598 1894l-10 5 7-87 13 91z"/><path class=c33 d="M1053 1930l-12 85 10 19 14-206z"/><path class=c44 d="M759 1863l-8 158 6-290 12 149z"/><path class=c32 d="M1084 1888l-12 123 10 27 12-105z"/><path class=c44 d="M1023 1875l-12 151 11-49 12-112z"/><path class=c42 d="M891 2090l-10-149 10-4 10 40z"/><path class=c38 d="M728 1763l-9 35 8-77 11 33z"/><path class=c45 d="M840 1718l-10 225 10 99 10-129z"/><path class=c33 d="M739 1973l-9 125 9-78 11 33z"/><path class=c40 d="M901 1924l-10 166 10-113 11-95z"/><path class=c45 d="M870 1838l-10 24 10-11 10 13z"/><path class=c39 d="M748 1789l-10 6 12 137 8-160z"/><path class=c42 d="M760 1883l-12-94 10-17 10 2z"/><path class=c35 d="M1103 1820l-10 15 10-11 9 28z"/><path class=c42 d="M758 1772l-8 160 9-69 9-85z"/><path class=c43 d="M800 1913l-11-118 10-14 10 72z"/><path class=c38 d="M1060 2029l-7-99 12-102 8 106z"/><path class=c22 d="M518 1842l-14-93 10 17 14 99z"/><path class=c29 d="M1153 1888l-9-21 9 51 12-76z"/><path class=c43 d="M932 1883l-11 129 10-30 11-71z"/><path class=c29 d="M577 1822l-12-18 12 59 10-6z"/><path class=c46 d="M830 1943l-11-146 11 78 10 167z"/><path class=c37 d="M1094 1933l-12 105 10-4 14-137z"/><path class=c42 d="M768 1794l-8 178 10 90 10-102z"/><path class=c26 d="M514 1766l-4 175 5-125 10 2z"/><path class=c38 d="M649 1939l-13-135 13 167 7-155z"/><path class=c33 d="M1082 2038l-7-141 9 99 8 38z"/><path class=c45 d="M719 1899l-12-86 11 70 12 113z"/><path class=c30 d="M1173 1925l-6-119 7 115 8 58z"/><path class=c46 d="M830 1946l-10-37 10 34 10-225z"/><path class=c45 d="M780 1925l-11-45 10-18 10-74zM798 1680l-9 116 11 117 9-113z"/><path class=c38 d="M616 1845l-8 73 10 21 9-51z"/><path class=c30 d="M530 1979l-14-106 6-106 15 143z"/><path class=c50 d="M730 1996l-12-113 9-108 13 221z"/><path class=c36 d="M809 1827l-11-147 11 120 10 12z"/><path class=c46 d="M811 2065l-11-85 10-73 10-84z"/><path class=c29 d="M596 1764l-13-77 14 136 13 98z"/><path class=c46 d="M729 1868l-11-37 9-52 12 127z"/><path class=c43 d="M819 1781l-10 72 11 67 9-161z"/><path class=c33 d="M608 1918l-8 105 3-254 15 170z"/><path class=c38 d="M1022 1977l-9-30 11-44 8 94z"/><path class=c41 d="M1103 1824l-11 76 11-23 11-53z"/><path class=c44 d="M820 1909l-10 11 9-123 11 146z"/><path class=c37 d="M1032 1997l-8-94 9 66 9 47z"/><path class=c47 d="M881 1768l-10 78 9 255 11-123z"/><path class=c46 d="M951 1905l-9-94 9 174 10-61z"/><path class=c33 d="M1051 2034l-9-18 12-73 11-58z"/><path class=c41 d="M700 1957l-11-64 7-118 11 36z"/><path class=c46 d="M727 1779l-8 120 11 97 8-170z"/><path class=c47 d="M860 1802l-10 111 10 21 10-25z"/><path class=c42 d="M780 1960l-10 102 9-135 10-52z"/><path class=c43 d="M984 1748l-13 271 11-71 9 18z"/><path class=c40 d="M1011 2026l-7-234 9 155 9 30z"/><path class=c39 d="M659 1968l-9 51 5-239 13 145z"/><path class=c49 d="M840 1874l-10 72 10-228 10 165z"/><path class=c29 d="M551 1998l-14-88 5-152 13 77z"/><path class=c34 d="M1129 2067l-3-236 12-60 5 162z"/><path class=c43 d="M921 1883l-10 17 10 112 11-129z"/><path class=c35 d="M1062 1865l-10 10 15-198 3 314z"/><path class=c38 d="M931 1982l-10 42 11-113 10 41z"/><path class=c46 d="M871 1846l-10-11 10 122 9 144z"/><path class=c39 d="M617 1854l-9 49 8-58 10-22zM951 1985l-9-74 10 23 10-30z"/><path class=c49 d="M901 1881l-10 42 10-106 10 98z"/><path class=c42 d="M973 1621l-12 157 10 81 9 85z"/><path class=c35 d="M729 1980l-11-30 12 148 9-125z"/><path class=c40 d="M789 1918l-9 42 9-85 11 105z"/><path class=c39 d="M608 1903l-13-91 13 106 8-73z"/><path class=c24 d="M504 1749l-11 15 17 177 4-175z"/><path class=c46 d="M860 1862l-10 21 10-81 10 49z"/><path class=c40 d="M942 1952l-10-41 9 154 11-75z"/><path class=c48 d="M940 1964l-8-123 10-30 9 94z"/><path class=c51 d="M911 1900l-10 24 11-42 9 130z"/><path class=c44 d="M942 1911l-11 71 11-30 10-18z"/><path class=c35 d="M932 1911l-10 36 10 101 9 17z"/><path class=c39 d="M881 1941l-10 125 10-102 10-27z"/><path class=c32 d="M1072 2011l-7-126 10 12 7 141z"/><path class=c44 d="M921 1871l-10 44 10-32 11-42z"/><path class=c37 d="M971 2019l-9-115 11-71 9 115z"/><path class=c33 d="M750 2053l-11-33 10-39 11 67z"/><path class=c43 d="M991 1966l-9-18 10 43 12-199z"/><path class=c35 d="M1165 1842l-12 76 14-112 6 119z"/><path class=c33 d="M604 1840l-6 182 14 152 4-233z"/><path class=c37 d="M1065 1828l-14 206 14-149 7 126z"/><path class=c40 d="M710 2067l-12-118 11 57 9-56z"/><path class=c38 d="M637 1817l-11 6 10-19 13 135z"/><path class=c31 d="M583 1687l-6 135 10 35 10-34z"/><path class=c46 d="M751 2021l-13-195 11 38 8-133z"/><path class=c34 d="M1153 1918l-10 15 12-37 12-90z"/><path class=c26 d="M556 1879l-8 87 6-98 13 66z"/><path class=c45 d="M830 1875l-10-52 11 248 9-144z"/><path class=c40 d="M1052 1875l-10 41 9 38 16-277z"/><path class=c43 d="M831 2071l-11-179 10-118 11 312z"/><path class=c33 d="M677 1942l-9 43 11 75 10-23z"/><path class=c45 d="M871 1957l-10-103 10 212 10-125zM901 1817l-10 161 10-54 10-24z"/><path class=c35 d="M698 1949l-9 88 10-9 10-22z"/><path class=c45 d="M757 1731l-8 133 11 179 9-190z"/><path class=c43 d="M707 1813l-8 167 9-97 10 0z"/><path class=c41 d="M981 1902l-11 102 14-256 9 77z"/><path class=c44 d="M789 1795l-9 130 9-137 10-7z"/><path class=c38 d="M1075 1809l-15 220 13-95 13-170z"/><path class=c40 d="M1067 1677l-16 277 9 75 15-220z"/><path class=c42 d="M860 1934l-10 58 11-157 10 11z"/><path class=c34 d="M1073 1934l-8-106 7 183 12-123z"/><path class=c43 d="M689 1893l-9 102 6-245 10 25z"/><path class=c49 d="M699 1980l-13-196 13 177 9-78z"/><path class=c45 d="M942 1811l-10 72 10 28 9 74z"/><path class=c35 d="M922 2018l-10-13 10 75 10-74z"/><path class=c34 d="M595 1812l-13-97 18 308 8-105z"/><path class=c33 d="M636 1804l-9 84 8-86 14 169z"/><path class=c42 d="M911 1915l-10-98 10 83 10-17z"/><path class=c46 d="M1011 1962l-5-316 5 380 12-151z"/><path class=c44 d="M912 1882l-11 95 11-83 9 130z"/><path class=c34 d="M1042 2016l-9-47 12-62 9 36z"/><path class=c42 d="M627 1888l-9 51 9-44 8-93z"/><path class=c40 d="M952 1990l-11 75 12-116 10-54zM718 1831l-11-20 12 88 8-120z"/><path class=c37 d="M922 1947l-10 6 10 65 10 30z"/><path class=c46 d="M789 1788l-10 74 10-79 11 166z"/><path class=c30 d="M566 1866l-10 13 11 55 8-93z"/><path class=c48 d="M912 1703l-11 178 10 34 10-44z"/><path class=c44 d="M900 1876l-9-34 10 39 11-178z"/><path class=c38 d="M941 2065l-9-17 11-158 10 59z"/><path class=c41 d="M717 1834l-7 233 8-117 11 30z"/><path class=c35 d="M635 1802l-8 93 9-41 14 165z"/><path class=c47 d="M820 1823l-10 84 10-15 11 179zM819 1797l-8 268 9-242 10 52z"/><path class=c33 d="M542 1758l-6 145 12 63 8-87z"/><path class=c31 d="M584 1846l-7 116 10 25 10-16z"/><path class=c44 d="M891 1923l-10-155 10 210 10-161z"/><path class=c45 d="M800 1980l-11-105 11 50 10-18z"/><path class=c28 d="M616 1941l-4 233 3-235 10-35z"/><path class=c37 d="M666 1871l-8 110 9-79 12 98z"/><path class=c38 d="M626 1823l-10 22 11 43 9-84z"/><path class=c30 d="M597 1971l-10 16 11 35 6-182z"/><path class=c32 d="M1135 1905l-9-5 11-27 5 174zM588 1899l-10 31 4-215 13 97z"/><path class=c33 d="M1085 1806l-10 3 11-45 4 254z"/><path class=c50 d="M789 1783l-11-12 11 147 11 83z"/><path class=c38 d="M1024 1903l-10 30 9 50 10-14z"/><path class=c41 d="M697 1897l-10-8 11 60 12 118z"/><path class=c36 d="M628 1993l-14-144 17 264 2-331zM631 2113l-15-172 9-37 11 5z"/><path class=c48 d="M982 1948l-9-115 10 45 9 113zM870 1909l-10 25 11-88 10-78z"/><path class=c34 d="M861 2049l-10-21 10-81 10 78z"/><path class=c46 d="M769 1853l-9 190 8-249 10-23z"/><path class=c44 d="M769 1880l-12-149 12 122 10 9z"/><path class=c41 d="M718 1950l-9 56 8-143 13 235zM921 2024l-9-130 10 53 10-36z"/><path class=c47 d="M850 1883l-10-165 10 195 10-111z"/><path class=c32 d="M600 2023l-14-144 9-25 8-85z"/><path class=c37 d="M658 1981l-11-49 10 36 10-66z"/><path class=c33 d="M582 1715l-7 126 11 38 14 144z"/><path class=c39 d="M627 1895l-12-52 13 150 8-139z"/><path class=c35 d="M1092 2034l-8-38 12-73 11-52z"/><path class=c41 d="M912 1953l-10 36 10 16 10 13z"/><path class=c35 d="M1034 1964l-11 74 10 32 13-185z"/><path class=c39 d="M932 2048l-10-30 10-12 11-116z"/><path class=c38 d="M1033 1969l-10 14 11-19 11-57z"/><path class=c44 d="M850 1992l-10-65 10-117 11 25z"/><path class=c36 d="M686 1750l-8 175 8-141 13 196z"/><path class=c43 d="M952 1934l-10 18 10 38 12-177z"/><path class=c31 d="M1090 2018l-4-254 13-64 4 232z"/><path class=c37 d="M1070 1991l-3-314 8 132 10-3z"/><path class=c35 d="M1106 1897l-14 137 15-163 8 67z"/><path class=c36 d="M1046 1885l-13 185 11-18 11-54z"/><path class=c49 d="M740 1990l-11-51 8-165 12 149z"/><path class=c40 d="M707 1811l-11-36 11 38 12 86zM932 1841l-11 42 11 0 10-72z"/><path class=c34 d="M1113 1927l-8-44 12-68 7 99z"/><path class=c39 d="M689 2037l-10 23 6-230 14 198z"/><path class=c36 d="M687 1889l-10 53 12 95 9-88z"/><path class=c34 d="M851 1926l-10 11 10 91 10 21z"/><path class=c37 d="M1016 1842l-14 226 12-90 9 60z"/><path class=c29 d="M578 1930l-12-64 9-25 7-126z"/><path class=c37 d="M614 1849l-10-9 12 101 15 172z"/><path class=c32 d="M1149 1763l-14 142 7 142 15-181z"/><path class=c33 d="M633 1782l-2 331 5-204 11 23z"/><path class=c38 d="M841 1937l-11-38 11 224 10-95z"/><path class=c42 d="M679 2000l-12-98 10 40 10-53z"/><path class=c40 d="M730 2098l-13-235 11 83 11 74z"/><path class=c36 d="M667 1902l-10 66 11 17 9-43z"/><path class=c34 d="M1126 1831l-13 96 11-13 14-143z"/><path class=c30 d="M555 1835l-13-77 14 121 10-13z"/><path class=c31 d="M1103 1932l-4-232 6 183 8 44z"/><path class=c27 d="M537 1910l-15-143 14 136 6-145z"/><path class=c38 d="M727 1775l-10 46 12 118 11 51z"/><path class=c42 d="M1004 1792l-12 199 12-147 9 103z"/><path class=c44 d="M871 2066l-10-216 10 46 10 68z"/><path class=c40 d="M678 1925l-10 0 8-106 10-35z"/><path class=c34 d="M696 1775l-10-25 13 230 8-167z"/><path class=c40 d="M1023 1983l-7-141 7 196 11-74z"/><path class=c42 d="M778 1771l-10 23 12 166 9-42z"/><path class=c39 d="M1013 1947l-9-103 10 89 10-30z"/><path class=c38 d="M1006 1646l-15 320 13-174 7 234zM1002 1864l-9-39 13-179 5 316z"/><path class=c40 d="M687 1855l-8 145 8-111 10 8z"/><path class=c30 d="M618 1939l-15-170 12 74 12 52z"/><path class=c38 d="M871 1896l-10 153 10-24 10-102z"/><path class=c39 d="M1075 1897l-10 11 10 40 9 48z"/><path class=c43 d="M964 1813l-12 177 11-95 9 90z"/><path class=c41 d="M912 2005l-10-48 10 14 10 109z"/><path class=c32 d="M1124 1914l-7-99 9 85 9 5z"/><path class=c29 d="M575 1841l-8 93 5-157 14 102z"/><path class=c38 d="M932 2006l-10 74 11-106 10-30z"/><path class=c46 d="M820 1951l-10-50 10 47 10 60z"/><path class=c37 d="M647 1932l-11-23 10 33 11 26z"/><path class=c39 d="M851 2028l-10 95 10-217 10 41z"/><path class=c31 d="M1105 1883l-11 50 12-36 11-82z"/><path class=c40 d="M706 1813l-9 84 13 170 7-233z"/><path class=c36 d="M1023 2038l-9-60 13-139 6 231z"/><path class=c38 d="M676 1819l-10 52 13 129 8-145z"/><path class=c35 d="M708 1883l-9 78 7-148 11 8z"/><path class=c38 d="M760 2048l-11-67 10 1 10-59z"/><path class=c33 d="M1033 2070l-6-231 8 184 9 29z"/><path class=c43 d="M737 1774l-8 206 10-7 10-31z"/><path class=c26 d="M1167 1806l-12 90 15-136 4 161z"/><path class=c31 d="M1055 1998l-11 54 11-21 12-131z"/><path class=c42 d="M779 1862l-10-9 9-82 11 12z"/><path class=c43 d="M789 1875l-10 52 10-58 11 56z"/><path class=c44 d="M770 2062l-11-120 8-277 12 262z"/><path class=c43 d="M983 1878l-11 107 11-40 11-106z"/><path class=c40 d="M699 1961l-12-106 10 42 9-84z"/><path class=c33 d="M1065 1885l-11 58 11-35 10-11z"/><path class=c46 d="M749 1923l-12-149 12 168 10 0z"/><path class=c28 d="M1143 1933l-5-162 11-8 6 133z"/><path class=c43 d="M800 1925l-11-56 11 158 9-211z"/><path class=c32 d="M1117 1815l-11 82 9 41 11-38z"/><path class=c37 d="M739 2020l-11-74 10 5 11 30z"/><path class=c46 d="M809 1816l-9 211 10-126 10 50z"/><path class=c44 d="M992 1991l-9-113 11-39 10 5z"/><path class=c43 d="M962 1904l-10 30 12-121 9 20z"/><path class=c45 d="M901 1977l-10-40 11-127 10 84z"/><path class=c42 d="M718 1883l-10 0 9-62 10-46z"/><path class=c36 d="M650 2019l-14-165 8-78 11 4z"/><path class=c33 d="M1099 1700l-15 188 10 45 11-50z"/><path class=c32 d="M1044 2052l-9-29 13-131 7 139z"/><path class=c36 d="M686 1784l-10 35 11 36 12 106z"/><path class=c45 d="M810 1907l-10 18 9-109 11 76z"/><path class=c39 d="M749 1981l-11-30 11 68 10-37z"/><path class=c40 d="M749 1942l-10 31 11 80 6-355z"/><path class=c43 d="M756 1698l-6 355 10-5 9-117z"/><path class=c45 d="M902 1989l-10-85 10 53 10 48z"/><path class=c41 d="M830 2008l-10-60 10-49 11 38z"/><path class=c36 d="M738 1951l-8 141 8-162 11 89z"/><path class=c45 d="M861 1850l-10 76 10 123 10-153z"/><path class=c47 d="M861 1835l-11-25 11 44 10 103z"/><path class=c39 d="M1002 2068l-7-146 11-46 8 102z"/><path class=c37 d="M729 1939l-12-105 12 146 8-206z"/><path class=c42 d="M668 1925l-13-145 11 91 10-52z"/><path class=c27 d="M615 1843l-12-65 11 71 14 144z"/><path class=c25 d="M567 1934l-13-66 9-49 9-42z"/><path class=c46 d="M972 1985l-9-90 12-78 8 128z"/><path class=c40 d="M973 1833l-9-20 8 172 11-107z"/><path class=c42 d="M800 2027l-11-96 10-80 11 50z"/><path class=c45 d="M840 1834l-10 174 11-71 10-11z"/><path class=c39 d="M1084 1996l-9-48 14-127 7 102z"/><path class=c25 d="M595 1854l-11-8 13 125 6-193z"/><path class=c42 d="M709 2006l-10 22 7-153 11-12z"/><path class=c28 d="M1138 1771l-14 143 11-9 14-142z"/><path class=c35 d="M1107 1871l-11 52 8 103 14-166z"/><path class=c32 d="M1126 1900l-11 38 14-101 8 36z"/><path class=c33 d="M1086 1764l-13 170 11-46 15-188z"/><path class=c37 d="M963 1948l-10 12 11-5 10 0z"/><path class=c44 d="M789 1869l-11-71 11 133 11 96z"/><path class=c43 d="M953 1949l-10-59 10 70 10-12z"/><path class=c39 d="M657 1968l-11-26 7-144 15 187z"/><path class=c42 d="M881 1964l-10-68 10 27 11-24z"/><path class=c40 d="M790 2017l-10 67 10-84 9-84z"/><path class=c31 d="M678 2052l-13-113 12 86 11 44z"/><path class=c39 d="M891 1937l-10 27 11-65 10-89z"/><path class=c40 d="M799 1851l-9 143 10-41 10 61z"/><path class=c38 d="M984 1899l-10 56 9 71 12-104z"/><path class=c37 d="M790 1994l-11-84 11 107 10-64z"/><path class=c42 d="M943 1890l-11 116 11-62 10 16z"/><path class=c43 d="M912 1894l-10-84 10 143 10-6z"/><path class=c32 d="M586 1879l-14-102 12 69 11 8z"/><path class=c40 d="M922 2080l-10-109 11-64 10 67z"/><path class=c34 d="M1054 1943l-9-36 12-71 8 72z"/><path class=c38 d="M717 1821l-11-8 11 21 12 105z"/><path class=c34 d="M655 1780l-11-4 14 205 8-110z"/><path class=c35 d="M790 2000l-10 66 10-54 10 39z"/><path class=c31 d="M780 2084l-12-173 12 155 10-66z"/><path class=c36 d="M644 1776l-11 6 14 150 11 49z"/><path class=c35 d="M636 1854l-8 139 5-211 11-6z"/><path class=c32 d="M993 1825l-9-77 7 218 15-320z"/><path class=c26 d="M572 1777l-9 42 14 143 7-116z"/><path class=c46 d="M850 1810l-9 276 9-381 11 149z"/><path class=c45 d="M902 1810l-10 89 10 90 10-36z"/><path class=c43 d="M892 1899l-11 24 11-19 10 85z"/><path class=c36 d="M1096 1923l-7-102 8 112 7 93z"/><path class=c48 d="M810 1901l-11-50 11 163 10-66z"/><path class=c34 d="M974 1955l-10 0 11-55 8 126z"/><path class=c42 d="M769 1931l-9 117 9-125 9-116z"/><path class=c41 d="M820 1948l-10 66 10-104 10-11z"/><path class=c37 d="M1014 1933l-8-132 10 41 7 141z"/><path class=c42 d="M830 1774l-10 177 10 57 10-174z"/><path class=c26 d="M1155 1896l-6-133 8 103 13-106z"/><path class=c36 d="M902 1981l-10 101 10-56 11-94z"/><path class=c35 d="M603 1778l-6 193 7-131 10 9z"/><path class=c40 d="M779 1910l-11-34 12 208 10-67z"/><path class=c37 d="M851 1906l-10 98 10 39 10-48z"/><path class=c41 d="M963 1895l-10 54 10-1 12-131z"/><path class=c34 d="M686 1914l-8 138 10 17 8-151z"/><path class=c44 d="M953 1960l-10-16 11 3 10 8z"/><path class=c38 d="M892 2082l-10-64 11-69 9 77z"/><path class=c43 d="M861 1854l-11-149 11 145 10 216z"/><path class=c32 d="M1067 1900l-12 131 13-120 7 103z"/><path class=c34 d="M1065 1908l-8-72 9 63 9 49z"/><path class=c35 d="M1045 1907l-11 57 12-79 11-49z"/><path class=c40 d="M810 2014l-10-61 10-31 10-12z"/><path class=c35 d="M799 1916l-9 84 10 51 10-28z"/><path class=c33 d="M1115 1938l-8-67 11-11 11-23z"/><path class=c40 d="M996 1754l-12 145 11 23 7 146z"/><path class=c35 d="M872 2007l-11-94 11 191 10-86z"/><path class=c36 d="M668 1985l-15-187 11 9 15 253z"/><path class=c42 d="M881 1923l-10 102 11-173 10 52zM728 1946l-13-159 15 305 8-141z"/><path class=c35 d="M882 1858l-10 149 10 11 10 64z"/><path class=c33 d="M716 1900l-7 186 9-27 11 0z"/><path class=c40 d="M820 1892l-11-76 11 135 10-177z"/><path class=c31 d="M603 1769l-8 85 8-76 12 65z"/><path class=c36 d="M1057 1836l-11 49 9 113 11-99z"/><path class=c40 d="M861 1995l-10 48 10-130 11 94z"/><path class=c39 d="M975 1817l-12 131 11 7 10-56z"/><path class=c40 d="M1004 1844l-10-5 12-38 8 132z"/><path class=c35 d="M882 2018l-10 86 10-90 11-65z"/><path class=c41 d="M810 1922l-11-6 11 107 10 7z"/><path class=c35 d="M759 1982l-10 37 9-70 10-73z"/><path class=c42 d="M995 1922l-12 104 12-111 11-39z"/><path class=c41 d="M800 1953l-10 64 9-101 11 6z"/><path class=c37 d="M727 1961l-11-61 13 159 10 30z"/><path class=c35 d="M841 2086l-11-312 10 60 10-129z"/><path class=c34 d="M730 2092l-14-213 11 82 11-31z"/><path class=c45 d="M841 2123l-11-368 11 249 10-98z"/><path class=c36 d="M1055 2031l-7-139 8 115 12-96z"/><path class=c35 d="M739 2089l-10-30 8-127 11 40z"/><path class=c44 d="M789 1931l-11-124 12 187 9-143z"/><path class=c32 d="M636 1909l-11-5 7-140 14 178z"/><path class=c40 d="M943 1944l-10 30 11-73 10 46z"/><path class=c36 d="M696 1918l-8 151 7-159 13 105z"/><path class=c43 d="M902 1957l-10-99 10 123 10-10z"/><path class=c40 d="M841 2004l-11-129 11 106 10 62z"/><path class=c37 d="M872 2104l-10-146 10 63 10-7z"/><path class=c43 d="M778 1807l-9 116 10-13 11 84z"/><path class=c33 d="M810 2023l-10 28 10-121 10 30z"/><path class=c35 d="M632 1764l-7 160 11 55 10-14z"/><path class=c39 d="M769 1923l-10 59 9-106 11 34z"/><path class=c36 d="M820 2030l-10-7 10-63 10-85z"/><path class=c44 d="M830 1899l-10 11 10-155 11 368z"/><path class=c38 d="M768 1876l-10 73 10-38 12 173z"/><path class=c33 d="M738 1930l-11 31 12 128 8-182z"/><path class=c34 d="M675 1884l-10 19 13 149 8-138z"/><path class=c39 d="M699 2028l-14-198 11 52 10-7z"/><path class=c41 d="M1006 1801l-10-47 6 314 14-226z"/><path class=c38 d="M964 1955l-10-8 10-17 11-30z"/><path class=c35 d="M688 2069l-11-44 8-84 10-31z"/><path class=c37 d="M933 1974l-10-67 10 110 11-116z"/><path class=c34 d="M780 2066l-12-138 11 71 11 13z"/><path class=c36 d="M749 2019l-11-89 9-23 11 42z"/><path class=c38 d="M800 2051l-10-39 10-5 10-77z"/><path class=c33 d="M1066 1899l-11 99 12-98 13-111z"/><path class=c36 d="M646 1965l-10 14 6-178 14 129z"/><path class=c39 d="M778 1798l-9 133 9-124 11 124z"/><path class=c43 d="M912 1971l-10 10 11-49 10-25z"/><path class=c35 d="M1027 1839l-10 30 8 117 10 37z"/><path class=c33 d="M625 1904l-10 35 10-15 7-160z"/><path class=c42 d="M954 1947l-10-46 10 98 10-69z"/><path class=c39 d="M892 1858l-10 0 10 224 10-101z"/><path class=c34 d="M665 1903l-11-7 11 43 13 113z"/><path class=c21 d="M852 2129l-11-113 11 225 10-182z"/><path class=c27 d="M679 2060l-15-253 11 77 10-54z"/><path class=c40 d="M964 1930l-10 69 12-136 8 177z"/><path class=c31 d="M708 2015l-13-105 14 176 7-186z"/><path class=c34 d="M747 1907l-8 182 9-117 10-35z"/><path class=c40 d="M871 2025l-10-78 11-142 10 47z"/><path class=c34 d="M790 2012l-11-13 10 12 11-4z"/><path class=c35 d="M1017 1869l-10 6 8 145 10-34z"/><path class=c42 d="M983 2026l-8-126 11-60 9 75z"/><path class=c41 d="M983 1945l-8-128 9 82 12-145z"/><path class=c35 d="M994 1839l-11 106 13-191 10 47z"/><path class=c34 d="M1007 1875l-11 29 9 95 10 21z"/><path class=c39 d="M1035 2023l-10-37 14-159 9 65z"/><path class=c31 d="M1075 1948l-9-49 14-110 9 32z"/><path class=c41 d="M986 1840l-12 200 11-31 11-105z"/><path class=c31 d="M646 1942l-14-178 14 201 7-167z"/><path class=c35 d="M1048 1892l-9-65 6 228 11-48z"/><path class=c36 d="M779 1927l-12-262 11 133 11 71z"/><path class=c41 d="M861 1947l-10-41 10 89 11-190z"/><path class=c36 d="M913 1932l-11 94 11-43 11-75z"/><path class=c41 d="M975 1900l-11 30 10 110 12-200z"/><path class=c43 d="M830 1875l-10 85 11 73 10-52z"/><path class=c42 d="M850 1705l-10 129 11 92 10-76zM1015 2020l-10-21 12-72 11-35z"/><path class=c38 d="M759 1942l-10 0 7-244 11-33z"/><path class=c42 d="M892 1904l-10-52 10 6 10 99z"/><path class=c40 d="M768 1911l-10 26 10-9 12 138z"/><path class=c36 d="M1014 1978l-8-102 11-7 10-30z"/><path class=c43 d="M923 1907l-10 25 11-24 9 109z"/><path class=c23 d="M862 2097l-10 32 10-70 10-45z"/><path class=c40 d="M974 2040l-8-177 10 45 9 101z"/><path class=c32 d="M800 2007l-11 4 11-43 10 72z"/><path class=c41 d="M851 2043l-10-62 10-94 10 26z"/><path class=c33 d="M653 1798l-7 167 10-35 8-123z"/><path class=c22 d="M841 2016l-10 99 10-69 11 195z"/><path class=c28 d="M998 1846l-14 337 12-175 10 31z"/><path class=c42 d="M820 1910l-10 12 10 108 10-275z"/><path class=c39 d="M716 1879l-8 136 8-115 11 61z"/><path class=c30 d="M709 2086l-15-217 12 65 12 125z"/><path class=c31 d="M986 1934l-11 97 9 152 14-337z"/><path class=c34 d="M1025 1986l-10 34 13-128 11-65z"/><path class=c37 d="M872 1805l-11 190 11 12 10-149z"/><path class=c40 d="M717 1863l-11 12 9-88 13 159z"/><path class=c36 d="M715 1787l-10 57 11 35 14 213z"/><path class=c41 d="M830 1755l-10 275 10-155 11 129z"/><path class=c38 d="M861 1913l-10-26 11 71 10 146z"/><path class=c34 d="M705 1844l-9 74 12 97 8-136z"/><path class=c32 d="M664 1807l-8 123 9-27 10-19z"/><path class=c22 d="M904 2031l-11 161 11-172 10 111z"/><path class=c37 d="M1039 1827l-11 65 9 96 8 67z"/><path class=c38 d="M862 1958l-11 46 11-16 10 33z"/><path class=c30 d="M685 1830l-10 54 11 30 10-32z"/><path class=c43 d="M902 2026l-9-77 10-74 10 108z"/><path class=c38 d="M758 1949l-11-42 11 30 10-26z"/><path class=c32 d="M789 2011l-10-57 11 139 10-125z"/><path class=c31 d="M975 2031l-9-64 12-131 6 347z"/><path class=c42 d="M944 1901l-11 116 13-254 8 236z"/><path class=c37 d="M696 1882l-10 32 10 4 9-74z"/><path class=c33 d="M984 2183l-6-347 8 212 10-40z"/><path class=c35 d="M1006 1876l-11 39 12-40 10-6z"/><path class=c34 d="M820 1878l-10 162 11-2 10-53z"/><path class=c32 d="M976 1908l-11 80 10 43 11-97z"/><path class=c38 d="M820 1960l-10-30 10-52 11 155z"/><path class=c41 d="M695 1910l-10 31 9-72 15 217z"/><path class=c31 d="M1080 1789l-13 111 8 114 17-267z"/><path class=c41 d="M913 2081l-10-98 11-32 10 29z"/><path class=c28 d="M656 1930l-14-129 12 95 11 7z"/><path class=c37 d="M810 1930l-10 77 10 33 10-162z"/><path class=c38 d="M996 1904l-11 105 13-217 7 207z"/><path class=c22 d="M831 2115l-10 24 10-59 10-34z"/><path class=c37 d="M729 2059l-11 0 6-271 13 144z"/><path class=c40 d="M810 2040l-10-72 10-53 11 123z"/><path class=c37 d="M841 1981l-10 52 10-187 10 41z"/><path class=c32 d="M851 1892l-10 69 11 168 10-32z"/><path class=c38 d="M913 1983l-10-108 10 206 11-211z"/><path class=c31 d="M995 1915l-9-75 10 64 11-29z"/><path class=c37 d="M779 1999l-11-86 11 41 10 57z"/><path class=c33 d="M872 1992l-10 105 10-83 11-45z"/><path class=c30 d="M924 1980l-10-29 10 52 10 61zM779 1954l-11-10 11 69 11 80z"/><path class=c32 d="M924 1908l-11 75 11-113 10 94z"/><path class=c34 d="M933 2017l-9-109 10 56 12-201z"/><path class=c33 d="M706 1875l-10 7 9-38 10-57z"/><path class=c37 d="M966 1863l-11 89 10 36 11-80z"/><path class=c27 d="M1089 1821l-9-32 12-42 5 186z"/><path class=c30 d="M862 1988l-11-96 11 205 10-105z"/><path class=c33 d="M767 1665l-11 33 13 233 9-133z"/><path class=c35 d="M935 1857l-11 123 10 84 11-78z"/><path class=c31 d="M1028 1892l-11 35 12-60 8 121z"/><path class=c39 d="M841 1846l-10 139 10-10 10 29z"/><path class=c40 d="M831 2033l-11-155 11 107 10-139z"/><path class=c35 d="M758 1937l-10 35 9-136 11 92z"/><path class=c21 d="M852 2241l-11-195 11-12 10-88z"/><path class=c36 d="M903 1875l-10-22 10 130 10 98z"/><path class=c37 d="M747 1946l-9 83 10 43 10-120zM851 2004l-10-29 10-83 11 96z"/><path class=c33 d="M924 1870l-11 211 11-101 11-123z"/><path class=c31 d="M790 2093l-11-80 10 19 10-180z"/><path class=c34 d="M985 2009l-9-101 10 26 12-142z"/><path class=c40 d="M954 1999l-8-236 9 189 11-89z"/><path class=c33 d="M915 1852l-11 179 10 100 10-33z"/><path class=c36 d="M882 1852l-10-47 10 53 10 0z"/><path class=c29 d="M934 2064l-10-61 11-16 11-69z"/><path class=c34 d="M946 1763l-12 201 11-20 10 8zM851 1887l-10-41 10 158 11-46zM893 1949l-11 65 11-161 10 22z"/><path class=c37 d="M872 2021l-10-33 10 4 11-169z"/><path class=c17 d="M842 2086l-11 26 11 51 10 37z"/><path class=c30 d="M810 2000l-10 53 10-19 11 105z"/><path class=c31 d="M935 1987l-11 111 12-133 9 63z"/><path class=c34 d="M978 1836l-11 69 8 247 11-104z"/><path class=c31 d="M737 1988l-11-67 12 108 9-83z"/><path class=c26 d="M821 2139l-11-105 11-7 10 53z"/><path class=c27 d="M914 2131l-10-111 10 100 11-184z"/><path class=c33 d="M768 1928l-11-92 11 77 11 86z"/><path class=c34 d="M718 2059l-12-125 10 26 8-172z"/><path class=c33 d="M1005 1999l-7-207 10 83 9 52z"/><path class=c24 d="M924 2098l-10 33 11-195 11 29z"/><path class=c26 d="M894 1924l-11-10 10 278 11-161z"/><path class=c27 d="M862 2059l-10 182 10-295 11-70z"/><path class=c32 d="M841 1961l-11-82 11 137 11 113z"/><path class=c36 d="M882 2014l-10 7 11-198 10 30z"/><path class=c26 d="M789 2009l-10 42 11 22 10-20z"/><path class=c24 d="M800 2053l-10 20 10 19 10-58z"/><path class=c30 d="M820 1857l-10 143 11 139 10-24z"/><path class=c36 d="M934 1964l-10-94 11-13 10 87z"/><path class=c37 d="M965 1988l-7-278 8 257 9 64z"/><path class=c30 d="M768 1913l-10 42 10-11 11 10z"/><path class=c39 d="M747 1878l-10 110 10-42 11 9z"/><path class=c34 d="M903 1983l-10-14 11-48 10 30z"/><path class=c33 d="M800 1968l-10 125 9-241 11 63zM831 1985l-10 53 9-286 11 223z"/><path class=c35 d="M748 1972l-11-40 10-54 10-42z"/><path class=c34 d="M924 2003l-9-151 9 246 11-111z"/><path class=c30 d="M768 1944l-10 8 10 19 11 42z"/><path class=c36 d="M945 1986l-11 78 12-146 11-85z"/><path class=c32 d="M955 1952l-10-8 13-234 7 278z"/><path class=c19 d="M873 1966l-11 75 11 77 10 19z"/><path class=c28 d="M758 1955l-11-9 11 6 10-8z"/><path class=c33 d="M967 1905l-11 30 11-7 8 224z"/><path class=c30 d="M1008 1875l-10-29 8 193 13-180z"/><path class=c32 d="M883 1823l-11 169 11-23 10 0z"/><path class=c27 d="M893 2192l-9-330 10 142 10 16z"/><path class=c29 d="M1017 1927l-9-52 11-16 10 8z"/><path class=c27 d="M946 1918l-11 69 10 41 11-93z"/><path class=c33 d="M799 1938l-10 71 11 44 10-53z"/><path class=c32 d="M724 1788l-8 172 10-39 11 67z"/><path class=c33 d="M893 1969l-10 0 11-45 10-3z"/><path class=c29 d="M737 1932l-13-144 13 200 10-110z"/><path class=c30 d="M758 1952l-10 120 8-214 12 113z"/><path class=c31 d="M757 1836l-10 42 11 77 10-42zM779 2013l-11-42 9-150 12 211z"/><path class=c35 d="M893 1853l-10-30 10 146 10 14z"/><path class=c36 d="M883 1969l-11 45 11-100 11 10z"/><path class=c31 d="M821 2038l-11-123 10 56 10-219zM904 2020l-10-16 11-72 9 188z"/><path class=c32 d="M830 1879l-10-22 11 258 10-99z"/><path class=c18 d="M852 2200l-10-37 10-150 11 16z"/><path class=c31 d="M914 1951l-10-30 11-69 9 151zM872 2014l-10 45 11-183 10 38zM998 1792l-12 142 12-88 10 29z"/><path class=c26 d="M799 1852l-10 180 10-94 11 18z"/><path class=c30 d="M945 1944l-10-87 10 129 13-276z"/><path class=c25 d="M852 1941l-10 145 10 114 11-189z"/><path class=c31 d="M810 1915l-11-63 11 104 10 15z"/><path class=c30 d="M810 2034l-10 58 10-157 11 92z"/><path class=c28 d="M894 2004l-11 133 11-142 11-63z"/><path class=c26 d="M904 1921l-10 3 10 107 11-179z"/><path class=c31 d="M789 2032l-12-211 12 188 10-71z"/><path class=c25 d="M883 2137l-10-19 11-241 10 118z"/><path class=c32 d="M862 1946l-10 88 10 7 11-75z"/><path class=c29 d="M841 1975l-11-223 11 209 10-69z"/><path class=c32 d="M883 1914l-10-38 11-14 9 330z"/><path class=c25 d="M831 2007l-11-31 11 136 11-26z"/><path class=c27 d="M862 2041l-10-100 11 70 10 107z"/><path class=c32 d="M958 1710l-13 276 12-153 9 134zM925 1936l-11 184 12-239 9 152z"/><path class=c29 d="M884 1862l-11 104 10 171 11-133z"/><path class=c27 d="M966 1967l-9-134 10 72 11-69z"/><path class=c30 d="M810 1956l-11-18 11 62 10-143z"/><path class=c32 d="M956 1935l-11 93 13-180 9 80z"/><path class=c29 d="M841 2046l-10 34 10-296 11 250z"/><path class=c28 d="M957 1833l-11 85 10 17 11-30z"/><path class=c33 d="M820 1971l-10-15 10-99 10 22z"/><path class=c22 d="M863 2011l-11 189 11-171 10-78z"/><path class=c29 d="M830 1752l-10 219 10-92 11 82z"/><path class=c27 d="M936 1965l-11-29 10 97 12-176z"/><path class=c28 d="M777 1821l-10 25 12 205 10-42z"/><path class=c26 d="M945 2028l-9-63 11-108 11-9z"/><path class=c32 d="M831 2080l-10-53 10-20 10-223z"/><path class=c26 d="M821 2027l-11-92 10 41 11 31z"/><path class=c32 d="M914 2120l-9-188 11-26 10-25z"/><path class=c25 d="M873 2118l-10-107 10-60 11-74zM905 1932l-11 63 11 39 11-128z"/><path class=c24 d="M852 2034l-11-250 11 157 10 100z"/><path class=c26 d="M873 1876l-11 70 11 20 11-104z"/><path class=c28 d="M894 1995l-10-118 10 133 11 24z"/><path class=c20 d="M768 1971l-12-113 11-12 10-25z"/><path class=c21 d="M873 1951l-10 78 11-32 10 48z"/><path class=c24 d="M841 1784l-10 223 11 79 10-145z"/><path class=c23 d="M884 1877l-11 74 11 94 10-35z"/><path class=c22 d="M863 2029l-11-16 11-152 11 136z"/></g></g>
<g id="p5"><path d="M1269.3 929.7L1021.2 1035.9L1007.5 758.2L1269.4 664.5Z" fill="#f2f2f2"/>
<path d="M1269.3 929.7L1514.7 1037.3L1528.4 759.5L1269.4 664.5Z" fill="#f9f9f9"/>
<path d="M1269.3 929.7L1021.2 1035.9L1266.1 1158.5L1514.7 1037.3Z" fill="#f5f5f5"/>
<path d="M1257.6 934.7L1503.0 1043.0M1257.6 934.7L1257.1 668.9M1280.9 934.8L1032.7 1041.6M1280.9 934.8L1281.6 668.9M1204.2 957.6L1449.6 1069.1M1204.2 957.6L1200.8 689.0M1333.7 958.0L1085.3 1067.9M1333.7 958.0L1337.2 689.3M1149.2 981.1L1394.6 1095.9M1149.2 981.1L1142.8 709.8M1388.1 981.8L1139.5 1095.1M1388.1 981.8L1394.5 710.4M1092.6 1005.3L1337.9 1123.5M1092.6 1005.3L1083.1 731.1M1444.0 1006.3L1195.3 1123.1M1444.0 1006.3L1453.6 732.1M1034.4 1030.2L1279.4 1152.0M1034.4 1030.2L1021.5 753.2M1501.6 1031.6L1253.0 1151.9M1501.6 1031.6L1514.5 754.4M1269.3 924.6L1020.9 1030.5M1269.3 924.6L1514.9 1032.0M1269.3 848.2L1017.0 950.7M1269.3 848.2L1518.9 952.1M1269.4 769.5L1012.9 868.3M1269.4 769.5L1523.0 869.7M1269.4 688.3L1008.7 783.2M1269.4 688.3L1527.2 784.5" stroke="#b3b3b3" stroke-width="1.70" fill="none"/>
<path d="M1021.2 1035.9L1266.1 1158.5M1514.7 1037.3L1266.1 1158.5M1021.2 1035.9L1007.5 758.2M1034.8 1040.7L1027.4 1043.9M1500.9 1042.1L1508.2 1045.3M1087.4 1067.0L1080.0 1070.3M1447.5 1068.1L1454.8 1071.4M1141.6 1094.1L1134.2 1097.5M1392.5 1094.9L1399.8 1098.3M1197.5 1122.1L1190.0 1125.6M1335.8 1122.5L1343.1 1126.0M1255.1 1150.9L1247.7 1154.5M1277.3 1151.0L1284.7 1154.6M1015.6 1032.7L1023.1 1029.6M1011.6 952.9L1019.1 949.8M1007.4 870.4L1015.1 867.5M1003.1 785.2L1010.9 782.4" stroke="#000" stroke-width="2.60" fill="none" stroke-linejoin="round"/>
<text class=d transform="translate(945.4 802.3) scale(0.790 1)" y="16.9">6000</text>
<text class=d transform="translate(948.5 886.4) scale(0.790 1)" y="16.9">4000</text>
<text class=d transform="translate(954.4 969.5) scale(0.790 1)" y="16.9">2000</text>
<text class=d transform="translate(959.1 1049.9) scale(0.790 1)" y="16.9">0</text>
<text class=d transform="translate(1003.6 1108.8) scale(0.790 1)" y="16.9">−5.0</text>
<text class=d transform="translate(1056.2 1136.2) scale(0.790 1)" y="16.9">−2.5</text>
<text class=d transform="translate(1109.5 1163.5) scale(0.790 1)" y="16.9">0.0</text>
<text class=d transform="translate(1164.8 1192.2) scale(0.790 1)" y="16.9">2.5</text>
<text class=d transform="translate(1221.9 1221.3) scale(0.790 1)" y="16.9">5.0</text>
<text class=d transform="translate(1308.8 1222.0) scale(0.790 1)" y="16.9">5.0</text>
<text class=d transform="translate(1367.3 1192.9) scale(0.790 1)" y="16.9">2.5</text>
<text class=d transform="translate(1423.4 1165.2) scale(0.790 1)" y="16.9">0.0</text>
<text class=d transform="translate(1478.4 1137.2) scale(0.790 1)" y="16.9">−2.5</text>
<text class=d transform="translate(1531.6 1111.3) scale(0.790 1)" y="16.9">−5.0</text>
<text class=fi x="938.6" y="1219.6">f</text>
<text class=fs transform="translate(962.7 1228.0) scale(1.1 1)">5</text>
<g class="s" opacity="0.90" transform="scale(0.50)"><path class=c10 d="M2538 1814l-11 22 11 19 10-22z"/><path class=c8 d="M2527 1836l-11 16 11 19 11-16z"/><path class=c12 d="M2527 1792l-11 22 11 22 11-22z"/><path class=c10 d="M2516 1814l-11 16 11 22 11-16z"/><path class=c9 d="M2548 1833l-10 22 10 16 11-22z"/><path class=c7 d="M2538 1855l-11 16 10 16 11-16zM2516 1852l-11 12 11 19 11-12z"/><path class=c14 d="M2516 1766l-10 22 10 26 11-22z"/><path class=c13 d="M2506 1788l-11 16 10 26 11-16z"/><path class=c7 d="M2559 1849l-11 22 11 14 11-22z"/><path class=c6 d="M2548 1871l-11 16 11 14 11-16z"/><path class=c9 d="M2505 1830l-10 12 10 22 11-12z"/><path class=c13 d="M2549 1784l-11 30 10 19 11-30z"/><path class=c6 d="M2527 1871l-11 12 11 16 10-12z"/><path class=c14 d="M2538 1762l-11 30 11 22 11-30z"/><path class=c11 d="M2559 1803l-11 30 11 16 11-30zM2495 1804l-11 12 11 26 10-12z"/><path class=c5 d="M2537 1887l-10 12 10 14 11-12z"/><path class=c17 d="M2527 1736l-11 30 11 26 11-30z"/><path class=c10 d="M2570 1819l-11 30 11 14 11-30z"/><path class=c6 d="M2570 1863l-11 22 11 12 11-22z"/><path class=c5 d="M2559 1885l-11 16 11 12 11-16z"/><path class=c7 d="M2505 1864l-11 9 11 19 11-9z"/><path class=c17 d="M2506 1736l-11 22 11 30 10-22z"/><path class=c15 d="M2495 1758l-11 16 11 30 11-16z"/><path class=c9 d="M2495 1842l-11 8 10 23 11-9z"/><path class=c5 d="M2516 1883l-11 9 11 16 11-9z"/><path class=c4 d="M2548 1901l-11 12 11 11 11-11z"/><path class=c9 d="M2581 1833l-11 30 11 12 10-30z"/><path class=c14 d="M2484 1774l-11 11 11 31 11-12z"/><path class=c11 d="M2484 1816l-11 9 11 25 11-8z"/><path class=c19 d="M2516 1706l-10 30 10 30 11-30z"/><path class=c6 d="M2581 1875l-11 22 10 10 11-22z"/><path class=c4 d="M2570 1897l-11 16 11 10 10-16z"/><path class=c16 d="M2559 1744l-10 40 10 19 11-40z"/><path class=c18 d="M2549 1721l-11 41 11 22 10-40z"/><path class=c15 d="M2570 1763l-11 40 11 16 11-40z"/><path class=c6 d="M2494 1873l-10 7 10 19 11-7z"/><path class=c8 d="M2484 1850l-11 8 11 22 10-7z"/><path class=c3 d="M2559 1913l-11 11 11 10 11-11zM2537 1913l-11 9 11 11 11-9z"/><path class=c5 d="M2505 1892l-11 7 11 16 11-7z"/><path class=c20 d="M2495 1701l-11 22 11 35 11-22z"/><path class=c19 d="M2484 1723l-11 16 11 35 11-16z"/><path class=c8 d="M2591 1845l-10 30 10 10 11-30z"/><path class=c20 d="M2538 1695l-11 41 11 26 11-41z"/><path class=c14 d="M2473 1785l-11 9 11 31 11-9z"/><path class=c13 d="M2581 1779l-11 40 11 14 11-40z"/><path class=c10 d="M2473 1825l-11 7 11 26 11-8z"/><path class=c5 d="M2591 1885l-11 22 11 8 11-22z"/><path class=c4 d="M2516 1908l-11 7 11 14 10-7zM2580 1907l-10 16 10 8 11-16z"/><path class=c17 d="M2473 1739l-11 11 11 35 11-11z"/><path class=c23 d="M2506 1671l-11 30 11 35 10-30z"/><path class=c12 d="M2592 1793l-11 40 10 12 11-41z"/><path class=c2 d="M2548 1924l-11 9 11 11 11-10z"/><path class=c23 d="M2527 1665l-11 41 11 30 11-41z"/><path class=c2 d="M2570 1923l-11 11 10 9 11-12z"/><path class=c6 d="M2484 1880l-11 6 10 19 11-6z"/><path class=c8 d="M2602 1855l-11 30 11 8 11-30zM2473 1858l-11 5 11 23 11-6z"/><path class=c13 d="M2462 1794l-11 7 11 31 11-7z"/><path class=c5 d="M2494 1899l-11 6 11 16 11-6z"/><path class=c17 d="M2462 1750l-11 9 11 35 11-9z"/><path class=c5 d="M2602 1893l-11 22 11 8 11-22z"/><path class=c3 d="M2591 1915l-11 16 11 8 11-16z"/><path class=c10 d="M2462 1832l-11 5 11 26 11-5z"/><path class=c12 d="M2602 1804l-11 41 11 10 11-41z"/><path class=c3 d="M2505 1915l-11 6 11 14 11-6z"/><path class=c24 d="M2484 1660l-11 22 11 41 11-22z"/><path class=c22 d="M2473 1682l-11 16 11 41 11-16z"/><path class=c2 d="M2559 1934l-11 10 11 8 10-9zM2580 1931l-11 12 11 8 11-12z"/><path class=c7 d="M2613 1863l-11 30 11 8 11-30z"/><path class=c26 d="M2517 1629l-11 42 10 35 11-41z"/><path class=c21 d="M2570 1689l-11 55 11 19 11-55zM2462 1698l-11 12 11 40 11-11z"/><path class=c6 d="M2473 1886l-11 5 10 19 11-5z"/><path class=c23 d="M2560 1666l-11 55 10 23 11-55z"/><path class=c27 d="M2495 1630l-11 30 11 41 11-30z"/><path class=c20 d="M2581 1708l-11 55 11 16 11-55z"/><path class=c13 d="M2451 1801l-11 6 11 30 11-5z"/><path class=c16 d="M2451 1759l-11 7 11 35 11-7z"/><path class=c8 d="M2462 1863l-11 6 11 22 11-5z"/><path class=c4 d="M2483 1905l-11 5 11 16 11-5z"/><path class=c11 d="M2613 1814l-11 41 11 8 11-40z"/><path class=c5 d="M2613 1901l-11 22 11 6 11-22z"/><path class=c3 d="M2602 1923l-11 16 11 6 11-16z"/><path class=c25 d="M2549 1640l-11 55 11 26 11-55z"/><path class=c18 d="M2592 1724l-11 55 11 14 11-55z"/><path class=c1 d="M2548 1944l-11 7 11 8 11-7zM2569 1943l-10 9 10 8 11-9z"/><path class=c10 d="M2451 1837l-11 6 11 26 11-6z"/><path class=c3 d="M2494 1921l-11 5 11 14 11-5z"/><path class=c21 d="M2451 1710l-11 9 11 40 11-9z"/><path class=c2 d="M2591 1939l-11 12 11 6 11-12z"/><path class=c7 d="M2624 1871l-11 30 11 6 11-29z"/><path class=c17 d="M2603 1738l-11 55 10 11 12-54z"/><path class=c28 d="M2538 1610l-11 55 11 30 11-55z"/><path class=c16 d="M2440 1766l-11 6 11 35 11-6z"/><path class=c11 d="M2624 1823l-11 40 11 8 11-41z"/><path class=c6 d="M2462 1891l-11 5 10 19 11-5z"/><path class=c13 d="M2440 1807l-11 5 11 31 11-6z"/><path class=c8 d="M2451 1869l-11 4 11 23 11-5z"/><path class=c4 d="M2472 1910l-11 5 11 16 11-5z"/><path class=c30 d="M2506 1589l-11 41 11 41 11-42z"/><path class=c1 d="M2559 1952l-11 7 11 8 10-7z"/><path class=c4 d="M2624 1907l-11 22 11 6 11-22z"/><path class=c3 d="M2613 1929l-11 16 11 6 11-16z"/><path class=c1 d="M2580 1951l-11 9 11 6 11-9z"/><path class=c20 d="M2440 1719l-11 7 11 40 11-7z"/><path class=c10 d="M2440 1843l-11 4 11 26 11-4z"/><path class=c17 d="M2614 1750l-12 54 11 10 11-54z"/><path class=c3 d="M2483 1926l-11 5 11 14 11-5z"/><path class=c2 d="M2602 1945l-11 12 11 6 11-12z"/><path class=c7 d="M2635 1878l-11 29 11 6 11-30z"/><path class=c11 d="M2635 1830l-11 41 11 7 11-41z"/><path class=c31 d="M2527 1574l-10 55 10 36 11-55z"/><path class=c16 d="M2429 1772l-11 5 11 35 11-5z"/><path class=c13 d="M2429 1812l-11 5 11 30 11-4z"/><path class=c6 d="M2451 1896l-11 5 10 19 11-5z"/><path class=c1 d="M2569 1960l-10 7 10 7 11-8zM2548 1959l-11 6 11 8 11-6z"/><path class=c8 d="M2440 1873l-11 5 11 23 11-5z"/><path class=c4 d="M2461 1915l-11 5 11 16 11-5z"/><path class=c16 d="M2624 1760l-11 54 11 9 11-55z"/><path class=c4 d="M2635 1913l-11 22 11 6 10-22z"/><path class=c3 d="M2624 1935l-11 16 11 6 11-16z"/><path class=c1 d="M2591 1957l-11 9 11 6 11-9z"/><path class=c20 d="M2429 1726l-11 6 11 40 11-6z"/><path class=c10 d="M2429 1847l-11 5 11 26 11-5z"/><path class=c3 d="M2472 1931l-11 5 11 14 11-5z"/><path class=c2 d="M2613 1951l-11 12 11 6 11-12z"/><path class=c7 d="M2646 1883l-11 30 10 6 11-30z"/><path class=c10 d="M2646 1837l-11 41 11 5 11-40z"/><path class=c16 d="M2418 1777l-11 5 11 35 11-5z"/><path class=c2 d="M2483 1945l-11 5 11 12 11-5z"/><path class=c16 d="M2635 1768l-11 55 11 7 11-54z"/><path class=c1 d="M2559 1967l-11 6 10 7 11-6zM2580 1966l-11 8 11 6 11-8z"/><path class=c28 d="M2582 1616l-12 73 11 19 11-73z"/><path class=c13 d="M2418 1817l-11 5 11 30 11-5z"/><path class=c6 d="M2440 1901l-11 4 10 19 11-4z"/><path class=c30 d="M2571 1593l-11 73 10 23 12-73z"/><path class=c8 d="M2429 1878l-11 5 11 22 11-4z"/><path class=c26 d="M2592 1635l-11 73 11 16 11-73z"/><path class=c35 d="M2517 1533l-11 56 11 40 10-55z"/><path class=c4 d="M2450 1920l-11 4 11 17 11-5zM2645 1919l-10 22 10 5 11-22z"/><path class=c1 d="M2602 1963l-11 9 11 6 11-9z"/><path class=c3 d="M2635 1941l-11 16 11 5 10-16z"/><path class=c20 d="M2418 1732l-11 5 11 40 11-5z"/><path class=c32 d="M2560 1567l-11 73 11 26 11-73z"/><path class=c25 d="M2603 1651l-11 73 11 14 11-73z"/><path class=c10 d="M2418 1852l-11 5 11 26 11-5z"/><path class=c3 d="M2461 1936l-11 5 11 14 11-5z"/><path class=c1 d="M2624 1957l-11 12 11 5 11-12z"/><path class=c7 d="M2656 1889l-11 30 11 5 11-30z"/><path class=c10 d="M2657 1843l-11 40 10 6 12-41z"/><path class=c16 d="M2646 1776l-11 54 11 7 11-55z"/><path class=c0 d="M2569 1974l-11 6 11 6 11-6z"/><path class=c24 d="M2614 1665l-11 73 11 12 11-73z"/><path class=c16 d="M2407 1782l-11 5 11 35 11-5z"/><path class=c2 d="M2472 1950l-11 5 11 12 11-5z"/><path class=c0 d="M2591 1972l-11 8 11 5 11-7z"/><path class=c35 d="M2549 1536l-11 74 11 30 11-73z"/><path class=c13 d="M2407 1822l-11 4 11 31 11-5z"/><path class=c6 d="M2429 1905l-12 5 11 19 11-5z"/><path class=c8 d="M2418 1883l-11 5 10 22 12-5z"/><path class=c1 d="M2613 1969l-11 9 11 5 11-9z"/><path class=c4 d="M2439 1924l-11 5 11 17 11-5zM2656 1924l-11 22 11 5 11-22z"/><path class=c20 d="M2407 1737l-11 4 11 41 11-5z"/><path class=c3 d="M2645 1946l-10 16 10 5 11-16z"/><path class=c10 d="M2407 1857l-11 5 11 26 11-5z"/><path class=c3 d="M2450 1941l-11 5 11 14 11-5z"/><path class=c24 d="M2625 1677l-11 73 10 10 12-73z"/><path class=c1 d="M2635 1962l-11 12 11 5 10-12z"/><path class=c7 d="M2667 1894l-11 30 11 5 11-30z"/><path class=c10 d="M2668 1848l-12 41 11 5 12-41z"/><path class=c15 d="M2657 1782l-11 55 11 6 11-55z"/><path class=c0 d="M2558 1980l-10 5 10 6 11-5zM2580 1980l-11 6 11 5 11-6z"/><path class=c38 d="M2538 1500l-11 74 11 36 11-74z"/><path class=c16 d="M2396 1787l-11 4 11 35 11-4z"/><path class=c0 d="M2602 1978l-11 7 11 5 11-7z"/><path class=c2 d="M2461 1955l-11 5 11 11 11-4z"/><path class=c13 d="M2396 1826l-11 5 11 31 11-5z"/><path class=c6 d="M2417 1910l-11 5 11 19 11-5z"/><path class=c8 d="M2407 1888l-12 5 11 22 11-5z"/><path class=c4 d="M2428 1929l-11 5 11 17 11-5z"/><path class=c1 d="M2624 1974l-11 9 11 5 11-9z"/><path class=c20 d="M2396 1741l-11 5 11 41 11-5z"/><path class=c4 d="M2667 1929l-11 22 11 5 11-22z"/><path class=c23 d="M2636 1687l-12 73 11 8 12-73z"/><path class=c3 d="M2656 1951l-11 16 11 5 11-16z"/><path class=c10 d="M2396 1862l-11 4 10 27 12-5z"/><path class=c3 d="M2439 1946l-11 5 11 13 11-4z"/><path class=c1 d="M2645 1967l-10 12 11 5 10-12z"/><path class=c7 d="M2678 1899l-11 30 11 5 11-30z"/><path class=c15 d="M2668 1788l-11 55 11 5 11-55z"/><path class=c10 d="M2679 1853l-12 41 11 5 12-41z"/><path class=c0 d="M2569 1986l-11 5 11 6 11-6zM2591 1985l-11 6 11 5 11-6z"/><path class=c16 d="M2385 1791l-11 5 11 35 11-5z"/><path class=c2 d="M2450 1960l-11 4 10 12 12-5z"/><path class=c0 d="M2613 1983l-11 7 11 5 11-7z"/><path class=c23 d="M2647 1695l-12 73 11 8 12-74z"/><path class=c13 d="M2385 1831l-11 5 11 30 11-4z"/><path class=c6 d="M2406 1915l-11 5 11 19 11-5z"/><path class=c8 d="M2395 1893l-11 4 11 23 11-5z"/><path class=c42 d="M2527 1459l-10 74 10 41 11-74z"/><path class=c4 d="M2417 1934l-11 5 11 16 11-4z"/><path class=c20 d="M2385 1746l-11 5 11 40 11-4z"/><path class=c1 d="M2635 1979l-11 9 11 5 11-9z"/><path class=c4 d="M2678 1934l-11 22 11 5 11-22z"/><path class=c2 d="M2667 1956l-11 16 11 5 11-16z"/><path class=c10 d="M2385 1866l-12 5 11 26 11-4z"/><path class=c3 d="M2428 1951l-11 4 11 14 11-5z"/><path class=c1 d="M2656 1972l-10 12 11 5 10-12z"/><path class=c7 d="M2689 1904l-11 30 11 5 12-30z"/><path class=c15 d="M2679 1793l-11 55 11 5 11-55z"/><path class=c10 d="M2690 1858l-12 41 11 5 12-41z"/><path class=c0 d="M2558 1991l-11 5 11 6 11-5zM2580 1991l-11 6 11 5 11-6zM2602 1990l-11 6 11 6 11-7z"/><path class=c22 d="M2658 1702l-12 74 11 6 12-73z"/><path class=c16 d="M2374 1796l-12 5 12 35 11-5z"/><path class=c2 d="M2439 1964l-11 5 10 12 11-5z"/><path class=c0 d="M2624 1988l-11 7 11 5 11-7z"/><path class=c13 d="M2374 1836l-12 5 11 30 12-5z"/><path class=c6 d="M2395 1920l-11 5 11 19 11-5z"/><path class=c8 d="M2384 1897l-11 5 11 23 11-5z"/><path class=c4 d="M2406 1939l-11 5 11 16 11-5z"/><path class=c20 d="M2374 1751l-11 4 11 41 11-5z"/><path class=c1 d="M2646 1984l-11 9 11 5 11-9z"/><path class=c4 d="M2689 1939l-11 22 11 5 11-22z"/><path class=c2 d="M2678 1961l-11 16 12 5 10-16z"/><path class=c37 d="M2593 1518l-11 98 10 19 12-97z"/><path class=c10 d="M2373 1871l-11 5 11 26 11-5z"/><path class=c3 d="M2417 1955l-11 5 10 14 12-5z"/><path class=c39 d="M2582 1496l-11 97 11 23 11-98z"/><path class=c36 d="M2604 1538l-12 97 11 16 12-97z"/><path class=c1 d="M2667 1977l-10 12 11 5 11-12z"/><path class=c15 d="M2690 1798l-11 55 11 5 11-55z"/><path class=c7 d="M2701 1909l-12 30 11 5 12-30z"/><path class=c22 d="M2669 1709l-12 73 11 6 12-73z"/><path class=c10 d="M2701 1863l-12 41 12 5 11-41z"/><path class=c0 d="M2569 1997l-11 5 11 5 11-5zM2591 1996l-11 6 11 5 11-5z"/><path class=c41 d="M2571 1469l-11 98 11 26 11-97z"/><path class=c34 d="M2615 1554l-12 97 11 14 12-97z"/><path class=c0 d="M2613 1995l-11 7 11 5 11-7z"/><path class=c16 d="M2362 1801l-11 4 11 36 12-5z"/><path class=c0 d="M2635 1993l-11 7 11 5 11-7z"/><path class=c13 d="M2362 1841l-11 5 11 30 11-5z"/><path class=c6 d="M2384 1925l-11 5 11 19 11-5z"/><path class=c8 d="M2373 1902l-11 5 11 23 11-5z"/><path class=c4 d="M2395 1944l-11 5 10 16 12-5z"/><path class=c20 d="M2363 1755l-12 5 11 41 12-5z"/><path class=c1 d="M2657 1989l-11 9 11 5 11-9z"/><path class=c4 d="M2700 1944l-11 22 12 5 11-22z"/><path class=c2 d="M2689 1966l-10 16 11 5 11-16z"/><path class=c33 d="M2626 1568l-12 97 11 12 12-97z"/><path class=c44 d="M2560 1438l-11 98 11 31 11-98z"/><path class=c10 d="M2362 1876l-11 5 11 26 11-5z"/><path class=c3 d="M2406 1960l-12 5 11 14 11-5z"/><path class=c1 d="M2679 1982l-11 12 11 5 11-12z"/><path class=c15 d="M2701 1803l-11 55 11 5 11-55z"/><path class=c7 d="M2712 1914l-12 30 12 5 11-30z"/><path class=c22 d="M2680 1715l-12 73 11 5 12-73z"/><path class=c0 d="M2580 2002l-11 5 11 5 11-5z"/><path class=c10 d="M2712 1868l-11 41 11 5 11-41z"/><path class=c0 d="M2602 2002l-11 5 11 5 11-5zM2624 2000l-11 7 11 5 11-7z"/><path class=c33 d="M2637 1580l-12 97 11 10 12-97z"/><path class=c16 d="M2351 1805l-11 5 11 36 11-5z"/><path class=c0 d="M2646 1998l-11 7 11 5 11-7z"/><path class=c13 d="M2351 1846l-11 4 11 31 11-5z"/><path class=c6 d="M2373 1930l-11 5 10 19 12-5z"/><path class=c8 d="M2362 1907l-11 5 11 23 11-5z"/><path class=c20 d="M2351 1760l-11 5 11 40 11-4z"/><path class=c4 d="M2384 1949l-12 5 11 16 11-5z"/><path class=c1 d="M2668 1994l-11 9 11 5 11-9z"/><path class=c4 d="M2712 1949l-11 22 11 5 11-22z"/><path class=c2 d="M2701 1971l-11 16 11 5 11-16z"/><path class=c47 d="M2549 1402l-11 98 11 36 11-98z"/><path class=c10 d="M2351 1881l-11 5 11 26 11-5z"/><path class=c32 d="M2648 1590l-12 97 11 8 12-97z"/><path class=c1 d="M2690 1987l-11 12 11 5 11-12z"/><path class=c22 d="M2691 1720l-12 73 11 5 12-73z"/><path class=c15 d="M2712 1808l-11 55 11 5 12-55z"/><path class=c7 d="M2723 1919l-11 30 11 5 11-30z"/><path class=c0 d="M2569 2007l-11 5 11 5 11-5zM2591 2007l-11 5 11 5 11-5z"/><path class=c10 d="M2723 1873l-11 41 11 5 11-41z"/><path class=c0 d="M2613 2007l-11 5 11 5 11-5zM2635 2005l-11 7 11 5 11-7z"/><path class=c16 d="M2340 1810l-11 5 11 35 11-4z"/><path class=c0 d="M2657 2003l-11 7 11 6 11-8z"/><path class=c13 d="M2340 1850l-12 5 12 31 11-5z"/><path class=c6 d="M2362 1935l-12 4 11 20 11-5z"/><path class=c8 d="M2351 1912l-12 5 11 22 12-4z"/><path class=c20 d="M2340 1765l-11 4 11 41 11-5z"/><path class=c4 d="M2372 1954l-11 5 11 16 11-5z"/><path class=c1 d="M2679 1999l-11 9 11 5 11-9z"/><path class=c4 d="M2723 1954l-11 22 11 5 11-22z"/><path class=c2 d="M2712 1976l-11 16 11 5 11-16z"/><path class=c32 d="M2659 1598l-12 97 11 7 12-96z"/><path class=c10 d="M2340 1886l-12 5 11 26 12-5z"/><path class=c51 d="M2539 1360l-12 99 11 41 11-98z"/><path class=c1 d="M2701 1992l-11 12 11 5 11-12z"/><path class=c22 d="M2702 1725l-12 73 11 5 12-73z"/><path class=c7 d="M2734 1924l-11 30 11 5 11-31z"/><path class=c15 d="M2724 1813l-12 55 11 5 12-55z"/><path class=c0 d="M2580 2012l-11 5 11 5 11-5zM2602 2012l-11 5 11 5 11-5z"/><path class=c10 d="M2734 1878l-11 41 11 5 11-42z"/><path class=c0 d="M2624 2012l-11 5 11 5 11-5zM2646 2010l-11 7 11 5 11-6z"/><path class=c16 d="M2329 1815l-12 5 11 35 12-5z"/><path class=c13 d="M2328 1855l-11 5 11 31 12-5z"/><path class=c0 d="M2668 2008l-11 8 11 5 11-8z"/><path class=c6 d="M2350 1939l-11 5 11 20 11-5z"/><path class=c8 d="M2339 1917l-11 5 11 22 11-5z"/><path class=c20 d="M2329 1769l-12 5 12 41 11-5z"/><path class=c31 d="M2670 1606l-12 96 11 7 12-97z"/><path class=c1 d="M2690 2004l-11 9 11 5 11-9z"/><path class=c4 d="M2734 1959l-11 22 11 5 11-22z"/><path class=c2 d="M2723 1981l-11 16 11 5 11-16z"/><path class=c10 d="M2328 1891l-11 4 11 27 11-5z"/><path class=c1 d="M2712 1997l-11 12 11 5 11-12z"/><path class=c22 d="M2713 1730l-12 73 11 5 12-74z"/><path class=c15 d="M2735 1818l-12 55 11 5 12-56z"/><path class=c7 d="M2745 1928l-11 31 11 5 11-31z"/><path class=c0 d="M2569 2017l-11 5 11 5 11-5zM2591 2017l-11 5 11 5 11-5z"/><path class=c10 d="M2745 1882l-11 42 11 4 12-41z"/><path class=c0 d="M2613 2017l-11 5 11 5 11-5zM2635 2017l-11 5 11 5 11-5zM2657 2016l-11 6 11 5 11-6z"/><path class=c16 d="M2317 1820l-11 4 11 36 11-5z"/><path class=c13 d="M2317 1860l-11 5 11 30 11-4z"/><path class=c0 d="M2679 2013l-11 8 11 5 11-8z"/><path class=c8 d="M2328 1922l-11 5 11 22 11-5z"/><path class=c31 d="M2681 1612l-12 97 11 6 12-97z"/><path class=c20 d="M2317 1774l-11 5 11 41 12-5z"/><path class=c1 d="M2701 2009l-11 9 11 5 11-9z"/><path class=c4 d="M2745 1964l-11 22 11 5 11-23z"/><path class=c2 d="M2734 1986l-11 16 11 5 11-16z"/><path class=c10 d="M2317 1895l-11 5 11 27 11-5z"/><path class=c1 d="M2723 2002l-11 12 11 5 11-12z"/><path class=c22 d="M2724 1734l-12 74 12 5 12-74z"/><path class=c15 d="M2746 1822l-12 56 11 4 12-55z"/><path class=c7 d="M2756 1933l-11 31 11 4 12-30z"/><path class=c0 d="M2580 2022l-11 5 11 5 11-5zM2602 2022l-11 5 11 5 11-5z"/><path class=c10 d="M2757 1887l-12 41 11 5 12-41z"/><path class=c0 d="M2624 2022l-11 5 11 5 11-5zM2646 2022l-11 5 11 5 11-5z"/><path class=c16 d="M2306 1824l-12 5 12 36 11-5z"/><path class=c0 d="M2668 2021l-11 6 11 5 11-6z"/><path class=c13 d="M2306 1865l-12 5 12 30 11-5z"/><path class=c0 d="M2690 2018l-11 8 11 5 11-8z"/><path class=c31 d="M2692 1618l-12 97 11 5 12-97z"/><path class=c8 d="M2317 1927l-12 4 11 23 12-5z"/><path class=c20 d="M2306 1779l-12 5 12 40 11-4z"/><path class=c1 d="M2712 2014l-11 9 11 5 11-9z"/><path class=c4 d="M2756 1968l-11 23 11 4 12-22z"/><path class=c3 d="M2745 1991l-11 16 11 4 11-16z"/><path class=c10 d="M2306 1900l-12 5 11 26 12-4z"/><path class=c1 d="M2734 2007l-11 12 12 5 10-13z"/><path class=c22 d="M2736 1739l-12 74 11 5 12-74z"/><path class=c15 d="M2757 1827l-12 55 12 5 12-55z"/><path class=c7 d="M2768 1938l-12 30 12 5 11-31z"/><path class=c0 d="M2591 2027l-11 5 11 5 11-5zM2613 2027l-11 5 11 5 11-5zM2635 2027l-11 5 11 5 11-5z"/><path class=c10 d="M2768 1892l-12 41 12 5 11-41z"/><path class=c0 d="M2657 2027l-11 5 11 5 11-5z"/><path class=c16 d="M2294 1829l-11 5 11 36 12-5z"/><path class=c0 d="M2679 2026l-11 6 11 5 11-6z"/><path class=c13 d="M2294 1870l-11 4 11 31 12-5z"/><path class=c0 d="M2701 2023l-11 8 11 5 11-8z"/><path class=c31 d="M2703 1623l-12 97 11 5 12-97z"/><path class=c20 d="M2294 1784l-11 4 11 41 12-5z"/><path class=c4 d="M2768 1973l-12 22 12 4 11-22z"/><path class=c3 d="M2756 1995l-11 16 12 4 11-16z"/><path class=c10 d="M2294 1905l-11 5 11 26 11-5z"/><path class=c22 d="M2747 1744l-12 74 11 4 12-73z"/><path class=c15 d="M2769 1832l-12 55 11 5 12-55z"/><path class=c0 d="M2580 2032l-11 5 11 5 11-5zM2602 2032l-11 5 11 5 11-5zM2624 2032l-11 5 11 5 11-5zM2646 2032l-11 5 11 5 11-5z"/><path class=c7 d="M2779 1942l-11 31 11 4 11-31z"/><path class=c0 d="M2668 2032l-11 5 11 5 11-5z"/><path class=c10 d="M2779 1897l-11 41 11 4 12-41z"/><path class=c16 d="M2283 1834l-11 5 11 35 11-4z"/><path class=c0 d="M2690 2031l-11 6 12 5 10-6z"/><path class=c13 d="M2283 1874l-12 5 12 31 11-5z"/><path class=c31 d="M2714 1628l-12 97 11 5 13-98z"/><path class=c20 d="M2283 1788l-11 5 11 41 11-5z"/><path class=c10 d="M2283 1910l-12 5 11 26 12-5z"/><path class=c4 d="M2779 1977l-11 22 11 3 11-22z"/><path class=c22 d="M2758 1749l-12 73 11 5 13-74z"/><path class=c15 d="M2780 1837l-12 55 11 5 12-55z"/><path class=c0 d="M2591 2037l-11 5 11 5 11-5zM2613 2037l-11 5 11 5 11-5zM2635 2037l-11 5 11 5 11-5zM2657 2037l-11 5 12 6 10-6zM2679 2037l-11 5 12 5 11-5z"/><path class=c16 d="M2272 1839l-12 5 11 35 12-5z"/><path class=c10 d="M2791 1901l-12 41 11 4 12-41z"/><path class=c7 d="M2790 1946l-11 31 11 3 12-30z"/><path class=c13 d="M2271 1879l-11 5 11 31 12-5z"/><path class=c31 d="M2726 1632l-13 98 11 4 13-97z"/><path class=c20 d="M2272 1793l-12 5 12 41 11-5z"/><path class=c5 d="M2790 1980l-11 22 12 3 11-23z"/><path class=c22 d="M2770 1753l-13 74 12 5 12-74z"/><path class=c15 d="M2791 1842l-12 55 12 4 12-55z"/><path class=c0 d="M2602 2042l-11 5 11 5 11-5zM2624 2042l-11 5 11 5 11-5zM2646 2042l-11 5 12 6 11-5zM2668 2042l-10 6 11 4 11-5z"/><path class=c16 d="M2260 1844l-12 4 12 36 11-5z"/><path class=c13 d="M2260 1884l-12 5 12 31 11-5z"/><path class=c10 d="M2802 1905l-12 41 12 4 11-42z"/><path class=c31 d="M2737 1637l-13 97 12 5 12-97z"/><path class=c7 d="M2802 1950l-12 30 12 2 11-30z"/><path class=c20 d="M2260 1798l-12 4 12 42 12-5z"/><path class=c22 d="M2781 1758l-12 74 11 5 12-74z"/><path class=c0 d="M2591 2047l-11 5 11 5 11-5zM2613 2047l-11 5 11 6 11-6zM2635 2047l-11 5 12 6 11-5z"/><path class=c15 d="M2803 1846l-12 55 11 4 12-55z"/><path class=c0 d="M2658 2048l-11 5 11 4 11-5z"/><path class=c16 d="M2248 1848l-11 5 11 36 12-5z"/><path class=c13 d="M2248 1889l-11 4 11 31 12-4z"/><path class=c31 d="M2748 1642l-12 97 11 5 13-98z"/><path class=c20 d="M2248 1802l-11 5 11 41 12-4z"/><path class=c11 d="M2813 1908l-11 42 11 2 12-41z"/><path class=c8 d="M2813 1952l-11 30 11 2 12-31z"/><path class=c22 d="M2792 1763l-12 74 11 5 13-75z"/><path class=c0 d="M2602 2052l-11 5 11 6 11-5zM2624 2052l-11 6 12 5 11-5z"/><path class=c16 d="M2237 1853l-12 5 12 35 11-4z"/><path class=c15 d="M2814 1850l-12 55 11 3 13-55z"/><path class=c31 d="M2760 1646l-13 98 11 5 13-98z"/><path class=c20 d="M2237 1807l-12 5 12 41 11-5z"/><path class=c11 d="M2825 1911l-12 41 12 1 12-41z"/><path class=c8 d="M2825 1953l-12 31 12-1 11-30z"/><path class=c22 d="M2804 1767l-13 75 12 4 12-74z"/><path class=c16 d="M2225 1858l-11 3 11 36 12-4z"/><path class=c31 d="M2771 1651l-13 98 12 4 13-98z"/><path class=c16 d="M2826 1853l-13 55 12 3 12-56z"/><path class=c20 d="M2225 1812l-11 4 11 42 12-5z"/><path class=c12 d="M2837 1912l-12 41 11 0 12-42z"/><path class=c22 d="M2815 1772l-12 74 11 4 13-75z"/><path class=c16 d="M2214 1861l-12 3 11 36 12-3z"/><path class=c9 d="M2836 1953l-11 30 12-2 11-30z"/><path class=c31 d="M2783 1655l-13 98 11 5 13-98z"/><path class=c20 d="M2214 1816l-12 4 12 41 11-3z"/><path class=c16 d="M2837 1855l-12 56 12 1 12-56z"/><path class=c22 d="M2827 1775l-13 75 12 3 12-75z"/><path class=c31 d="M2794 1660l-13 98 11 5 14-98z"/><path class=c12 d="M2848 1911l-12 42 12-2 12-42z"/><path class=c17 d="M2202 1864l-12 0 11 36 12 0z"/><path class=c20 d="M2202 1820l-12 2 12 42 12-3z"/><path class=c10 d="M2848 1951l-11 30 11-4 12-30z"/><path class=c17 d="M2849 1856l-12 56 11-1 13-56z"/><path class=c31 d="M2806 1665l-14 98 12 4 13-98z"/><path class=c22 d="M2838 1778l-12 75 11 2 13-75z"/><path class=c20 d="M2190 1822l-12 1 12 41 12 0z"/><path class=c13 d="M2860 1909l-12 42 12-4 12-42z"/><path class=c17 d="M2861 1855l-13 56 12-2 12-56z"/><path class=c31 d="M2817 1669l-13 98 11 5 14-99z"/><path class=c11 d="M2860 1947l-12 30 12-6 12-31z"/><path class=c23 d="M2850 1780l-13 75 12 1 13-75z"/><path class=c21 d="M2178 1823l-12-3 12 42 12 2z"/><path class=c31 d="M2829 1673l-14 99 12 3 13-98z"/><path class=c14 d="M2872 1905l-12 42 12-7 12-42z"/><path class=c18 d="M2872 1853l-12 56 12-4 12-56z"/><path class=c23 d="M2862 1781l-13 75 12-1 13-74z"/><path class=c12 d="M2872 1940l-12 31 12-10 12-31z"/><path class=c31 d="M2840 1677l-13 98 11 3 14-98z"/><path class=c22 d="M2166 1820l-12-7 12 42 12 7z"/><path class=c6 d="M2255 2035l-12-13 11 11 12 12z"/><path class=c24 d="M2874 1781l-13 74 11-2 14-75z"/><path class=c16 d="M2884 1898l-12 42 12-10 12-42z"/><path class=c19 d="M2884 1849l-12 56 12-7 13-56z"/><path class=c32 d="M2852 1680l-14 98 12 2 14-98z"/><path class=c4 d="M2782 2052l-11 5 12-6 11-6z"/><path class=c6 d="M2816 2032l-11 7 12-10 11-7z"/><path class=c5 d="M2266 2045l-12-12 11 9 12 12z"/><path class=c11 d="M2210 1979l-13-21 12 17 12 21z"/><path class=c10 d="M2221 1996l-12-21 11 14 12 21z"/><path class=c14 d="M2884 1930l-12 31 13-13 11-31z"/><path class=c5 d="M2277 2054l-12-12 11 7 12 13z"/><path class=c6 d="M2805 2039l-11 6 12-9 11-7z"/><path class=c4 d="M2771 2057l-11 5 12-6 11-5z"/><path class=c25 d="M2886 1778l-14 75 12-4 14-75z"/><path class=c32 d="M2864 1682l-14 98 12 1 14-99z"/><path class=c9 d="M2232 2010l-12-21 11 12 12 21z"/><path class=c8 d="M2839 2013l-11 9 12-13 11-9z"/><path class=c21 d="M2897 1842l-13 56 12-10 13-56z"/><path class=c4 d="M2288 2062l-12-13 11 7 12 13z"/><path class=c8 d="M2243 2022l-12-21 10 11 13 21z"/><path class=c6 d="M2794 2045l-11 6 12-10 11-5z"/><path class=c18 d="M2896 1888l-12 42 12-13 13-42z"/><path class=c4 d="M2760 2062l-11 5 12-6 11-5z"/><path class=c8 d="M2828 2022l-11 7 12-12 11-8z"/><path class=c32 d="M2876 1682l-14 99 12 0 14-100z"/><path class=c8 d="M2254 2033l-13-21 11 9 13 21z"/><path class=c2 d="M2332 2087l-12-6 11 5 12 7z"/><path class=c4 d="M2299 2069l-12-13 10 7 13 12z"/><path class=c26 d="M2898 1774l-14 75 13-7 13-76z"/><path class=c6 d="M2783 2051l-11 5 12-10 11-5z"/><path class=c4 d="M2749 2067l-11 5 12-6 11-5z"/><path class=c8 d="M2817 2029l-11 7 12-13 11-6z"/><path class=c11 d="M2862 1988l-11 12 12-17 12-12z"/><path class=c16 d="M2896 1917l-11 31 12-17 12-31z"/><path class=c7 d="M2265 2042l-13-21 11 8 13 20z"/><path class=c16 d="M2186 1938l-13-32 11 20 13 32z"/><path class=c18 d="M2175 1915l-13-32 11 23 13 32z"/><path class=c14 d="M2197 1958l-13-32 11 17 14 32z"/><path class=c4 d="M2310 2075l-13-12 11 6 12 12z"/><path class=c2 d="M2343 2093l-12-7 11 6 12 6z"/><path class=c11 d="M2851 2000l-11 9 12-16 11-10z"/><path class=c20 d="M2164 1888l-14-32 12 27 13 32z"/><path class=c23 d="M2909 1832l-13 56 13-13 12-57z"/><path class=c6 d="M2772 2056l-11 5 12-10 11-5z"/><path class=c13 d="M2209 1975l-14-32 12 14 13 32z"/><path class=c33 d="M2888 1681l-14 100 12-3 14-99z"/><path class=c4 d="M2738 2072l-11 6 12-7 11-5z"/><path class=c8 d="M2806 2036l-11 5 12-13 11-5z"/><path class=c7 d="M2276 2049l-13-20 11 7 13 20z"/><path class=c20 d="M2909 1875l-13 42 13-17 12-42z"/><path class=c12 d="M2220 1989l-13-32 11 12 13 32z"/><path class=c23 d="M2152 1857l-13-33 11 32 14 32z"/><path class=c10 d="M2840 2009l-11 8 12-17 11-7z"/><path class=c4 d="M2320 2081l-12-12 11 5 12 12z"/><path class=c2 d="M2354 2098l-12-6 11 5 12 6z"/><path class=c28 d="M2910 1766l-13 76 12-10 13-76z"/><path class=c6 d="M2761 2061l-11 5 12-9 11-6z"/><path class=c12 d="M2231 2001l-13-32 11 11 12 32z"/><path class=c8 d="M2795 2041l-11 5 12-12 11-6z"/><path class=c4 d="M2727 2078l-11 5 12-7 11-5z"/><path class=c7 d="M2287 2056l-13-20 11 6 12 21z"/><path class=c15 d="M2886 1954l-11 17 12-22 12-16z"/><path class=c10 d="M2829 2017l-11 6 12-17 11-6z"/><path class=c34 d="M2900 1679l-14 99 12-4 14-100z"/><path class=c4 d="M2331 2086l-12-12 11 5 12 13z"/><path class=c11 d="M2241 2012l-12-32 10 9 13 32z"/><path class=c2 d="M2365 2103l-12-6 11 5 12 7z"/><path class=c14 d="M2875 1971l-12 12 13-21 11-13z"/><path class=c19 d="M2909 1900l-12 31 13-21 12-31z"/><path class=c6 d="M2750 2066l-11 5 12-9 11-5z"/><path class=c8 d="M2784 2046l-11 5 12-12 11-5z"/><path class=c4 d="M2716 2083l-11 5 12-6 11-6z"/><path class=c7 d="M2297 2063l-12-21 11 6 12 21z"/><path class=c25 d="M2921 1818l-12 57 12-17 13-57z"/><path class=c13 d="M2863 1983l-11 10 13-22 11-9z"/><path class=c10 d="M2818 2023l-11 5 12-16 11-6z"/><path class=c11 d="M2252 2021l-13-32 11 8 13 32z"/><path class=c4 d="M2342 2092l-12-13 11 5 12 13z"/><path class=c2 d="M2376 2109l-12-7 11 5 12 7z"/><path class=c29 d="M2922 1756l-13 76 12-14 14-76z"/><path class=c23 d="M2921 1858l-12 42 13-21 12-43z"/><path class=c6 d="M2739 2071l-11 5 12-9 11-5z"/><path class=c8 d="M2773 2051l-11 6 12-13 11-5z"/><path class=c4 d="M2705 2088l-11 5 11-6 12-5z"/><path class=c7 d="M2308 2069l-12-21 11 5 12 21z"/><path class=c13 d="M2852 1993l-11 7 13-21 11-8z"/><path class=c35 d="M2912 1674l-14 100 12-8 14-100z"/><path class=c10 d="M2807 2028l-11 6 12-17 11-5zM2263 2029l-13-32 11 7 13 32z"/><path class=c21 d="M2173 1906l-14-47 12 20 13 47z"/><path class=c23 d="M2162 1883l-14-47 11 23 14 47z"/><path class=c19 d="M2184 1926l-13-47 11 17 13 47z"/><path class=c4 d="M2353 2097l-12-13 11 6 12 12z"/><path class=c25 d="M2150 1856l-14-48 12 28 14 47z"/><path class=c2 d="M2387 2114l-12-7 11 6 12 6z"/><path class=c18 d="M2195 1943l-13-47 11 14 14 47z"/><path class=c6 d="M2728 2076l-11 6 11-10 12-5z"/><path class=c8 d="M2762 2057l-11 5 12-13 11-5z"/><path class=c13 d="M2841 2000l-11 6 13-21 11-6z"/><path class=c4 d="M2694 2093l-12 5 12-6 11-5z"/><path class=c7 d="M2319 2074l-12-21 11 5 12 21z"/><path class=c10 d="M2274 2036l-13-32 11 6 13 32z"/><path class=c18 d="M2899 1933l-12 16 13-26 12-17z"/><path class=c17 d="M2207 1957l-14-47 11 13 14 46z"/><path class=c28 d="M2139 1824l-15-48 12 32 14 48z"/><path class=c10 d="M2796 2034l-11 5 12-17 11-5z"/><path class=c17 d="M2887 1949l-11 13 13-26 11-13z"/><path class=c22 d="M2922 1879l-12 31 13-27 12-31z"/><path class=c4 d="M2364 2102l-12-12 11 5 12 12z"/><path class=c2 d="M2398 2119l-12-6 12 5 11 6z"/><path class=c28 d="M2934 1801l-13 57 13-22 13-57z"/><path class=c17 d="M2218 1969l-14-46 11 10 14 47z"/><path class=c6 d="M2717 2082l-12 5 12-10 11-5z"/><path class=c13 d="M2830 2006l-11 6 13-22 11-5z"/><path class=c8 d="M2751 2062l-11 5 12-13 11-5z"/><path class=c4 d="M2682 2098l-11 6 12-7 11-5z"/><path class=c37 d="M2924 1666l-14 100 12-10 15-100z"/><path class=c7 d="M2330 2079l-12-21 11 6 12 20z"/><path class=c32 d="M2935 1742l-14 76 13-17 14-77z"/><path class=c31 d="M2127 1787l-15-48 12 37 15 48z"/><path class=c10 d="M2285 2042l-13-32 11 6 13 32z"/><path class=c17 d="M2876 1962l-11 9 13-26 11-9z"/><path class=c10 d="M2785 2039l-11 5 12-17 11-5z"/><path class=c16 d="M2229 1980l-14-47 11 9 13 47z"/><path class=c4 d="M2375 2107l-12-12 11 5 12 13z"/><path class=c26 d="M2934 1836l-12 43 13-27 12-43z"/><path class=c3 d="M2409 2124l-11-6 11 5 11 7z"/><path class=c6 d="M2705 2087l-11 5 12-10 11-5z"/><path class=c13 d="M2819 2012l-11 5 13-21 11-6z"/><path class=c8 d="M2740 2067l-12 5 12-13 12-5z"/><path class=c4 d="M2671 2104l-11 5 12-7 11-5z"/><path class=c16 d="M2865 1971l-11 8 13-27 11-7z"/><path class=c7 d="M2341 2084l-12-20 11 5 12 21z"/><path class=c10 d="M2296 2048l-13-32 11 5 13 32zM2774 2044l-11 5 12-17 11-5z"/><path class=c16 d="M2239 1989l-13-47 11 8 13 47z"/><path class=c35 d="M2114 1745l-14-48 12 42 15 48z"/><path class=c4 d="M2386 2113l-12-13 12 6 12 12z"/><path class=c3 d="M2420 2130l-11-7 11 6 12 6z"/><path class=c6 d="M2694 2092l-11 5 12-9 11-6z"/><path class=c16 d="M2854 1979l-11 6 13-26 11-7z"/><path class=c13 d="M2808 2017l-11 5 13-21 11-5z"/><path class=c8 d="M2728 2072l-11 5 12-13 11-5z"/><path class=c4 d="M2660 2109l-11 5 11-7 12-5z"/><path class=c7 d="M2352 2090l-12-21 11 5 12 21z"/><path class=c39 d="M2937 1656l-15 100 13-14 15-101z"/><path class=c10 d="M2307 2053l-13-32 11 5 13 32z"/><path class=c15 d="M2250 1997l-13-47 11 7 13 47z"/><path class=c10 d="M2763 2049l-11 5 12-17 11-5z"/><path class=c31 d="M2947 1779l-13 57 13-27 14-58z"/><path class=c4 d="M2398 2118l-12-12 11 5 12 12z"/><path class=c34 d="M2948 1724l-14 77 13-22 14-77z"/><path class=c3 d="M2432 2135l-12-6 11 5 12 6z"/><path class=c16 d="M2843 1985l-11 5 13-26 11-5z"/><path class=c6 d="M2683 2097l-11 5 11-9 12-5z"/><path class=c13 d="M2797 2022l-11 5 13-21 11-5z"/><path class=c8 d="M2717 2077l-11 5 12-12 11-6z"/><path class=c4 d="M2649 2114l-12 5 12-6 11-6z"/><path class=c15 d="M2261 2004l-13-47 11 6 13 47z"/><path class=c7 d="M2363 2095l-12-21 11 5 12 21z"/><path class=c10 d="M2318 2058l-13-32 11 6 13 32zM2752 2054l-12 5 13-17 11-5z"/><path class=c28 d="M2159 1859l-15-67 12 21 15 66z"/><path class=c29 d="M2148 1836l-15-67 11 23 15 67z"/><path class=c26 d="M2171 1879l-15-66 11 17 15 66z"/><path class=c32 d="M2136 1808l-15-67 12 28 15 67z"/><path class=c4 d="M2409 2123l-12-12 11 5 12 13z"/><path class=c25 d="M2182 1896l-15-66 11 14 15 66z"/><path class=c16 d="M2832 1990l-11 6 13-27 11-5z"/><path class=c3 d="M2443 2140l-12-6 11 4 12 7z"/><path class=c6 d="M2672 2102l-12 5 12-9 11-5z"/><path class=c13 d="M2786 2027l-11 5 12-21 12-5z"/><path class=c8 d="M2706 2082l-11 6 12-13 11-5z"/><path class=c4 d="M2637 2119l-11 5 12-6 11-5z"/><path class=c15 d="M2272 2010l-13-47 11 6 13 47z"/><path class=c7 d="M2374 2100l-12-21 11 6 13 21z"/><path class=c10 d="M2329 2064l-13-32 11 5 13 32z"/><path class=c24 d="M2193 1910l-15-66 12 13 14 66z"/><path class=c34 d="M2124 1776l-15-67 12 32 15 67z"/><path class=c10 d="M2740 2059l-11 5 12-16 12-6z"/><path class=c41 d="M2950 1641l-15 101 13-18 15-101z"/><path class=c4 d="M2420 2129l-12-13 11 5 12 13z"/><path class=c16 d="M2821 1996l-11 5 12-27 12-5z"/><path class=c23 d="M2204 1923l-14-66 11 10 14 66z"/><path class=c6 d="M2660 2107l-11 6 12-10 11-5z"/><path class=c3 d="M2454 2145l-12-7 12 5 11 6z"/><path class=c13 d="M2775 2032l-11 5 12-21 11-5z"/><path class=c8 d="M2695 2088l-12 5 12-13 12-5z"/><path class=c4 d="M2626 2124l-11 6 11-7 12-5z"/><path class=c15 d="M2283 2016l-13-47 11 5 13 47z"/><path class=c38 d="M2112 1739l-15-67 12 37 15 67z"/><path class=c7 d="M2386 2106l-13-21 12 5 12 21z"/><path class=c10 d="M2340 2069l-13-32 12 5 12 32zM2729 2064l-11 6 12-17 11-5z"/><path class=c23 d="M2215 1933l-14-66 11 9 14 66z"/><path class=c38 d="M2961 1702l-14 77 14-28 13-77z"/><path class=c16 d="M2810 2001l-11 5 12-27 11-5z"/><path class=c4 d="M2431 2134l-12-13 11 5 12 12z"/><path class=c6 d="M2649 2113l-11 5 11-10 12-5z"/><path class=c13 d="M2764 2037l-11 5 12-21 11-5z"/><path class=c8 d="M2683 2093l-11 5 12-13 11-5z"/><path class=c4 d="M2615 2130l-12 5 12-7 11-5z"/><path class=c3 d="M2465 2149l-11-6 11 3 12 7z"/><path class=c15 d="M2294 2021l-13-47 11 6 13 46z"/><path class=c7 d="M2397 2111l-12-21 11 5 12 21z"/><path class=c10 d="M2351 2074l-12-32 11 5 12 32zM2718 2070l-11 5 12-17 11-5z"/><path class=c22 d="M2226 1942l-14-66 11 8 14 66z"/><path class=c41 d="M2100 1697l-15-69 12 44 15 67z"/><path class=c16 d="M2799 2006l-12 5 13-27 11-5z"/><path class=c4 d="M2442 2138l-12-12 12 4 12 13z"/><path class=c6 d="M2638 2118l-12 5 12-9 11-6z"/><path class=c13 d="M2753 2042l-12 6 13-22 11-5z"/><path class=c8 d="M2672 2098l-11 5 12-13 11-5z"/><path class=c4 d="M2603 2135l-11 5 11-6 12-6z"/><path class=c44 d="M2963 1623l-15 101 13-22 15-102z"/><path class=c15 d="M2305 2026l-13-46 11 5 13 47z"/><path class=c3 d="M2477 2153l-12-7 11 3 12 6z"/><path class=c22 d="M2237 1950l-14-66 11 7 14 66z"/><path class=c7 d="M2408 2116l-12-21 11 5 12 21z"/><path class=c10 d="M2362 2079l-12-32 11 5 12 33zM2707 2075l-12 5 12-17 12-5z"/><path class=c16 d="M2787 2011l-11 5 13-27 11-5z"/><path class=c6 d="M2626 2123l-11 5 11-9 12-5z"/><path class=c13 d="M2741 2048l-11 5 12-22 12-5z"/><path class=c8 d="M2661 2103l-12 5 12-13 12-5z"/><path class=c5 d="M2454 2143l-12-13 11 4 12 12z"/><path class=c4 d="M2592 2140l-12 5 12-7 11-4z"/><path class=c3 d="M2511 2159l-12-2 12 0 11 2z"/><path class=c15 d="M2316 2032l-13-47 11 5 13 47z"/><path class=c22 d="M2248 1957l-14-66 11 6 14 66z"/><path class=c3 d="M2534 2158l-12 1 12-2 11-1z"/><path class=c10 d="M2373 2085l-12-33 11 6 13 32z"/><path class=c7 d="M2419 2121l-12-21 11 5 12 21z"/><path class=c10 d="M2695 2080l-11 5 12-17 11-5z"/><path class=c4 d="M2488 2155l-12-6 12 1 11 7zM2557 2153l-12 3 12-4 12-3z"/><path class=c16 d="M2776 2016l-11 5 13-26 11-6z"/><path class=c6 d="M2615 2128l-12 6 12-10 11-5z"/><path class=c13 d="M2730 2053l-11 5 12-22 11-5z"/><path class=c8 d="M2649 2108l-11 6 12-13 11-6z"/><path class=c22 d="M2259 1963l-14-66 11 6 14 66z"/><path class=c5 d="M2580 2145l-11 4 11-6 12-5z"/><path class=c15 d="M2327 2037l-13-47 12 5 13 47z"/><path class=c5 d="M2465 2146l-12-12 11 2 12 13z"/><path class=c10 d="M2385 2090l-13-32 11 5 13 32zM2684 2085l-11 5 12-17 11-5z"/><path class=c7 d="M2430 2126l-12-21 12 4 12 21z"/><path class=c4 d="M2522 2159l-11-2 11-2 12 2zM2545 2156l-11 1 11-4 12-1zM2499 2157l-11-7 11 0 12 7z"/><path class=c16 d="M2765 2021l-11 5 12-26 12-5z"/><path class=c13 d="M2719 2058l-12 5 13-21 11-6z"/><path class=c6 d="M2603 2134l-11 4 11-9 12-5z"/><path class=c47 d="M2976 1600l-15 102 13-28 16-103z"/><path class=c8 d="M2638 2114l-12 5 12-13 12-5z"/><path class=c22 d="M2270 1969l-14-66 11 5 14 66z"/><path class=c15 d="M2339 2042l-13-47 11 5 13 47z"/><path class=c5 d="M2569 2149l-12 3 12-6 11-3z"/><path class=c10 d="M2396 2095l-13-32 12 5 12 32zM2673 2090l-12 5 12-16 12-6z"/><path class=c5 d="M2476 2149l-12-13 12 2 12 12z"/><path class=c7 d="M2442 2130l-12-21 11 4 12 21z"/><path class=c16 d="M2754 2026l-12 5 13-26 11-5z"/><path class=c13 d="M2707 2063l-11 5 12-21 12-5z"/><path class=c6 d="M2592 2138l-12 5 12-10 11-4z"/><path class=c8 d="M2626 2119l-11 5 12-13 11-5z"/><path class=c22 d="M2281 1974l-14-66 11 5 14 67z"/><path class=c5 d="M2534 2157l-12-2 12-4 11 2z"/><path class=c15 d="M2350 2047l-13-47 11 5 13 47z"/><path class=c5 d="M2511 2157l-12-7 11-2 12 7z"/><path class=c10 d="M2661 2095l-11 6 12-17 11-5zM2407 2100l-12-32 11 5 12 32z"/><path class=c5 d="M2557 2152l-12 1 12-7 12 0z"/><path class=c7 d="M2453 2134l-12-21 11 2 12 21z"/><path class=c6 d="M2488 2150l-12-12 11 0 12 12z"/><path class=c16 d="M2742 2031l-11 5 13-26 11-5z"/><path class=c13 d="M2696 2068l-11 5 12-21 11-5z"/><path class=c8 d="M2615 2124l-12 5 12-13 12-5z"/><path class=c22 d="M2292 1980l-14-67 11 5 14 67z"/><path class=c6 d="M2580 2143l-11 3 11-10 12-3z"/><path class=c15 d="M2361 2052l-13-47 11 6 13 47z"/><path class=c10 d="M2650 2101l-12 5 12-17 12-5zM2418 2105l-12-32 11 4 13 32z"/><path class=c6 d="M2522 2155l-12-7 12-4 12 7zM2545 2153l-11-2 11-7 12 2z"/><path class=c16 d="M2731 2036l-11 6 12-27 12-5z"/><path class=c8 d="M2464 2136l-12-21 12 2 12 21z"/><path class=c13 d="M2685 2073l-12 6 12-22 12-5z"/><path class=c8 d="M2603 2129l-11 4 12-13 11-4z"/><path class=c22 d="M2303 1985l-14-67 12 5 13 67z"/><path class=c6 d="M2499 2150l-12-12 12-2 11 12z"/><path class=c15 d="M2372 2058l-13-47 12 5 12 47z"/><path class=c7 d="M2569 2146l-12 0 12-9 11-1z"/><path class=c10 d="M2638 2106l-11 5 12-17 11-5z"/><path class=c11 d="M2430 2109l-13-32 12 3 12 33z"/><path class=c16 d="M2720 2042l-12 5 13-27 11-5z"/><path class=c13 d="M2673 2079l-11 5 12-22 11-5z"/><path class=c22 d="M2314 1990l-13-67 11 5 14 67z"/><path class=c8 d="M2476 2138l-12-21 11-1 12 22zM2592 2133l-12 3 12-13 12-3z"/><path class=c15 d="M2383 2063l-12-47 11 5 13 47z"/><path class=c10 d="M2627 2111l-12 5 12-17 12-5z"/><path class=c7 d="M2534 2151l-12-7 12-6 11 6z"/><path class=c11 d="M2441 2113l-12-33 11 3 12 32z"/><path class=c7 d="M2557 2146l-12-2 12-9 12 2zM2510 2148l-11-12 11-4 12 12z"/><path class=c16 d="M2708 2047l-11 5 12-27 12-5z"/><path class=c13 d="M2662 2084l-12 5 12-21 12-6z"/><path class=c22 d="M2326 1995l-14-67 11 5 14 67z"/><path class=c15 d="M2395 2068l-13-47 11 4 13 48z"/><path class=c10 d="M2615 2116l-11 4 11-17 12-4z"/><path class=c9 d="M2580 2136l-11 1 11-13 12-1zM2487 2138l-12-22 12-2 12 22z"/><path class=c16 d="M2697 2052l-12 5 13-27 11-5z"/><path class=c11 d="M2452 2115l-12-32 12 1 12 33z"/><path class=c13 d="M2650 2089l-11 5 12-21 11-5z"/><path class=c22 d="M2337 2000l-14-67 12 6 13 66z"/><path class=c15 d="M2406 2073l-13-48 12 4 12 48z"/><path class=c8 d="M2545 2144l-11-6 11-10 12 7z"/><path class=c9 d="M2522 2144l-12-12 12-7 12 13z"/><path class=c10 d="M2604 2120l-12 3 12-17 11-3z"/><path class=c9 d="M2569 2137l-12-2 12-13 11 2z"/><path class=c16 d="M2685 2057l-11 5 12-26 12-6z"/><path class=c13 d="M2639 2094l-12 5 12-21 12-5z"/><path class=c22 d="M2348 2005l-13-66 11 5 13 67z"/><path class=c10 d="M2499 2136l-12-22 11-4 12 22z"/><path class=c12 d="M2464 2117l-12-33 11 0 12 32z"/><path class=c16 d="M2417 2077l-12-48 11 4 13 47z"/><path class=c11 d="M2592 2123l-12 1 12-17 12-1z"/><path class=c16 d="M2674 2062l-12 6 13-27 11-5z"/><path class=c13 d="M2627 2099l-12 4 12-21 12-4z"/><path class=c22 d="M2359 2011l-13-67 11 5 14 67z"/><path class=c10 d="M2534 2138l-12-13 11-10 12 13zM2557 2135l-12-7 12-13 12 7z"/><path class=c16 d="M2429 2080l-13-47 12 2 12 48z"/><path class=c12 d="M2475 2116l-12-32 12-2 12 32z"/><path class=c16 d="M2662 2068l-11 5 12-27 12-5z"/><path class=c11 d="M2510 2132l-12-22 12-6 12 21z"/><path class=c13 d="M2615 2103l-11 3 12-22 11-2z"/><path class=c11 d="M2580 2124l-11-2 11-17 12 2z"/><path class=c22 d="M2371 2016l-14-67 12 5 13 67z"/><path class=c16 d="M2440 2083l-12-48 11 1 13 48zM2651 2073l-12 5 12-27 12-5z"/><path class=c22 d="M2382 2021l-13-67 11 4 13 67z"/><path class=c13 d="M2487 2114l-12-32 11-4 12 32z"/><path class=c14 d="M2604 2106l-12 1 12-22 12-1z"/><path class=c12 d="M2545 2128l-12-13 12-13 12 13z"/><path class=c13 d="M2522 2125l-12-21 11-10 12 21zM2569 2122l-12-7 12-17 11 7z"/><path class=c16 d="M2639 2078l-12 4 13-27 11-4z"/><path class=c17 d="M2452 2084l-13-48 12 0 12 48z"/><path class=c22 d="M2393 2025l-13-67 12 4 13 67z"/><path class=c14 d="M2592 2107l-12-2 12-22 12 2z"/><path class=c15 d="M2498 2110l-12-32 12-7 12 33z"/><path class=c16 d="M2627 2082l-11 2 12-26 12-3z"/><path class=c22 d="M2405 2029l-13-67 11 4 13 67z"/><path class=c17 d="M2463 2084l-12-48 11-2 13 48z"/><path class=c14 d="M2557 2115l-12-13 12-17 12 13zM2533 2115l-12-21 12-14 12 22z"/><path class=c17 d="M2616 2084l-12 1 12-27 12 0z"/><path class=c15 d="M2580 2105l-11-7 12-22 11 7z"/><path class=c23 d="M2416 2033l-13-67 12 2 13 67z"/><path class=c16 d="M2510 2104l-12-33 11-10 12 33z"/><path class=c18 d="M2475 2082l-13-48 12-4 12 48z"/><path class=c17 d="M2604 2085l-12-2 12-27 12 2z"/><path class=c23 d="M2428 2035l-13-67 11 1 13 67z"/><path class=c17 d="M2545 2102l-12-22 12-17 12 22zM2569 2098l-12-13 12-22 12 13z"/><path class=c20 d="M2486 2078l-12-48 12-7 12 48z"/><path class=c18 d="M2521 2094l-12-33 12-14 12 33z"/><path class=c24 d="M2439 2036l-13-67 12 0 13 67z"/><path class=c19 d="M2592 2083l-11-7 12-27 11 7z"/><path class=c24 d="M2451 2036l-13-67 12-3 12 68z"/><path class=c21 d="M2498 2071l-12-48 11-11 12 49z"/><path class=c19 d="M2557 2085l-12-22 12-22 12 22z"/><path class=c20 d="M2581 2076l-12-13 12-27 12 13zM2533 2080l-12-33 12-17 12 33z"/><path class=c25 d="M2462 2034l-12-68 11-4 13 68z"/><path class=c23 d="M2509 2061l-12-49 12-13 12 48zM2569 2063l-12-22 12-28 12 23z"/><path class=c26 d="M2474 2030l-13-68 12-8 13 69z"/><path class=c23 d="M2545 2063l-12-33 12-23 12 34z"/><path class=c25 d="M2521 2047l-12-48 12-18 12 49z"/><path class=c28 d="M2486 2023l-13-69 12-10 12 68z"/><path class=c26 d="M2557 2041l-12-34 12-28 12 34z"/><path class=c28 d="M2533 2030l-12-49 12-23 12 49z"/><path class=c30 d="M2497 2012l-12-68 12-14 12 69z"/><path class=c32 d="M2509 1999l-12-69 12-19 12 70z"/><path class=c31 d="M2545 2007l-12-49 12-28 12 49z"/><path class=c35 d="M2521 1981l-12-70 12-23 12 70z"/><path class=c38 d="M2533 1958l-12-70 12-29 12 71z"/></g></g>
<g id="p6"><path d="M2028.1 952.4L1776.6 1050.2L1763.3 792.4L2028.4 706.3Z" fill="#f2f2f2"/>
<path d="M2028.1 952.4L2270.7 1054.6L2284.0 796.3L2028.4 706.3Z" fill="#f9f9f9"/>
<path d="M2028.1 952.4L1776.6 1050.2L2017.8 1166.7L2270.7 1054.6Z" fill="#f5f5f5"/>
<path d="M2015.0 957.6L2257.5 1060.5M2015.0 957.6L2014.5 710.8M2040.8 957.8L1789.1 1056.2M2040.8 957.8L2041.7 711.0M1961.4 978.4L2203.8 1084.3M1961.4 978.4L1958.2 729.1M2092.4 979.5L1840.2 1080.9M2092.4 979.5L2095.9 730.1M1906.3 999.8L2148.5 1108.8M1906.3 999.8L1900.3 747.9M2145.4 1001.8L1892.9 1106.4M2145.4 1001.8L2151.8 749.8M1849.7 1021.8L2091.5 1134.0M1849.7 1021.8L1840.6 767.3M2200.1 1024.9L1947.3 1132.7M2200.1 1024.9L2209.4 770.0M1791.4 1044.4L2032.8 1160.0M1791.4 1044.4L1779.0 787.3M2256.4 1048.6L2003.5 1159.8M2256.4 1048.6L2268.9 791.0M2028.2 857.0L1771.5 950.4M2028.2 857.0L2275.9 954.7M2028.3 763.3L1766.4 852.2M2028.3 763.3L2280.9 856.3" stroke="#b3b3b3" stroke-width="1.70" fill="none"/>
<path d="M1776.6 1050.2L2017.8 1166.7M2270.7 1054.6L2017.8 1166.7M1776.6 1050.2L1763.3 792.4M1791.3 1055.4L1783.8 1058.3M2255.5 1059.6L2262.7 1062.7M1842.4 1080.1L1834.8 1083.1M2201.8 1083.4L2209.0 1086.5M1895.1 1105.5L1887.5 1108.6M2146.5 1107.8L2153.7 1111.1M1949.5 1131.7L1941.9 1135.0M2089.5 1133.1L2096.7 1136.4M2005.6 1158.8L1998.0 1162.1M2030.7 1159.1L2038.0 1162.5M1766.0 952.4L1773.6 949.6M1760.8 854.1L1768.7 851.4" stroke="#000" stroke-width="2.60" fill="none" stroke-linejoin="round"/>
<text class=d transform="translate(1702.0 869.3) scale(0.790 1)" y="16.9">400</text>
<text class=d transform="translate(1709.1 968.1) scale(0.790 1)" y="16.9">200</text>
<text class=d transform="translate(1758.8 1118.0) scale(0.790 1)" y="16.9">−5.0</text>
<text class=d transform="translate(1810.6 1143.6) scale(0.790 1)" y="16.9">−2.5</text>
<text class=d transform="translate(1862.7 1170.5) scale(0.790 1)" y="16.9">0.0</text>
<text class=d transform="translate(1916.6 1197.5) scale(0.790 1)" y="16.9">2.5</text>
<text class=d transform="translate(1973.4 1224.5) scale(0.790 1)" y="16.9">5.0</text>
<text class=d transform="translate(2060.5 1225.2) scale(0.790 1)" y="16.9">5.0</text>
<text class=d transform="translate(2119.8 1198.3) scale(0.790 1)" y="16.9">2.5</text>
<text class=d transform="translate(2176.5 1172.4) scale(0.790 1)" y="16.9">0.0</text>
<text class=d transform="translate(2231.8 1147.5) scale(0.790 1)" y="16.9">−2.5</text>
<text class=d transform="translate(2286.1 1123.0) scale(0.790 1)" y="16.9">−5.0</text>
<text class=fi x="1721.8" y="1220.0">f</text>
<text class=fs transform="translate(1748.0 1228.0) scale(1.1 1)">6</text>
<g class="s" opacity="0.90" transform="scale(0.50)"><path class=c25 d="M3946 1726l-11 18 10 12 11-19z"/><path class=c24 d="M3935 1744l-11 17 10 12 11-17z"/><path class=c27 d="M3957 1706l-11 20 10 11 11-20z"/><path class=c22 d="M3924 1761l-11 16 10 11 11-15z"/><path class=c29 d="M3968 1684l-11 22 10 11 11-21z"/><path class=c21 d="M3913 1777l-11 15 10 11 11-15z"/><path class=c25 d="M3956 1737l-11 19 11 11 11-18z"/><path class=c31 d="M3979 1660l-11 24 10 12 11-23z"/><path class=c26 d="M3967 1717l-11 20 11 12 11-20z"/><path class=c23 d="M3945 1756l-11 17 11 11 11-17z"/><path class=c20 d="M3902 1792l-11 15 10 10 11-14z"/><path class=c22 d="M3934 1773l-11 15 11 11 11-15z"/><path class=c28 d="M3978 1696l-11 21 11 12 11-21z"/><path class=c19 d="M3891 1807l-12 13 11 10 11-13z"/><path class=c20 d="M3923 1788l-11 15 10 11 12-15z"/><path class=c33 d="M3990 1635l-11 25 10 13 11-25z"/><path class=c30 d="M3989 1673l-11 23 11 12 11-23z"/><path class=c24 d="M3967 1749l-11 18 10 11 11-18z"/><path class=c25 d="M3978 1729l-11 20 10 11 11-19z"/><path class=c22 d="M3956 1767l-11 17 10 10 11-16z"/><path class=c19 d="M3912 1803l-11 14 10 10 11-13z"/><path class=c27 d="M3989 1708l-11 21 10 12 11-21z"/><path class=c18 d="M3879 1820l-11 13 11 10 11-13z"/><path class=c21 d="M3945 1784l-11 15 10 11 11-16z"/><path class=c32 d="M4000 1648l-11 25 11 12 11-25z"/><path class=c36 d="M4000 1608l-10 27 10 13 11-27z"/><path class=c29 d="M4000 1685l-11 23 10 12 11-23z"/><path class=c20 d="M3934 1799l-12 15 11 10 11-14z"/><path class=c18 d="M3901 1817l-11 13 10 11 11-14z"/><path class=c23 d="M3977 1760l-11 18 11 11 11-18z"/><path class=c25 d="M3988 1741l-11 19 11 11 11-19z"/><path class=c17 d="M3868 1833l-11 13 11 10 11-13z"/><path class=c21 d="M3966 1778l-11 16 11 11 11-16z"/><path class=c26 d="M3999 1720l-11 21 11 11 11-20z"/><path class=c19 d="M3922 1814l-11 13 11 11 11-14z"/><path class=c31 d="M4011 1660l-11 25 10 12 11-24z"/><path class=c20 d="M3955 1794l-11 16 11 10 11-15z"/><path class=c17 d="M3890 1830l-11 13 10 10 11-12z"/><path class=c35 d="M4011 1621l-11 27 11 12 11-26z"/><path class=c28 d="M4010 1697l-11 23 11 12 11-23z"/><path class=c16 d="M3857 1846l-11 13 10 9 12-12z"/><path class=c19 d="M3944 1810l-11 14 10 10 12-14z"/><path class=c38 d="M4011 1579l-11 29 11 13 11-29z"/><path class=c24 d="M3999 1752l-11 19 10 12 11-19z"/><path class=c22 d="M3988 1771l-11 18 10 11 11-17z"/><path class=c18 d="M3911 1827l-11 14 11 10 11-13z"/><path class=c26 d="M4010 1732l-11 20 10 12 11-21z"/><path class=c21 d="M3977 1789l-11 16 10 11 11-16z"/><path class=c16 d="M3879 1843l-11 13 10 10 11-13z"/><path class=c30 d="M4021 1673l-11 24 11 12 11-24z"/><path class=c34 d="M4022 1634l-11 26 10 13 11-27z"/><path class=c18 d="M3933 1824l-11 14 10 10 11-14z"/><path class=c19 d="M3966 1805l-11 15 10 11 11-15z"/><path class=c27 d="M4021 1709l-11 23 10 11 11-22z"/><path class=c15 d="M3846 1859l-11 12 10 9 11-12z"/><path class=c17 d="M3900 1841l-11 12 11 10 11-12z"/><path class=c37 d="M4022 1592l-11 29 11 13 11-29z"/><path class=c23 d="M4009 1764l-11 19 11 11 11-19z"/><path class=c21 d="M3998 1783l-11 17 11 11 11-17z"/><path class=c18 d="M3955 1820l-12 14 11 11 11-14z"/><path class=c15 d="M3868 1856l-12 12 11 10 11-12z"/><path class=c25 d="M4020 1743l-11 21 11 11 11-20z"/><path class=c17 d="M3922 1838l-11 13 10 9 11-12z"/><path class=c30 d="M4032 1685l-11 24 10 12 11-24z"/><path class=c33 d="M4032 1646l-11 27 11 12 11-26z"/><path class=c20 d="M3987 1800l-11 16 11 11 11-16z"/><path class=c14 d="M3835 1871l-11 12 10 10 11-13z"/><path class=c41 d="M4022 1548l-11 31 11 13 11-31z"/><path class=c16 d="M3889 1853l-11 13 10 9 12-12z"/><path class=c27 d="M4031 1721l-11 22 11 12 11-22z"/><path class=c36 d="M4033 1605l-11 29 10 12 11-28z"/><path class=c17 d="M3943 1834l-11 14 11 10 11-13z"/><path class=c19 d="M3976 1816l-11 15 11 10 11-14z"/><path class=c14 d="M3856 1868l-11 12 11 10 11-12z"/><path class=c16 d="M3911 1851l-11 12 10 10 11-13z"/><path class=c22 d="M4020 1775l-11 19 10 11 11-19z"/><path class=c32 d="M4043 1659l-11 26 10 12 11-26z"/><path class=c29 d="M4042 1697l-11 24 11 12 11-24z"/><path class=c21 d="M4009 1794l-11 17 10 10 11-16z"/><path class=c24 d="M4031 1755l-11 20 10 11 11-20z"/><path class=c40 d="M4033 1561l-11 31 11 13 11-30z"/><path class=c13 d="M3824 1883l-11 13 10 9 11-12z"/><path class=c18 d="M3965 1831l-11 14 10 10 12-14z"/><path class=c15 d="M3878 1866l-11 12 10 9 11-12z"/><path class=c35 d="M4043 1618l-11 28 11 13 11-28z"/><path class=c16 d="M3932 1848l-11 12 11 10 11-12z"/><path class=c19 d="M3998 1811l-11 16 10 10 11-16z"/><path class=c26 d="M4042 1733l-11 22 10 11 11-21z"/><path class=c14 d="M3845 1880l-11 13 11 9 11-12z"/><path class=c15 d="M3900 1863l-12 12 11 10 11-12z"/><path class=c18 d="M3987 1827l-11 14 10 10 11-14z"/><path class=c17 d="M3954 1845l-11 13 10 10 11-13z"/><path class=c39 d="M4044 1575l-11 30 10 13 11-30z"/><path class=c31 d="M4053 1671l-11 26 11 12 11-25z"/><path class=c12 d="M3813 1896l-12 12 11 9 11-12z"/><path class=c28 d="M4053 1709l-11 24 10 12 12-24z"/><path class=c21 d="M4030 1786l-11 19 11 10 11-18z"/><path class=c14 d="M3867 1878l-11 12 10 9 11-12z"/><path class=c34 d="M4054 1631l-11 28 10 12 11-27z"/><path class=c44 d="M4034 1515l-12 33 11 13 11-32z"/><path class=c15 d="M3921 1860l-11 13 11 9 11-12z"/><path class=c23 d="M4041 1766l-11 20 11 11 11-19z"/><path class=c20 d="M4019 1805l-11 16 11 11 11-17z"/><path class=c17 d="M3976 1841l-12 14 11 10 11-14z"/><path class=c25 d="M4052 1745l-11 21 11 12 11-22z"/><path class=c13 d="M3834 1893l-11 12 10 9 12-12z"/><path class=c19 d="M4008 1821l-11 16 11 10 11-15z"/><path class=c14 d="M3888 1875l-11 12 11 10 11-12z"/><path class=c16 d="M3943 1858l-11 12 10 10 11-12z"/><path class=c38 d="M4054 1588l-11 30 11 13 11-30z"/><path class=c11 d="M3801 1908l-11 12 10 9 12-12z"/><path class=c30 d="M4064 1684l-11 25 11 12 11-25z"/><path class=c43 d="M4044 1529l-11 32 11 14 11-32z"/><path class=c17 d="M3997 1837l-11 14 11 11 11-15z"/><path class=c13 d="M3856 1890l-11 12 10 9 11-12z"/><path class=c14 d="M3910 1873l-11 12 10 9 12-12z"/><path class=c27 d="M4064 1721l-12 24 11 11 11-23z"/><path class=c34 d="M4064 1644l-11 27 11 13 11-27z"/><path class=c16 d="M3964 1855l-11 13 11 10 11-13z"/><path class=c21 d="M4041 1797l-11 18 11 11 11-18z"/><path class=c22 d="M4052 1778l-11 19 11 11 11-19z"/><path class=c19 d="M4030 1815l-11 17 10 11 12-17z"/><path class=c12 d="M3823 1905l-11 12 10 9 11-12z"/><path class=c15 d="M3932 1870l-11 12 10 10 11-12z"/><path class=c13 d="M3877 1887l-11 12 11 9 11-11z"/><path class=c24 d="M4063 1756l-11 22 11 11 11-21z"/><path class=c37 d="M4065 1601l-11 30 10 13 12-30z"/><path class=c42 d="M4055 1543l-11 32 10 13 11-32z"/><path class=c16 d="M3986 1851l-11 14 11 10 11-13z"/><path class=c18 d="M4019 1832l-11 15 10 11 11-15z"/><path class=c10 d="M3790 1920l-11 12 10 9 11-12z"/><path class=c29 d="M4075 1696l-11 25 10 12 11-25z"/><path class=c12 d="M3845 1902l-12 12 11 9 11-12z"/><path class=c15 d="M3953 1868l-11 12 11 10 11-12z"/><path class=c33 d="M4075 1657l-11 27 11 12 11-27z"/><path class=c14 d="M3899 1885l-11 12 10 9 11-12z"/><path class=c26 d="M4074 1733l-11 23 11 12 11-23z"/><path class=c48 d="M4045 1480l-11 35 10 14 11-35z"/><path class=c17 d="M4008 1847l-11 15 10 10 11-14z"/><path class=c11 d="M3812 1917l-12 12 11 9 11-12z"/><path class=c20 d="M4052 1808l-11 18 10 11 11-18z"/><path class=c22 d="M4063 1789l-11 19 10 11 11-19z"/><path class=c14 d="M3921 1882l-12 12 11 10 11-12z"/><path class=c15 d="M3975 1865l-11 13 10 9 12-12z"/><path class=c36 d="M4076 1614l-12 30 11 13 11-29z"/><path class=c41 d="M4065 1556l-11 32 11 13 11-31z"/><path class=c12 d="M3866 1899l-11 12 10 9 12-12z"/><path class=c19 d="M4041 1826l-12 17 11 10 11-16z"/><path class=c23 d="M4074 1768l-11 21 10 11 11-21z"/><path class=c10 d="M3779 1932l-11 12 10 8 11-11z"/><path class=c28 d="M4085 1708l-11 25 11 12 11-24z"/><path class=c14 d="M3942 1880l-11 12 11 9 11-11z"/><path class=c11 d="M3833 1914l-11 12 10 9 12-12z"/><path class=c32 d="M4086 1669l-11 27 10 12 11-26z"/><path class=c13 d="M3888 1897l-11 11 10 9 11-11z"/><path class=c46 d="M4055 1494l-11 35 11 14 11-34z"/><path class=c16 d="M3997 1862l-11 13 10 10 11-13z"/><path class=c17 d="M4029 1843l-11 15 11 10 11-15z"/><path class=c25 d="M4085 1745l-11 23 10 11 11-22z"/><path class=c10 d="M3800 1929l-11 12 11 9 11-12z"/><path class=c40 d="M4076 1570l-11 31 11 13 11-31z"/><path class=c14 d="M3964 1878l-11 12 10 9 11-12z"/><path class=c35 d="M4086 1628l-11 29 11 12 11-29z"/><path class=c13 d="M3909 1894l-11 12 11 9 11-11z"/><path class=c12 d="M3855 1911l-11 12 10 9 11-12z"/><path class=c16 d="M4018 1858l-11 14 11 10 11-14z"/><path class=c21 d="M4073 1800l-11 19 11 11 11-19z"/><path class=c19 d="M4062 1819l-11 18 11 11 11-18z"/><path class=c45 d="M4066 1509l-11 34 10 13 12-33z"/><path class=c9 d="M3768 1944l-12 11 11 9 11-12z"/><path class=c15 d="M3986 1875l-12 12 11 10 11-12z"/><path class=c23 d="M4084 1779l-11 21 11 11 11-20z"/><path class=c10 d="M3822 1926l-11 12 10 8 11-11z"/><path class=c13 d="M3931 1892l-11 12 10 9 12-12z"/><path class=c18 d="M4051 1837l-11 16 11 10 11-15z"/><path class=c31 d="M4096 1682l-11 26 11 13 11-27z"/><path class=c28 d="M4096 1721l-11 24 10 12 12-24z"/><path class=c12 d="M3877 1908l-12 12 11 9 11-12z"/><path class=c39 d="M4087 1583l-11 31 10 14 11-31z"/><path class=c9 d="M3789 1941l-11 11 10 9 12-11z"/><path class=c34 d="M4097 1640l-11 29 10 13 12-29z"/><path class=c25 d="M4095 1757l-11 22 11 12 11-22z"/><path class=c14 d="M3953 1890l-11 11 10 10 11-12z"/><path class=c17 d="M4040 1853l-11 15 11 10 11-15z"/><path class=c15 d="M4007 1872l-11 13 11 9 11-12z"/><path class=c11 d="M3844 1923l-12 12 11 8 11-11z"/><path class=c12 d="M3898 1906l-11 11 11 9 11-11z"/><path class=c44 d="M4077 1523l-12 33 11 14 11-33z"/><path class=c51 d="M4056 1444l-11 36 10 14 11-36z"/><path class=c14 d="M3974 1887l-11 12 11 10 11-12z"/><path class=c8 d="M3756 1955l-11 11 10 8 12-10z"/><path class=c20 d="M4084 1811l-11 19 11 11 11-19z"/><path class=c10 d="M3811 1938l-11 12 10 8 11-12z"/><path class=c13 d="M3920 1904l-11 11 10 9 11-11z"/><path class=c19 d="M4073 1830l-11 18 10 10 12-17z"/><path class=c30 d="M4107 1694l-11 27 11 12 11-26z"/><path class=c11 d="M3865 1920l-11 12 11 9 11-12z"/><path class=c15 d="M4029 1868l-11 14 10 10 12-14z"/><path class=c38 d="M4097 1597l-11 31 11 12 11-30z"/><path class=c27 d="M4107 1733l-12 24 11 12 11-24z"/><path class=c22 d="M4095 1791l-11 20 11 11 11-20z"/><path class=c17 d="M4062 1848l-11 15 10 11 11-16z"/><path class=c14 d="M3996 1885l-11 12 11 10 11-13z"/><path class=c33 d="M4108 1653l-12 29 11 12 11-28z"/><path class=c43 d="M4087 1537l-11 33 11 13 11-33z"/><path class=c50 d="M4066 1458l-11 36 11 15 11-36z"/><path class=c8 d="M3778 1952l-11 12 10 8 11-11z"/><path class=c13 d="M3942 1901l-12 12 11 9 11-11z"/><path class=c10 d="M3832 1935l-11 11 11 9 11-12z"/><path class=c24 d="M4106 1769l-11 22 11 11 11-22z"/><path class=c11 d="M3887 1917l-11 12 10 9 12-12z"/><path class=c16 d="M4051 1863l-11 15 10 10 11-14z"/><path class=c14 d="M4018 1882l-11 12 10 10 11-12z"/><path class=c13 d="M3963 1899l-11 12 11 9 11-11z"/><path class=c9 d="M3800 1950l-12 11 11 8 11-11z"/><path class=c37 d="M4108 1610l-11 30 11 13 11-30z"/><path class=c12 d="M3909 1915l-11 11 10 9 11-11z"/><path class=c29 d="M4118 1707l-11 26 10 12 11-26z"/><path class=c10 d="M3854 1932l-11 11 10 9 12-11z"/><path class=c7 d="M3745 1966l-11 10 10 9 11-11z"/><path class=c49 d="M4077 1473l-11 36 11 14 11-36z"/><path class=c42 d="M4098 1550l-11 33 10 14 12-33z"/><path class=c19 d="M4095 1822l-11 19 10 11 11-19z"/><path class=c26 d="M4117 1745l-11 24 11 11 11-24z"/><path class=c18 d="M4084 1841l-12 17 11 10 11-16z"/><path class=c13 d="M3985 1897l-11 12 10 9 12-11z"/><path class=c32 d="M4118 1666l-11 28 11 13 11-28z"/><path class=c21 d="M4106 1802l-11 20 10 11 11-20z"/><path class=c15 d="M4040 1878l-12 14 11 9 11-13z"/><path class=c12 d="M3930 1913l-11 11 11 9 11-11z"/><path class=c9 d="M3821 1946l-11 12 10 9 12-12z"/><path class=c8 d="M3767 1964l-12 10 11 9 11-11z"/><path class=c17 d="M4072 1858l-11 16 11 10 11-16z"/><path class=c11 d="M3876 1929l-11 12 10 8 11-11z"/><path class=c23 d="M4117 1780l-11 22 10 11 12-21z"/><path class=c14 d="M4007 1894l-11 13 10 9 11-12z"/><path class=c48 d="M4088 1487l-11 36 10 14 11-35z"/><path class=c36 d="M4119 1623l-11 30 10 13 11-30z"/><path class=c12 d="M3952 1911l-11 11 11 9 11-11z"/><path class=c41 d="M4109 1564l-12 33 11 13 11-32z"/><path class=c8 d="M3788 1961l-11 11 10 8 12-11z"/><path class=c9 d="M3843 1943l-11 12 10 9 11-12z"/><path class=c11 d="M3898 1926l-12 12 11 9 11-12z"/><path class=c28 d="M4128 1719l-11 26 11 11 11-25z"/><path class=c15 d="M4061 1874l-11 14 11 10 11-14z"/><path class=c14 d="M4028 1892l-11 12 11 10 11-13z"/><path class=c32 d="M4129 1679l-11 28 10 12 12-28z"/><path class=c25 d="M4128 1756l-11 24 11 12 11-24z"/><path class=c12 d="M3974 1909l-11 11 10 9 11-11z"/><path class=c7 d="M3734 1976l-12 10 11 8 11-9z"/><path class=c19 d="M4105 1833l-11 19 11 10 11-18z"/><path class=c20 d="M4116 1813l-11 20 11 11 11-20z"/><path class=c8 d="M3810 1958l-11 11 10 9 11-11z"/><path class=c17 d="M4094 1852l-11 16 11 11 11-17z"/><path class=c47 d="M4098 1502l-11 35 11 13 11-34z"/><path class=c11 d="M3919 1924l-11 11 11 9 11-11z"/><path class=c10 d="M3865 1941l-12 11 11 9 11-12z"/><path class=c7 d="M3755 1974l-11 11 10 8 12-10z"/><path class=c13 d="M3996 1907l-12 11 11 9 11-11z"/><path class=c35 d="M4129 1636l-11 30 11 13 11-30z"/><path class=c14 d="M4050 1888l-11 13 11 10 11-13z"/><path class=c40 d="M4119 1578l-11 32 11 13 11-32z"/><path class=c22 d="M4128 1792l-12 21 11 11 11-21z"/><path class=c16 d="M4083 1868l-11 16 11 10 11-15z"/><path class=c11 d="M3941 1922l-11 11 10 9 12-11z"/><path class=c9 d="M3832 1955l-12 12 11 8 11-11z"/><path class=c10 d="M3886 1938l-11 11 11 9 11-11z"/><path class=c7 d="M3777 1972l-11 11 10 8 11-11z"/><path class=c27 d="M4139 1731l-11 25 11 12 11-25z"/><path class=c13 d="M4017 1904l-11 12 11 9 11-11z"/><path class=c31 d="M4140 1691l-12 28 11 12 11-27z"/><path class=c45 d="M4109 1516l-11 34 11 14 11-34z"/><path class=c12 d="M3963 1920l-11 11 10 9 11-11z"/><path class=c24 d="M4139 1768l-11 24 10 11 12-23z"/><path class=c15 d="M4072 1884l-11 14 11 10 11-14z"/><path class=c10 d="M3908 1935l-11 12 10 8 12-11z"/><path class=c8 d="M3799 1969l-12 11 11 9 11-11z"/><path class=c13 d="M4039 1901l-11 13 11 9 11-12z"/><path class=c39 d="M4130 1591l-11 32 10 13 12-31z"/><path class=c9 d="M3853 1952l-11 12 11 8 11-11z"/><path class=c18 d="M4116 1844l-11 18 11 11 11-18z"/><path class=c20 d="M4127 1824l-11 20 11 11 11-20z"/><path class=c34 d="M4140 1649l-11 30 11 12 11-29z"/><path class=c6 d="M3722 1986l-11 9 10 8 12-9z"/><path class=c12 d="M3984 1918l-11 11 11 9 11-11z"/><path class=c17 d="M4105 1862l-11 17 11 10 11-16z"/><path class=c21 d="M4138 1803l-11 21 11 11 11-21z"/><path class=c6 d="M3744 1985l-11 9 10 8 11-9z"/><path class=c44 d="M4120 1530l-11 34 10 14 12-34z"/><path class=c11 d="M3930 1933l-11 11 10 9 11-11z"/><path class=c8 d="M3820 1967l-11 11 11 8 11-11z"/><path class=c12 d="M4006 1916l-11 11 11 9 11-11z"/><path class=c9 d="M3875 1949l-11 12 10 8 12-11z"/><path class=c14 d="M4061 1898l-11 13 10 10 12-13z"/><path class=c26 d="M4150 1743l-11 25 11 12 11-25z"/><path class=c15 d="M4094 1879l-11 15 10 10 12-15z"/><path class=c30 d="M4150 1704l-11 27 11 12 11-27z"/><path class=c7 d="M3766 1983l-12 10 11 8 11-10z"/><path class=c11 d="M3952 1931l-12 11 11 9 11-11z"/><path class=c38 d="M4141 1605l-12 31 11 13 11-31z"/><path class=c23 d="M4150 1780l-12 23 11 11 11-23z"/><path class=c12 d="M4028 1914l-11 11 11 10 11-12z"/><path class=c33 d="M4151 1662l-11 29 10 13 12-29z"/><path class=c8 d="M3842 1964l-11 11 10 8 12-11z"/><path class=c10 d="M3897 1947l-11 11 10 8 11-11z"/><path class=c7 d="M3787 1980l-11 11 10 8 12-10z"/><path class=c14 d="M4083 1894l-11 14 10 9 11-13z"/><path class=c43 d="M4131 1544l-12 34 11 13 11-33z"/><path class=c11 d="M3973 1929l-11 11 11 9 11-11z"/><path class=c17 d="M4127 1855l-11 18 10 10 12-18z"/><path class=c19 d="M4138 1835l-11 20 11 10 11-19z"/><path class=c13 d="M4050 1911l-11 12 10 10 11-12z"/><path class=c16 d="M4116 1873l-11 16 10 10 11-16z"/><path class=c10 d="M3919 1944l-12 11 11 9 11-11z"/><path class=c21 d="M4149 1814l-11 21 11 11 11-21z"/><path class=c6 d="M3711 1995l-12 8 11 8 11-8z"/><path class=c9 d="M3864 1961l-11 11 10 8 11-11z"/><path class=c7 d="M3809 1978l-11 11 10 8 12-11z"/><path class=c11 d="M3995 1927l-11 11 11 9 11-11z"/><path class=c29 d="M4161 1716l-11 27 11 12 11-27z"/><path class=c26 d="M4161 1755l-11 25 10 11 11-24z"/><path class=c37 d="M4151 1618l-11 31 11 13 11-31z"/><path class=c6 d="M3733 1994l-12 9 10 8 12-9z"/><path class=c15 d="M4105 1889l-12 15 11 10 11-15z"/><path class=c13 d="M4072 1908l-12 13 11 9 11-13z"/><path class=c32 d="M4162 1675l-12 29 11 12 11-29z"/><path class=c10 d="M3940 1942l-11 11 11 8 11-10z"/><path class=c42 d="M4141 1558l-11 33 11 14 11-34z"/><path class=c6 d="M3754 1993l-11 9 10 8 12-9z"/><path class=c12 d="M4017 1925l-11 11 10 9 12-10z"/><path class=c23 d="M4160 1791l-11 23 11 11 11-22z"/><path class=c7 d="M3831 1975l-11 11 10 8 11-11z"/><path class=c9 d="M3886 1958l-12 11 11 8 11-11z"/><path class=c6 d="M3776 1991l-11 10 10 8 11-10z"/><path class=c10 d="M3962 1940l-11 11 10 8 12-10z"/><path class=c12 d="M4039 1923l-11 12 10 9 11-11z"/><path class=c18 d="M4149 1846l-11 19 10 11 11-19z"/><path class=c13 d="M4093 1904l-11 13 11 10 11-13z"/><path class=c17 d="M4138 1865l-12 18 11 10 11-17z"/><path class=c9 d="M3907 1955l-11 11 11 9 11-11z"/><path class=c36 d="M4162 1631l-11 31 11 13 11-31z"/><path class=c8 d="M3853 1972l-12 11 11 8 11-11z"/><path class=c28 d="M4172 1728l-11 27 10 12 12-27z"/><path class=c20 d="M4160 1825l-11 21 10 11 12-21z"/><path class=c25 d="M4171 1767l-11 24 11 12 11-25z"/><path class=c11 d="M3984 1938l-11 11 10 9 12-11z"/><path class=c6 d="M3798 1989l-12 10 11 8 11-10z"/><path class=c41 d="M4152 1571l-11 34 10 13 12-33z"/><path class=c15 d="M4126 1883l-11 16 11 10 11-16z"/><path class=c12 d="M4060 1921l-11 12 11 9 11-12z"/><path class=c31 d="M4172 1687l-11 29 11 12 11-28z"/><path class=c10 d="M3929 1953l-11 11 10 8 12-11z"/><path class=c11 d="M4006 1936l-11 11 10 9 11-11z"/><path class=c22 d="M4171 1803l-11 22 11 11 11-22z"/><path class=c8 d="M3874 1969l-11 11 11 8 11-11z"/><path class=c5 d="M3699 2003l-11 7 10 8 12-7z"/><path class=c7 d="M3820 1986l-12 11 11 8 11-11z"/><path class=c5 d="M3721 2003l-11 8 10 8 11-8z"/><path class=c14 d="M4115 1899l-11 15 11 9 11-14z"/><path class=c13 d="M4082 1917l-11 13 11 9 11-12z"/><path class=c5 d="M3743 2002l-12 9 11 8 11-9z"/><path class=c11 d="M4028 1935l-12 10 11 9 11-10z"/><path class=c10 d="M3951 1951l-11 10 10 9 11-11z"/><path class=c35 d="M4173 1644l-11 31 10 12 12-30z"/><path class=c40 d="M4163 1585l-12 33 11 13 12-32z"/><path class=c6 d="M3765 2001l-12 9 11 8 11-9z"/><path class=c8 d="M3896 1966l-11 11 10 9 12-11z"/><path class=c27 d="M4183 1740l-12 27 11 11 12-26z"/><path class=c7 d="M3841 1983l-11 11 10 8 12-11z"/><path class=c18 d="M4159 1857l-11 19 11 10 11-18z"/><path class=c24 d="M4182 1778l-11 25 11 11 11-24z"/><path class=c16 d="M4148 1876l-11 17 11 10 11-17z"/><path class=c11 d="M4049 1933l-11 11 11 9 11-11z"/><path class=c10 d="M3973 1949l-12 10 11 9 11-10z"/><path class=c31 d="M4183 1700l-11 28 11 12 11-28z"/><path class=c19 d="M4171 1836l-12 21 11 11 11-21z"/><path class=c13 d="M4104 1914l-11 13 11 10 11-14z"/><path class=c6 d="M3786 1999l-11 10 10 8 12-10z"/><path class=c15 d="M4137 1893l-11 16 11 10 11-16z"/><path class=c9 d="M3918 1964l-11 11 10 8 11-11z"/><path class=c7 d="M3863 1980l-11 11 10 8 12-11z"/><path class=c10 d="M3995 1947l-12 11 11 8 11-10z"/><path class=c12 d="M4071 1930l-11 12 11 9 11-12z"/><path class=c21 d="M4182 1814l-11 22 10 11 12-22z"/><path class=c6 d="M3808 1997l-11 10 10 8 12-10z"/><path class=c34 d="M4184 1657l-12 30 11 13 12-30z"/><path class=c39 d="M4174 1599l-12 32 11 13 11-32z"/><path class=c10 d="M4016 1945l-11 11 11 9 11-11z"/><path class=c9 d="M3940 1961l-12 11 11 9 11-11z"/><path class=c13 d="M4126 1909l-11 14 11 10 11-14z"/><path class=c12 d="M4093 1927l-11 12 11 10 11-12z"/><path class=c26 d="M4194 1752l-12 26 11 12 11-26z"/><path class=c8 d="M3885 1977l-11 11 10 9 11-11z"/><path class=c5 d="M3710 2011l-12 7 10 8 12-7z"/><path class=c6 d="M3830 1994l-11 11 10 8 11-11z"/><path class=c5 d="M3731 2011l-11 8 10 8 12-8zM3688 2010l-12 6 10 8 12-6z"/><path class=c30 d="M4194 1712l-11 28 11 12 11-27z"/><path class=c11 d="M4038 1944l-11 10 11 9 11-10z"/><path class=c23 d="M4193 1790l-11 24 11 11 11-24z"/><path class=c5 d="M3753 2010l-11 9 10 8 12-9z"/><path class=c17 d="M4170 1868l-11 18 11 10 11-18z"/><path class=c9 d="M3961 1959l-11 11 11 8 11-10z"/><path class=c15 d="M4159 1886l-11 17 11 10 11-17z"/><path class=c19 d="M4181 1847l-11 21 11 10 11-20z"/><path class=c5 d="M3775 2009l-11 9 10 8 11-9z"/><path class=c8 d="M3907 1975l-12 11 11 8 11-11z"/><path class=c38 d="M4184 1612l-11 32 11 13 11-32z"/><path class=c11 d="M4060 1942l-11 11 11 9 11-11z"/><path class=c12 d="M4115 1923l-11 14 11 9 11-13z"/><path class=c7 d="M3852 1991l-12 11 11 8 11-11z"/><path class=c33 d="M4195 1670l-12 30 11 12 11-29z"/><path class=c10 d="M3983 1958l-11 10 11 9 11-11z"/><path class=c14 d="M4148 1903l-11 16 11 10 11-16z"/><path class=c20 d="M4193 1825l-12 22 11 11 12-22z"/><path class=c5 d="M3797 2007l-12 10 11 8 11-10z"/><path class=c11 d="M4082 1939l-11 12 11 9 11-11z"/><path class=c8 d="M3928 1972l-11 11 11 8 11-10z"/><path class=c10 d="M4005 1956l-11 10 11 9 11-10z"/><path class=c26 d="M4204 1764l-11 26 11 11 11-25z"/><path class=c7 d="M3874 1988l-12 11 11 8 11-10z"/><path class=c29 d="M4205 1725l-11 27 10 12 12-27z"/><path class=c13 d="M4137 1919l-11 14 11 10 11-14z"/><path class=c6 d="M3819 2005l-12 10 11 8 11-10z"/><path class=c22 d="M4204 1801l-11 24 11 11 11-23z"/><path class=c10 d="M4027 1954l-11 11 11 8 11-10z"/><path class=c37 d="M4195 1625l-11 32 11 13 11-31z"/><path class=c11 d="M4104 1937l-11 12 10 9 12-12z"/><path class=c9 d="M3950 1970l-11 11 11 8 11-11z"/><path class=c16 d="M4181 1878l-11 18 11 11 11-18z"/><path class=c32 d="M4205 1683l-11 29 11 13 11-30z"/><path class=c18 d="M4192 1858l-11 20 11 11 11-20z"/><path class=c7 d="M3895 1986l-11 11 11 8 11-11z"/><path class=c10 d="M4049 1953l-11 10 10 9 12-10z"/><path class=c15 d="M4170 1896l-11 17 11 10 11-16z"/><path class=c5 d="M3720 2019l-12 7 11 7 11-6z"/><path class=c6 d="M3840 2002l-11 11 11 8 11-11z"/><path class=c5 d="M3742 2019l-12 8 11 7 11-7zM3698 2018l-12 6 11 8 11-6z"/><path class=c9 d="M3972 1968l-11 10 10 9 12-10z"/><path class=c5 d="M3764 2018l-12 9 11 7 11-8z"/><path class=c20 d="M4204 1836l-12 22 11 11 11-22z"/><path class=c5 d="M3676 2016l-12 6 11 8 11-6z"/><path class=c12 d="M4126 1933l-11 13 10 9 12-12z"/><path class=c10 d="M4071 1951l-11 11 10 9 12-11z"/><path class=c13 d="M4159 1913l-11 16 10 9 12-15z"/><path class=c8 d="M3917 1983l-11 11 10 8 12-11z"/><path class=c25 d="M4215 1776l-11 25 11 12 11-25z"/><path class=c28 d="M4216 1737l-12 27 11 12 12-27z"/><path class=c5 d="M3785 2017l-11 9 10 8 12-9z"/><path class=c9 d="M3994 1966l-11 11 10 8 12-10z"/><path class=c6 d="M3862 1999l-11 11 10 8 12-11z"/><path class=c36 d="M4206 1639l-11 31 10 13 12-31z"/><path class=c11 d="M4093 1949l-11 11 10 9 11-11z"/><path class=c22 d="M4215 1813l-11 23 10 11 12-23z"/><path class=c31 d="M4216 1695l-11 30 11 12 11-29z"/><path class=c5 d="M3807 2015l-11 10 10 7 12-9z"/><path class=c9 d="M4016 1965l-11 10 10 8 12-10z"/><path class=c8 d="M3939 1981l-11 10 10 8 12-10z"/><path class=c12 d="M4148 1929l-11 14 10 9 11-14z"/><path class=c7 d="M3884 1997l-11 10 10 8 12-10z"/><path class=c16 d="M4192 1889l-11 18 11 10 11-18z"/><path class=c17 d="M4203 1869l-11 20 11 10 11-20z"/><path class=c11 d="M4115 1946l-12 12 11 9 11-12z"/><path class=c10 d="M4038 1963l-11 10 10 9 11-10z"/><path class=c5 d="M3829 2013l-11 10 10 8 12-10z"/><path class=c14 d="M4181 1907l-11 16 10 10 12-16z"/><path class=c8 d="M3961 1978l-11 11 10 8 11-10z"/><path class=c19 d="M4214 1847l-11 22 11 10 11-21z"/><path class=c35 d="M4217 1652l-12 31 11 12 12-30z"/><path class=c10 d="M4060 1962l-12 10 11 9 11-10z"/><path class=c27 d="M4227 1749l-12 27 11 12 11-27z"/><path class=c7 d="M3906 1994l-11 11 10 8 11-11z"/><path class=c24 d="M4226 1788l-11 25 11 11 11-25z"/><path class=c6 d="M3851 2010l-11 11 10 7 11-10z"/><path class=c4 d="M3730 2027l-11 6 10 8 12-7z"/><path class=c11 d="M4137 1943l-12 12 11 10 11-13z"/><path class=c8 d="M3983 1977l-12 10 11 8 11-10z"/><path class=c13 d="M4170 1923l-12 15 11 10 11-15z"/><path class=c4 d="M3752 2027l-11 7 10 8 12-8zM3708 2026l-11 6 10 8 12-7z"/><path class=c31 d="M4227 1708l-11 29 11 12 11-29z"/><path class=c10 d="M4082 1960l-12 11 11 8 11-10z"/><path class=c4 d="M3774 2026l-11 8 10 8 11-8z"/><path class=c5 d="M3686 2024l-11 6 10 7 12-5z"/><path class=c21 d="M4226 1824l-12 23 11 11 12-23z"/><path class=c7 d="M3928 1991l-12 11 11 8 11-11z"/><path class=c9 d="M4005 1975l-12 10 11 8 11-10z"/><path class=c5 d="M3796 2025l-12 9 11 7 11-9zM3664 2022l-11 5 10 7 12-4z"/><path class=c6 d="M3873 2007l-12 11 11 8 11-11z"/><path class=c10 d="M4103 1958l-11 11 11 9 11-11z"/><path class=c12 d="M4158 1938l-11 14 11 9 11-13z"/><path class=c34 d="M4228 1665l-12 30 11 13 11-30z"/><path class=c9 d="M4027 1973l-12 10 11 9 11-10z"/><path class=c16 d="M4214 1879l-11 20 11 10 11-19z"/><path class=c15 d="M4203 1899l-11 18 11 10 11-18z"/><path class=c5 d="M3818 2023l-12 9 11 8 11-9z"/><path class=c8 d="M3950 1989l-12 10 11 8 11-10z"/><path class=c26 d="M4237 1761l-11 27 11 11 11-26z"/><path class=c10 d="M4125 1955l-11 12 11 9 11-11z"/><path class=c18 d="M4225 1858l-11 21 11 11 11-21z"/><path class=c13 d="M4192 1917l-12 16 11 10 12-16z"/><path class=c23 d="M4237 1799l-11 25 11 11 11-24z"/><path class=c6 d="M3895 2005l-12 10 11 8 11-10z"/><path class=c9 d="M4048 1972l-11 10 11 8 11-9z"/><path class=c30 d="M4238 1720l-11 29 10 12 12-28z"/><path class=c5 d="M3840 2021l-12 10 11 7 11-10z"/><path class=c8 d="M3971 1987l-11 10 11 8 11-10z"/><path class=c9 d="M4070 1971l-11 10 11 8 11-10z"/><path class=c12 d="M4180 1933l-11 15 11 9 11-14z"/><path class=c20 d="M4237 1835l-12 23 11 11 11-22z"/><path class=c11 d="M4147 1952l-11 13 11 9 11-13z"/><path class=c7 d="M3916 2002l-11 11 11 7 11-10z"/><path class=c33 d="M4238 1678l-11 30 11 12 11-30z"/><path class=c8 d="M3993 1985l-11 10 11 8 11-10z"/><path class=c9 d="M4092 1969l-11 10 11 9 11-10z"/><path class=c5 d="M3861 2018l-11 10 11 8 11-10z"/><path class=c4 d="M3741 2034l-12 7 10 8 12-7zM3719 2033l-12 7 10 7 12-6zM3763 2034l-12 8 10 7 12-7zM3697 2032l-12 5 10 8 12-5zM3784 2034l-11 8 10 7 12-8z"/><path class=c25 d="M4248 1773l-11 26 11 12 11-26z"/><path class=c8 d="M4015 1983l-11 10 11 8 11-9z"/><path class=c7 d="M3938 1999l-11 11 11 8 11-11z"/><path class=c10 d="M4114 1967l-11 11 11 9 11-11z"/><path class=c16 d="M4225 1890l-11 19 11 10 11-19z"/><path class=c14 d="M4214 1909l-11 18 10 10 12-18z"/><path class=c11 d="M4169 1948l-11 13 11 10 11-14z"/><path class=c29 d="M4249 1733l-12 28 11 12 12-28z"/><path class=c22 d="M4248 1811l-11 24 10 12 12-25z"/><path class=c5 d="M3675 2030l-12 4 10 8 12-5z"/><path class=c4 d="M3806 2032l-11 9 10 8 12-9z"/><path class=c6 d="M3883 2015l-11 11 10 7 12-10z"/><path class=c18 d="M4236 1869l-11 21 11 10 11-20z"/><path class=c8 d="M4037 1982l-11 10 11 8 11-10z"/><path class=c13 d="M4203 1927l-12 16 11 9 11-15z"/><path class=c10 d="M4136 1965l-11 11 11 9 11-11z"/><path class=c7 d="M3960 1997l-11 10 11 8 11-10z"/><path class=c4 d="M3828 2031l-11 9 10 8 12-10z"/><path class=c5 d="M3653 2027l-12 4 10 8 12-5z"/><path class=c32 d="M4249 1690l-11 30 11 13 11-30z"/><path class=c9 d="M4059 1981l-11 9 11 9 11-10z"/><path class=c19 d="M4247 1847l-11 22 11 11 11-22z"/><path class=c6 d="M3905 2013l-11 10 10 8 12-11z"/><path class=c12 d="M4191 1943l-11 14 11 10 11-15z"/><path class=c7 d="M3982 1995l-11 10 11 8 11-10z"/><path class=c9 d="M4081 1979l-11 10 11 9 11-10z"/><path class=c5 d="M3850 2028l-11 10 10 8 12-10z"/><path class=c10 d="M4158 1961l-11 13 11 9 11-12z"/><path class=c25 d="M4259 1785l-11 26 11 11 11-25z"/><path class=c28 d="M4260 1745l-12 28 11 12 12-28z"/><path class=c6 d="M3927 2010l-11 10 10 8 12-10z"/><path class=c9 d="M4103 1978l-11 10 11 9 11-10z"/><path class=c8 d="M4004 1993l-11 10 11 8 11-10z"/><path class=c22 d="M4259 1822l-12 25 11 11 12-24z"/><path class=c15 d="M4236 1900l-11 19 11 10 11-18z"/><path class=c5 d="M3872 2026l-11 10 10 7 11-10z"/><path class=c4 d="M3751 2042l-12 7 11 7 11-7z"/><path class=c14 d="M4225 1919l-12 18 11 9 12-17z"/><path class=c4 d="M3729 2041l-12 6 11 8 11-6zM3773 2042l-12 7 11 8 11-8z"/><path class=c17 d="M4247 1880l-11 20 11 11 11-21z"/><path class=c9 d="M4125 1976l-11 11 11 8 11-10z"/><path class=c11 d="M4180 1957l-11 14 11 9 11-13z"/><path class=c32 d="M4260 1703l-11 30 11 12 11-29z"/><path class=c8 d="M4026 1992l-11 9 11 9 11-10z"/><path class=c4 d="M3707 2040l-12 5 11 8 11-6zM3795 2041l-12 8 11 8 11-8z"/><path class=c7 d="M3949 2007l-11 11 10 7 12-10z"/><path class=c12 d="M4213 1937l-11 15 11 10 11-16z"/><path class=c19 d="M4258 1858l-11 22 11 10 11-22z"/><path class=c4 d="M3685 2037l-12 5 11 8 11-5z"/><path class=c5 d="M3894 2023l-12 10 11 8 11-10z"/><path class=c4 d="M3817 2040l-12 9 11 7 11-8z"/><path class=c8 d="M4048 1990l-11 10 11 8 11-9z"/><path class=c9 d="M4147 1974l-11 11 11 9 11-11z"/><path class=c7 d="M3971 2005l-11 10 10 8 12-10z"/><path class=c24 d="M4270 1797l-11 25 11 12 11-26z"/><path class=c8 d="M4070 1989l-11 10 11 8 11-9z"/><path class=c27 d="M4271 1757l-12 28 11 12 12-28z"/><path class=c5 d="M3663 2034l-12 5 11 7 11-4z"/><path class=c4 d="M3839 2038l-12 10 11 7 11-9z"/><path class=c11 d="M4202 1952l-11 15 11 9 11-14z"/><path class=c6 d="M3916 2020l-12 11 11 7 11-10z"/><path class=c10 d="M4169 1971l-11 12 11 9 11-12z"/><path class=c8 d="M4092 1988l-11 10 11 8 11-9z"/><path class=c21 d="M4270 1834l-12 24 11 10 12-23z"/><path class=c7 d="M3993 2003l-11 10 10 8 12-10z"/><path class=c31 d="M4271 1716l-11 29 11 12 11-29z"/><path class=c5 d="M3641 2031l-12 4 10 8 12-4z"/><path class=c4 d="M3861 2036l-12 10 11 7 11-10z"/><path class=c15 d="M4247 1911l-11 18 11 10 11-18z"/><path class=c9 d="M4114 1987l-11 10 11 8 11-10z"/><path class=c16 d="M4258 1890l-11 21 11 10 11-20z"/><path class=c13 d="M4236 1929l-12 17 11 10 12-17z"/><path class=c6 d="M3938 2018l-12 10 11 8 11-11z"/><path class=c7 d="M4015 2001l-11 10 10 8 12-9z"/><path class=c10 d="M4191 1967l-11 13 11 9 11-13z"/><path class=c9 d="M4136 1985l-11 10 11 9 11-10z"/><path class=c5 d="M3882 2033l-11 10 11 8 11-10z"/><path class=c18 d="M4269 1868l-11 22 11 11 11-22z"/><path class=c3 d="M3761 2049l-11 7 10 8 12-7z"/><path class=c12 d="M4224 1946l-11 16 11 9 11-15z"/><path class=c3 d="M3739 2049l-11 6 10 7 12-6zM3783 2049l-11 8 10 7 12-7z"/><path class=c7 d="M4037 2000l-11 10 10 8 12-10z"/><path class=c26 d="M4282 1769l-12 28 11 11 12-27z"/><path class=c23 d="M4281 1808l-11 26 11 11 11-25z"/><path class=c4 d="M3717 2047l-11 6 10 7 12-5z"/><path class=c6 d="M3960 2015l-12 10 11 8 11-10z"/><path class=c3 d="M3805 2049l-11 8 10 7 12-8z"/><path class=c9 d="M4158 1983l-11 11 11 8 11-10z"/><path class=c8 d="M4059 1999l-11 9 10 8 12-9z"/><path class=c30 d="M4282 1728l-11 29 11 12 11-28z"/><path class=c4 d="M3695 2045l-11 5 10 7 12-4z"/><path class=c5 d="M3904 2031l-11 10 11 7 11-10z"/><path class=c4 d="M3827 2048l-11 8 10 8 12-9z"/><path class=c20 d="M4281 1845l-12 23 11 11 12-23z"/><path class=c11 d="M4213 1962l-11 14 11 9 11-14z"/><path class=c8 d="M4081 1998l-11 9 10 8 12-9z"/><path class=c6 d="M3982 2013l-12 10 11 8 11-10z"/><path class=c4 d="M3673 2042l-11 4 10 8 12-4z"/><path class=c9 d="M4180 1980l-11 12 11 8 11-11z"/><path class=c4 d="M3849 2046l-11 9 10 7 12-9z"/><path class=c14 d="M4258 1921l-11 18 10 10 12-18z"/><path class=c8 d="M4103 1997l-11 9 10 8 12-9z"/><path class=c16 d="M4269 1901l-11 20 11 10 11-20z"/><path class=c5 d="M3926 2028l-11 10 11 8 11-10z"/><path class=c12 d="M4247 1939l-12 17 11 10 11-17z"/><path class=c7 d="M4004 2011l-12 10 11 8 11-10z"/><path class=c8 d="M4125 1995l-11 10 10 8 12-9z"/><path class=c5 d="M3651 2039l-12 4 11 7 12-4z"/><path class=c26 d="M4293 1781l-12 27 11 12 12-27z"/><path class=c17 d="M4280 1879l-11 22 11 10 11-21z"/><path class=c4 d="M3871 2043l-11 10 10 7 12-9z"/><path class=c22 d="M4292 1820l-11 25 11 11 11-25z"/><path class=c10 d="M4202 1976l-11 13 11 9 11-13z"/><path class=c7 d="M4026 2010l-12 9 11 8 11-9z"/><path class=c11 d="M4235 1956l-11 15 11 10 11-15z"/><path class=c29 d="M4293 1741l-11 28 11 12 11-28z"/><path class=c6 d="M3948 2025l-11 11 11 7 11-10z"/><path class=c8 d="M4147 1994l-11 10 11 8 11-10z"/><path class=c5 d="M3629 2035l-12 3 10 8 12-3z"/><path class=c4 d="M3893 2041l-11 10 10 7 12-10z"/><path class=c7 d="M4048 2008l-12 10 11 7 11-9z"/><path class=c19 d="M4292 1856l-12 23 11 11 12-23z"/><path class=c3 d="M3772 2057l-12 7 11 7 11-7zM3750 2056l-12 6 11 7 11-5zM3794 2057l-12 7 11 8 11-8z"/><path class=c8 d="M4169 1992l-11 10 11 9 11-11z"/><path class=c6 d="M3970 2023l-11 10 11 8 11-10z"/><path class=c3 d="M3728 2055l-12 5 10 7 12-5zM3816 2056l-12 8 11 7 11-7z"/><path class=c7 d="M4070 2007l-12 9 11 8 11-9z"/><path class=c10 d="M4224 1971l-11 14 11 9 11-13z"/><path class=c4 d="M3706 2053l-12 4 10 8 12-5z"/><path class=c5 d="M3915 2038l-11 10 10 8 12-10z"/><path class=c13 d="M4269 1931l-12 18 11 10 12-18z"/><path class=c15 d="M4280 1911l-11 20 11 10 11-19z"/><path class=c3 d="M3838 2055l-12 9 11 7 11-9z"/><path class=c7 d="M4092 2006l-12 9 11 8 11-9z"/><path class=c9 d="M4191 1989l-11 11 11 9 11-11z"/><path class=c25 d="M4304 1793l-12 27 11 11 12-26z"/><path class=c6 d="M3992 2021l-11 10 11 7 11-9z"/><path class=c12 d="M4257 1949l-11 17 11 9 11-16z"/><path class=c28 d="M4304 1753l-11 28 11 12 11-28z"/><path class=c22 d="M4303 1831l-11 25 11 11 11-24z"/><path class=c17 d="M4291 1890l-11 21 11 11 11-21z"/><path class=c4 d="M3684 2050l-12 4 10 7 12-4z"/><path class=c8 d="M4114 2005l-12 9 11 9 11-10z"/><path class=c3 d="M3860 2053l-12 9 11 7 11-9z"/><path class=c5 d="M3937 2036l-11 10 10 7 12-10z"/><path class=c6 d="M4014 2019l-11 10 11 7 11-9z"/><path class=c8 d="M4136 2004l-12 9 11 9 12-10z"/><path class=c9 d="M4213 1985l-11 13 11 9 11-13z"/><path class=c11 d="M4246 1966l-11 15 11 9 11-15z"/><path class=c4 d="M3662 2046l-12 4 10 8 12-4z"/><path class=c19 d="M4303 1867l-12 23 11 11 12-23z"/><path class=c4 d="M3882 2051l-12 9 11 8 11-10z"/><path class=c8 d="M4158 2002l-11 10 10 9 12-10z"/><path class=c7 d="M4036 2018l-11 9 11 8 11-10z"/><path class=c5 d="M3959 2033l-11 10 10 8 12-10zM3639 2043l-12 3 11 8 12-4z"/><path class=c7 d="M4058 2016l-11 9 11 8 11-9z"/><path class=c8 d="M4180 2000l-11 11 11 8 11-10z"/><path class=c24 d="M4315 1805l-12 26 11 12 12-27z"/><path class=c4 d="M3904 2048l-12 10 11 7 11-9z"/><path class=c10 d="M4235 1981l-11 13 11 9 11-13z"/><path class=c3 d="M3782 2064l-11 7 10 7 12-6z"/><path class=c27 d="M4315 1765l-11 28 11 12 11-28z"/><path class=c3 d="M3760 2064l-11 5 10 8 12-6z"/><path class=c14 d="M4291 1922l-11 19 11 10 11-19z"/><path class=c3 d="M3804 2064l-11 8 10 7 12-8z"/><path class=c13 d="M4280 1941l-12 18 12 10 11-18z"/><path class=c6 d="M3981 2031l-11 10 10 7 12-10z"/><path class=c7 d="M4080 2015l-11 9 11 8 11-9z"/><path class=c21 d="M4314 1843l-11 24 11 11 11-24z"/><path class=c3 d="M3738 2062l-12 5 11 8 12-6zM3826 2064l-11 7 10 8 12-8z"/><path class=c16 d="M4302 1901l-11 21 11 10 11-21z"/><path class=c8 d="M4202 1998l-11 11 11 9 11-11z"/><path class=c11 d="M4268 1959l-11 16 11 10 12-16z"/><path class=c7 d="M4102 2014l-11 9 11 8 11-8z"/><path class=c4 d="M3926 2046l-12 10 11 7 11-10z"/><path class=c3 d="M3716 2060l-12 5 11 7 11-5zM3848 2062l-11 9 10 7 12-9z"/><path class=c6 d="M4003 2029l-11 9 10 8 12-10z"/><path class=c7 d="M4124 2013l-11 10 11 8 11-9z"/><path class=c18 d="M4314 1878l-12 23 11 10 12-22z"/><path class=c4 d="M3694 2057l-12 4 11 8 11-4z"/><path class=c10 d="M4257 1975l-11 15 11 9 11-14z"/><path class=c3 d="M3870 2060l-11 9 10 8 12-9z"/><path class=c9 d="M4224 1994l-11 13 11 8 11-12z"/><path class=c7 d="M4147 2012l-12 10 11 8 11-9z"/><path class=c5 d="M3948 2043l-12 10 11 7 11-9z"/><path class=c6 d="M4025 2027l-11 9 11 8 11-9z"/><path class=c23 d="M4326 1816l-12 27 11 11 12-26z"/><path class=c26 d="M4326 1777l-11 28 11 11 11-27z"/><path class=c4 d="M3672 2054l-12 4 10 7 12-4z"/><path class=c7 d="M4169 2011l-12 10 11 8 12-10z"/><path class=c3 d="M3892 2058l-11 10 10 7 12-10z"/><path class=c6 d="M4047 2025l-11 10 11 7 11-9z"/><path class=c20 d="M4325 1854l-11 24 11 11 11-24z"/><path class=c5 d="M3970 2041l-12 10 11 7 11-10z"/><path class=c14 d="M4302 1932l-11 19 11 10 11-19z"/><path class=c8 d="M4191 2009l-11 10 11 9 11-10z"/><path class=c12 d="M4291 1951l-11 18 11 9 11-17z"/><path class=c9 d="M4246 1990l-11 13 11 9 11-13z"/><path class=c6 d="M4069 2024l-11 9 11 8 11-9z"/><path class=c4 d="M3650 2050l-12 4 10 7 12-3z"/><path class=c15 d="M4313 1911l-11 21 11 10 11-20z"/><path class=c4 d="M3914 2056l-11 9 10 8 12-10z"/><path class=c11 d="M4280 1969l-12 16 11 9 12-16z"/><path class=c3 d="M3793 2072l-12 6 11 7 11-6z"/><path class=c7 d="M4091 2023l-11 9 11 8 11-9z"/><path class=c3 d="M3771 2071l-12 6 10 7 12-6z"/><path class=c5 d="M3992 2038l-12 10 11 7 11-9z"/><path class=c3 d="M3815 2071l-12 8 11 7 11-7z"/><path class=c8 d="M4213 2007l-11 11 11 8 11-11z"/><path class=c3 d="M3749 2069l-12 6 10 7 12-5z"/><path class=c17 d="M4325 1889l-12 22 11 11 12-23z"/><path class=c7 d="M4113 2023l-11 8 11 8 11-8z"/><path class=c3 d="M3837 2071l-12 8 11 7 11-8z"/><path class=c26 d="M4337 1789l-11 27 11 12 11-27z"/><path class=c4 d="M3936 2053l-11 10 11 7 11-10z"/><path class=c3 d="M3726 2067l-11 5 10 7 12-4z"/><path class=c22 d="M4337 1828l-12 26 11 11 12-26z"/><path class=c7 d="M4135 2022l-11 9 11 8 11-9z"/><path class=c6 d="M4014 2036l-12 10 11 7 12-9z"/><path class=c10 d="M4268 1985l-11 14 11 9 11-14z"/><path class=c3 d="M3859 2069l-12 9 11 7 11-8z"/><path class=c8 d="M4235 2003l-11 12 11 9 11-12z"/><path class=c7 d="M4157 2021l-11 9 11 8 11-9z"/><path class=c3 d="M3704 2065l-11 4 10 7 12-4z"/><path class=c19 d="M4336 1865l-11 24 11 10 11-23z"/><path class=c3 d="M3881 2068l-12 9 11 7 11-9z"/><path class=c6 d="M4036 2035l-11 9 10 7 12-9z"/><path class=c4 d="M3958 2051l-11 9 11 8 11-10z"/><path class=c7 d="M4180 2019l-12 10 11 8 12-9z"/><path class=c13 d="M4313 1942l-11 19 11 10 11-19z"/><path class=c4 d="M3682 2061l-12 4 11 7 12-3z"/><path class=c12 d="M4302 1961l-11 17 11 10 11-17z"/><path class=c15 d="M4324 1922l-11 20 11 10 12-20z"/><path class=c6 d="M4058 2033l-11 9 10 8 12-9z"/><path class=c9 d="M4257 1999l-11 13 11 9 11-13z"/><path class=c3 d="M3903 2065l-12 10 11 7 11-9z"/><path class=c7 d="M4202 2018l-11 10 11 8 11-10z"/><path class=c5 d="M3980 2048l-11 10 11 7 11-10z"/><path class=c10 d="M4291 1978l-12 16 11 9 12-15z"/><path class=c17 d="M4336 1899l-12 23 12 10 11-22z"/><path class=c6 d="M4080 2032l-11 9 11 8 11-9z"/><path class=c25 d="M4348 1801l-11 27 11 11 11-26z"/><path class=c4 d="M3660 2058l-12 3 10 7 12-3z"/><path class=c22 d="M4348 1839l-12 26 11 11 12-25z"/><path class=c7 d="M4224 2015l-11 11 11 9 11-11z"/><path class=c6 d="M4102 2031l-11 9 11 8 11-9z"/><path class=c3 d="M3925 2063l-12 10 11 7 12-10z"/><path class=c5 d="M4002 2046l-11 9 11 8 11-10z"/><path class=c2 d="M3803 2079l-11 6 10 7 12-6zM3781 2078l-12 6 11 7 12-6zM3825 2079l-11 7 10 7 12-7z"/><path class=c6 d="M4124 2031l-11 8 11 8 11-8z"/><path class=c3 d="M3759 2077l-12 5 11 7 11-5z"/><path class=c9 d="M4279 1994l-11 14 11 9 11-14z"/><path class=c19 d="M4347 1876l-11 23 11 11 11-23z"/><path class=c2 d="M3847 2078l-11 8 10 7 12-8z"/><path class=c6 d="M4146 2030l-11 9 11 7 11-8z"/><path class=c8 d="M4246 2012l-11 12 11 9 11-12z"/><path class=c4 d="M3947 2060l-11 10 10 7 12-9z"/><path class=c3 d="M3737 2075l-12 4 11 7 11-4z"/><path class=c5 d="M4025 2044l-12 9 11 8 11-10z"/><path class=c2 d="M3869 2077l-11 8 10 7 12-8z"/><path class=c6 d="M4168 2029l-11 9 11 8 11-9z"/><path class=c13 d="M4324 1952l-11 19 11 9 11-18z"/><path class=c14 d="M4336 1932l-12 20 11 10 12-20z"/><path class=c3 d="M3715 2072l-12 4 10 7 12-4z"/><path class=c11 d="M4313 1971l-11 17 11 9 11-17z"/><path class=c7 d="M4191 2028l-12 9 11 8 12-9z"/><path class=c5 d="M4047 2042l-12 9 11 8 11-9z"/><path class=c24 d="M4359 1813l-11 26 11 12 11-27z"/><path class=c3 d="M3891 2075l-11 9 11 7 11-9z"/><path class=c4 d="M3969 2058l-11 10 10 7 12-10z"/><path class=c8 d="M4268 2008l-11 13 11 9 11-13z"/><path class=c16 d="M4347 1910l-11 22 11 10 11-21z"/><path class=c21 d="M4359 1851l-12 25 11 11 12-25z"/><path class=c3 d="M3693 2069l-12 3 10 8 12-4z"/><path class=c7 d="M4213 2026l-11 10 11 8 11-9z"/><path class=c6 d="M4069 2041l-12 9 11 7 12-8z"/><path class=c10 d="M4302 1988l-12 15 12 9 11-15z"/><path class=c3 d="M3913 2073l-11 9 11 7 11-9z"/><path class=c4 d="M3991 2055l-11 10 11 7 11-9z"/><path class=c6 d="M4091 2040l-11 9 10 7 12-8z"/><path class=c7 d="M4235 2024l-11 11 11 8 11-10z"/><path class=c18 d="M4358 1887l-11 23 11 11 11-23z"/><path class=c4 d="M3670 2065l-12 3 11 8 12-4z"/><path class=c6 d="M4113 2039l-11 9 11 7 11-8z"/><path class=c9 d="M4290 2003l-11 14 11 9 12-14z"/><path class=c3 d="M3936 2070l-12 10 11 7 11-10z"/><path class=c5 d="M4013 2053l-11 10 11 7 11-9z"/><path class=c6 d="M4135 2039l-11 8 11 8 11-9z"/><path class=c2 d="M3814 2086l-12 6 11 7 11-6zM3792 2085l-12 6 10 7 12-6zM3836 2086l-12 7 11 7 11-7z"/><path class=c7 d="M4257 2021l-11 12 11 8 11-11z"/><path class=c23 d="M4370 1824l-11 27 11 11 11-26z"/><path class=c2 d="M3769 2084l-11 5 10 7 12-5z"/><path class=c12 d="M4335 1962l-11 18 11 10 11-18z"/><path class=c6 d="M4157 2038l-11 8 11 8 11-8z"/><path class=c14 d="M4347 1942l-12 20 11 10 12-20z"/><path class=c2 d="M3858 2085l-12 8 11 6 11-7z"/><path class=c11 d="M4324 1980l-11 17 11 9 11-16z"/><path class=c4 d="M3958 2068l-12 9 11 7 11-9z"/><path class=c5 d="M4035 2051l-11 10 11 7 11-9z"/><path class=c3 d="M3747 2082l-11 4 10 7 12-4z"/><path class=c6 d="M4179 2037l-11 9 11 8 11-9z"/><path class=c20 d="M4370 1862l-12 25 11 11 12-25z"/><path class=c15 d="M4358 1921l-11 21 11 10 11-21z"/><path class=c2 d="M3880 2084l-12 8 11 7 12-8z"/><path class=c6 d="M4202 2036l-12 9 11 8 12-9z"/><path class=c3 d="M3725 2079l-12 4 11 7 12-4z"/><path class=c8 d="M4279 2017l-11 13 11 8 11-12z"/><path class=c5 d="M4057 2050l-11 9 11 7 11-9z"/><path class=c9 d="M4313 1997l-11 15 11 9 11-15z"/><path class=c4 d="M3980 2065l-12 10 11 7 12-10z"/><path class=c2 d="M3902 2082l-11 9 10 6 12-8z"/><path class=c6 d="M4224 2035l-11 9 11 9 11-10z"/><path class=c17 d="M4369 1898l-11 23 11 10 12-23z"/><path class=c5 d="M4080 2049l-12 8 11 8 11-9z"/><path class=c3 d="M3703 2076l-12 4 10 7 12-4z"/><path class=c7 d="M4246 2033l-11 10 11 8 11-10z"/><path class=c3 d="M3924 2080l-11 9 10 7 12-9z"/><path class=c5 d="M4102 2048l-12 8 11 7 12-8z"/><path class=c23 d="M4381 1836l-11 26 11 11 12-26z"/><path class=c4 d="M4002 2063l-11 9 10 7 12-9z"/><path class=c8 d="M4302 2012l-12 14 12 9 11-14z"/><path class=c4 d="M3681 2072l-12 4 10 7 12-3z"/><path class=c6 d="M4124 2047l-11 8 11 8 11-8z"/><path class=c13 d="M4358 1952l-12 20 12 10 11-20z"/><path class=c11 d="M4346 1972l-11 18 11 9 12-17z"/><path class=c19 d="M4381 1873l-12 25 12 10 11-24z"/><path class=c7 d="M4268 2030l-11 11 11 8 11-11z"/><path class=c6 d="M4146 2046l-11 9 11 7 11-8z"/><path class=c3 d="M3946 2077l-11 10 11 6 11-9z"/><path class=c4 d="M4024 2061l-11 9 10 7 12-9z"/><path class=c15 d="M4369 1931l-11 21 11 10 11-21z"/><path class=c10 d="M4335 1990l-11 16 11 10 11-17z"/><path class=c2 d="M3824 2093l-11 6 10 7 12-6z"/><path class=c6 d="M4168 2046l-11 8 11 8 11-8z"/><path class=c2 d="M3802 2092l-12 6 11 7 12-6zM3846 2093l-11 7 10 6 12-7zM3780 2091l-12 5 11 7 11-5z"/><path class=c6 d="M4190 2045l-11 9 11 8 11-9z"/><path class=c2 d="M3868 2092l-11 7 11 7 11-7z"/><path class=c5 d="M4046 2059l-11 9 11 7 11-9z"/><path class=c3 d="M3968 2075l-11 9 11 7 11-9z"/><path class=c2 d="M3758 2089l-12 4 10 7 12-4z"/><path class=c17 d="M4381 1908l-12 23 11 10 12-22z"/><path class=c7 d="M4290 2026l-11 12 11 9 12-12z"/><path class=c6 d="M4213 2044l-12 9 11 8 12-8z"/><path class=c9 d="M4324 2006l-11 15 11 9 11-14z"/><path class=c2 d="M3891 2091l-12 8 11 6 11-8z"/><path class=c22 d="M4393 1847l-12 26 11 11 12-25z"/><path class=c3 d="M3736 2086l-12 4 10 7 12-4z"/><path class=c5 d="M4068 2057l-11 9 11 7 11-8z"/><path class=c6 d="M4235 2043l-11 10 11 8 11-10z"/><path class=c4 d="M3991 2072l-12 10 11 7 11-10z"/><path class=c2 d="M3913 2089l-12 8 11 7 11-8z"/><path class=c5 d="M4090 2056l-11 9 11 7 11-9z"/><path class=c3 d="M3713 2083l-12 4 11 7 12-4z"/><path class=c19 d="M4392 1884l-11 24 11 11 11-24z"/><path class=c6 d="M4257 2041l-11 10 11 8 11-10z"/><path class=c8 d="M4313 2021l-11 14 11 8 11-13z"/><path class=c12 d="M4369 1962l-11 20 11 9 11-19z"/><path class=c11 d="M4358 1982l-12 17 11 10 12-18z"/><path class=c5 d="M4113 2055l-12 8 11 8 12-8z"/><path class=c2 d="M3935 2087l-12 9 11 6 12-9z"/><path class=c4 d="M4013 2070l-12 9 11 7 11-9z"/><path class=c14 d="M4380 1941l-11 21 11 10 12-20z"/><path class=c5 d="M4135 2055l-11 8 11 7 11-8z"/><path class=c3 d="M3691 2080l-12 3 11 7 11-3z"/><path class=c6 d="M4279 2038l-11 11 11 9 11-11z"/><path class=c10 d="M4346 1999l-11 17 11 9 11-16z"/><path class=c5 d="M4157 2054l-11 8 11 8 11-8z"/><path class=c16 d="M4392 1919l-12 22 12 11 11-23z"/><path class=c4 d="M4035 2068l-12 9 11 7 12-9z"/><path class=c3 d="M3957 2084l-11 9 10 7 12-9z"/><path class=c5 d="M4179 2054l-11 8 11 7 11-7z"/><path class=c21 d="M4404 1859l-12 25 11 11 12-25z"/><path class=c2 d="M3835 2100l-12 6 11 6 11-6zM3813 2099l-12 6 11 6 11-5z"/><path class=c5 d="M4201 2053l-11 9 11 7 11-8z"/><path class=c2 d="M3857 2099l-12 7 11 7 12-7z"/><path class=c8 d="M4335 2016l-11 14 11 9 11-14z"/><path class=c2 d="M3790 2098l-11 5 10 6 12-4z"/><path class=c7 d="M4302 2035l-12 12 12 8 11-12z"/><path class=c6 d="M4224 2053l-12 8 12 8 11-8z"/><path class=c4 d="M4057 2066l-11 9 11 7 11-9z"/><path class=c2 d="M3879 2099l-11 7 10 7 12-8z"/><path class=c3 d="M3979 2082l-11 9 11 7 11-9z"/><path class=c2 d="M3768 2096l-12 4 11 7 12-4z"/><path class=c18 d="M4403 1895l-11 24 11 10 11-23z"/><path class=c6 d="M4246 2051l-11 10 11 7 11-9z"/><path class=c2 d="M3901 2097l-11 8 10 7 12-8z"/><path class=c5 d="M4079 2065l-11 8 11 7 11-8z"/><path class=c2 d="M3746 2093l-12 4 11 7 11-4z"/><path class=c12 d="M4380 1972l-11 19 11 10 11-19z"/><path class=c10 d="M4369 1991l-12 18 12 9 11-17z"/><path class=c3 d="M4001 2079l-11 10 11 6 11-9z"/><path class=c6 d="M4268 2049l-11 10 11 8 11-9z"/><path class=c14 d="M4392 1952l-12 20 11 10 12-20z"/><path class=c7 d="M4324 2030l-11 13 11 9 11-13z"/><path class=c5 d="M4101 2063l-11 9 11 7 11-8z"/><path class=c2 d="M3923 2096l-11 8 11 7 11-9z"/><path class=c3 d="M3724 2090l-12 4 10 7 12-4z"/><path class=c9 d="M4357 2009l-11 16 11 9 12-16z"/><path class=c5 d="M4124 2063l-12 8 11 7 12-8z"/><path class=c15 d="M4403 1929l-11 23 11 10 11-22z"/><path class=c20 d="M4415 1870l-12 25 11 11 12-25z"/><path class=c6 d="M4290 2047l-11 11 11 8 12-11z"/><path class=c4 d="M4023 2077l-11 9 11 7 11-9z"/><path class=c2 d="M3946 2093l-12 9 11 7 11-9z"/><path class=c5 d="M4146 2062l-11 8 11 7 11-7z"/><path class=c3 d="M3701 2087l-11 3 10 7 12-3z"/><path class=c5 d="M4168 2062l-11 8 11 7 11-8zM4190 2062l-11 7 11 8 11-8z"/><path class=c8 d="M4346 2025l-11 14 11 9 11-14z"/><path class=c4 d="M4046 2075l-12 9 11 7 12-9z"/><path class=c17 d="M4414 1906l-11 23 11 11 12-23z"/><path class=c3 d="M3968 2091l-12 9 11 7 12-9z"/><path class=c6 d="M4313 2043l-11 12 11 9 11-12z"/><path class=c5 d="M4212 2061l-11 8 11 8 12-8z"/><path class=c1 d="M3845 2106l-11 6 10 7 12-6zM3823 2106l-11 5 10 7 12-6z"/><path class=c5 d="M4235 2061l-11 8 11 8 11-9z"/><path class=c1 d="M3868 2106l-12 7 11 7 11-7z"/><path class=c2 d="M3801 2105l-12 4 11 7 12-5z"/><path class=c4 d="M4068 2073l-11 9 10 7 12-9z"/><path class=c11 d="M4391 1982l-11 19 11 9 12-18z"/><path class=c1 d="M3890 2105l-12 8 11 6 11-7z"/><path class=c5 d="M4257 2059l-11 9 11 8 11-9z"/><path class=c3 d="M3990 2089l-11 9 10 7 12-10z"/><path class=c13 d="M4403 1962l-12 20 12 10 11-20z"/><path class=c2 d="M3779 2103l-12 4 11 7 11-5z"/><path class=c10 d="M4380 2001l-11 17 11 9 11-17z"/><path class=c4 d="M4090 2072l-11 8 11 7 11-8z"/><path class=c7 d="M4335 2039l-11 13 11 8 11-12z"/><path class=c20 d="M4426 1881l-12 25 12 11 11-25z"/><path class=c2 d="M3912 2104l-12 8 11 7 12-8z"/><path class=c5 d="M4279 2058l-11 9 11 8 11-9z"/><path class=c2 d="M3756 2100l-11 4 10 7 12-4z"/><path class=c15 d="M4414 1940l-11 22 11 10 11-22z"/><path class=c9 d="M4369 2018l-12 16 12 8 11-15z"/><path class=c3 d="M4012 2086l-11 9 11 7 11-9z"/><path class=c4 d="M4112 2071l-11 8 11 7 11-8z"/><path class=c2 d="M3934 2102l-11 9 10 6 12-8zM3734 2097l-12 4 11 6 12-3z"/><path class=c6 d="M4302 2055l-12 11 12 8 11-10z"/><path class=c5 d="M4135 2070l-12 8 11 7 12-8z"/><path class=c17 d="M4426 1917l-12 23 11 10 12-23z"/><path class=c5 d="M4157 2070l-11 7 11 8 11-8z"/><path class=c3 d="M4034 2084l-11 9 11 7 11-9z"/><path class=c2 d="M3956 2100l-11 9 11 7 11-9z"/><path class=c7 d="M4357 2034l-11 14 11 8 12-14z"/><path class=c3 d="M3712 2094l-12 3 10 7 12-3z"/><path class=c5 d="M4179 2069l-11 8 11 7 11-7zM4201 2069l-11 8 11 7 11-7z"/><path class=c6 d="M4324 2052l-11 12 11 8 11-12z"/><path class=c5 d="M4224 2069l-12 8 12 7 11-7z"/><path class=c4 d="M4057 2082l-12 9 11 7 11-9z"/><path class=c11 d="M4403 1992l-12 18 12 9 11-18z"/><path class=c12 d="M4414 1972l-11 20 11 9 11-19z"/><path class=c2 d="M3979 2098l-12 9 11 6 11-8z"/><path class=c5 d="M4246 2068l-11 9 11 7 11-8z"/><path class=c19 d="M4437 1892l-11 25 11 10 12-24z"/><path class=c9 d="M4391 2010l-11 17 11 9 12-17z"/><path class=c1 d="M3856 2113l-12 6 11 7 12-6zM3834 2112l-12 6 11 6 11-5z"/><path class=c14 d="M4425 1950l-11 22 11 10 12-22z"/><path class=c5 d="M4268 2067l-11 9 11 8 11-9z"/><path class=c1 d="M3878 2113l-11 7 10 6 12-7zM3812 2111l-12 5 10 7 12-5z"/><path class=c4 d="M4079 2080l-12 9 11 7 12-9z"/><path class=c6 d="M4346 2048l-11 12 11 9 11-13z"/><path class=c1 d="M3900 2112l-11 7 11 7 11-7z"/><path class=c3 d="M4001 2095l-12 10 11 6 12-9z"/><path class=c2 d="M3789 2109l-11 5 10 6 12-4z"/><path class=c5 d="M4290 2066l-11 9 11 8 12-9z"/><path class=c8 d="M4380 2027l-11 15 11 9 11-15z"/><path class=c4 d="M4101 2079l-11 8 11 7 11-8z"/><path class=c16 d="M4437 1927l-12 23 12 10 11-22z"/><path class=c1 d="M3923 2111l-12 8 11 6 11-8z"/><path class=c2 d="M3767 2107l-12 4 11 6 12-3z"/><path class=c4 d="M4123 2078l-11 8 11 7 11-8z"/><path class=c5 d="M4313 2064l-11 10 11 8 11-10z"/><path class=c3 d="M4023 2093l-11 9 10 7 12-9z"/><path class=c2 d="M3945 2109l-12 8 11 7 12-8zM3745 2104l-12 3 10 7 12-3z"/><path class=c4 d="M4146 2077l-12 8 11 7 12-7z"/><path class=c7 d="M4369 2042l-12 14 12 9 11-14z"/><path class=c4 d="M4168 2077l-11 8 11 7 11-8z"/><path class=c18 d="M4449 1903l-12 24 11 11 12-24z"/><path class=c3 d="M4045 2091l-11 9 11 6 11-8z"/><path class=c6 d="M4335 2060l-11 12 11 8 11-11z"/><path class=c4 d="M4190 2077l-11 7 11 8 11-8z"/><path class=c12 d="M4425 1982l-11 19 11 10 12-20z"/><path class=c10 d="M4414 2001l-11 18 11 10 11-18z"/><path class=c3 d="M3722 2101l-12 3 11 7 12-4z"/><path class=c2 d="M3967 2107l-11 9 10 6 12-9z"/><path class=c4 d="M4212 2077l-11 7 11 8 12-8z"/><path class=c14 d="M4437 1960l-12 22 12 9 11-20z"/><path class=c4 d="M4235 2077l-11 7 11 8 11-8z"/><path class=c9 d="M4403 2019l-12 17 12 9 11-16z"/><path class=c3 d="M4067 2089l-11 9 11 6 11-8z"/><path class=c5 d="M4257 2076l-11 8 11 8 11-8z"/><path class=c2 d="M3989 2105l-11 8 11 7 11-9z"/><path class=c5 d="M4279 2075l-11 9 11 8 11-9z"/><path class=c6 d="M4357 2056l-11 13 12 8 11-12z"/><path class=c16 d="M4448 1938l-11 22 11 11 12-23z"/><path class=c1 d="M3867 2120l-12 6 11 6 11-6zM3844 2119l-11 5 10 7 12-5z"/><path class=c8 d="M4391 2036l-11 15 11 9 12-15z"/><path class=c4 d="M4090 2087l-12 9 11 6 12-8z"/><path class=c1 d="M3889 2119l-12 7 11 6 12-6zM3822 2118l-12 5 11 6 12-5z"/><path class=c5 d="M4302 2074l-12 9 12 8 11-9z"/><path class=c2 d="M4012 2102l-12 9 11 7 11-9z"/><path class=c1 d="M3911 2119l-11 7 10 6 12-7zM3800 2116l-12 4 11 7 11-4z"/><path class=c4 d="M4112 2086l-11 8 11 7 11-8z"/><path class=c5 d="M4324 2072l-11 10 11 8 11-10z"/><path class=c18 d="M4460 1914l-12 24 12 10 11-23z"/><path class=c2 d="M3778 2114l-12 3 10 7 12-4z"/><path class=c1 d="M3933 2117l-11 8 11 6 11-7z"/><path class=c4 d="M4134 2085l-11 8 11 7 11-8z"/><path class=c7 d="M4380 2051l-11 14 11 8 11-13z"/><path class=c3 d="M4034 2100l-12 9 11 6 12-9z"/><path class=c11 d="M4437 1991l-12 20 11 9 12-19z"/><path class=c10 d="M4425 2011l-11 18 11 9 11-18z"/><path class=c4 d="M4157 2085l-12 7 11 7 12-7z"/><path class=c2 d="M3755 2111l-12 3 11 7 12-4z"/><path class=c1 d="M3956 2116l-12 8 11 6 11-8z"/><path class=c13 d="M4448 1971l-11 20 11 10 11-20z"/><path class=c5 d="M4346 2069l-11 11 11 8 12-11z"/><path class=c4 d="M4179 2084l-11 8 11 7 11-7z"/><path class=c8 d="M4414 2029l-11 16 11 9 11-16z"/><path class=c4 d="M4201 2084l-11 8 11 7 11-7z"/><path class=c3 d="M4056 2098l-11 8 11 7 11-9z"/><path class=c4 d="M4224 2084l-12 8 11 7 12-7z"/><path class=c2 d="M3733 2107l-12 4 10 6 12-3z"/><path class=c15 d="M4460 1948l-12 23 11 10 12-22z"/><path class=c2 d="M3978 2113l-12 9 11 6 12-8z"/><path class=c4 d="M4246 2084l-11 8 11 7 11-7zM4268 2084l-11 8 11 7 11-7z"/><path class=c6 d="M4369 2065l-11 12 11 8 11-12z"/><path class=c3 d="M4078 2096l-11 8 11 7 11-9z"/><path class=c7 d="M4403 2045l-12 15 12 9 11-15z"/><path class=c4 d="M4290 2083l-11 9 12 7 11-8z"/><path class=c2 d="M4000 2111l-11 9 11 6 11-8z"/><path class=c17 d="M4471 1925l-11 23 11 11 11-24z"/><path class=c4 d="M4313 2082l-11 9 11 8 11-9z"/><path class=c3 d="M4101 2094l-12 8 11 7 12-8z"/><path class=c1 d="M3855 2126l-12 5 11 6 12-5zM3877 2126l-11 6 10 6 12-6zM3833 2124l-12 5 11 6 11-4zM3900 2126l-12 6 11 7 11-7z"/><path class=c2 d="M4022 2109l-11 9 11 6 11-9z"/><path class=c5 d="M4335 2080l-11 10 11 8 11-10z"/><path class=c1 d="M3810 2123l-11 4 10 6 12-4zM3922 2125l-12 7 11 6 12-7z"/><path class=c4 d="M4123 2093l-11 8 11 7 11-8z"/><path class=c6 d="M4391 2060l-11 13 11 9 12-13z"/><path class=c2 d="M3788 2120l-12 4 11 6 12-3z"/><path class=c4 d="M4145 2092l-11 8 11 7 11-8z"/><path class=c1 d="M3944 2124l-11 7 10 7 12-8z"/><path class=c3 d="M4045 2106l-12 9 11 7 12-9z"/><path class=c5 d="M4358 2077l-12 11 12 8 11-11z"/><path class=c4 d="M4168 2092l-12 7 12 7 11-7z"/><path class=c2 d="M3766 2117l-12 4 10 6 12-3z"/><path class=c4 d="M4190 2092l-11 7 11 7 11-7z"/><path class=c1 d="M3966 2122l-11 8 11 6 11-8z"/><path class=c4 d="M4212 2092l-11 7 11 7 11-7zM4235 2092l-12 7 12 7 11-7z"/><path class=c3 d="M4067 2104l-11 9 11 6 11-8z"/><path class=c4 d="M4257 2092l-11 7 11 7 11-7z"/><path class=c2 d="M3743 2114l-12 3 11 7 12-3z"/><path class=c5 d="M4380 2073l-11 12 11 8 11-11z"/><path class=c4 d="M4279 2092l-11 7 11 7 12-7z"/><path class=c2 d="M3989 2120l-12 8 11 7 12-9z"/><path class=c4 d="M4302 2091l-11 8 11 8 11-8z"/><path class=c3 d="M4089 2102l-11 9 11 6 11-8z"/><path class=c4 d="M4324 2090l-11 9 11 7 11-8z"/><path class=c2 d="M4011 2118l-11 8 10 6 12-8z"/><path class=c3 d="M4112 2101l-12 8 11 7 12-8z"/><path class=c1 d="M3866 2132l-12 5 11 6 11-5zM3888 2132l-12 6 11 6 12-5z"/><path class=c4 d="M4346 2088l-11 10 12 7 11-9z"/><path class=c1 d="M3843 2131l-11 4 10 7 12-5zM3910 2132l-11 7 10 6 12-7z"/><path class=c2 d="M4033 2115l-11 9 11 6 11-8z"/><path class=c3 d="M4134 2100l-11 8 11 6 11-7z"/><path class=c1 d="M3821 2129l-12 4 11 6 12-4zM3933 2131l-12 7 11 7 11-7z"/><path class=c5 d="M4369 2085l-11 11 11 8 11-11z"/><path class=c4 d="M4156 2099l-11 8 11 6 12-7z"/><path class=c1 d="M3799 2127l-12 3 10 7 12-4zM3955 2130l-12 8 11 6 12-8z"/><path class=c4 d="M4179 2099l-11 7 11 7 11-7z"/><path class=c2 d="M4056 2113l-12 9 11 6 12-9z"/><path class=c4 d="M4201 2099l-11 7 11 6 11-6z"/><path class=c2 d="M3776 2124l-12 3 11 7 12-4z"/><path class=c4 d="M4223 2099l-11 7 11 7 12-7z"/><path class=c1 d="M3977 2128l-11 8 11 6 11-7z"/><path class=c4 d="M4246 2099l-11 7 11 7 11-7zM4268 2099l-11 7 11 7 11-7z"/><path class=c3 d="M4078 2111l-11 8 11 7 11-9z"/><path class=c4 d="M4291 2099l-12 7 12 8 11-7z"/><path class=c2 d="M3754 2121l-12 3 10 6 12-3z"/><path class=c4 d="M4313 2099l-11 8 11 7 11-8z"/><path class=c1 d="M4000 2126l-12 9 11 6 11-9z"/><path class=c4 d="M4335 2098l-11 8 12 8 11-9z"/><path class=c3 d="M4100 2109l-11 8 11 7 11-8z"/><path class=c2 d="M4022 2124l-12 8 11 7 12-9z"/><path class=c4 d="M4358 2096l-11 9 11 8 11-9z"/><path class=c3 d="M4123 2108l-12 8 11 6 12-8z"/><path class=c1 d="M3876 2138l-11 5 10 6 12-5zM3899 2139l-12 5 11 6 11-5zM3854 2137l-12 5 11 6 12-5zM3921 2138l-12 7 11 6 12-6z"/><path class=c3 d="M4145 2107l-11 7 11 7 11-8z"/><path class=c2 d="M4044 2122l-11 8 11 6 11-8z"/><path class=c1 d="M3832 2135l-12 4 11 7 11-4zM3943 2138l-11 7 11 6 11-7z"/><path class=c3 d="M4168 2106l-12 7 11 7 12-7z"/><path class=c1 d="M3809 2133l-12 4 11 6 12-4z"/><path class=c3 d="M4190 2106l-11 7 11 6 11-7z"/><path class=c1 d="M3966 2136l-12 8 11 6 12-8z"/><path class=c2 d="M4067 2119l-12 9 11 6 12-8z"/><path class=c3 d="M4212 2106l-11 6 11 7 11-6zM4235 2106l-12 7 12 6 11-6z"/><path class=c2 d="M3787 2130l-12 4 11 6 11-3z"/><path class=c3 d="M4257 2106l-11 7 11 7 11-7zM4279 2106l-11 7 12 7 11-6z"/><path class=c1 d="M3988 2135l-11 7 10 6 12-7z"/><path class=c3 d="M4302 2107l-11 7 11 7 11-7zM4089 2117l-11 9 11 6 11-8zM4324 2106l-11 8 11 7 12-7z"/><path class=c2 d="M3764 2127l-12 3 11 7 12-3z"/><path class=c4 d="M4347 2105l-11 9 11 7 11-8z"/><path class=c1 d="M4010 2132l-11 9 11 6 11-8z"/><path class=c3 d="M4111 2116l-11 8 11 6 11-8z"/><path class=c2 d="M4033 2130l-12 9 11 6 12-9z"/><path class=c3 d="M4134 2114l-12 8 12 6 11-7z"/><path class=c1 d="M3887 2144l-12 5 11 6 12-5z"/><path class=c0 d="M3909 2145l-11 5 11 6 11-5z"/><path class=c1 d="M3865 2143l-12 5 11 6 11-5z"/><path class=c3 d="M4156 2113l-11 8 11 6 11-7z"/><path class=c1 d="M3932 2145l-12 6 11 6 12-6z"/><path class=c2 d="M4055 2128l-11 8 11 6 11-8z"/><path class=c1 d="M3842 2142l-11 4 10 6 12-4zM3954 2144l-11 7 11 6 11-7z"/><path class=c3 d="M4179 2113l-12 7 12 6 11-7z"/><path class=c1 d="M3820 2139l-12 4 11 6 12-3z"/><path class=c3 d="M4201 2112l-11 7 11 7 11-7z"/><path class=c1 d="M3977 2142l-12 8 11 6 11-8z"/><path class=c3 d="M4223 2113l-11 6 11 7 12-7z"/><path class=c2 d="M4078 2126l-12 8 11 6 12-8z"/><path class=c3 d="M4246 2113l-11 6 11 7 11-6zM4268 2113l-11 7 11 7 12-7zM4291 2114l-11 6 11 7 11-6z"/><path class=c1 d="M3797 2137l-11 3 10 6 12-3z"/><path class=c3 d="M4313 2114l-11 7 11 7 11-7zM4336 2114l-12 7 12 7 11-7z"/><path class=c1 d="M3999 2141l-12 7 11 6 12-7z"/><path class=c2 d="M4100 2124l-11 8 11 6 11-8zM3775 2134l-12 3 11 6 12-3z"/><path class=c1 d="M4021 2139l-11 8 11 6 11-8z"/><path class=c3 d="M4122 2122l-11 8 11 6 12-8z"/><path class=c1 d="M4044 2136l-12 9 11 6 12-9z"/><path class=c3 d="M4145 2121l-11 7 11 6 11-7z"/><path class=c0 d="M3898 2150l-12 5 11 6 12-5zM3920 2151l-11 5 10 6 12-5z"/><path class=c3 d="M4167 2120l-11 7 11 6 12-7z"/><path class=c1 d="M3875 2149l-11 5 10 6 12-5z"/><path class=c0 d="M3943 2151l-12 6 11 6 12-6z"/><path class=c2 d="M4066 2134l-11 8 11 6 11-8z"/><path class=c1 d="M3853 2148l-12 4 11 6 12-4z"/><path class=c3 d="M4190 2119l-11 7 11 6 11-6z"/><path class=c0 d="M3965 2150l-11 7 10 5 12-6z"/><path class=c3 d="M4212 2119l-11 7 11 6 11-6z"/><path class=c1 d="M3831 2146l-12 3 10 6 12-3z"/><path class=c3 d="M4235 2119l-12 7 12 6 11-6zM4257 2120l-11 6 11 7 11-6zM4280 2120l-12 7 12 6 11-6z"/><path class=c1 d="M3987 2148l-11 8 11 6 11-8z"/><path class=c3 d="M4302 2121l-11 6 11 7 11-6z"/><path class=c2 d="M4089 2132l-12 8 11 6 12-8z"/><path class=c3 d="M4324 2121l-11 7 12 7 11-7z"/><path class=c1 d="M3808 2143l-12 3 11 6 12-3zM4010 2147l-12 7 11 6 12-7z"/><path class=c2 d="M4111 2130l-11 8 11 6 11-8zM3786 2140l-12 3 10 6 12-3z"/><path class=c1 d="M4032 2145l-11 8 11 5 11-7z"/><path class=c2 d="M4134 2128l-12 8 11 6 12-8z"/><path class=c3 d="M4156 2127l-11 7 11 7 11-8z"/><path class=c1 d="M4055 2142l-12 9 11 5 12-8z"/><path class=c3 d="M4179 2126l-12 7 11 6 12-7z"/><path class=c0 d="M3909 2156l-12 5 11 6 11-5zM3931 2157l-12 5 11 6 12-5zM3886 2155l-12 5 11 6 12-5zM3954 2157l-12 6 11 5 11-6z"/><path class=c3 d="M4201 2126l-11 6 11 7 11-7z"/><path class=c2 d="M4077 2140l-11 8 11 6 11-8z"/><path class=c1 d="M3864 2154l-12 4 11 6 11-4z"/><path class=c3 d="M4223 2126l-11 6 11 6 12-6z"/><path class=c0 d="M3976 2156l-12 6 11 6 12-6z"/><path class=c3 d="M4246 2126l-11 6 11 7 11-6z"/><path class=c1 d="M3841 2152l-12 3 11 6 12-3z"/><path class=c3 d="M4268 2127l-11 6 12 6 11-6zM4291 2127l-11 6 11 7 11-6zM4313 2128l-11 6 12 7 11-6z"/><path class=c2 d="M4100 2138l-12 8 11 6 12-8z"/><path class=c1 d="M3998 2154l-11 8 11 5 11-7zM3819 2149l-12 3 11 6 11-3zM4021 2153l-12 7 11 6 12-8zM3796 2146l-12 3 11 6 12-3z"/><path class=c2 d="M4122 2136l-11 8 11 6 11-8z"/><path class=c1 d="M4043 2151l-11 7 11 6 11-8z"/><path class=c2 d="M4145 2134l-12 8 12 6 11-7z"/><path class=c3 d="M4167 2133l-11 8 11 6 11-8z"/><path class=c1 d="M4066 2148l-12 8 11 6 12-8z"/><path class=c3 d="M4190 2132l-12 7 12 7 11-7z"/><path class=c0 d="M3919 2162l-11 5 11 6 11-5zM3942 2163l-12 5 11 6 12-6zM3897 2161l-12 5 11 5 12-4z"/><path class=c3 d="M4212 2132l-11 7 11 6 11-7z"/><path class=c0 d="M3964 2162l-11 6 11 6 11-6z"/><path class=c2 d="M4088 2146l-11 8 11 6 11-8z"/><path class=c1 d="M3874 2160l-11 4 10 5 12-3z"/><path class=c3 d="M4235 2132l-12 6 12 7 11-6zM4257 2133l-11 6 11 6 12-6zM4280 2133l-11 6 11 6 11-5zM4302 2134l-11 6 11 6 12-5z"/><path class=c0 d="M3987 2162l-12 6 11 6 12-7z"/><path class=c1 d="M3852 2158l-12 3 11 6 12-3z"/><path class=c2 d="M4111 2144l-12 8 12 6 11-8z"/><path class=c0 d="M4009 2160l-11 7 11 6 11-7z"/><path class=c1 d="M3829 2155l-11 3 10 6 12-3zM4032 2158l-12 8 11 6 12-8zM3807 2152l-12 3 11 6 12-3z"/><path class=c2 d="M4133 2142l-11 8 11 6 12-8zM4156 2141l-11 7 11 6 11-7z"/><path class=c1 d="M4054 2156l-11 8 11 6 11-8z"/><path class=c2 d="M4178 2139l-11 8 11 6 12-7z"/><path class=c1 d="M4077 2154l-12 8 11 6 12-8z"/><path class=c3 d="M4201 2139l-11 7 11 6 11-7z"/><path class=c0 d="M3930 2168l-11 5 10 6 12-5z"/><path class=c3 d="M4223 2138l-11 7 12 6 11-6z"/><path class=c0 d="M3953 2168l-12 6 11 5 12-5zM3908 2167l-12 4 11 6 12-4z"/><path class=c3 d="M4246 2139l-11 6 11 6 11-6z"/><path class=c1 d="M4099 2152l-11 8 11 6 12-8z"/><path class=c0 d="M3975 2168l-11 6 11 6 11-6zM3885 2166l-12 3 11 6 12-4z"/><path class=c3 d="M4269 2139l-12 6 12 6 11-6zM4291 2140l-11 5 11 7 11-6z"/><path class=c0 d="M3998 2167l-12 7 11 5 12-6z"/><path class=c1 d="M3863 2164l-12 3 11 6 11-4z"/><path class=c2 d="M4122 2150l-11 8 11 6 11-8z"/><path class=c0 d="M4020 2166l-11 7 11 5 11-6z"/><path class=c1 d="M3840 2161l-12 3 11 6 12-3zM3818 2158l-12 3 10 6 12-3z"/><path class=c2 d="M4145 2148l-12 8 11 6 12-8z"/><path class=c1 d="M4043 2164l-12 8 11 5 12-7z"/><path class=c2 d="M4167 2147l-11 7 11 6 11-7z"/><path class=c1 d="M4065 2162l-11 8 11 5 11-7z"/><path class=c2 d="M4190 2146l-12 7 12 5 11-6z"/><path class=c1 d="M4088 2160l-12 8 12 5 11-7z"/><path class=c2 d="M4212 2145l-11 7 11 5 12-6zM4235 2145l-11 6 11 6 11-6z"/><path class=c0 d="M3941 2174l-12 5 11 5 12-5zM3964 2174l-12 5 11 6 12-5zM3919 2173l-12 4 11 6 11-4z"/><path class=c2 d="M4257 2145l-11 6 11 6 12-6zM4280 2145l-11 6 11 6 11-5z"/><path class=c1 d="M4111 2158l-12 8 11 5 12-7z"/><path class=c0 d="M3986 2174l-11 6 11 5 11-6zM3896 2171l-12 4 11 6 12-4zM4009 2173l-12 6 11 6 12-7z"/><path class=c1 d="M3873 2169l-11 4 10 5 12-3z"/><path class=c2 d="M4133 2156l-11 8 11 5 11-7z"/><path class=c1 d="M3851 2167l-12 3 11 6 12-3z"/><path class=c0 d="M4031 2172l-11 6 11 6 11-7z"/><path class=c1 d="M3828 2164l-12 3 11 6 12-3z"/><path class=c2 d="M4156 2154l-12 8 12 5 11-7z"/><path class=c1 d="M4054 2170l-12 7 11 6 12-8z"/><path class=c2 d="M4178 2153l-11 7 11 5 12-7z"/><path class=c1 d="M4076 2168l-11 7 11 6 12-8z"/><path class=c2 d="M4201 2152l-11 6 11 6 11-7z"/><path class=c1 d="M4099 2166l-11 7 11 6 11-8z"/><path class=c2 d="M4224 2151l-12 6 12 6 11-6zM4246 2151l-11 6 11 6 11-6zM4269 2151l-12 6 12 6 11-6z"/><path class=c0 d="M3952 2179l-12 5 11 5 12-4zM3975 2180l-12 5 11 5 12-5zM3929 2179l-11 4 11 5 11-4z"/><path class=c1 d="M4122 2164l-12 7 11 6 12-8z"/><path class=c0 d="M3907 2177l-12 4 11 5 12-3zM3997 2179l-11 6 11 6 11-6z"/><path class=c1 d="M3884 2175l-12 3 11 6 12-3z"/><path class=c0 d="M4020 2178l-12 7 11 5 12-6z"/><path class=c2 d="M4144 2162l-11 7 11 6 12-8z"/><path class=c1 d="M3862 2173l-12 3 11 5 11-3z"/><path class=c0 d="M4042 2177l-11 7 11 5 11-6z"/><path class=c1 d="M3839 2170l-12 3 11 6 12-3z"/><path class=c2 d="M4167 2160l-11 7 11 6 11-8z"/><path class=c1 d="M4065 2175l-12 8 12 5 11-7z"/><path class=c2 d="M4190 2158l-12 7 11 6 12-7z"/><path class=c1 d="M4088 2173l-12 8 11 5 12-7z"/><path class=c2 d="M4212 2157l-11 7 11 6 12-7zM4235 2157l-11 6 11 6 11-6z"/><path class=c1 d="M4110 2171l-11 8 11 5 11-7z"/><path class=c2 d="M4257 2157l-11 6 12 5 11-5z"/><path class=c0 d="M3963 2185l-12 4 11 6 12-5zM3940 2184l-11 4 11 5 11-4zM3986 2185l-12 5 11 6 12-5z"/><path class=c1 d="M4133 2169l-12 8 12 5 11-7z"/><path class=c0 d="M3918 2183l-12 3 11 6 12-4zM4008 2185l-11 6 11 5 11-6z"/><path class=c1 d="M3895 2181l-12 3 11 5 12-3z"/><path class=c0 d="M4031 2184l-12 6 11 5 12-6z"/><path class=c2 d="M4156 2167l-12 8 11 5 12-7z"/><path class=c1 d="M3872 2178l-11 3 10 6 12-3z"/><path class=c0 d="M4053 2183l-11 6 11 5 12-6z"/><path class=c1 d="M3850 2176l-12 3 11 5 12-3z"/><path class=c2 d="M4178 2165l-11 8 11 5 11-7z"/><path class=c0 d="M4076 2181l-11 7 11 5 11-7z"/><path class=c2 d="M4201 2164l-12 7 12 5 11-6z"/><path class=c1 d="M4099 2179l-12 7 11 5 12-7z"/><path class=c2 d="M4224 2163l-12 7 12 5 11-6zM4246 2163l-11 6 11 5 12-6z"/><path class=c1 d="M4121 2177l-11 7 11 5 12-7z"/><path class=c0 d="M3974 2190l-12 5 11 5 12-4zM3951 2189l-11 4 10 6 12-4zM3997 2191l-12 5 11 5 12-5z"/><path class=c1 d="M4144 2175l-11 7 11 5 11-7z"/><path class=c0 d="M3929 2188l-12 4 11 5 12-4zM4019 2190l-11 6 11 5 11-6zM3906 2186l-12 3 11 6 12-3zM4042 2189l-12 6 11 6 12-7z"/><path class=c1 d="M4167 2173l-12 7 12 5 11-7zM3883 2184l-12 3 11 5 12-3z"/><path class=c0 d="M4065 2188l-12 6 11 6 12-7z"/><path class=c1 d="M3861 2181l-12 3 10 6 12-3z"/><path class=c2 d="M4189 2171l-11 7 11 5 12-7z"/><path class=c0 d="M4087 2186l-11 7 11 5 11-7z"/><path class=c2 d="M4212 2170l-11 6 11 6 12-7z"/><path class=c1 d="M4110 2184l-12 7 12 6 11-8z"/><path class=c2 d="M4235 2169l-11 6 11 6 11-7z"/><path class=c1 d="M4133 2182l-12 7 11 6 12-8z"/><path class=c0 d="M3985 2196l-12 4 11 5 12-4zM3962 2195l-12 4 11 5 12-4zM4008 2196l-12 5 11 5 12-5z"/><path class=c1 d="M4155 2180l-11 7 11 6 12-8z"/><path class=c0 d="M3940 2193l-12 4 11 5 11-3zM4030 2195l-11 6 11 5 11-5zM3917 2192l-12 3 11 5 12-3zM4053 2194l-12 7 12 5 11-6z"/><path class=c1 d="M4178 2178l-11 7 11 6 11-8zM3894 2189l-12 3 11 6 12-3z"/><path class=c0 d="M4076 2193l-12 7 11 5 12-7z"/><path class=c1 d="M3871 2187l-12 3 11 5 12-3z"/><path class=c2 d="M4201 2176l-12 7 12 6 11-7z"/><path class=c0 d="M4098 2191l-11 7 11 5 12-6z"/><path class=c2 d="M4224 2175l-12 7 12 5 11-6z"/><path class=c1 d="M4121 2189l-11 8 11 5 11-7zM4144 2187l-12 8 12 5 11-7z"/><path class=c0 d="M3996 2201l-12 4 11 5 12-4zM3973 2200l-12 4 12 5 11-4zM4019 2201l-12 5 11 5 12-5z"/><path class=c1 d="M4167 2185l-12 8 12 5 11-7z"/><path class=c0 d="M3950 2199l-11 3 11 5 11-3zM4041 2201l-11 5 11 5 12-5zM3928 2197l-12 3 11 5 12-3zM4064 2200l-11 6 11 4 11-5z"/><path class=c1 d="M4189 2183l-11 8 11 5 12-7zM3905 2195l-12 3 11 5 12-3z"/><path class=c0 d="M4087 2198l-12 7 12 5 11-7z"/><path class=c1 d="M3882 2192l-12 3 11 5 12-2z"/><path class=c2 d="M4212 2182l-11 7 11 5 12-7z"/><path class=c0 d="M4110 2197l-12 6 11 5 12-6z"/><path class=c1 d="M4132 2195l-11 7 11 4 12-6zM4155 2193l-11 7 11 5 12-7z"/><path class=c0 d="M4007 2206l-12 4 11 5 12-4zM3984 2205l-11 4 11 5 11-4z"/><path class=c1 d="M4178 2191l-11 7 11 5 11-7z"/><path class=c0 d="M4030 2206l-12 5 11 5 12-5zM3961 2204l-11 3 11 5 12-3zM4053 2206l-12 5 11 5 12-6zM3939 2202l-12 3 11 5 12-3zM4075 2205l-11 5 11 5 12-5z"/><path class=c1 d="M4201 2189l-12 7 12 5 11-7zM3916 2200l-12 3 11 5 12-3zM3893 2198l-12 2 11 6 12-3z"/><path class=c0 d="M4098 2203l-11 7 11 4 11-6z"/><path class=c1 d="M4121 2202l-12 6 12 5 11-7zM4144 2200l-12 6 12 5 11-6zM4167 2198l-12 7 11 4 12-6z"/><path class=c0 d="M4018 2211l-12 4 12 5 11-4zM3995 2210l-11 4 11 5 11-4z"/><path class=c1 d="M4189 2196l-11 7 11 4 12-6z"/><path class=c0 d="M4041 2211l-12 5 11 4 12-4zM3973 2209l-12 3 11 5 12-3zM4064 2210l-12 6 11 5 12-6zM3950 2207l-12 3 11 5 12-3z"/><path class=c1 d="M3927 2205l-12 3 11 5 12-3z"/><path class=c0 d="M4087 2210l-12 5 11 5 12-6z"/><path class=c1 d="M3904 2203l-12 3 11 5 12-3z"/><path class=c0 d="M4109 2208l-11 6 11 5 12-6z"/><path class=c1 d="M4132 2206l-11 7 11 5 12-7zM4155 2205l-11 6 11 5 11-7zM4178 2203l-12 6 12 5 11-7z"/><path class=c0 d="M4029 2216l-11 4 11 5 11-5zM4006 2215l-11 4 11 4 12-3zM4052 2216l-12 4 12 5 11-4zM3984 2214l-12 3 11 5 12-3z"/><path class=c1 d="M3961 2212l-12 3 11 5 12-3z"/><path class=c0 d="M4075 2215l-12 6 12 4 11-5z"/><path class=c1 d="M3938 2210l-12 3 11 5 12-3z"/><path class=c0 d="M4098 2214l-12 6 11 5 12-6z"/><path class=c1 d="M3915 2208l-12 3 11 5 12-3z"/><path class=c0 d="M4121 2213l-12 6 11 5 12-6z"/><path class=c1 d="M4144 2211l-12 7 11 4 12-6zM4166 2209l-11 7 11 5 12-7z"/><path class=c0 d="M4018 2220l-12 3 11 5 12-3zM4040 2220l-11 5 11 4 12-4zM3995 2219l-12 3 11 5 12-4zM4063 2221l-11 4 11 5 12-5z"/><path class=c1 d="M3972 2217l-12 3 11 5 12-3z"/><path class=c0 d="M4086 2220l-11 5 11 5 11-5z"/><path class=c1 d="M3949 2215l-12 3 11 5 12-3z"/><path class=c0 d="M4109 2219l-12 6 12 4 11-5z"/><path class=c1 d="M3926 2213l-12 3 11 4 12-2z"/><path class=c0 d="M4132 2218l-12 6 12 4 11-6z"/><path class=c1 d="M4155 2216l-12 6 12 5 11-6z"/><path class=c0 d="M4029 2225l-12 3 11 5 12-4zM4052 2225l-12 4 11 5 12-4zM4006 2223l-12 4 11 4 12-3zM4075 2225l-12 5 11 4 12-4z"/><path class=c1 d="M3983 2222l-12 3 11 4 12-2z"/><path class=c0 d="M4097 2225l-11 5 11 4 12-5z"/><path class=c1 d="M3960 2220l-12 3 11 4 12-2z"/><path class=c0 d="M4120 2224l-11 5 11 5 12-6z"/><path class=c1 d="M3937 2218l-12 2 11 5 12-2zM4143 2222l-11 6 11 5 12-6z"/><path class=c0 d="M4040 2229l-12 4 11 4 12-3zM4063 2230l-12 4 11 4 12-4z"/><path class=c1 d="M4017 2228l-12 3 11 5 12-3z"/><path class=c0 d="M4086 2230l-12 4 11 4 12-4z"/><path class=c1 d="M3994 2227l-12 2 11 5 12-3z"/><path class=c0 d="M4109 2229l-12 5 11 4 12-4z"/><path class=c1 d="M3971 2225l-12 2 11 5 12-3zM4132 2228l-12 6 12 4 11-5zM3948 2223l-12 2 11 5 12-3zM4051 2234l-12 3 12 4 11-3z"/><path class=c0 d="M4074 2234l-12 4 12 4 11-4z"/><path class=c1 d="M4028 2233l-12 3 12 4 11-3z"/><path class=c0 d="M4097 2234l-12 4 12 5 11-5z"/><path class=c1 d="M4005 2231l-12 3 12 4 11-2zM4120 2234l-12 4 12 5 12-5zM3982 2229l-12 3 11 4 12-2zM3959 2227l-12 3 11 4 12-2zM4062 2238l-11 3 11 5 12-4zM4085 2238l-11 4 11 4 12-3zM4039 2237l-11 3 11 4 12-3zM4108 2238l-11 5 11 4 12-4zM4016 2236l-11 2 11 5 12-3zM3993 2234l-12 2 12 5 12-3zM3970 2232l-12 2 12 5 11-3zM4074 2242l-12 4 11 4 12-4zM4097 2243l-12 3 12 5 11-4zM4051 2241l-12 3 11 4 12-2zM4028 2240l-12 3 11 4 12-3zM4005 2238l-12 3 11 4 12-2zM3981 2236l-11 3 11 4 12-2zM4085 2246l-12 4 12 4 12-3zM4062 2246l-12 2 12 5 11-3zM4039 2244l-12 3 11 4 12-3zM4016 2243l-12 2 11 4 12-2zM3993 2241l-12 2 11 4 12-2zM4073 2250l-11 3 11 3 12-2zM4050 2248l-12 3 12 4 12-2zM4027 2247l-12 2 12 4 11-2z"/><path class=c2 d="M4004 2245l-12 2 11 5 12-3z"/><path class=c1 d="M4062 2253l-12 2 11 4 12-3z"/><path class=c2 d="M4038 2251l-11 2 11 4 12-2zM4015 2249l-12 3 12 4 12-3zM4050 2255l-12 2 11 4 12-2zM4027 2253l-12 3 11 4 12-3zM4038 2257l-12 3 11 3 12-2z"/></g></g>
</svg></body></html>
